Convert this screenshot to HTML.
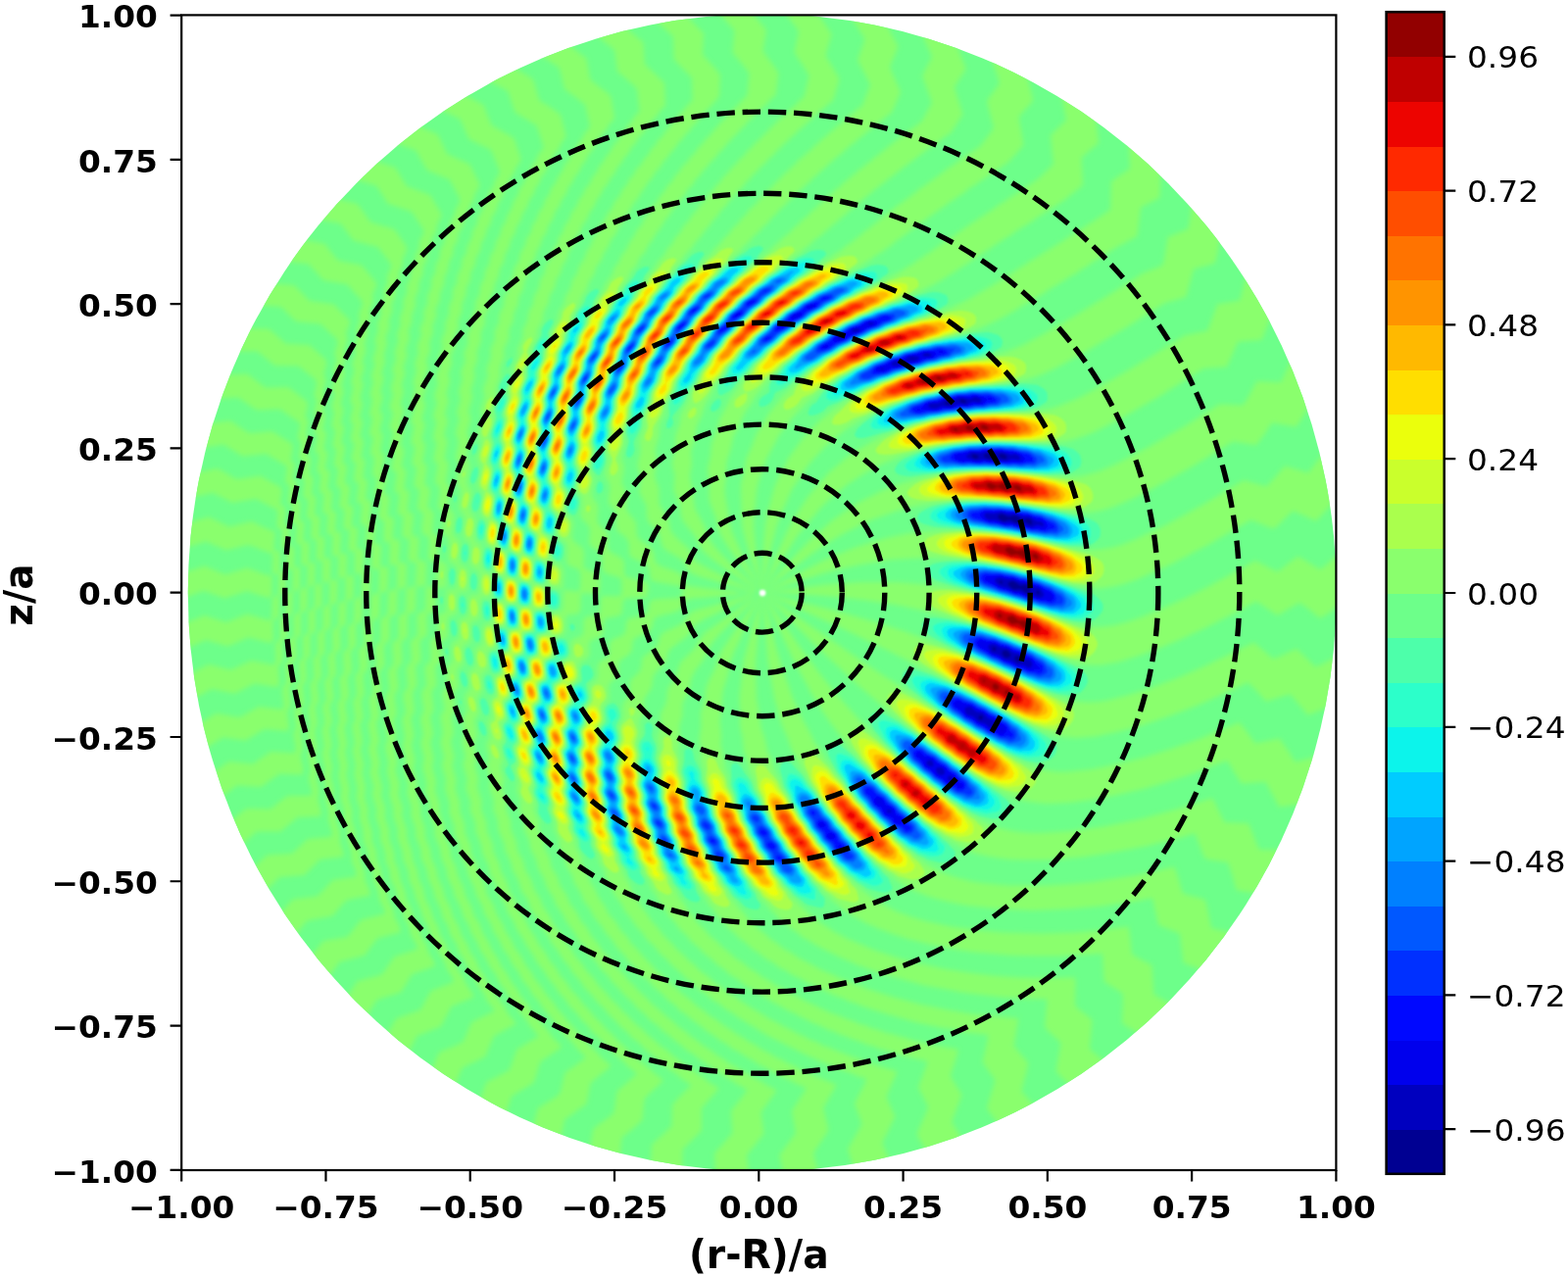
<!DOCTYPE html>
<html lang="en">
<head>
<meta charset="utf-8">
<title>Poloidal mode structure</title>
<style>
html,body{margin:0;padding:0;background:#fff;}
body{width:1600px;height:1302px;overflow:hidden;position:relative;}
svg{position:absolute;left:0;top:0;display:block;}
text{font-family:"DejaVu Sans","Liberation Sans",sans-serif;fill:#000;}
.tk text{font-size:32.8px;font-weight:bold;}
.cb text{font-size:32.8px;}
.lab{font-size:40.3px;font-weight:bold;}
</style>
</head>
<body>
<svg width="1600" height="1302" viewBox="0 0 1600 1302">
<defs>
<clipPath id="ax"><rect x="185.2" y="15.4" width="1178.2" height="1178.6"/></clipPath>
<filter id="wd" x="-1" y="-1" width="3" height="3"><feGaussianBlur stdDeviation="1"/></filter>
<filter id="s0" filterUnits="userSpaceOnUse" x="170" y="0" width="1210" height="1210"><feGaussianBlur stdDeviation="2.8"/></filter>
<filter id="sm" filterUnits="userSpaceOnUse" x="170" y="0" width="1210" height="1210"><feGaussianBlur stdDeviation="0.9"/></filter>
<clipPath id="disc"><ellipse cx="777.8" cy="604.7" rx="586" ry="590.5"/></clipPath>
</defs>

<g clip-path="url(#ax)">
<g clip-path="url(#disc)">
<rect x="180" y="10" width="1190" height="1190" fill="#6dff8a"/>
<g fill-rule="evenodd" stroke="none" filter="url(#s0)">
<path fill="#8aff6d" d="M732 11.5l1.5-1.5 31.5 0 16.5 20 .5 1-3.5 21 16 22.5-3 22.5-7 6-2 3-4 3-3.5 4.5-4 2.5-4 5-3.5 2.5-3.5 5-4 3-3.5 4.5-4 3.5-3 4-4.5 4-3.5 5-4 3-4 6-5 4.5-3 4.5-4.5 4-3 5-4.5 4-2.5 5-5 4.5-3.5 6-5.5 6-2.5 4.5-5 5.5-2.5 5-5.5 6-3 6-5 6-3 6-5 6-2.5 6-6.5 7.5-3 7.5-5.5 6-3 7.5-6 7.5-4 9-6.5 9-3 7.5-6.5 9-3 9-7.5 12-2.5 9-6 10.5-2.5 10.5-6 12-1 10.5-5.5 12-.5 3 .5 7.5-.5 3-4.5 13.5 0 3 1.5 6-.5 3-3 10.5-1 4.5 .5 3 2.5 6 .5 3-3 15 .5 3 4 6 .5 3-2 13.5 .5 3 1 3 6 6 1 3-1.5 13.5 .5 3 2 3 7 4.5 2.5 3 .5 4.5-.5 12 1 3 3 1.5 9 3 2.5 1.5 1 1.5 .5 4.5-.5 10.5-1 3-2 .5-13.5-1-2 .5-1 3 0 12-1 4.5-3 1.5-9.5 1-1.5 1.5-1 17-2 2-7.5 2.5-1.5 1-1 3.5 1 10.5-.5 3-2.5 2.5-6 3.5-1 1.5 1 15-1.5 2.5-4.5 3-1.5 2 0 3 1 12-1 2.5-4 3.5-1 3 2 13.5 0 1.5-4 4.5-.5 1.5 0 3 2.5 10.5-.5 3-3 4.5 0 3 3 10.5-.5 3-2 3 0 3 3 10.5 0 3-1.5 6 4 12-1.5 7.5 5 12-.5 7.5 5.5 12 .5 7.5 5.5 10.5 1.5 9 6.5 10.5 2 7.5 7 10.5 3.5 9 7 9 3.5 7.5 7.5 9 3.5 7 7 8 5 8 7 7 5 7.5 8 7.5 4 5.5 8.5 8 5 6 7 6 6.5 7 6.5 5 5.5 5.5 8.5 6.5 5 5 8 5.5 5.5 5 6 4 6 5 9 5.5 4.5 4 8.5 5 5 4 7 3.5 5 3.5 7.5 4 6 4 7.5 3.5 6 4 7.5 3.5 2 1.5-16 22.5 3 21-.5 1.5-17 21 2.5 21-29.5 0-1.5-1.5-3.5 0-1-21 18.5-21-1.5-22.5 16.5-21-1.5-1.5-9.5-5-5.5-4-6.5-3.5-5-4-7-4-6.5-5-7-4.5-5.5-4.5-8-5-6-5.5-6-4-5-5-7-5-5.5-5.5-8-6-5.5-6-8-6.5-4-5.5-8-6.5-5.5-7-6.5-6-5.5-7.5-7.5-7.5-3.5-6-7.5-8-5.5-8.5-6.5-7.5-4-7.5-7-9-4.5-9-6.5-9-3.5-9-6-9-3-9-6-10.5-2-9-5.5-10.5-1.5-9-5.5-12 .5-7.5-5-12 1-6 0-3-4-12 2-7.5-3.5-10.5 0-3 2-4.5 .5-3-2.5-10.5-.5-3 3-5 .5-2.5-2.5-13.5 1.5-3 3-3 .5-3-2-10.5 0-3 .5-1.5 4.5-4 .5-2-1.5-13.5 1-3 4.5-3 2-3-1-13.5 .5-3 1.5-1.5 6-2.5 1-2 .5-3-.5-12 1-3 2.5-1.5 6-1.5 1.5-1.5 .5-3 0-12 1-4 1.5-.5 9-1 1.5-.5 1-1.5 1-19.5 1-.5 13.5 1.5 1.5 0 1-2.5 .5-13.5-.5-4.5-2.5-2.5-9-3.5-2-1.5-.5-3 .5-12 0-4.5-2-3-6.5-4.5-1.5-2-.5-4 1-10.5 0-4.5-1.5-3-4-4.5-1.5-3 0-4.5 2.5-12-.5-3-3.5-6-1-3 3.5-16.5-3-10.5 .5-4.5 3.5-10.5 0-3-1-6 0-3 5-15-.5-7.5 .5-3 5.5-13.5 .5-7.5 .5-3 6-12 1.5-9 7-12 2-9 6.5-10.5 2.5-9 6.5-9 3-9 6-9 2.5-7.5 6-7.5 2.5-7.5 5.5-7.5 2-6 6-7.5 1.5-4.5 5.5-7.5 2.5-6 5.5-6 2.5-6 5-6 3-6 5.5-6 2-4.5 5.5-6 2.5-5 5.5-5.5 2-4.5 5-4.5 2.5-5 6-5.5 2.5-4.5 5-4.5 3-5 4.5-4 3-4.5 5-4.5 2.5-4 4-3.5 3.5-5 3.5-2.5 4-5.5 4.5-3.5 1.5-2.5 5.5-5 2-3 4-3 2.5-3 2-22.5-17-21 2-22.5zM799 10l23 0 1.5 1.5 9.5 0 14.5 21.5 1 2.5-6 21 14 24-6 21-2.5 3-3.5 2-3.5 4-4 2.5-3 3.5-4.5 3-2 3-5.5 4-3 3.5-4.5 3-2 3-5.5 4-2.5 3.5-5 3.5-3 4-4.5 3.5-3 4-4.5 3.5-3 4-4.5 3.5-4.5 5.5-4.5 3.5-2.5 4-5 4-3 5-5.5 4.5-3 4.5-5 4.5-4 6-5 4.5-2.5 4.5-6 6-2.5 4.5-5.5 5.5-4 6.5-6 6-2.5 4.5-7 7-3.5 6.5-6 6-5 7.5-7 7.5-3 6-8.5 9-4 7.5-7.5 9-4 9-8 10.5-3.5 9-6.5 9-3.5 10.5-6 10.5-2.5 10.5-6.5 13.5-1 10.5-5 12-.5 3 .5 9-4.5 13.5 0 3 2 9-3 12-.5 4.5 3.5 9 .5 3-2 10.5 0 4.5 1 3 4.5 6 1 3-1 12 .5 4.5 2 2.5 7 6.5 1.5 3-.5 12 1 3.5 3 3 8 4 4 3 1 3 0 12 .5 1 1.5 1.5 18 4.5 4 2 .5 3-.5 7.5-.5 3-2 1-4.5 .5-15 .5-2.5 1-1 3-.5 9-1 3-1.5 1.5-2.5 .5-12 2.5-2 3-.5 10.5-.5 3-3 2.5-7.5 2.5-3 2.5-.5 3 .5 9-1 3-1 1.5-7 4-1.5 1.5-.5 3.5 .5 9-.5 3-2 3-4 3-1.5 3 1 13.5-1.5 3-3.5 3-1.5 3 2 13.5-4.5 7.5 0 3 2 10.5-.5 3-2 3-1 3 3 12-2.5 9 3.5 12-1.5 7.5 3.5 12-1 7.5 4.5 10.5-.5 7.5 4.5 10.5 .5 7.5 5.5 10.5 1 7.5 5 9 3 9 6 9 3 7.5 6.5 9 3.5 7.5 8 9 4 7.5 7.5 7.5 3.5 6 7.5 7.5 5.5 7 7 6.5 5 6 9 7.5 6 6.5 7 5.5 5 5 7.5 5.5 7.5 7 5.5 3.5 6.5 5.5 8 5 7 5.5 6 3.5 7.5 5.5 6.5 3.5 5.5 4 7 3.5 8 5.5 7.5 3.5 6 4 5.5 2 6.5 4 8.5 3.5 3.5 2.5 9.5 3.5 4 2.5 23.5 9.5-1 3.5-12 20.5 5.5 22.5-15.5 24 5.5 21-13.5 0-1.5 1.5-21 0-4-21 16.5-22.5-4-22.5 14.5-22.5-1-1.5-8.5-3.5-7.5-4-6-2.5-5.5-3.5-8-3.5-3.5-2.5-8.5-4-5-3.5-10-5.5-5-3.5-7-3.5-4.5-4-9-5-4.5-4-7.5-4.5-7-6-8-5.5-5.5-5-8-5.5-4.5-5-7.5-5.5-6-6.5-7.5-6-5-6-7-5.5-6.5-8-7-6.5-5-7-7.5-7.5-4.5-7.5-7-7.5-4.5-7.5-7.5-9-4.5-9-6-7.5-2.5-7.5-7-10.5-2-7.5-6.5-10.5-1.5-9-5-9-.5-7.5-5-12 .5-7.5-4.5-10.5 0-3 1-3 0-3-4-10.5 .5-3 1.5-3 0-3-3-9-.5-3 2.5-7.5-3-12 .5-3 2.5-3.5 .5-2.5-2-13.5 0-1.5 4-4.5 .5-3-2-10.5 0-3 1-1.5 4-4 1-2 0-3-1.5-9 .5-3 1.5-2 5-4 1-1.5 0-3-.5-10.5 .5-2.5 2-2 5.5-3 1.5-1.5 .5-3-.5-10.5 1-3 2-1.5 7.5-2.5 2-2 1-3 0-11 1.5-3.5 3-1 8-1 3-1.5 1.5-3 .5-12 .5-3 3-.5 15 .5 2.5-1.5 .5-3 0-9-.5-4.5-2.5-1.5-13.5-4-2.5-2-1-3 0-13.5-1.5-3-8.5-5-2.5-2.5-1-3 1-10.5-.5-4.5-2-3-5.5-5.5-1.5-3.5 1.5-15-.5-3-4-6-1.5-3 0-3 3-13.5-1-3-2.5-6-.5-3 4-15-1.5-9 0-3 4.5-12 .5-3-.5-9 5.5-13.5 1-10.5 6-12 3-12 6-10.5 2.5-9 7-10.5 4.5-10.5 6.5-9 3.5-7.5 7-9 4.5-9 6.5-7.5 4-7.5 6.5-7.5 2.5-6 7-7.5 3-6 5.5-6 3-6 5.5-6 3-6 6-6 2-4.5 6-6 2.5-4.5 6-6 2.5-4.5 5-4.5 3-5 4.5-4 3-5 6-5.5 3-4.5 4-3 3.5-5 5-4 2.5-4 4.5-3.5 3-4 6-5 3-4 4.5-3.5 3-4 4.5-3.5 3-4 3.5-2 2.5-3.5 5.5-4 2-3 4.5-3 3-4 3-2 3-3 5-21-2-4-13-20 4.5-21-.5-1.5zM693 14.5l6 0 19 19.5-1 21 .5 1.5 13 14 4.5 6-1 22-2 3-4.5 4-2.5 3.5-5 4.5-1.5 3-4.5 3.5-3.5 5.5-4 3.5-2.5 4-5 4.5-2.5 4.5-5 4.5-2.5 4.5-5 5-3.5 5.5-4.5 4.5-2 4.5-6 6-2 4.5-5.5 6-2 4.5-4.5 5-2.5 5.5-5.5 6-2.5 6-5 6-2.5 6-5 6-2 6-6 7.5-2 6-5.5 7.5-1.5 6-5.5 7.5-2.5 7.5-5 7.5-2 7.5-5 7.5-3 9-5.5 9-2.5 9-6 10.5-2 9-5.5 10.5-2 10.5-6 12-1 10.5-5.5 13.5 0 10.5-4 10.5-1 4.5 1.5 7.5 0 3-3.5 10.5-1 4.5 2.5 10.5-3 16.5 .5 3 3.5 6 0 3-2 12-.5 4.5 1.5 3 4 4.5 1 3-1.5 18 1.5 3 6 4.5 2 3 0 4.5-1 12 .5 3 2 2 8.5 4 1.5 1.5 1 3-.5 18-1.5 1.5-13.5-2.5-1.5-.5 1-18-.5-4.5-2-2.5-7.5-3.5-2-3 1-16.5-.5-3-1.5-2.5-4.5-4-2-2.5 0-4.5 1.5-10.5 0-4.5-1.5-3-3.5-4.5-1-3 2.5-16.5 0-3-4-7.5 .5-4.5 3.5-13.5-2.5-7.5 0-3 4-15-1-10.5 5-15-.5-7.5 .5-3 5-12 1-10.5 5.5-12 1-9 6.5-12 .5-7.5 6.5-12 1-7.5 5.5-9 1.5-7.5 5.5-9 1.5-7.5 5-7.5 1.5-6 6-9 1.5-6 5-7.5 2-6 5.5-7.5 2-6 4.5-6 2.5-6 5-6 2-6 5.5-6 2.5-6 5-6 2.5-5.5 5-5 1.5-4.5 6-6 2-4.5 4.5-4.5 3.5-6.5 4.5-4 2-4.5 5-4.5 2.5-4.5 4.5-4.5 2.5-4.5 5-4.5 2.5-4 5-5 2.5-4 5.5-5 .5-1.5-.5-21-.5-1.5-17.5-18-.5-1.5-.5-21-1.5-2.5-18-16.5 0-.5 6 0 1.5-1.5 7.5 0 1.5-1.5 7.5 0zM868 16l3.5 0 1.5 1.5 7.5 0 1.5 1.5 6 0 1.5 1.5 6 0 1.5 1.5 6 0 13.5 25.5-8.5 21 11 25.5-9 21-5.5 3.5-4 4-3.5 2-2 2.5-4 2.5-3.5 3.5-4 2.5-3.5 3.5-4 2.5-3 3.5-4.5 2.5-3 3.5-4.5 3-2.5 3-5 3.5-4 4-3.5 2.5-3 3.5-6 4.5-2.5 3-5 3.5-3 4-4.5 3-4 4.5-5 4-2.5 3.5-6 4.5-3.5 4.5-4.5 3.5-4.5 5.5-4.5 3.5-4 5.5-5 4-4 5-5.5 4.5-4.5 6-5.5 4-5 6.5-6 4.5-5 6-7 6-5 6-8 7-5 6.5-8 7.5-5.5 7.5-7.5 7.5-6 9-7 7.5-4.5 9-7.5 9-4.5 10.5-6.5 9-3.5 10.5-7 12-2 10.5-6 12-1 12-4.5 12 .5 12-3.5 13.5 0 3 2.5 7.5 .5 3-2.5 13.5 .5 3 4 7.5 1 3-1 12 .5 3 1.5 3 6.5 7.5 1.5 3 1 13.5 2.5 3.5 10 7 3 3 1.5 3 1.5 9 2 3 4.5 2.5 14.5 5 5.5 3 2 3 2 7.5 1.5 1 21 3 9 .5 7.5 1 10 .5 5 1.5 13.5 0 .5-1.5-5 0-1-1.5-5 0-.5-1.5-4 0-1.5-.5 0-1-4.5 0-1.5-1.5-4.5-.5-1-1-3.5 0-1.5-.5-.5-1-4-.5-1.5-1-3-.5-2-1-4-.5-1.5-1-3-.5-7.5-3-3-2-1.5-2-2.5-6-2-3-4-3-14-8-3.5-4-3.5-13.5-2.5-3-7-7-2.5-3.5-.5-3-.5-12-5.5-10-1.5-3.5 0-3 1.5-12-3-9-.5-4.5 3-13.5-1-12 4.5-12 0-10.5 1-3 5.5-12 2-10.5 6-10.5 3.5-10.5 7.5-10.5 3.5-9 7.5-9 5-9 8-9 5-7.5 8-7.5 5.5-7.5 8.5-7.5 6-7 8-6.5 5.5-6 8-6 5.5-5.5 6.5-5 5.5-5.5 6.5-5 4-4.5 6-4.5 4.5-5 5.5-4 5-5.5 4.5-3.5 4.5-5 5.5-4 3.5-4.5 4.5-3 3-4 5-3.5 4-4.5 4.5-3 3-3.5 5.5-4 3.5-4 3.5-2 4-4 5-3.5 2.5-3 5-3 2.5-3 5-3 4-4 3.5-2 4-4 3.5-2 2.5-3 5-3 2.5-2.5 5.5-3.5 2-2.5 4-2 3.5-3.5 4-2.5 2-2 6-4 10.5-19.5-10-27 10-19.5-2.5-6-9-19.5 4 0 1.5 1.5 4.5 0 1.5 1.5 3 0 1.5 1.5 3 0 1.5 1.5 3 0 1.5 1.5 3 0 1.5 1.5 3 0 1.5 1.5 1.5 0 10.5 26.5-.5 2-10 15.5-1 2.5 8.5 27-11.5 18-1 1.5-5.5 3-9 7.5-4.5 2.5-2 2-5.5 3.5-2.5 2.5-3.5 2-2.5 2.5-5 3-3 3-4.5 2.5-3.5 3.5-4 2.5-3.5 3.5-4 2-4 4-3.5 2-4 4-3.5 2-4 4-3.5 2-4 4-5 3.5-3.5 4-5.5 3.5-3.5 4-4 2.5-5 5-4 2.5-4.5 5-4.5 3-4.5 4.5-6 4-4.5 5-6 4-3.5 3.5-7 4.5-6.5 6-7 4.5-5 4.5-8.5 5.5-5 5-9 6-5.5 6-9 6.5-6 7-7.5 6-6 7.5-8 7.5-6.5 9-7 7.5-5 9-7.5 9-4.5 10.5-6.5 9-3 10.5-6 10.5-1.5 3-1 9-5.5 12-.5 12-4 13.5 2 13.5-2.5 13.5 1 4 3.5 9.5 0 13.5 1.5 4.5 8 12 2 11 1.5 3.5 3 3.5 13.5 12 2 3 4 8 3 3.5 13.5 7.5 7.5 3.5 1.5 1 1.5 .5 1.5 1 2 .5 1 1 2 .5 1 1 2 .5 1 1 2.5 .5 .5 1 2.5 .5 .5 1 3 .5 1.5 1.5 1.5 0 1.5 1.5 2 0 1 1.5 2 0 1 1.5 3 0 0-1.5-1.5-1.5-1.5 0-3-3-1.5 0-3-3-1.5-.5-3-2.5-1.5-.5-21-15-7.5-6-6-5.5-8-15-10-12.5-2.5-4-1.5-4.5-1-10.5-5.5-12-1-4.5 1-13.5-2.5-10.5 0-4.5 3-12 0-13.5 4.5-12 1.5-10.5 6.5-12 2.5-9 1-3 6.5-9 3.5-9 8-10 5.5-9.5 7.5-7.5 5-7.5 9-8.5 5-6.5 9.5-7.5 5.5-6 8.5-6.5 6-5.5 9.5-6 5.5-5 9-5.5 6-4.5 8-4.5 5.5-4.5 8-4.5 4-3.5 7-4 5-4.5 5.5-3 5-4.5 7-4.5 3.5-3.5 4-2.5 5-5 4.5-2.5 3-3 6.5-4.5 2.5-3 5-3 4-4 3.5-2 4-4 4-2 3.5-3.5 4.5-2.5 4.5-4 3.5-2 4-4 4-2 2-2 4-2.5 5-4 3.5-2 2.5-2.5 3.5-2 4-3.5 4.5-2.5 3-2.5 3.5-2 2.5-2.5 4-2 3.5-3 11.5-7.5 13.5-18 0-3-6.5-25.5 13-18-8.5-27 2.5 0 1.5 1.5 1.5 0 1.5 1.5 1.5 0 1.5 1.5 1.5 0 1.5 1.5 3 0 1.5 1.5 1.5 0 1.5 1.5 1.5 0 1.5 1.5 1.5 0 1.5 1.5 1.5 0 1.5 1.5 1.5 0 1.5 1.5 1.5 0 2 3 6.5 25.5 0 1.5-14.5 16.5 5 28.5-16 18-4 2-2.5 2.5-11 6.5-2.5 2.5-3.5 2-3 2.5-4.5 2.5-2 2-4 2-11 8.5-4 2-2.5 2.5-5 2.5-3.5 3.5-4 2-2.5 2.5-5 3-3.5 3-4 2.5-4 3.5-5 3-3.5 3-4 2.5-4 3.5-5 3-3 3-4.5 2.5-3.5 3.5-7 4.5-3.5 3-5.5 3-5.5 4.5-5 2.5-4.5 3.5-7.5 4-5 3.5-7 3.5-6 4-7.5 3.5-6 4-9 4.5-6 4.5-9 5-7 5.5-8 4.5-6.5 6-9 6-7 7-8 6.5-6.5 7.5-8 7.5-5.5 7.5-8 9-5 9-7.5 9-4 10-6.5 9.5-3.5 12-5 10.5-2 13.5-4 12 1 13.5-2 10.5 0 4.5 3.5 13.5 1 12 1 5.5 8.5 15.5 5 13 3 5.5 6 7.5 7.5 8 32 30.5-.5 1.5-3 0 1.5 1.5 1.5 0 0-1.5 1.5 0 0 1.5-1.5 0 0 1.5-3.5 0 .5 1.5-13.5 0-1.5 .5-.5 1-11.5 .5-4 1-9.5 .5-8.5 1-11 .5-7.5 1.5-1.5 1.5-2 5.5-2.5 3-7 3-11 2.5-7.5 2.5-2 2.5-1.5 7.5-1.5 3-4.5 3-11.5 5-1.5 1.5-1 2.5-.5 7.5-1 3-3 3-6.5 4-2 2-1.5 3 0 9-.5 3-2.5 3-5.5 4.5-1 1.5-.5 3 .5 10.5-1 3-4.5 4.5-1 3 1.5 12-1 3-4 6 0 3 2 10.5-3.5 9 3 12-2.5 9 3 10.5 0 3-1 6 3.5 10.5-.5 9 4 9 .5 3-.5 6 4.5 9 .5 9 5 9 1 7.5 4.5 7.5 2 7.5 5.5 9 2.5 7.5 6 7.5 3 7.5 6.5 7.5 4.5 7.5 7 7.5 4.5 6.5 7.5 7 5 6 8.5 7.5 4.5 5 7 5.5 6.5 6.5 8 5.5 5.5 5.5 8 5 5.5 5 9.5 5.5 4 3.5 30 18.5 7.5 3.5 6 4 5 2 10 5.5 5.5 2 6.5 4 6.5 2 7 4 7 2 5 2.5 40.5 15 23 6.5-2 5.5-9 20 1.5 4.5 7.5 16.5-13 25.5 1 4.5 7 16.5-4 0-1.5 1.5-6 0-1.5 1.5-6 0-1.5 1.5-6 0-1.5 1.5-7.5 0-1.5 1.5-6.5-21 14.5-25.5-7.5-21 12-24-.5-1.5-7.5-2-9-4-7.5-2.5-4.5-2-6-2-28.5-12.5-37.5-19-30-18.5-4.5-3.5-9-5.5-6-5-7.5-4.5-4.5-4.5-9-6-6-6-7.5-5.5-4.5-5-9-7.5-5-6-7-6-6-7.5-7.5-7-4.5-6.5-7-7.5-4.5-7.5-6.5-7.5-3.5-7.5-7-9-2.5-7.5-6-9-1.5-7.5-5.5-9-1-7.5-5-9-.5-9-4.5-9 .5-6-.5-3-4-9 1-9-4-10.5 1.5-6 0-3-3-10.5 2.5-9-3-12 3.5-9-2.5-10.5 .5-3 3.5-6 1-3-1.5-12 1-3 4-4.5 1.5-3-1-12.5 1.5-3 5.5-4 1.5-3 0-10.5 .5-3.5 2.5-2.5 5.5-3 3-3 .5-3 0-7.5 .5-3 3-3 8.5-3 3.5-3 1-3 .5-7.5 1.5-3.5 3-1.5 12.5-2.5 3.5-1.5 2-3 1.5-9 1.5-2 4.5-1 23.5-1.5 3-1.5 1.5-4.5-.5-3-.5-1.5-2-1.5-23.5-4-6-2-1-3-1-9-1.5-3-5.5-3-9-4-3-2-1.5-3.5-.5-11.5-3-4.5-7-5.5-2-2-1-4.5 .5-9 0-3-1.5-3-5-6-1.5-3 0-4.5 1.5-10.5-.5-3-3.5-7.5-1-3 3-15-2-9 0-3 4-13.5-.5-12 5-12 1-12 6-12 2.5-10.5 7-12 3.5-10.5 6-9 4-9 8-10.5 3.5-7.5 8-9 5.5-9 7-7.5 5-7.5 8-7.5 4.5-7 7-6.5 5-7 6-5 4-6 6.5-6 3-4.5 6.5-6 2.5-4.5 6.5-6 3-4.5 5-4.5 3.5-5 6.5-5.5 2.5-4 4.5-3.5 4.5-6 4-3 3.5-4.5 5.5-4.5 3.5-4.5 4-3 3.5-4 4.5-3.5 3-4 5-3.5 2.5-3 6-4.5 3-4 3.5-2 4-4.5 4.5-3 3-3.5 4-2.5 3.5-4 3.5-2 4-4 3-2 3-3.5 4.5-2.5 3-3.5 4-2.5 1.5-1.5 8-21-13-25.5 7.5-21zM633 26.5l4.5 .5 18 15.5 1 2 1.5 21 18.5 17.5 1.5 2 1 21-1 3-4.5 4-3 5-4.5 4.5-2.5 4.5-5 5-2 4-4 3.5-3 5.5-5.5 6-2 4.5-5.5 6-2 4.5-4.5 5-2.5 5.5-5 6-2 4.5-5 6-2.5 6-4.5 6-2.5 6-4.5 6-2 6-5.5 7.5-2 6-4.5 6-2.5 7.5-5 7.5-1 6-5 7.5-2 7.5-4.5 7.5-1.5 7.5-5.5 9-.5 6-5.5 10.5-.5 7.5-5.5 10.5-.5 7.5-5.5 10.5-.5 3 0 6-6 13.5 0 9-5.5 13.5 .5 9-5 15 1.5 7.5-.5 3-4 15 2 10.5-3.5 16.5 .5 3 2.5 4.5 1 3-2.5 13.5-.5 4.5 1.5 3 3.5 4.5 .5 3-2 18 1.5 3 5.5 4.5 1 3-1 15 0 4.5 2.5 2.5 6.5 3.5 1.5 3 0 21 1 1.5 13 3 .5 1.5 0 18-1.5 3.5-1.5 1-9 .5-1.5 1-.5 3 .5 13.5-1 3-2 1.5-6 1-1.5 1-1 4 1 10.5-.5 4.5-1.5 1.5-5.5 2-1.5 2.5 1 13.5-.5 3-1 1.5-5 3-1 1.5 0 3 1.5 10.5 0 3-1 1.5-3.5 3-1.5 3 2 13.5-1 3-3 3-.5 1.5 0 3 2.5 12-1 2.5-2.5 3.5 0 1.5 3 13.5-.5 2.5-2.5 5 4 13.5-2 7.5 .5 3 4 10.5-.5 9 4.5 12 .5 9 5.5 12 1 9 6 10.5 2 9 6 10.5 3 9 6.5 10.5 2.5 7.5 7.5 10.5 3 7.5 7 9 4 7.5 7.5 9 4 7.5 7 7.5 4.5 7 7.5 8 4.5 6.5 7 7 6.5 8 6 5.5 4.5 5.5 7.5 6.5 6 7 6.5 5 5.5 5.5 8 6.5 5.5 5.5 7.5 5 6 5.5 5 3.5 8.5 7 6 3.5 4.5 4 8 5 4 3.5 9.5 5.5 1 1.5-17.5 19.5 0 22.5-.5 1-18.5 18.5-.5 1.5 0 21-2 0-1.5-1.5-9 0-1.5-1.5-7.5 0-1.5-1.5-6 0-1.5-1.5-2 0 1-21 19-17.5 1.5-2 .5-21 1-1.5 16.5-17 1-1 0-1.5-10-6.5-4-4-8-5-5.5-5.5-5-3.5-8-7-7-5.5-4.5-5-7.5-5.5-4-5-8-6.5-4.5-5.5-7.5-7-5-6.5-7-6.5-5.5-7-6.5-6.5-4.5-7-7.5-8-4-7-6.5-7.5-4.5-7.5-7-9-3.5-7.5-8-10.5-3-7.5-6.5-9-3-9-7-10.5-2.5-9-6.5-12-1.5-7.5-6-12-1-7.5-6-13.5-.5-9-4.5-12 .5-9-4.5-13.5 1-6 0-3-3-10.5-.5-3 2.5-7.5-3-12 0-3 3-4.5 .5-3-2.5-13.5 .5-2 3-3 1-2.5-2-15 1-2 4.5-4 .5-1.5-1.5-13.5 .5-3 1-1.5 4-2 1.5-2.5-.5-16.5 .5-1.5 6-2.5 1.5-2 0-18 1.5-1.5 7-1.5 1.5-1.5 .5-3 0-12 .5-4.5 1-1 1.5-.5 8 0 1.5-1.5 .5-3 0-18-1-1.5-10.5-3-1.5-1.5 .5-19.5-.5-3-1.5-2-6.5-4-1.5-1.5-.5-4.5 1.5-12 0-4.5-2-3-3.5-3-1.5-3 0-4.5 1.5-10.5 0-4.5-1-3-4-6 0-4.5 3-13.5-.5-3-2.5-4.5-.5-3 .5-4.5 3-12 0-3-2-4.5-.5-3 4.5-15 0-3-1-4.5-.5-3 5-13.5-.5-10.5 5-12 0-3-.5-6 5-12 .5-9 5-10.5 0-7.5 5-10.5 .5-7.5 5-9 1-7.5 5-9 1-7.5 4.5-7.5 1.5-7.5 5-7.5 1-6 5.5-9 1.5-6 4.5-6 1.5-6 5.5-7.5 1.5-6 5-6 2-6 5.5-7.5 1.5-4.5 5-6 2.5-6.5 5-5.5 1.5-4.5 5-6 2-4.5 5-6 2.5-5 5-5.5 2.5-5 4-4 3.5-6 4-4.5 2-4 6-6.5-2.5-22.5-5-5.5-15-12.5-3-22-21-17 4.5 0 1.5-1.5 3 0 1.5-1.5 4.5 0 1.5-1.5 3 0 1.5-1.5 4.5 0zM576 44.5l3 .5 19.5 14.5 3.5 21 1 1.5 16.5 12.5 4 4 3.5 21-1 3-5 5-1.5 4-5.5 6-2 4.5-4.5 5-2.5 5.5-5 6-1.5 4.5-5 6-2.5 6-4.5 5.5-2 5-4.5 6-2 6-5.5 7.5-1 4.5-5.5 7.5-1.5 6-5 7.5-1.5 6-5 7.5-1.5 6-4.5 7.5-1 6-5.5 9-.5 6-5 9-.5 4.5-.5 3-5 9 0 6-5 10.5 0 4.5-.5 3-4.5 9 .5 7.5-5.5 12 .5 7.5-4.5 12 .5 7.5-4.5 13.5 1 6 0 3-4.5 13.5 0 3 1.5 4.5 0 3-4 13.5 0 3 2 4.5 0 3-3.5 16.5 .5 3 2.5 4.5 .5 3-3 16.5 .5 3 3.5 4.5 1 3-2 15 0 4.5 .5 1.5 5 4.5 1 3-1 19.5 1.5 3 5.5 3 2 3-1 19.5 .5 3 2.5 1.5 8 2.5 1.5 1.5 0 19-.5 2.5-1 1.5-9 0-1.5 1-.5 20-1 1.5-7.5 1.5-1.5 1.5 0 18.5-1.5 2-6 2-.5 1.5 .5 16.5-1.5 3-3.5 1.5-1.5 1.5-.5 3 1.5 13.5-.5 2-4.5 4-.5 1.5 2 15-1 3-3 3-.5 1.5 0 3 2.5 12-1 3-2.5 4.5 0 3 3 12-2 9 3.5 13.5-1 9 4.5 13.5-.5 9 5.5 13.5 .5 9 5.5 12 1 9 6 12 1.5 7.5 6.5 12 2.5 9 6.5 10.5 2.5 7.5 7 10.5 4 9 6.5 9 3.5 7.5 7 9 4 7.5 6.5 7.5 4 7.5 7 7.5 5 8 7 7 5 7 6.5 6.5 4 5.5 7 6.5 5 6 8.5 7.5 5 6 7 6 3.5 4 8.5 6.5 5 5.5 7 5 5 5 9.5 7-2 2.5-16.5 15.5-1 1.5-2 21.5-10.5 9.5-10.5 8-2 21-4 0-1.5-1.5-4.5 0-1.5-1.5-4.5 0-1.5-1.5-3 0-1.5-1.5-3 0-1.5-1.5-4.5 0 3.5-21 .5-1.5 17-12.5 4-4 3-21 1-1.5 19.5-16.5-3-3-6.5-5-5-5.5-7-5.5-4-5-8-6.5-4-5.5-8-7-5-6.5-7-7-3.5-5-7-7-5.5-8-6.5-7-4-6.5-7.5-9-3.5-6-7-9-4-7.5-6.5-9-3.5-7.5-6.5-9-3.5-9-6-9-3-9-7-12-2-7.5-6-10.5-1.5-9-6-12-1.5-9-5.5-13.5-.5-9-5.5-13.5 1-6-.5-3-4.5-12 0-3 1-4.5 0-3-3-10.5-1-4.5 2-6 0-3-3-13.5 .5-3 2-3 .5-3-2.5-15 .5-1.5 3-3.5 1-2.5-2-13.5 0-3 1-1.5 3.5-3 1-1.5-1.5-15 .5-3 1-1 4-2 1-1.5 .5-3-1-15 1.5-2 6-2 .5-2 0-18 1-1.5 7.5-1.5 1-1.5 .5-19.5 1.5-2 9 .5 1-1.5 .5-3 0-18.5-1.5-1.5-9-4-1-3 1-19.5-1.5-2.5-5-3.5-2-3 1.5-19.5-1.5-3-4.5-4.5-.5-1.5 0-4.5 2-15-1-3-3.5-4.5-.5-3 3-16.5-.5-3-2.5-4.5-.5-3 4-15-.5-3-2.5-6 .5-3 4-13.5-2-7.5 1-4.5 3-9 0-3-1.5-6 5-13.5-1.5-7.5 4.5-12-.5-7.5 4.5-10.5-.5-7.5 5-10.5-.5-6 5-10.5 .5-7.5 4.5-9 .5-6 4.5-9 .5-6 5.5-9 .5-6 5.5-9 1-6 5-7.5 1-6 5-7.5 1.5-6 4.5-6 1.5-6 5.5-7.5 1-4.5 5.5-7.5 1.5-4.5 5.5-7.5 1.5-5 4.5-5.5 1.5-4.5 5-6 2.5-5.5 4.5-5 1.5-4.5 5-6 1.5-3-5-22-21-15.5-5-21-2.5-2.5-19.5-12.5 1.5 0 1.5-1.5 3 0 1.5-1.5 1.5 0 1.5-1.5 3 0 1.5-1.5 1.5 0 1.5-1.5 3 0 1.5-1.5 3 0zM519 68.5l1.5 0 1.5-1 21 12.5 1.5 2 5.5 19.5 1 1.5 8.5 5 12 8.5 1.5 3.5 4.5 19-1.5 3-3.5 4.5-2.5 6-4.5 5-2 5.5-4.5 6-2 6-5 6-1 4.5-5 7.5-1 4.5-5.5 7.5-1.5 6-5 7.5-1.5 6-4.5 7.5-1.5 6-4.5 7.5-1 6-5 9-.5 6-5 9-.5 6-4.5 9-.5 6-4.5 9 0 7.5-5 10.5 .5 6-4.5 10.5 .5 7.5-4 10.5-.5 3 1 4.5-4 12 1 7.5-4 13.5 1.5 4.5 0 3-4 13.5 2.5 7.5-4 15 1 3 1.5 3 .5 3-3 12-.5 4.5 3.5 6 0 3-3 16.5 1 3 2.5 3 1.5 3-2 15 0 4.5 .5 1.5 4.5 4.5 1 3-1.5 19.5 2 3 4.5 3 1.5 3-1 21 1 1.5 1.5 1 7.5 3 1 2-.5 19.5-.5 2.5-1.5 1-7.5-1-1.5 .5-.5 3-.5 18-.5 1.5-1.5 .5-6.5 1-1 3 .5 13.5-.5 4.5-1.5 1.5-4.5 1-1.5 2 .5 18-1 1.5-5 3-.5 1.5 1.5 16.5-1.5 3-3 2.5-1 2 2 16.5-1 3-2.5 3-.5 1.5 2.5 16.5-1 3-1.5 3-.5 3 3.5 15-2 9 4 15-1 9 4.5 13.5 0 9 5 13.5 .5 9 6 13.5 0 6 1.5 4.5 5.5 10.5 1 7.5 6.5 12 2 9 6.5 10.5 3 9 6.5 10.5 2 6 7 10.5 3 7.5 7 9 4.5 9 6 7.5 3 6 7.5 9 4.5 7.5 7 7.5 4 6.5 6.5 7 4 5.5 7.5 8 4.5 6 6.5 6 5.5 7 6 5 4.5 5.5 8 6.5 1.5 3-20.5 16.5-4 21.5-22.5 16-4 21-2-1.5-1.5 0-1.5-1.5-3 0-1.5-1.5-3 0-1.5-1.5-1.5 0-1.5-1.5-1.5 0-1.5-1.5-3 0-1.5-1.5-1.5 0-1.5-1.5-1 0 5-19.5 .5-1.5 18-11 4.5-4 5-21 20.5-14.5 0-2-9-9-4.5-6-6-5.5-4.5-6.5-7.5-8-3.5-5.5-7-7.5-4.5-7.5-7-7.5-3-6-7.5-9-3.5-7.5-7-9-3.5-7.5-5.5-7.5-3-7.5-7-10.5-2.5-7.5-6.5-10.5-2-7.5-6-10.5-2.5-9-6-12-2-9-5.5-12-1-9-5.5-12-.5-9-5-13.5 .5-9-5-15 1-9-4-15 2-9-3.5-15 2.5-9-2.5-16.5 1-3 2.5-3 .5-3-2.5-15 1-3 3.5-3 1-3-1.5-13.5 .5-4.5 5-3.5 1-2.5-1-15 .5-3 1.5-1.5 4.5-1.5 1.5-1.5 0-19.5 1-1.5 6-.5 1.5-1 .5-1.5 1-21 1.5-.5 7.5 1 1.5-2 0-1.5 .5-19.5-.5-1.5-1.5-1.5-6-2.5-2-2 1-21-1.5-3-4.5-3-2-3 2-19.5-1.5-3-4.5-4.5 0-4.5 2-15-1-3-2.5-3-1-3 2.5-16.5-.5-3-2.5-3-.5-3 3-15-.5-3-2.5-4.5 .5-4.5 3-10.5-.5-3-2-4.5 4-13.5-.5-3-1.5-4.5 4-13.5-2-6 4.5-12 0-3-1.5-4.5 4.5-10.5 0-3-1-4.5 4.5-10.5 .5-1.5-1-6 5-10.5-.5-6 4.5-9 .5-7.5 4.5-9 .5-6 4.5-9 .5-6 5-9 1-6 4.5-7.5 1.5-7.5 4-6 1.5-6 4.5-7.5 1.5-6 5-7.5 1.5-6 4.5-6 2-6 4.5-6 1-4.5 5.5-7.5 1-4.5 5-6 1-3-7-21.5-21.5-13-1.5-3-5.5-17-1.5-2.5-15-8-2.5-1-.5-1-2-.5-1-1 0-.5 1.5 0 1.5-1.5 1.5 0 3-3 1.5 0 1.5-1.5 1.5 0 1.5-1.5 1.5 0 1.5-1.5 1.5 0 1.5-1.5 1.5 0zM1082.5 94l3.5 3 1.5 0 1.5 1.5 1.5 0 3 3 1.5 0 3 3 1.5 0 3 3 1.5 0 3 3 1.5 0 3 3 1.5 0 3 3 1.5 0 3.5 28.5-.5 1.5-16.5 13.5-.5 1.5 1.5 27-1 1.5-19 15-2 1-9.5 6.5-4 2-3 2.5-10.5 6.5-3 2.5-18 11-3 2.5-10.5 6.5-3.5 2.5-4 2-2.5 2.5-5 2.5-20 14-4 2-3 2.5-19 12-19.5 10.5-12.5 5.5-36 14-30 13.5-7.5 4.5-9 4.5-7.5 5-9 5-6 5-9 6-7.5 7-7 5-8 9-7 6-6.5 9-7.5 8.5-5.5 9.5-6.5 9-4.5 11.5-6 11-3 14-3.5 10-1 4.5 0 12-1.5 12 0 6 3.5 19.5 1 7.5 3 12.5 13.5 29.5 13.5 25 1.5-1 0-1.5-1.5-1.5-.5-3-1-1-.5-3.5-1-1-4.5-14-6-21-3-13-1.5-33.5 0-9 3.5-13.5 2-13.5 5.5-12 5-13.5 6.5-9.5 6.5-11.5 6.5-7.5 6.5-9 7.5-7 7.5-8 7.5-6 6.5-6 10-6.5 7-5.5 8-4 7.5-5 16.5-8.5 15-6.5 16.5-6.5 50.5-16 11.5-4.5 20.5-10 33.5-20 19-12.5 4.5-2.5 3-2.5 11.5-6.5 2-2 5-2.5 2.5-2 16.5-10 3-2.5 4-2 2-2 9.5-5.5 2.5-2 4.5-2.5 20-13.5 1-29 19-13-1.5-28.5 3.5 3 1.5 0 9 9 1.5 0 15 15 1.5 0 1 1.5-1 28.5-.5 1.5-19 9.5-3.5 29.5-25 13.5-15.5 10.5-2.5 1-9.5 6.5-4 2-3 2.5-31.5 19-2.5 2-32.5 19.5-16 9-20.5 9-11 3.5-49.5 12-16.5 5-16.5 5.5-15 6-17.5 8.5-15.5 9-17.5 12-15.5 13-6 7-8.5 8.5-14.5 19.5-12 22.5-9 25.5-1.5 9-3 31.5 .5 9 3 27.5 3 20.5 1 4.5 .5 1.5-1 1.5-.5 0 0 1.5-1.5 .5-1.5-2-.5-1.5-5.5-6-12-16-12-17-6-9.5-3-7-3.5-13.5-5.5-14.5-1-5 0-15-1.5-15 3-13.5 1-12 5.5-13.5 3-12 6-10.5 4.5-10.5 7-9 5-9 8-8.5 5.5-8 8.5-7.5 6.5-7.5 8-6 6-6 9-6 7-6 9.5-5.5 6-4.5 9-5 7-4.5 29-14.5 21-9.5 24.5-13.5 4-3 6-3 3-3 6-3 3-3 5.5-3 3.5-3 5-3 2.5-2.5 4-2 5-4 4-2 3.5-3 5-3 2.5-2.5 4-2 3.5-3 5.5-3 2-2 4.5-2.5 3-2.5 4-2 9.5-7 3.5-2 10-7 4-2 9.5-7 4-2 2-2 6.5-4 15.5-15-3-28.5 .5-1.5 15.5-15zM468 97l1.5 0 1.5-1.5 1.5 .5 21 11 7.5 20 1.5 1.5 21 11.5 1.5 2.5 6.5 19-.5 3-5 7.5-1.5 4.5-4 6-2 6-5 7.5-.5 4.5-5 7.5-1 6-5 7.5-1 6-4.5 7.5-1 6-4.5 7.5-.5 6-5 9-.5 6-4.5 9-.5 7.5-4 7.5-.5 7.5-4 9 0 7.5-4.5 10.5 1 6-4.5 10.5 1 7.5-4 10.5-.5 1.5 1.5 6-4 12 0 1.5 1.5 3 0 3-3.5 12 0 1.5 2 4 0 2-3.5 13.5 .5 1.5 1.5 3 1 3-3.5 12 0 3 2.5 3.5 .5 2.5-2.5 13.5-.5 3 3.5 4.5 .5 3-2.5 16.5 .5 1.5 3.5 4 1 2-2.5 15 .5 4.5 4.5 4.5 1 3-1.5 15 0 4.5 1 1.5 5 3.5 1.5 2.5-1 21 1 2 7.5 3.5 1 2-.5 19.5-.5 3-1.5 .5-7.5-1-1 .5-1 22.5-1 1-6 .5-1.5 1-.5 3.5 0 16.5-1 2.5-4.5 1.5-2 2 1 18-1.5 3-3.5 2-1.5 2.5 1.5 18-.5 1.5-4 4.5-.5 1.5 2 18-3 6-.5 3 3 15-.5 3-2.5 6 3.5 16.5-1.5 9 4 15-1 9 4.5 13.5 0 9 4.5 13.5 1 10.5 5 12 1 9 5 10.5 2.5 10.5 5.5 10.5 2 9 6 10.5 2.5 9 6 9 3 9 6 9 3 7.5 7 10.5 2.5 6 6.5 9 4 7.5 7 9 3 6 7.5 9 4 7 6 6.5 4 6 7 7.5 4 6 7.5 7.5 1.5 3-20.5 13.5-1.5 1.5-5 17.5-1.5 3.5-22.5 13.5-6 19.5-3 0-1.5-1.5-1.5 0-1.5-1.5-1.5 0-3-3-1.5 0-1.5-1.5-1.5 0-1.5-1.5-1.5 0-1.5-1.5-1.5 0-1.5-1.5-1.5 0-1.5-1.5 7-19.5 1.5-1.5 21.5-11 1.5-2.5 7-19.5 17-10 4.5-2.5 0-1-3-4.5-5.5-6-3.5-6-6.5-7.5-4.5-7.5-6.5-7.5-3.5-7.5-5-6-5.5-10.5-5.5-7.5-3.5-7.5-5-7.5-2-3-2-6-6.5-10.5-2.5-7.5-5.5-9-2.5-9-6.5-12-1.5-7.5-6-12-1-7.5-5-12-1.5-10.5-4-9-1.5-4.5 0-7.5-5-13.5 .5-9-5-15 1.5-6-.5-3-3.5-13.5 0-3 1-4.5 .5-3-3.5-15 .5-3 2-6-2.5-13.5 0-4.5 2.5-4.5 .5-3-2-13.5 0-4.5 .5-1.5 4-4.5 0-1.5-1.5-15 .5-4.5 4-3 1.5-3-.5-15 0-4.5 1.5-1.5 5-2.5 1-2 0-19.5 1-1.5 5.5-1 1.5-.5 .5-1.5 .5-19.5 .5-3 9 1 1-1 0-4.5 .5-18-1.5-2-5.5-2.5-1.5-1.5-.5-4.5 1-16.5-1-3-5-3-1-1.5 0-3 1.5-16.5-1.5-3-4-3-.5-1.5 2-18-.5-2-4-4-.5-1.5 2.5-16.5-.5-1.5-2.5-3-1-1.5 .5-4.5 2.5-12-3.5-6 3-15 0-1.5-2-3-1-3 3.5-12 0-3-2-3-.5-1.5 4-13.5-2-6 4-12-1.5-7.5 4-10.5 0-3-1-3 0-1.5 4-10.5 0-3-.5-3 4.5-12-.5-6 4-9 0-7.5 4.5-9 0-6 4.5-9 .5-7.5 4.5-7.5 .5-6 5-9 .5-6 4.5-7.5 1.5-7.5 4-6 1-6 5-7.5 .5-4.5 5-7.5 1.5-6 4-6 1-3-9-22-22.5-11-9-20.5-22.5-10.5 0-.5 1.5 0 3-3 1.5 0 3-3 1.5 0 3-3 1.5 0 3-3 1.5 0zM421.5 128.5l3-.5 3 1 18 7.5 1.5 1 9 19.5 21 9.5 3 2 9.5 20-1 3-4.5 7.5-.5 4.5-4.5 7.5-2 7.5-3.5 6-1 6-4.5 7.5-1 7.5-4.5 7.5 0 6-4.5 9-.5 6-4 9-.5 7.5-4 9 0 6-4.5 10.5 1 6-4.5 10.5 1 6-4 12 1 6-4 12 0 1.5 1.5 3 0 3-3.5 10.5 .5 3 1.5 3 0 1.5-3.5 13.5 2 3.5 .5 2.5-3.5 13.5 .5 1.5 2.5 4 0 2-3 13.5 .5 1.5 2.5 3 .5 3-2.5 15 .5 1.5 3 2.5 .5 2-2 16.5 0 1.5 4 3 1 1.5 0 4.5-2 12 .5 3 4 3 1.5 3-1.5 18.5 1.5 2 4.5 2.5 1 2.5-1 16.5 .5 4.5 1.5 1.5 5.5 2 1 1 .5 4.5-1 19.5-2 .5-8-.5-.5 3 0 19.5-.5 1.5-1.5 1-4.5 .5-2 1.5-.5 3 .5 18-1 1.5-5 3-1 1.5-.5 3 1 16.5-.5 2-4.5 4-.5 1.5 1.5 18-1 3-2.5 3-1 3 2 18-3 6-.5 3 3 15-.5 3-2 6 .5 4.5 3 12-.5 3-1 4.5 0 3 3.5 13.5-.5 9 4 13.5 0 9 1 4.5 3.5 9 .5 10.5 5 12 1 9 5.5 12 1 7.5 5.5 12 2 9 5 9 1.5 3 1 6 6.5 11.5 2.5 8 6.5 10.5 2 6 7 10.5 2 6 7 10.5 3.5 7.5 7 9 2 4.5 7 9 4 7.5 6.5 7.5 1.5 3-22.5 12-9 21.5-21.5 10-2 1.5-8 19.5-1.5-1.5-1.5 0-3-3-1.5 0-3-3-1.5 0-3-3-1.5 0-3-3-1.5 0-3-3 8-18 1-1.5 19.5-8 4.5-2.5 8.5-19.5 2-1.5 21-10 0-2-7-9-3.5-7.5-6.5-9-2.5-6-7-10.5-3-7.5-6-9-3-9-6-9-2-7.5-6-10.5-1.5-7.5-6.5-13.5-1-6-5.5-12-1.5-9-5.5-12-.5-9-4.5-10.5-1-3 0-7.5-4.5-13.5 .5-9-4.5-13.5 1-9-4-15 .5-3 1-4.5 0-3-3-15 2-6 0-3-2.5-16.5 2.5-6 1-3-2.5-13.5 0-4.5 4-5.5 .5-2-1.5-18 1.5-3 3-3 1-3-1-18 1-2 4.5-3 1.5-2.5-.5-16.5 .5-4.5 1.5-1 5.5-2 1-1.5 .5-22.5 .5-1 9 0 .5-.5 1-18-.5-6-2.5-1.5-4.5-1-1-2 1-19.5-1.5-3-4.5-1.5-1-1.5-.5-4.5 1.5-15-1.5-2-4-2.5-.5-3 1.5-12 .5-4.5-1.5-1.5-2.5-1.5-1-1.5-.5-1.5 2.5-15-.5-2.5-3-2.5-1-2.5 3-15-.5-1.5-3-3-.5-1.5 3-15-1-2.5-2-2 0-1.5 3-13.5 0-1.5-2.5-4.5 .5-3 3-10.5-.5-2.5-1.5-3.5 3.5-13.5-2-6 4-12-1.5-6 4.5-12-1.5-6 4.5-10.5-1-6 4.5-10.5-.5-6 4.5-10.5-.5-6 4.5-9 0-6 4.5-9 0-6 4.5-9 .5-6 5-9 0-4.5 4.5-7.5 1-6 3.5-6 1.5-4.5-10.5-20-23.5-10-11-20-22.5-8 4.5-5 1.5 0 6-6 1.5 0zM379.5 164.5l1.5-1 22.5 7.5 11.5 19 21.5 8 3 1.5 11 19-.5 3-4 7.5-.5 6-5 9 0 6-4.5 9 0 4.5-4.5 10.5 .5 4.5-4.5 10.5 0 6-4 9 .5 7.5-4 10.5 .5 6-4 10.5 1.5 6-4 12 1.5 6-4 12 2 6-3.5 12 0 1.5 2 4.5 0 1.5-3 10.5 0 3 2 3 .5 3-3 13.5 0 1.5 2.5 2.5 .5 2-2.5 15 .5 1.5 3 3 0 1.5-2.5 15 .5 1.5 3.5 3 .5 1.5-2 16.5 .5 1.5 4 2.5 .5 2-1.5 13.5 0 4.5 5 3 1 1.5-1.5 15 0 4.5 1 1 4.5 1.5 1.5 2-1 18 .5 3 2 1 4.5 1 1.5 1 0 4.5-.5 18-1 1.5-7.5 .5-1.5 1-.5 22.5-1 2-6 2.5-1 1.5 0 21-.5 1.5-4.5 3-1.5 3 1 18-1 3-4 4.5-.5 4.5 1.5 15-1 3-2.5 3-.5 3 2 16.5-.5 3-1.5 3-1 3 2.5 16.5-2 9 3 15 0 3.5-1.5 4 0 3 4 13.5-1 7.5 0 3 4.5 13.5-1 7.5 5 15 0 7.5 5 13.5 1 9 5 12 1 7.5 5 10.5 2 10.5 5.5 10.5 2 7.5 5.5 10.5 2 7.5 5.5 9 3.5 9 5.5 9 3.5 9 5.5 7.5 2.5 6 7 10.5 1.5 3-.5 1-3 1.5-19.5 8-10.5 20.5-24.5 9.5-9 18-2.5 0-6-6-1.5 0-7.5-7.5-1.5 0-3-3-.5-1.5 1-1.5 9.5-16.5 24.5-8.5 10-18.5 2-1.5 18-7 4.5-2-3-6-5-7.5-2.5-7.5-5.5-9-2-6-6.5-12-2-7.5-5.5-10.5-2.5-9-5-10.5-1.5-7.5-5-10.5-.5-7.5-1.5-4.5-4-9-.5-8-5.5-14.5 .5-7.5-4.5-13.5 0-9-4-13.5 1-9-3.5-15 1.5-9-3.5-15 .5-3 2-6-3-16.5 1-3 1.5-3 1-3-2.5-16.5 1-3 3-4.5 0-1.5-1.5-15 .5-4.5 4-4.5 1-3-1-15 0-4.5 1-1.5 4.5-3 .5-1.5 0-21 1-1.5 5-2.5 1.5-2 .5-22.5 1-1 8.5-2 1-19.5-.5-4.5-7-1.5-1-1.5 1-19.5-.5-1.5-4.5-1.5-2-1.5 1-19.5-.5-1-4.5-2-1-1.5 2-18-1-1.5-3-1.5-1-1.5 2-16.5-1-2.5-3-2-1-1.5 2.5-15 0-2-3-2.5-.5-1.5 2.5-15-.5-2-2.5-2.5-.5-1.5 3.5-13.5-.5-2.5-2.5-3.5 0-3 3-10.5-.5-3-1-1.5-.5-3 3-10.5 0-3-1.5-3 0-1.5 3.5-12-1.5-6 4-12-1.5-6 4-10.5-1-6 4-12-.5-3 0-3 4-9-.5-6 4-9 0-7.5 4-7.5 .5-7.5 4-7.5 .5-7.5 4-7 .5-2-.5-2.5-12-18-24-8-12-18.5-24-7 10.5-10.5 1.5 0zM340.5 203.5l1.5-1 22.5 5.5 3 3.5 10 14.5 3 1.5 21.5 6 10.5 14.5 3 5-1.5 4.5-3 6 0 6.5-4 8.5 0 7.5-4 9 .5 6-4 10.5 1 5-4 11.5 1 3.5 0 2.5-4 10.5 1.5 6-3.5 12 1.5 6-3.5 12 0 1.5 2 3 0 1.5-3.5 13.5 2 3 .5 3-3 10.5 0 3 2.5 3.5 .5 2.5-3 13.5 0 1.5 2.5 2 .5 2.5-2.5 15 1 1.5 2.5 2 .5 2.5-2.5 15 1 1.5 2.5 1.5 1.5 3-2.5 15 1 2 3 1.5 1.5 2.5-1.5 15 0 3 1.5 1.5 3 .5 1.5 2-1.5 17 1 3 5 1 1.5 2-1 18 .5 3 6.5 .5 1 1 0 3-.5 19.5-.5 1.5-7 1.5-1.5 1.5-.5 22-1 2-5.5 3-1 1.5 0 21-1 1.5-4.5 4.5-.5 4.5 1 15-1 3-4 4.5 0 4.5 1.5 15-.5 2-3 4-.5 3 2 16.5 0 1.5-3 6 .5 4.5 2.5 13.5-2.5 7.5 3 16.5-1.5 6 0 3 4 15-1 6 0 3 4 12 0 3-.5 6 4.5 13.5 0 9 5 13.5 .5 9 4 9 2 10.5 5 12 1 7.5 5.5 10.5 2 9 5.5 10 2 8 5.5 9 2 7.5 5.5 9 1.5 4.5 0 .5-4.5 2-19 6.5-11 18-1.5 1-21.5 6.5-2.5 1.5-10.5 17-1.5-.5-3-3-1.5 0-13.5-13.5-.5-3 10-15 1-1.5 4-1.5 20-5 3-3 11-16 23.5-7.5-1-4.5-6-10.5-1.5-7.5-5.5-10.5-1-6-5.5-12-1.5-9-5.5-12-1-9-4-9-.5-9-5-13.5 .5-7.5-5-15 1-6-.5-3-3.5-12-.5-3 1.5-6-4-15 2-9-3.5-15 .5-3 1.5-3 .5-3-3-16.5 3-6 0-3-2-16.5 4-7.5-1.5-18 1-3 3-3 1-3-1-18 1.5-3 2.5-2 1.5-2.5 0-21 1-1.5 5-2.5 1-2 1-22.5 1-1 7-2 .5-3 0-21-1.5-.5-4.5 0-1.5-1 .5-21-.5-1-4.5-.5-1.5-1.5 .5-19.5-.5-1-4.5-1.5-.5-2 1.5-16.5-1-2.5-3-1-1-1-.5-1.5 2-16.5-.5-1-3-2-1-1.5 2-15-.5-3-2.5-1.5-.5-1.5 0-4.5 2.5-10.5-.5-1.5-3-3-.5-1.5 3-13.5-.5-3-2.5-3 3-13.5-.5-3-2-3 3.5-13.5-2-4.5 0-1.5 3.5-12-2-6 3.5-10.5 0-3-1-1.5-.5-3 3.5-10.5-1-6 4-10.5-1-6 4-10.5-.5-4.5 .5-3 3-7.5 0-7.5 3.5-7.5 .5-3 0-1.5-13.5-17.5-25-6.5-12.5-17-1.5-.5-22.5-4.5 3-3.5 0-1.5 9-9 0-1.5zM1216 205l.5 0 4.5 4.5 0 1.5 9 9 0 1.5 6 6 0 1.5 6 6 0 1.5 3 3 0 1.5-2 13.5-3 13.5-3 1.5-19 5-7.5 28-3.5 1.5-19 5.5-38.5 24.5-48 28.5-25 13.5-17 7.5-11 3.5-12 2.5-12 2-36 3-28.5 4.5-16.5 3.5-16.5 4.5-18 6.5-17 7.5-16.5 9-15.5 10.5-18 15-16.5 18-18 27-10.5 24-4.5 12-5.5 22.5-5.5 26.5-1 2-.5 5.5-.5 .5-1 1.5 0 3 1.5 .5 0 1 1.5 0 0 1.5 1.5 0 1.5 1.5 3 .5 55-6.5 36.5-2.5 36 0 36 3 31.5 5 33 7.5 27 8 43.5 15.5 13.5 4 13.5 2.5 12 0 12-1.5 12-3 16-5.5 22-9 23-10.5 24-12 47-26 22.5 11.5 21-16 22.5 13.5 5.5-4 15.5-14 0 27.5 1.5 1.5 0 24-13 9-9.5 6-11-9-10-7-22.5 13-20-13.5-2.5-.5-20 11-29.5 15-26 12-25 10.5-19.5 7-19.5 6-18 3-10.5 0-12-1.5-10.5-2.5-12-4.5-39-16.5-27-10-30-10-36-9.5-33-7-30-4.5-42-4.5-54-3.5-4.5-.5-1.5-3-1.5 1.5-1.5 0 0-1.5-3 0 0-1.5 1.5 0 .5-3 1.5-40.5 2-21 2.5-13.5 6.5-24 2.5-6 12-24 14-19.5 15.5-16.5 16-13.5 17-11.5 17-9.5 17.5-8 16.5-6 15-4.5 15-4 16.5-3.5 36-5.5 13.5-3 11-3 19-7.5 17-9 31-18 54-33 19.5-13 20.5-8 1.5-4.5 4-24 1-1 20-8 2-12zM306 245.5l1.5-1 22.5 4 1.5 .5 12.5 16 4 1.5 21 4 15 18 0 3.5-4 9 1 6-4 10.5 0 1.5 1 2 0 2.5-4 10.5 1.5 6-3.5 10.5 0 1.5 1.5 5-3.5 11.5 0 1.5 2 4.5-3.5 12 0 1.5 2 3 0 1.5-3 13.5 .5 1.5 2 3 0 1.5-3 13.5 3 4.5 0 1.5-2.5 13.5 .5 1.5 2.5 2.5 .5 2-2.5 15 1 1.5 2.5 1.5 .5 1.5-2 16.5 1 1.5 2 1 1.5 2-2 16.5 .5 1.5 4.5 2 .5 2.5-1.5 16.5 1 1.5 4.5 1.5 .5 1.5-1 16.5 .5 3 6 1.5 .5 1.5-1 18 .5 2.5 1.5 .5 5.5 0 .5 .5 .5 2.5-1 19.5 0 1.5-1 .5-7 2.5-.5 22.5-1.5 2.5-4 2-1.5 1.5 0 21-.5 1.5-3.5 3-1.5 3 1 18-.5 2-4 5.5-.5 4.5 1.5 15-3.5 7.5 2 16.5 0 1.5-2.5 4.5-.5 3 2.5 16.5-2 6 0 3 3 13.5 0 3-1.5 6 3.5 15-1 7.5 0 3 3.5 12-.5 7.5 .5 3 4 12 0 9 4.5 11.5 .5 8 4 10.5 2 12 4 9 2 10.5 4 7.5 1.5 4.5 .5 4.5 5.5 10.5 .5 4.5-.5 1-20 5-3.5 1.5-12.5 17-24 6-2 1-11.5 16-7.5-7 0-1.5-7.5-7.5 0-1.5-3-3 12.5-16.5 4.5-1.5 20.5-3.5 3-3 11.5-14.5 24.5-6-1.5-6-4-7.5-2-10.5-4.5-10.5-.5-7.5-4.5-12-1-10.5-4-10.5-.5-10.5-3.5-12 .5-8.5-4-12.5 0-3 1-4.5 0-3-3-13.5 1.5-9-3-15 .5-3 1.5-3 0-3-2.5-15 .5-3 2-3 .5-3-2-16.5 0-1.5 3-4.5 .5-3-1.5-16.5 1-3 2.5-3 1-3-1-18 .5-1.5 4-3.5 1-2.5 0-19.5 .5-1.5 4.5-3 1.5-2 .5-22 1-1.5 6-2 1-1 .5-21 0-2-1.5-.5-4.5 .5-1.5-.5-.5-3.5 .5-18-1.5-1.5-4 0-1-1.5 1-18-.5-2-4.5-1-1-1.5 1.5-18-1-1.5-4-1.5-.5-1.5 2-16.5-1.5-2-2-1-1.5-1.5 2-16.5 0-1-3-2-1-1.5 0-3 2.5-12 0-1.5-3-3-.5-1.5 2.5-13.5-.5-2.5-2-2-.5-1.5 3-13.5-.5-2-2-2.5-.5-1.5 3-13.5-.5-2-1-1-.5-3 3-10.5 0-3-2-3 0-1.5 3.5-10.5 0-2.5-1.5-3.5 .5-3 3-9-1.5-6 3.5-10.5-1-6 3-7.5 1-4.5-1-2-15-16.5-24-4-15-16.5-23.5-3 1-1.5 0-1.5 4.5-4.5 0-1.5 3-3 0-1.5 4.5-4.5 0-1.5zM1272 280l1.5 0 1.5 1.5 0 1.5 3 3 0 1.5 1.5 1.5 0 1.5 3 3 0 1.5 1.5 1.5 0 1.5 3 3 0 1.5 1.5 1.5 0 1.5 3 3 0 1.5 1.5 1.5 0 1.5 1.5 1.5 0 1.5 1.5 1.5 0 1.5 1.5 1.5-9.5 25.5-1 1-22.5 1.5-1.5 .5-8.5 19.5-3 6-17 1-7.5 1-44 28-42 24-25 12.5-18.5 7-10 2.5-10.5 1-12 .5-33-1.5-27 0-16.5 1-16.5 1.5-16.5 2.5-18 4.5-18 5.5-19.5 8-17 9-18.5 12-18 15-8 7.5-14 16.5-11 13.5-14.5 22.5-14 22.5-.5 1.5-2.5 3-.5 1.5 1.5 .5 1.5-1.5 20-23 20-21 23.5-21 12.5-9 16-10.5 24-12 20-7.5 18.5-5 18-4 18-2 16.5-1.5 30 .5 58.5 5 12 .5 12-1 17-4.5 18-7.5 31.5-16.5 41.5-24 31.5-20 3-.5 21 1 2-1.5 2-3 11-20 22.5 1 2.5-.5 11-24.5 1.5 2 0 1.5 1.5 1.5 0 1.5 1.5 1.5 0 3 1.5 1.5 0 1.5 1.5 1.5 0 3 1.5 1.5 0 1.5 1.5 1.5 0 3 1.5 1.5 0 1.5 1.5 1.5 0 3 1.5 1.5 0 3 1.5 1.5 0 3 1.5 1.5-.5 4.5-7.5 13.5-5.5 8-1.5 .5-19.5-3.5-3-.5-1.5 .5-6.5 10-8.5 11.5-1.5 .5-22.5-3.5-1.5 .5-38.5 24-43 24-18 9-14.5 6.5-10.5 4-9 2.5-12 2-7.5 0-10.5-.5-58.5-9-28.5-2.5-16.5-.5-18 1-18 1.5-19.5 3.5-20 5-25 9-28 13.5-17.5 10.5-15.5 10.5-42.5 33-3 2-1.5-.5 0-1.5-1.5 0 0-1.5 1.5-1.5 .5-3 1-1 8-21.5 12-27 6-12 15.5-24 21-24 17.5-15 18-12 17.5-9.5 18-7.5 18-6 16.5-4 16.5-3.5 30-3 49.5-2 12-1 10.5-1.5 9-2.5 19-7.5 17.5-9 29-16.5 32.5-19.5 32.5-20.5 18.5-3.5 5-1.5 9.5-26.5 21-3.5 2.5-1.5zM276 289l24 2 16 16 24.5 3.5 15 15 1.5 2.5 0 1.5-4 10.5 0 1.5 1.5 4.5-3.5 12 .5 1.5 1 1.5 .5 3-3 9-.5 3 2 3 0 3-3 12 2.5 4.5-3 12 0 3 2.5 3 0 1.5-2.5 13.5 .5 1.5 2.5 2.5 0 2-2.5 13.5 .5 1.5 3 3 0 1.5-2 12 0 3 3.5 3 .5 1.5-2 13.5 0 3 1.5 1.5 2 .5 1.5 2.5-2 16.5 1 1.5 4 1.5 .5 1.5-1.5 15 0 3 1 1 4.5 1 .5 1-1 19.5 2 1 4.5 .5 .5 1.5-.5 20.5 1.5 .5 4.5-.5 1.5 .5 .5 1.5-1 21-1 1.5-6.5 3-.5 3 0 19.5-1 1.5-5 3-.5 1.5 .5 19.5-.5 1.5-4.5 4.5-.5 1.5 1 18-.5 2.5-3 3.5-1 3 1.5 16.5-.5 3-3 4.5 0 6 2 12-.5 2.5-2 3.5-.5 3 2.5 15 0 2-2 5.5 3 16.5-2 7.5 3.5 15-1 9 4 13.5-.5 9 4 13-.5 6.5 5 15-.5 6 5 13 .5 8 4 9 1.5 6-1.5 1-19 3.5-4.5 1.5-14 16-24 4-2 1-13 15.5-3-3.5 0-1.5-4.5-4.5 0-1.5-3-3 0-1.5-3-3 0-1.5-1.5-1.5 0-1.5 14-15 25-3 15.5-16.5 23.5-3.5 .5-1-.5-5-4-10-.5-10-4-11 0-9-4-13.5 1-6-.5-3-3.5-12 1-9-3-13.5 1.5-9-3-15 2-6 0-3-2.5-15 3-7.5-2-15 0-3 3.5-6 0-1.5-1-12-.5-6 1-1.5 2.5-3 1-3-1-18 .5-1.5 3.5-3 1.5-3-.5-19.5 1-1.5 4-2.5 1-2 .5-21 .5-1.5 5.5-2 1.5-2 .5-20-.5-2.5-6 .5-1-1 0-21-.5-1-4.5 0-1-.5-.5-3 1-16.5-1-2-4.5-.5-.5-2 1-16.5-.5-2-3-1-1.5-1.5 1.5-17-1.5-2-3-2-.5-3 2-13.5-.5-1.5-3.5-3 0-3 2-12 0-1.5-3.5-3 0-1.5 2.5-13.5 0-1.5-3-3-.5-1.5 2.5-13.5-.5-2.5-2-2 0-1.5 3-12 0-1.5-2-3-.5-1.5 .5-4.5 2.5-7.5 0-2-2-4 3-12 0-1.5-2-4.5 3.5-10.5 0-3-1-1.5-16.5-15.5-25-2.5-15.5-15-24-1.5 3-3 0-1.5 1.5-1.5 0-1.5 1.5-1.5 0-1.5 3-3 0-1.5 1.5-1.5 0-1.5 3-3zM250.5 335.5l0-.5 24 .5 17 15 23.5 1.5 1.5 .5 16.5 15 0 5-2.5 9.5 0 1.5 2 3 0 1.5-3 12 .5 1.5 1.5 1.5 .5 3-2.5 12 0 1.5 2 2 .5 2.5-2.5 13.5 .5 1.5 3 3 0 1.5-2.5 13.5 .5 1.5 3 3 .5 1.5-2.5 12 0 3 1.5 1.5 2.5 1.5 .5 1.5-2 15 .5 1.5 4 3-1 18 1 1 3 1 1 2.5-1 16.5 .5 1.5 4 .5 1.5 2-1 18.5 1 1.5 4.5 0 1.5 1.5-.5 21 .5 .5 6-1 1 .5 0 1.5-.5 21-1.5 1.5-4 1.5-1.5 1.5-.5 21-.5 1.5-4 3-1.5 1.5 .5 19.5-1 2.5-4 3.5-.5 1.5 1 18-.5 3-3 3-.5 1.5 0 3 1.5 15-1 3-2 3-1 3 2.5 15-.5 3-2.5 4.5 .5 4.5 2 12-.5 3-1.5 3 0 3 2.5 13.5 0 3-1.5 6 3.5 15-1.5 7.5 4 14-1 8.5 4 12 .5 10.5 2.5 7.5 1.5 6-1.5 2-23 2.5-16 16-25 2-15.5 15-1.5-1.5 0-1.5-1.5-1.5 0-1.5-1.5-1.5 0-1.5-3-3 0-1.5-1.5-1.5 0-1.5-1.5-1.5 0-1.5-1.5-1.5 0-3 14.5-13.5 24.5-1.5 1.5-.5 15.5-14.5 23.5-2 1.5-1.5 0-2.5-4-13.5 .5-7.5-3.5-13.5 0-3 1-2.5 0-3.5-3-13.5 0-3 1.5-3 0-3-2.5-13.5 0-3 2-6-2.5-16.5 3-7.5-2.5-16.5 4-7.5-2-16.5 1-3 2.5-3 1-3-1-18 .5-1.5 4-3.5 .5-2.5-.5-18 .5-1.5 4-3 1.5-2 .5-22 5.5-2.5 1.5-2 0-21 0-1.5-6 1-1.5-1 .5-21-.5-.5-1.5-.5-3 .5-1.5-1 .5-19.5-.5-1-4.5-1-1-1 1-18-1-1.5-4-1.5 0-3 1-15-.5-1.5-3.5-1.5-.5-1.5 1.5-15-.5-2-2-1-1.5-1.5 0-1.5 2-13.5 0-2-3.5-2.5-.5-1.5 2.5-13.5 0-2-3-2.5 0-1.5 2-13.5-.5-2.5-2-2 0-1.5 2.5-12-.5-2.5-2-2 0-1.5 2-8 .5-5.5-2-3-16.5-13-24-.5-18-14.5-22.5 0 0-2 1.5-1.5 0-1.5 1.5-1.5 0-1.5 1.5-1.5 0-1.5 1.5-1.5 0-3 1.5-1.5 0-1.5 1.5-1.5 0-1.5zM245 382l7-.5 1.5 1 17.5 13 23-.5 19.5 14.5 .5 4-2.5 12 2 2 1 2.5-2.5 13.5 .5 1.5 2.5 2 .5 2.5-2 13.5 0 1.5 3 2 .5 1-1.5 16.5 2.5 2 1.5 1.5-1.5 16 0 1.5 3 1 1.5 2-1.5 16.5 .5 1.5 4 1 1 2-1 18 1.5 1 3 0 1.5 1.5-1 17 .5 3 5 0 1.5 1.5-.5 21 .5 .5 6-1.5 1 1 0 1.5-.5 19.5-.5 2-5.5 2.5-.5 1.5 0 19.5-1.5 3-4 3-.5 1.5 0 19.5-1.5 2.5-2.5 2-.5 1.5 1 18-1 3-2.5 3-1 3 2 16.5-3.5 6 0 1.5 2 15-.5 3-2 4.5 0 4.5 2 12-.5 3-1.5 3 0 3 2.5 13.5 0 3.5-1 2.5-.5 3 3 13.5-1 9 3 12 0 4.5-.5 1-22.5 1-1.5 .5-16.5 14-24 0-2.5 1.5-14 12.5-1.5-.5 0-1.5-1.5-1.5 0-1.5-1.5-1.5 0-1.5-1.5-1.5 0-1.5-1.5-1.5 0-1.5-1.5-1.5 0-3-1.5-1.5 0-1.5-1.5-2 16-13 2-1 24 .5 12.5-10 5.5-3.5 22.5 0 1.5-1 0-5.5-2.5-8-.5-4.5 .5-3 1-1.5 0-4.5-2.5-13.5 2-7.5-2-12 0-4.5 2.5-5.5 0-2-2-15 .5-3 2-3 1-3-1.5-16.5 .5-1.5 2.5-3 1-3-1-18 .5-1.5 2.5-2 1.5-2.5 0-19.5 .5-1.5 4-3 1-3 0-18 .5-1.5 1.5-1.5 3-1.5 1.5-1.5 .5-19.5-.5-3.5-6 2-1-1.5 0-21-.5-.5-4.5 0-1-1 0-19.5-.5-1-4.5-.5-.5-1.5 .5-18 0-.5-4-1-1-1.5 1.5-16.5-1-2-3-1-1-1.5 1.5-16.5-.5-1-3.5-2 0-1.5 2-13.5 0-1.5-1.5-1.5-2-1.5-.5-1.5 2-13.5 0-1.5-3-3-.5-1.5 2.5-11.5 0-3-1.5-1.5-18-12.5-1.5-.5-22.5 1-4-2-15.5-11-22.5 1.5 0-2.5 1.5-1.5 0-3 1.5-1.5 0-1.5 1.5-1.5 0-3 1.5-1.5 0-3 1.5-1.5 0-1.5 1.5-1.5 0-1zM229 430l6.5-.5 14 9.5 5.5 3 22.5-2 21 13 0 5.5-1.5 10.5 0 1.5 3 1.5 .5 1.5-1.5 13.5 0 3 4 2.5 0 .5-1.5 16.5 1.5 1.5 3 1 .5 2-1 16.5 .5 1 3 .5 1.5 1-1 18.5 1 1 4.5 .5 .5 1.5-.5 19.5 1.5 .5 4.5-.5 .5 1.5-.5 21 1.5 .5 6-2 0 18 0 4.5-1 1.5-5 3-.5 1.5 0 19.5-1 2-4 2.5-.5 1.5 0 19.5-1.5 2.5-2 2-1 1.5 1 18-1 3-2.5 3-.5 1.5 1.5 16.5 0 2-3 4 0 1.5 2 16.5-.5 2-2.5 4 0 1.5 2.5 15 0 2-2.5 5.5 3 13.5-.5 5.5-1.5 1-22.5-1-18 13-1.5 .5-22.5-1.5-2 .5-16 12-1.5-1.5 0-1.5-1.5-1.5 0-3-1.5-1.5 0-3-1.5-1.5 0-3-1.5-1.5 0-3-1.5-1.5 0-2 14-10 4-2.5 24 2.5 17.5-12 2-.5 22.5 1.5 1.5-1.5 0-6.5-2-11 2.5-7.5-2-16.5 .5-1.5 2.5-3.5 .5-2.5-1.5-13.5 0-4.5 2.5-3 1.5-3-1-18 .5-1.5 3.5-3 .5-1.5-.5-19.5 1-1.5 3.5-2.5 1-2 0-19.5 .5-1.5 5-3 1-4.5 0-19.5-7 3-.5 21-1.5 2.5-4 2-1 1.5 0 19.5-1 2.5-4 3.5 .5 18-1 3-3.5 4.5 1 18-.5 1.5-2.5 3-1 3 1.5 15-.5 3-2.5 4.5-.5 1.5 2 15-1 4-24-2-19.5 11.5-22.5-3-1.5 .5-18 11.5 0-1.5-1.5-1.5 0-4.5-1.5-1.5 0-4.5-1.5-1.5 0-4.5-1.5-1.5 0-4.5 17-10.5 2.5-.5 22.5 4 19.5-11 24 3 1.5-3 0-1.5-1.5-16.5 .5-1.5 2.5-2.5 1-3.5-1-16.5 .5-1.5 3-3 1-3-1-13.5 .5-4.5 1-1.5 2.5-1.5 1.5-2.5-.5-17 .5-3 4.5-3 1.5-2.5 0-20 1.5-1.5 4.5-1.5 1.5-1.5 .5-21-.5-.5-4.5 .5-1.5-1 0-20-1.5-1-3 0-1-.5 0-4.5 1-13.5-1.5-2-4-1 0-1.5 1-16.5 0-.5-3-1-1.5-1.5 1.5-16.5-1.5-2-2.5-1-.5-1.5 1.5-10.5 0-5.5-21-12.5-24 2.5-19.5-12-22.5 3.5 0-3 1.5-1.5 0-4.5 1.5-1.5 0-4.5 1.5-1.5 0-3 1.5-1.5 0-4zM1351 461.5l.5-1 0 2.5 1.5 1.5 0 6 1.5 1.5 0 4.5 1.5 1.5 0 6 1.5 1.5 0 6 1.5 1.5 0 6 1.5 1.5 0 7.5 1.5 1.5 0 1.5-17.5 19.5-2 1-22.5-10-1.5 .5-16.5 16-3 1.5-22.5-9-41 24-40 21-33.5 15-12.5 4.5-10.5 3-15.5 2.5-15-1-16.5-3.5-54-15-28.5-6-18-3-18-1.5-18-1-15 0-31.5 1.5-33 5.5-23 5-16.5 4.5-47.5 15-3 .5-1.5-.5 51.5-27 16.5-7.5 19-7.5 13.5-4.5 21.5-6 19-4 18-2 25.5-1.5 15 0 18 1 16.5 1.5 25.5 4.5 45 10 12 2.5 9 .5 9 0 14.5-2 10.5-3 14-5.5 33-15.5 38-21 40-24 22.5 6 1.5 0 18-20.5 24 7zM214 479.5l8-1.5 19.5 11 24-3.5 21.5 12 .5 3-1.5 13.5 .5 1.5 3.5 1.5 1 1.5-1 16.5 .5 1.5 3.5 .5 1.5 2.5-1 16.5 .5 1.5 5 .5 .5 1-.5 19.5 1.5 .5 4.5-.5 0 21-.5 1.5-6.5 3-.5 21-1.5 2-4 2.5 0 19.5-.5 1.5-3.5 3-1.5 3 1 16.5-.5 2-3.5 4-.5 1.5 1 16.5-1.5 4-1.5 0-22.5-3.5-19.5 10-1.5 0-22.5-4.5-19.5 10.5 0-4.5-1.5-1.5 0-7.5-1.5-1.5 0-7.5-1.5-1.5 0-1 18.5-9.5 2.5-1 22.5 5.5 21-9.5 22.5 4.5 1.5-1 1-4.5-.5-16.5 4-3.5 1-2.5-.5-18 1-1.5 4.5-3 .5-1.5 0-19.5 1-1.5 6-3 0-1.5 .5-19.5-.5-1-4.5 1-1.5-1 0-20-1.5-.5-3 0-1-1 1-18-1.5-1.5-3-.5-1-1 1-17.5-22.5-11.5-24 4-19.5-10-1.5 0-21 4.5 0-5.5 1.5-1.5 0-7.5 1.5-1.5 0-6 1.5-1.5 0-1.5zM207.5 529l5.5-1.5 21 10 22.5-5.5 16 7.5 6.5 2.5 1.5 1-1 17.5 1 2 4.5-.5 .5 1.5-.5 19.5 1.5 .5 5-.5 0 19.5-.5 2.5-5 2-1 1.5-.5 19.5-1 2-4 2.5-.5 1.5-.5 3 .5 15-1.5 3-1.5 1-22.5-5.5-21 9-22.5-6.5-21 9.5 0-13.5-1.5-1.5 0-11 21-8.5 22.5 7 21-8.5 22.5 6.5 1.5-.5 1.5-2 .5-20.5 5.5-3 .5-1.5 .5-19.5-1-1-4.5 1-1-1.5 .5-18-1-2-3-.5-21-8-22.5 5.5-21-9-21 6.5 0-13.5 1.5-1.5 0-10.5zM205.5 578.5l3-1 21 8.5 1.5 0 21-6.5 21 7.5 4.5 0 0 15.5-.5 6-2.5 1.5-1.5 0-21-7-22.5 7.5-21-7.5-4.5 1-18 7 0-14.5 1.5-1.5 0-10.5zM774 604l1.5 0 0 1.5-1.5 0zM777 604l1.5-1.5 0 1.5 1.5 0 1 1.5-1 1-1.5-1 0-1.5zM768 607l1.5-1.5 1.5 0 0 1.5 1.5 0 0 1.5-1.5 0 0-1.5zM783 607l1.5-1 1.5 0 3 1.5 63 15.5 42 12 28.5 9 37.5 14 31.5 12.5 27 12 51 24.5 9 3.5 12 4 10.5 1.5 10.5 .5 9-.5 10.5-1.5 21-5.5 21-6.5 26.5-10 28-12 52-25 19.5 16.5 2.5-.5 21.5-9.5 19.5 18.5 7-3 15.5-8.5 0 10-1.5 1.5 0 9-1.5 1.5 0 9-1.5 1.5 0 7.5-1.5 1.5 0 6-1.5 1.5 0 3-22.5 8.5-1.5-.5-3.5-5-13-15-1.5-.5-22.5 7-1.5 0-9.5-11-8.5-8-23.5 11-31 13.5-29.5 11-28.5 9.5-21 5.5-22.5 4.5-19.5 1.5-12-1-12-2.5-9-3-10.5-5-75-40.5-66-33.5-52.5-25.5-42-19-31.5-14-1.5-1-1.5 0-1 .5 107 73.5 67 43.5 68.5 43 19.5 10 12 5 10.5 2.5 10.5 1.5 10.5 0 24-2.5 21-4 33-8 28.5-9 28-10 41-17 6.5 8 10 13.5 24-5 1 .5 7.5 10.5 8 13 24-6-1.5 2 0 4.5-1.5 1.5 0 3-1.5 1.5 0 3-1.5 1.5 0 3-1.5 1.5 0 3-1.5 1.5 0 3-1.5 1.5 0 3-1.5 1.5 0 3-1.5 1.5 0 3-1.5 1.5 0 1.5-1.5 1.5 0 2-24 3-5.5-11-8-14.5-1.5 0-22.5 1.5-1.5-1-12.5-20.5-1-1-1.5-.5-33 12.5-28.5 9.5-21 6-30 7-24 4.5-22.5 3-22.5 1-12-1-12-2-10.5-3-10.5-4.5-9-5-31.5-20.5-46.5-34-27.5-21.5-33.5-28.5-45-42-48.5-48.5-1.5 .5 .5 1.5 2.5 2.5 33.5 48.5 22.5 30 19 22.5 16 18 27.5 27.5 36 31.5 31.5 25 19.5 13.5 9 5.5 12 6 9 3 13.5 3 12 1.5 12 .5 12-.5 24-1.5 34.5-5 34.5-7 39-10.5 34.5-11 2 1 .5 1.5 11 22 22.5 1 1.5 0 1 1 9.5 24 1.5 2 22.5 .5 0 2-1.5 1.5 0 1.5-1.5 1.5 0 1.5-1.5 1.5 0 1.5-1.5 1.5 0 1.5-3 3 0 1.5-1.5 1.5 0 1.5-1.5 1.5 0 1.5-1.5 1.5 0 1.5-1.5 1.5 0 1.5-3 3 0 1.5-1.5 1.5 0 1.5-1.5 1.5 0 1.5-3 3-16.5-2-6-1.5-3.5-13-5-15-23-3.5-1.5-2.5-8-21-1-1.5-1.5-1-16.5 5-30 7.5-31.5 6-34.5 5.5-36 3-25.5 0-13.5-.5-12-1.5-12-2-12-3-10.5-4.5-12-6.5-9-5.5-19.5-15-31.5-28-21.5-21-5.5-7-5.5-5-6.5-8.5-6.5-6.5-5.5-8-7-8.5-14-19.5-13-21-17.5-33-26.5-57-1-1.5-.5-2-1.5-1 .5-1.5 1 0zM762 608.5l1.5-1.5 4.5 0 0 1.5-1.5 0-1.5 1.5-1.5 0-1.5 1.5-3 .5 0 1-3 .5-.5 1-2.5 .5-.5 1-2.5 .5-.5 1-2.5 .5-.5 1-2.5 .5-1 1-2 .5-1 1-2 .5-1 1-2 .5-1.5 1-15 7-7.5 4.5-3 2.5-4 7-2.5 3-17.5 13-2 3.5-2 7.5-1.5 3-11 12-1 3-1.5 10.5-7 10.5-1 3 .5 10.5-1 3-4 6-.5 3 1.5 10.5-.5 3-3 7.5 0 3 2 9-2 10.5 3 10.5-1 9 3.5 10.5-.5 9 4 9 .5 9 4.5 9 .5 7.5 5 9 1 7.5 5.5 9 1 6 6 9 1.5 6 5.5 7.5 3 7.5 5.5 6 3.5 7 6 6.5 3.5 6 8 7.5 3.5 4.5 9 7.5 4.5 5 7.5 5.5 6 6 7.5 4.5 6 5 9 5.5 4.5 4 9.5 5 5.5 4 7.5 3.5 6 4 8 3.5 5.5 3.5 30 14 6.5 2 5.5 2.5 10 3.5 5 2.5 7.5 2 6 2.5 7.5 2 6 2.5 9 2 6 2 5 1 7 2.5 25.5 6 21.5 3.5 .5 1.5 0 1.5-7.5 24 .5 2 11 17.5-10 27 0 1.5 11 18-1.5 0-1.5 1.5-3 0-1.5 1.5-1.5 0-1.5 1.5-3 0-1.5 1.5-3 0-1.5 1.5-3 0-1.5 1.5-3 0-1.5 1.5-4.5 0-1.5 1.5-3 0-9-17.5 0-2 11-25.5 0-1.5-10-19.5 9.5-25.5-1.5-1.5-22.5-5-12-3.5-5-2-8.5-2-6-2.5-7.5-2-5.5-2.5-8-2.5-4.5-2-7.5-2.5-7.5-3.5-6-2-8-4-7-2.5-6-3.5-6-2.5-6-3.5-9-4-5.5-3.5-9.5-5-6-4-7.5-4-7-5-6.5-3.5-6.5-5.5-8.5-5-6-5.5-7.5-5-5.5-5.5-8-6-5.5-6-7.5-6-4.5-6-8-7.5-4-6-6.5-7-3.5-6.5-6.5-7.5-2-6-6.5-9-1.5-6-6-9-1.5-7.5-5-7.5-1-7.5-4.5-9-.5-7.5-4.5-9-.5-9-4-9 0-3 .5-6-3.5-10.5 1-9-3-12 2-9-2-9-.5-3 3.5-9-2-12 1-3 3-4.5 1-3-.5-10.5 .5-3 5.5-7.5 1.5-3-.5-9 1-4 1.5-2 7.5-7.5 1.5-3 1-9 1.5-3 10.5-7.5 3-3 1.5-3 1.5-6 2-3.5 4.5-3 15.5-7 3.5-3 5-8 3-2 9-3 9-2 1.5-1 4-.5 2-1.5 3.5 0 1-1 4.5-.5 1.5-1.5 4 0 .5-1.5 4.5 0 1.5-1.5 3.5 0 1-1.5zM774.5 608.5l1-1 5 1-.5 1-1.5 .5 0 1.5 1 1.5 .5 0 .5 4.5 1 1.5 11 43.5 5 16.5 11.5 33 11 24 6.5 11.5 4.5 9.5 6 8.5 5.5 9.5 6.5 8.5 4 6.5 21.5 26.5 6 6 4.5 5.5 6 5.5 3.5 4.5 5.5 4.5 4.5 5.5 19.5 17.5 6 4 4.5 4.5 5 3 4 3.5 10.5 6 10.5 5 12 4 13.5 3.5 12 2 27 2.5 39 0 24-1.5 22.5-2 45-7 39-8.5 3.5 10.5 4 14 1.5 3 21.5 5.5 2 4.5 5 25 21 5 0 1.5-1.5 1.5 0 1.5-4.5 4.5 0 1.5-4.5 4.5 0 1.5-4.5 4.5 0 1.5-6 6 0 1.5-7.5 7.5 0 1-21-8-3.5-29-1.5-1.5-20.5-8-6-27.5-1.5 0-18 3.5-31.5 4.5-34.5 3-37.5 1.5-39-2-27-3-13.5-2.5-15-3.5-10.5-3-13.5-5.5-10.5-5.5-10.5-7-4.5-4-6-4-19.5-18-3.5-4.5-5.5-5-4.5-5.5-4.5-4.5-4.5-6-6-6-3-5-6-6.5-4.5-7.5-5.5-6.5-4.5-7.5-5.5-7.5-4-8.5-5.5-8-3.5-8.5-5.5-9.5-3.5-10.5-6-13.5-8-28.5-6.5-37.5-5-61-1.5-1 0-2.5-1.5-.5-.5 .5 .5 2.5 1 .5 0 4.5-5.5 58.5 1 36 3 18 1.5 12 4.5 13.5 2 10.5 4.5 10 3 11 5 9 3 7.5 5.5 9 3 7.5 5.5 7.5 4 7.5 5 6 3.5 6.5 6 7 4 6 5 5.5 4.5 6.5 5 4.5 3 4.5 6.5 6 3 4.5 5.5 4.5 4 4.5 6 4.5 4.5 4.5 4.5 3 6 5 5.5 2.5 5 3.5 12 6 13.5 5 15 4.5 27 6 27 3.5 25.5 2.5 39 1 36-1 22.5-2 27-3.5 4 0 1.5 9 2 19 20.5 11 2 30 19.5 10-12 12.5-1.5 0-16.5 16.5-1.5 0-1.5 1.5-3-1-15-9.5-1-3 1-21-.5-7.5-19-12-1.5-28.5-43.5 2.5-24 0-24-.5-40.5-3.5-13.5-2-27-5-28.5-7-6.5-2.5-7-2-6-2.5-7.5-2.5-7-3.5-6.5-2.5-5.5-3.5-6.5-3-6-4.5-6-3.5-4-4-6.5-5-3.5-4-5.5-4.5-4.5-6-5.5-4.5-3.5-5.5-5-5-4-6-5.5-6-3-6-5-5.5-3.5-6.5-5.5-7-3-7-5-7-3-7.5-5-7.5-3-9-5-9-2-9-4.5-9-1.5-10.5-4-10.5-1-12-3-13.5 .5-13.5-1-10.5 0-6.5 4.5-36.5 10.5-40 5.5-17.5 .5-3-1.5-.5-.5 2-1 1-6 12-18 39-3 9-3.5 15.5-4 12.5-1 7-.5 12-2 13.5 1.5 13.5-.5 10.5 3 12 1 12 3.5 9 1 9 4.5 9.5 2.5 10 4 7.5 2 7.5 5.5 9 3 7.5 4.5 6 3 7.5 5 6 3.5 7.5 5 6 3 6 6 6 2.5 5 5.5 5.5 4 6 5 4.5 5 6 5.5 4.5 5 5 6 4 4.5 4 6 3.5 7.5 5.5 5 2 7 4 28.5 12 27 9 16.5 4 27 6 27 4 24 3 27 2 24 .5 31.5-.5 1 1-.5 27 1 2 16.5 13-2.5 28.5 0 1.5 10 8.5 7 5-1 0-4.5 4.5-1.5 0-4.5 4.5-1.5 0-3 3-1.5 0-3 3-1.5 0-3 3-1.5 0-3 3-1.5 0-3 3-3 0-13.5-13.5-1-1.5 5-28.5-1-1.5-13.5-12.5-2-2.5 2.5-28.5-21.5-.5-24-1.5-39-4.5-40.5-7.5-40.5-11-28.5-10-8.5-4-6.5-2.5-27-13.5-7.5-5-6-3-5-4.5-8.5-5.5-3-3.5-7.5-5.5-4-5-5-4.5-4.5-6-6-6-3-6-5.5-6-3-6-5-6-3.5-7.5-5-6-2.5-7.5-4.5-6-2.5-7.5-5.5-9-2-7.5-5-9-1-7.5-4.5-9-1-9-4-10.5 0-9-3-10.5 .5-12-2-10.5 2-13.5-.5-9 0-4.5 4-12 1.5-13.5 2.5-6.5 6.5-13 5.5-15.5 3-5.5 25.5-37 7.5-10 2.5-2.5 0-1.5zM769.5 610l1.5-1.5 .5 1.5zM767 611.5l1-1.5 1.5 0 .5 1.5-35 35-7.5 8.5-3 4-6.5 14-10 13.5-2.5 6-2.5 12-6 12-.5 3 0 10.5-3.5 12 1 12-2 12 2.5 10.5-1 10.5 3.5 10.5 0 9 3.5 9 1 9 4.5 9 1.5 9 5 9 1.5 7.5 5 7.5 2 7.5 5 7.5 2 6 5.5 7.5 2.5 6 6 7.5 2.5 6 5.5 6 3 5 7 7 3.5 5.5 6 5 4.5 5 7.5 5.5 4.5 4.5 7 4.5 6.5 5.5 7 3.5 8 5.5 25.5 13.5 9 3.5 7.5 4 6.5 2 8.5 4 7 2 5 2.5 28.5 9 28.5 7.5 27 5.5 24 4 24 2.5 23 2 .5 1.5-4.5 27 14.5 16.5-1 7.5-5.5 21 .5 1.5 4 5 9 10 0 1.5-1.5 0-3 3-1.5 0-1.5 1.5-1.5 0-1.5 1.5-1.5 0-1.5 1.5-1.5 0-1.5 1.5-1.5 0-1.5 1.5-1.5 0-1.5 1.5-1.5 0-1.5 1.5-3 0-1.5 1.5-1.5 0-1.5 1.5-1.5 0-1.5 1.5-12-16-1-2 8.5-28.5-13-18 6-27-.5-.5-2.5-1-18.5-2-20-4-5.5-.5-27-6-27-7.5-28.5-9-5-2.5-7-2-8.5-4-6.5-2-28.5-13.5-7-4-8-3.5-5.5-4-8-4-6.5-5-7-3.5-6.5-5.5-7-4.5-6.5-6-7-5-5-5.5-7-5.5-4.5-6.5-6-5.5-4-6.5-5.5-6-3-6-6-7.5-2-6-5.5-7.5-2-6-5-7.5-2-7.5-4.5-7.5-2-9-4.5-7.5-1.5-9-4-9-1-9-3.5-9 0-9-3.5-10.5 1-9-2.5-9-.5-3 2.5-9-2-12 3.5-12-.5-9 0-3 6-12 1-12.5 1.5-3 7-10 3.5-12 3-5 12-11.5 7.5-12.5 4.5-5 34.5-24.5 4.5-4 1.5-.5 3-3 1.5 0z"/>
</g>
<g fill-rule="evenodd" stroke="none" filter="url(#sm)">
<path fill="#aaff4d" d="M742.5 253l3 0 1.5 .5 1 1 0 1.5-4.5 6-2 4.5-3 3-5 4.5-4 6-8 7-4.5 6.5-8.5 7.5-5 7.5-7.5 7.5-5.5 9-6 6-2 3-3 6-2 3-6.5 7.5-1.5 3-3 7.5-5.5 7.5-1.5 3-3 9-7 12-2 10.5-6 12-.5 3-.5 6-.5 3-5 12-.5 3 .5 6 0 4.5-2 4.5-3.5 7.5-1.5 3 0 1.5 2.5 6 0 4.5-1.5 3-2 2-1.5 .5-1.5-.5-1.5-2 0-3 .5-3 2-6 0-3-4-7-.5-3.5 .5-4 2.5-6.5 1-4.5-1.5-7.5 .5-3 .5-3 3.5-7.5 1-3 .5-3 0-6 .5-3 5.5-10.5 2-10.5 1.5-3 5.5-9 2.5-9 2-3 5.5-7.5 3.5-9 8-10.5 3-6 2-3 6.5-7.5 5.5-8.5 7.5-8 5.5-7.5 8-7.5 4-6 9-7.5 5-6 9-6 4.5-4.5 3-1.5zM797.5 253l5-1.5 4.5 0 1.5 .5 1.5 1.5 .5 1 0 1.5-1 1.5-4 3.5-4 5.5-6.5 5-5.5 5.5-8 5.5-5 5-8.5 6-6 6-8 6-6.5 7.5-7.5 6-6 7.5-8 7.5-6 9-7.5 7.5-5 9-7.5 9-5 10.5-5.5 7.5-1.5 3-3 9-7.5 12-2 9-1 3-7.5 12-1 3 0 6-1.5 4-1.5 2-1.5 .5-2-.5-1-1.5-.5-3 3-7.5 .5-3-1.5-7.5 0-3 1.5-4.5 3.5-7.5 .5-3 .5-6 1-3 6-10.5 2-7.5 1-3 7.5-10.5 3.5-9 7.5-9 4.5-9 8.5-9 4.5-7.5 8-7.5 6-7.5 8.5-7.5 5-6 9.5-7.5 5.5-6 8.5-6 5-5 8.5-5.5 5-4.5 9-4.5zM858.5 262l7-1 3 0 3 .5 1.5 1 1.5 2.5 .5 1.5-.5 1.5-1.5 1.5-4.5 3.5-4 4-6.5 3.5-6 4.5-7.5 4-6 4.5-7.5 3.5-7.5 5.5-8 4.5-7 5.5-8.5 5-6.5 6-9 6-6 6.5-9 7-6 7-9 8-5 7.5-9 9-5.5 9-7 7.5-2 3-3 6-3 3.5-4.5 4.5-4.5 3-1.5 .5-1.5-1-1-4.5 0-4.5 1-3 5.5-9 3.5-9 7-9 3.5-7.5 2-3 7.5-7.5 5-7.5 8-7.5 6-7.5 9-7.5 6-6 8-6 6.5-6 9.5-6 6-5 7.5-4.5 7.5-5.5 8.5-4.5 5-3.5 8-4 7-4.5 8-3zM685.5 263.5l3 0 1.5 1.5-.5 1.5-1 1.5-3.5 4.5-2 6-2 3-5.5 6-2 4.5-2 3-6.5 7.5-4 7.5-7.5 9-4 9-7 9-1.5 3-2 6-6.5 9-1.5 3-2.5 9-5.5 9-1.5 3-1.5 9-1.5 3-4 7.5-1.5 3 0 3 0 4.5-.5 3-5.5 12-.5 3 .5 6 0 3-.5 3-3.5 9-1 3 .5 3 1.5 6 0 3-1 4.5-3 7.5-.5 3 .5 3 3 6 .5 3-.5 3-1.5 4.5-1.5 4-1.5 2-1.5 .5-1.5 0-3-2-1-1.5-1-1.5-.5-3 .5-3 2-10.5-.5-3-3-6-.5-3 .5-4.5 2.5-7.5 .5-3 0-3-1.5-6 0-3 .5-3 4-10.5 0-3-.5-6 .5-3 5-12 1-3 0-4.5 0-3 1.5-3 5.5-10.5 1.5-9 1.5-3 5.5-9 2-7.5 1-3 7.5-10.5 2.5-7.5 2-3 5.5-7.5 4.5-9 7.5-9 3.5-7 7.5-8 4.5-7.5 8-7.5 4.5-6 4-3zM631 283l2-.5 1.5 0 1 .5 .5 1.5-.5 1.5-5 7.5-1 6-1.5 3-5.5 7.5-2.5 7.5-7 10.5-2 7.5-7.5 12-2.5 9-6 10.5-1 3-1 7.5-5.5 10.5-1 3-.5 7.5-.5 3-4.5 9-1.5 4.5 .5 7.5 0 3-4.5 12-.5 3 0 3 1.5 4.5 0 3-.5 3-3.5 9-.5 3 .5 3 2.5 6 .5 3-1 4.5-2.5 9 0 3 1 3 3 4.5 .5 1.5 .5 3-.5 4.5-2.5 10.5-.5 3 6.5 6 1.5 3 0 3-.5 6-2 4-1.5 1-1.5 .5-1.5 0-3-2-1-2-.5-1.5 0-5 2-11.5-.5-1.5-6-4.5-1.5-2-1-2.5 .5-4.5 2-9 0-3-1-3-3.5-6-.5-3 0-3 3-12 0-3-2.5-6-.5-3 1-3 3-9 .5-3 0-3-1.5-4.5 0-3 .5-3 4-9 .5-3 .5-3-.5-4.5 0-3 1-3 5-10.5 .5-3-.5-4.5 1-3 6-12 1.5-9 1.5-3 5-9 1.5-3 .5-4.5 1-3 7-10.5 1.5-6 1.5-3 6.5-9 3-7.5 8.5-10.5 2-4.5 1.5-2.5 3-2.5zM919.5 283l3-.5 4.5 0 4.5 .5 3 1 2 2 .5 1.5 .5 3-.5 1.5-1 1.5-4.5 3-3.5 3-3 1.5-5.5 2.5-6 3-7.5 3-6 3-7.5 2.5-7.5 4-8.5 3-6.5 3.5-9 4-7.5 4.5-9 4.5-6.5 4.5-8.5 4.5-7.5 6-9 6-6 5.5-9 6.5-6 6.5-11 8.5-5.5 6-3 2.5-4.5 2.5-4.5 2-3 0-1-1-.5-1.5-.5-3 1.5-4.5 2-3 5-6 3.5-6 2-3 7.5-7 7-8 7.5-6 6-6 9-6 6.5-5.5 9-5.5 7.5-5.5 7.5-3.5 7.5-5 8-3.5 7-4 8.5-3.5 6.5-3.5 7.5-3 7.5-3.5 7.5-2.5 6-3 7.5-2zM583 310l2-1 1.5 1 .5 1.5 0 1.5-5.5 9 0 1.5 0 4.5 0 1.5-6 10.5-1.5 9-6 10.5-.5 3 0 4.5-1 3-6 12-.5 3 .5 4.5-.5 3-6 13.5 0 3 .5 4.5 0 3-5 13.5-.5 3 1.5 6 0 3-3.5 12-1 3 .5 3 2 4.5 .5 3-.5 4.5-3 10.5 0 3 .5 1.5 3 6 1 3-.5 3-2.5 13.5 1 3 5 6 .5 3 0 4.5-2 13.5 .5 1.5 6 4.5 1.5 1.5 1 1.5 .5 3 0 6-1.5 7.5-1.5 2-1.5 .5-1.5 0-4.5-2-1.5-1.5-1-2 0-4.5 1.5-13.5 0-1.5-1-1.5-4-2.5-2.5-2-1.5-3-.5-4.5 2-13.5-1-3-4-4.5-.5-1.5-.5-3 0-3 2.5-10.5 0-3-.5-3-3-4.5-.5-3 .5-4.5 2.5-9 .5-3 0-3-2.5-6 0-3 4-12 .5-3-1-7.5 0-3 5-13.5 .5-3-1-4.5 .5-3 1-3 4.5-10.5 .5-3 0-4.5 .5-3 6-12 .5-6 .5-3 7-12 .5-6 1.5-3 7-10.5 .5-1.5 .5-4.5 1.5-2.5 3-3.5zM975.5 317.5l4-.5 3 0 6 1 4.5 2 2 2 1 1.5 0 3-.5 3-1.5 1.5-8.5 5.5-12 4.5-9 2-6 2-7.5 1.5-7 2.5-8 1.5-7.5 3-7.5 1.5-7.5 3-9 3-7.5 3-9 3.5-7.5 4-9 4-7.5 4.5-9 4.5-7.5 5-10.5 6-7.5 5.5-11.5 5-4 6-4 3.5-4.5 2-3 .5-1.5-.5-1-1-.5-3 1.5-3.5 3-3.5 5.5-3.5 3.5-9 3.5-4.5 5.5-4.5 7.5-7.5 7.5-5 7.5-6 9-5 7-5 8-3.5 9-5 7.5-3 7.5-3.5 9-3 7-3 8-2.5 7.5-2.5 7.5-2 7.5-2.5 7.5-1.5 6-2 7.5-1.5 6-2zM541 344.5l2 .5 0 2.5-5.5 10.5 0 1.5 1.5 3 .5 3-1 3-4.5 9-.5 1.5 1 4.5 0 3-1 3-4.5 10.5 0 3 1 4.5-.5 3-4 10.5-1 4.5 1.5 6 .5 3-1.5 4.5-2.5 7.5-1 4.5 1 3 1.5 3 .5 3-1 4.5-3 10.5 0 3 .5 1.5 3 6 .5 3-3 16.5 0 1.5 1 1.5 3.5 4.5 1 3 0 4.5-1.5 10.5-.5 4.5 .5 1.5 6 4.5 1 2 .5 2.5 0 6-1.5 10.5-.5 2-1.5 .5-3-1-3-1.5-1.5-1.5-1-1.5-.5-4.5 1.5-13.5 0-3-.5-1.5-5.5-4.5-1.5-3 0-4.5 2.5-13.5-1-3-3.5-4.5-1-3 .5-4.5 2-10.5 .5-3-.5-3-2.5-4.5-.5-3 0-3 3.5-10.5 .5-3-.5-3-2-4.5 0-3 .5-3 4-12 0-3-1-3-.5-3 1-4.5 4.5-10.5 0-3-.5-4.5 0-3 6-13.5 0-1.5-.5-4.5 .5-3 2.5-4.5 5.5-9 0-1.5-1-3 .5-3 3-4.5 3-2.5zM1030.5 364l4.5 .5 6.5 2.5 4 3 1.5 3 0 4.5-1 3-1.5 1.5-8.5 4.5-11.5 3-13.5 2-21 2-16.5 2.5-6 1-9 1.5-7.5 2-7.5 1-18 5-7.5 3-9 2.5-7.5 3.5-10.5 4-7.5 3.5-13.5 4-6 4-3 1-4.5 1.5-4.5 0-2-.5-1-1.5 .5-3 2.5-4.5 4.5-3.5 9.5-10 3.5-3 15.5-9.5 7.5-3.5 7.5-4 9-3 7.5-3 9-3 7.5-2.5 9-2 7.5-2 7.5-1.5 7.5-1.5 7.5-1 7.5-1.5 7.5-1 7.5-1 6-.5 6-1 7.5-1 6-1zM759.5 401.5l1-.5 1.5 0 .5 2-.5 4.5-1.5 3-3 3-3 2-3 .5-1.5-1-.5-3 .5-2.5 1-2 3.5-3zM500.5 406l.5-.5 1.5 0 .5 .5 .5 1.5-.5 3-3.5 7-1.5 1.5-1.5-.5-1-2 .5-3 2-4.5zM707 416.5l1-.5 1.5 0 .5 .5 .5 1.5 0 3-1 2-1.5 2-3 2-1.5 0-1.5-1.5 0-3 1.5-3zM1000 422.5l26-1 27 .5 12 0 10.5 1.5 3 1 2 1 2.5 1.5 3 3 1 1.5 1 3 0 4.5-.5 1.5-1.5 2-7.5 5-3 1-9 1.5-13.5 .5-34.5-1-15 .5-15 .5-16.5 1.5-16.5 2.5-18 3.5-9 2.5-18 3-7.5 .5-4.5-.5-2.5-.5-2-2-.5-1 1-3 5.5-6 3.5-3 13-7.5 16.5-6.5 18-5 16.5-3 15-2zM497 427l1-1 1.5 0 1 1 1 1.5 0 3-.5 3-3 7-1.5 3.5-1.5 1-1.5-1-1.5-2.5 0-3.5 1.5-6 1.5-3zM495 449.5l1.5-1 1.5 1 1.5 2 1 2.5-.5 3-.5 3-4 12 0 1.5 4 4.5 .5 1.5 .5 3-1 6-3 11.5-1.5 .5-3.5-3-1.5-3 0-3 .5-3 3.5-13.5 .5-1.5-2.5-2-1.5-2.5-.5-3 0-3 1.5-4.5 2-5.5zM474 481l.5 1.5-.5 2.5-1.5 2-.5-1.5 0-1.5 .5-1.5zM979.5 482.5l10.5-1 16.5-.5 15 .5 13.5 1 27 3 36 5.5 10.5 3.5 3 2.5 2.5 3.5 1 3 .5 3-.5 3-.5 1.5-1.5 2-7.5 5-3 1-9 1-12-.5-46.5-7-13.5-1.5-15-1-18-.5-40.5 1.5-4.5-.5-7.5-1-4.5-1-3-1.5-2-2-.5-1.5 0-1.5 2-3 5-4.5 5.5-3 3.5-1.5 15-4 16.5-3zM495.5 502l1-1 .5 1 4 3 1.5 3 .5 1.5-.5 4.5-1.5 7.5-1.5 5.5-1.5 1-3-1.5-1.5-1.5-1.5-3.5 0-3 .5-4.5 2.5-10zM474.5 503.5l1-1 1.5 0 1.5 2.5 0 3-1.5 7-1.5 3-1.5 .5-1.5-1-.5-.5-.5-3 1-6zM598.5 517l1.5-1.5 1.5 .5 1 2.5-1 3-1.5 1-1.5-1-.5-3zM479.5 529l.5 0 2 1.5 1 3 0 3-1.5 8-1.5 2.5-1.5 .5-1.5-.5-1.5-2.5-.5-5 1-4.5 1-4 1.5-2zM457 532l.5-1 1.5 0 .5 2.5-.5 2.5-1.5 2.5-1-2 0-1.5zM499.5 532l0-1 1.5 0 3 1.5 2.5 2.5 1 3 0 4.5-1.5 9-.5 3.5-1.5 1.5-3-.5-2-1.5-1.5-1.5-.5-3 0-7.5zM978 542.5l6 0 16.5 .5 15 1 15 2.5 27 5 46.5 12.5 10.5 3 4.5 2.5 4.5 3 2 3 1 3 0 3-.5 3-1 2.5-1.5 2-3.5 3-4 2.5-10.5 1.5-10.5-1-12-3-31.5-8.5-27-6.5-16.5-3.5-39-6-7.5-1.5-8.5-2.5-4.5-1.5-2-1.5-3-3-.5-3 .5-1.5 2-3 2.5-1.5 6-2.5 8-2zM463 554.5l.5-.5 1.5 0 .5 .5 1 1.5 .5 3 0 4.5-1 3-1 3-1.5 .5-1.5-.5-1-1.5-.5-3 .5-6 1-3zM484 559l2-.5 1.5 1 1.5 1.5 .5 2.5 0 3-.5 4.5-1.5 3.5-1.5 1-1.5 0-1.5-1.5-1-3 0-3 .5-4.5 .5-2.5zM506 562l1-1 1.5 0 3 1 2.5 1.5 1 1.5 .5 1.5 .5 4.5-1 9-.5 3.5-1.5 2-1.5 .5-3-1-3-2-.5-1.5-.5-3 0-6 1-7.5zM532 568l.5-1 4.5 1.5 3 1.5 2 2.5 1 4.5-.5 9-1 5-1.5 1.5-3 0-3-1-2-1-1-1.5-.5-1.5-.5-3 0-6 1-8zM564 577l3 1 1.5 1 2 2.5 1 3 0 4.5-1 4.5-.5 1.5-1.5 1-1.5 .5-3 0-1.5-1-1.5-1.5-.5-2-.5-6 1-6 1.5-2.5zM450 583l1.5-.5 .5 2 0 3-.5 3-1.5-.5-.5-1 0-3zM470 583l1-1.5 1.5 0 2 1.5 1 3 .5 4.5-.5 5-1.5 3.5-1.5 1-1.5-.5-1.5-1.5-1-3 0-7.5zM493.5 587.5l1.5-1 1.5 0 1.5 .5 1.5 1.5 .5 2 .5 6-.5 6-.5 3-1.5 1-1.5 .5-1.5-.5-1.5-1.5-1-2.5-1-4.5 0-4.5 .5-3zM516.5 592l1-1 1.5-.5 3 1 3 1 2 2.5 .5 4.5 0 9-1 4.5-1.5 1.5-3 .5-3-.5-2-1.5-1-1.5-.5-4.5 0-6 .5-6zM545.5 598l2-.5 4.5 1 1.5 1 1.5 1.5 1 1.5 .5 6 0 6.5-.5 2.5-1 1.5-1.5 1-3 .5-3-.5-2.5-1-1-1.5-.5-6 0-7.5 1-4.5zM958 602.5l9.5-.5 6 .5 15 2 15 3 15 3.5 13.5 4 27 9 44.5 17.5 9.5 4.5 3.5 3 2.5 4.5 1 3-.5 3-.5 1.5-2.5 4.5-5 4.5-3 1-6 1-4.5 .5-7.5-1-12-3.5-52.5-20.5-54.5-19.5-17-7.5-2.5-1.5-3.5-3-2-3-1-3 1.5-3 2.5-2 3-1.5zM460 607l.5-.5 1.5 .5 1.5 2.5 .5 2 0 7.5-.5 2-1.5 2-1.5-.5-1.5-1.5-1-3.5 0-4.5 0-3 1-2.5zM481 613l.5-1 1.5-.5 1.5 .5 1.5 2 .5 2 1 4.5-.5 4.5-1 2.5-1.5 1-1.5 0-1.5-1.5-1-3.5-.5-6zM505 616l.5-.5 1.5-1 3 .5 2.5 1 1 1.5 1 6 .5 9-1 3-1 1.5-1.5 .5-3 0-2-.5-1-1-1-2-1-6 0-6 .5-4.5zM533 620.5l4 0 3 .5 1.5 1 1 1.5 1 9-.5 7.5-.5 1.5-1.5 1.5-2.5 .5-4.5 .5-1.5 .5-.5 3 1 12-.5 4.5-1.5 2-6 2-1 .5-.5 1.5 1.5 12-.5 4.5-1 2-1.5 1-3.5 1.5-1.5 1.5 0 3 2 10.5 0 3-1.5 2-4 2.5-1 1.5 0 3 2 9 0 3 0 1.5-1.5 2-5 2.5 0 1.5 3.5 10.5 0 3 0 1.5-1 1.5-2 1-1.5-.5-1-.5-2-2.5-2-5-1-4.5 0-3 1.5-1.5 2-1.5 1.5-1.5-3-12-.5-4.5 1-3 .5-1 3.5-2 .5-1.5 0-3-1.5-9-.5-4.5 .5-1.5 1-1.5 4-2 1.5-1 0-.5 0-2.5-1.5-12 .5-3 .5-1.5 2-1.5 5-1.5 1-1.5-1-13.5 .5-4.5 2-2 3-.5 4.5-.5 .5 0 .5-1.5 0-16.5 .5-3zM563.5 628l2-1 1.5 .5 2.5 .5 2 1.5 2 3 1 6-.5 4.5-1 2-1 1-2 1-3 .5-3 0-1.5-1.5-1-6 0-6 .5-4.5zM451.5 635.5l0-.5 .5 .5 1 .5 0 1 .5 3-.5 3-1.5-.5-.5-1-.5-3zM472 635.5l.5-.5 1.5 0 1.5 .5 1.5 2.5 .5 2 .5 4.5 0 4.5-1 3-1.5 .5-1.5 0-1.5-1.5-1.5-4-.5-7 .5-3zM496.5 640l1.5-.5 1.5 0 2 .5 1 1.5 1 3 1 7.5 0 4.5-.5 1.5-1.5 1.5-1.5 .5-2.5-.5-1.5-1.5-1.5-4.5-1-4.5 0-4.5 1-3zM553 649l5-.5 3.5 .5 1 2 .5 4 1 6 0 4.5-.5 1.5-1 2-1.5 1.5-6 2.5-.5 1.5 0 3 1 9 0 3-.5 1.5-1 1.5-4.5 3-1.5 1.5-.5 3 1.5 9 0 4.5-1.5 2.5-2.5 2-1.5 1.5-.5 1.5 2.5 13.5-1 3-3 3-1 1.5 0 1.5 2.5 10.5 0 3-.5 1.5-3 4.5-.5 1.5 .5 3 2.5 7.5 0 3-.5 2-2.5 4 0 1.5 3 9 .5 3-1 3-2.5 3 0 1.5 3.5 9 .5 3-.5 1.5-1 1-1.5 .5-1.5-.5-3-3-3-5-1-3.5 0-1.5 1.5-4.5 0-1.5-4.5-10.5-.5-3 0-3 2-3 0-3-2.5-9-1-4.5 .5-1.5 3-4.5 0-1.5 0-3-2-7.5-.5-3 1-3 2.5-3 1-1.5 0-3-2-10.5 0-3 1-1.5 4-3 .5-1.5 .5-3-2-10.5 .5-3 1-1.5 5-3 1-1.5 0-3-1-10.5 .5-3 1-1.5 1-1 5.5-2 1.5-1.5 0-3-.5-12 1-3zM587 658l1-1 1.5 0 1.5 .5 2.5 2 1.5 3 0 3-.5 1.5-.5 1.5-1.5 1-1.5 1-1.5 0-1.5-.5-1.5-2-1-5.5 .5-3zM940 658l3.5-.5 3 .5 12 2.5 4.5 1 15 5 28.5 11.5 36 17 33 17 11 6 7 5.5 1.5 2 1 4.5-1 4.5-3 4.5-4.5 3.5-7.5 1.5-4.5 1-10.5-2-10.5-3.5-10.5-5-21-11-51-27.5-16-9.5-13.5-9-3.5-3-3-3-2-3-1-3 0-3 1-1.5 2-1.5zM466 659.5l.5 0 2 1.5 1 2.5 1 3.5 0 3 0 3-1 1.5-1.5 1-1.5-1-1.5-2-1.5-5.5 0-4.5 1.5-3zM488 665.5l1-1 1.5 0 3 2.5 1 1.5 1 3 .5 4.5-.5 3-1 1.5-2.5 .5-1.5-.5-1.5-1.5-1.5-4.5-.5-3 .5-4.5zM576.5 676l2.5-1 3-.5 3 .5 1.5 2.5 .5 1.5 1.5 4.5 .5 4.5-.5 3-.5 1.5-1.5 2-4.5 3.5-1 2 0 3 1.5 7.5 0 3-1 3-4 4.5-1 1.5 0 3 1.5 7.5 .5 3-1 3-3.5 4.5-.5 1.5 .5 3 2 7.5 0 3-.5 3-2.5 3-.5 3 2.5 9 .5 3 0 1.5-2 4.5-.5 1.5 .5 3 3 9-.5 3-1 3-.5 3 4 10.5-.5 3-1 4.5 0 1.5 3 7.5 1 3 0 1.5-1.5 4.5 0 1.5 3.5 7.5 1 3-.5 1.5-1.5 1.5-1.5 .5-1.5 0-3-2.5-3-3.5-2.5-3.5-1-3 0-4.5-.5-3-5-10.5 0-3 .5-3 0-3-3.5-9-1-3 .5-1.5 1.5-4.5 0-1.5-3-9-1-3 1-3 1.5-3 0-3-2.5-9-.5-3 .5-2 2.5-4 .5-1.5 0-3-2-9 0-3 .5-1.5 3-3.5 1-2.5-.5-3-1.5-7.5 0-3 1-2.5 4-3.5 1-1.5 0-3-1-9 0-3 .5-1.5 1.5-1.5 4.5-3 1.5-1.5 0-3-.5-10.5 .5-2.5zM482 688l1-.5 1.5-.5 1.5 1 1.5 1.5 1 3 1 4.5 .5 4.5-1 2-1.5 1-1.5 0-1.5-1-2-3.5-1.5-7.5 .5-3zM460.5 689.5l0-1.5 1.5 0 1 4.5-.5 1.5-.5 .5-1.5-3zM606.5 700l2.5-1 1.5 0 3 .5 1.5 1.5 1.5 2.5 1.5 5.5-.5 3-.5 1.5-4 4.5-.5 1.5-.5 1.5 2.5 12-.5 3-3.5 5.5-.5 2 0 3 2.5 9-.5 3-2.5 4.5-.5 3 .5 3 2 6 .5 3-1 3-1 3-.5 3 3.5 10.5-.5 3-1 4.5 0 1.5 .5 3 3 7.5 0 3-.5 3 0 3 3.5 7.5 .5 3-.5 6 .5 1.5 4 9 .5 3-.5 4.5 .5 1.5 3 6 1.5 3-.5 6 .5 1.5 4 7.5 0 1.5-.5 1.5-1 1-1.5 .5-1.5 0-3-1.5-3-2.5-3.5-3.5-1.5-3-1.5-6-6-9-1-3 0-4.5 0-1.5-4.5-7.5-1-3 .5-6 0-1.5-3.5-7.5-1-3 0-1.5 1-6-1-3-2.5-6-1-3 2-7.5-1-3-2-6-.5-3 .5-3 1.5-3 .5-3-3-9 0-3 1-3 2-3 .5-3-2-9-.5-3 1.5-3 2.5-3 1-3 0-3-1.5-7.5 .5-3 1-2 4.5-4 1.5-1.5 .5-3-1-9 .5-2.5zM909 707.5l1.5-.5 3-.5 6 .5 16.5 7.5 28.5 16.5 30 19 6 3.5 4.5 3 6 3.5 15 10 6 3.5 4.5 3.5 5 2.5 10 7.5 5.5 7.5 0 3-1.5 3-2.5 3-3 2-9 2.5-4.5 0-10.5-2-9-3.5-12-6.5-4.5-3-4.5-2.5-22.5-15-4.5-4-6-3.5-6-5-6-4-6-5-6-4.5-14.5-12-12-12-2.5-3-1.5-3-2-4.5-.5-3 1-3zM478.5 712l1.5-1 1.5 .5 1.5 1.5 1 2 1 3 .5 4.5 0 1.5-1 2-1.5 0-1.5-1-1.5-2.5-2-6 0-3zM643 722.5l.5-.5 1.5 0 1.5 .5 1 1.5 .5 1.5-.5 1.5-1 2-1.5 1.5-1.5 .5-1.5-5.5 0-1.5zM643 733l.5-1 1.5 2.5 3.5 7.5 1.5 4.5-.5 4.5-1.5 4.5-.5 3 .5 3 2 6 .5 3-.5 3-1.5 6 .5 3 2 6 1 3-1.5 9 4 10.5 0 3-.5 4.5 0 1.5 4 9 .5 3 0 4.5 0 1.5 4.5 9 .5 1.5 0 4.5 .5 3 4.5 7.5 1 7.5 5 9 .5 6 1.5 3 3.5 4.5 .5 3 .5 4.5 4 7.5 .5 1.5-1 1.5-2 1.5-1.5 0-3-1-6-3.5-2.5-3-3-6-6.5-7.5-1-3-1.5-4.5-5.5-9-1.5-7.5-5-9-.5-7.5-4-7.5-1-3 .5-4.5-.5-3-4-9 0-3 .5-4.5 0-1.5-3.5-10.5-.5-1.5 1.5-4.5 0-3-3-10.5 0-3 2-4.5 .5-3-2-7.5-.5-3 .5-3 2.5-4.5 1-3-1.5-9 .5-3 .5-1.5 1.5-2 6-5zM872 745l4 0 4.5 1 15 10.5 7.5 6.5 6 4.5 6.5 6 7 5.5 4.5 4.5 6 4.5 5.5 5 6 4.5 5 4.5 6 4 4.5 4.5 5.5 3.5 5 4.5 4.5 3 4.5 4 5.5 3.5 3.5 3.5 6 4 3 3.5 4.5 4 1 1.5 1 4.5-1 3-1 1.5-1.5 1.5-3 1.5-7.5 2-3 0-12-2.5-4.5-2.5-6-2.5-5-3.5-5.5-3-4.5-4-6-4-4-4-5-3.5-4.5-4.5-6-4.5-5.5-5.5-5-4-4.5-5-6.5-6-5.5-6-6-6-4.5-6-7-7.5-8.5-13.5-1.5-3-1-3-.5-4.5 .5-3 1.5-2zM678 752.5l1.5-1 1.5 0 1.5 0 1.5 1.5 1.5 2.5 .5 9 4.5 9 1 3 0 3-.5 4.5 .5 3 4 10.5 0 9 4 9 .5 3 .5 6 1 3 3.5 6.5 1.5 8.5 4.5 7.5 2 9 5 7.5 2 7.5 5 7.5 1.5 6 5.5 7.5 1.5 6 5.5 7.5 1.5 6 4 6 0 1.5 0 1.5-2 1.5-1.5 .5-3 0-4.5-1.5-3-1.5-2.5-2-3-4.5-6.5-5.5-1.5-2-3-6-6.5-7.5-1-4.5-1.5-3-4.5-6-2-7.5-4-6-1.5-3-1-4.5-.5-3-4.5-7.5-1-7.5-1-3-2.5-4.5-1.5-3 0-6-.5-3-3.5-7.5 0-3 .5-4.5-.5-3-2.5-7.5-.5-3 1.5-9-2.5-9 0-3 1-3 3-6 .5-3-.5-6zM501 761.5l1.5-1.5 1.5 0 1.5 1.5 1.5 2.5 1.5 3.5 .5 3 0 1.5-.5 1.5-1.5 .5-1.5-.5-1.5-2-1.5-2.5-1-3-.5-3zM824.5 770.5l3.5-.5 4.5 1.5 13.5 12.5 5.5 7.5 7.5 7.5 4 6 6 6 4.5 6 6.5 6 4.5 6 5 4.5 4.5 5.5 6 5 4.5 5.5 4.5 3.5 4.5 5 5 4 4 4.5 6 4.5 3 4 6 5 6 9 0 1.5-1.5 3-2 1.5-2.5 1-3 1-3 .5-3-.5-12-3-5-3.5-6-3-5.5-4.5-4.5-3-4.5-4.5-6-5-4.5-5-4.5-4-4.5-5.5-6-5.5-4.5-6.5-4.5-4.5-4.5-6.5-5-5.5-4.5-7.5-5.5-6.5-3.5-7-5-7.5-1.5-3-6-16.5 0-3 1-3 1.5-2.5zM723.5 773.5l1-.5 1.5 0 1.5 .5 1.5 1 1.5 1.5 3 8 6 9 1 3 1 6 1.5 3 4 7.5 2.5 9 4.5 7.5 2 7.5 5.5 9 3 7.5 5 7 2.5 6.5 5.5 7.5 2.5 6 5.5 6 2.5 6 5.5 6 3 6 5 6 2.5 6 4 4.5 .5 1.5 0 2.5-1.5 2.5-1.5 1-3 .5-3-.5-4.5-1-3-1.5-3-2-2.5-3-8-5.5-3-5-6.5-6-3.5-6-5-6-4-7.5-4.5-6-3-7.5-5-6.5-3-8.5-4.5-7.5-2-7.5-4-7.5-1-3-1-6-3.5-7.5-1-3 0-7.5-3-9-.5-3 1.5-9-.5-9 .5-1.5zM773.5 781l2-.5 1.5 0 3 1 1.5 1.5 4 5.5 6.5 7 2 3.5 2.5 6 6.5 9 3.5 7.5 5 6 4 7.5 5 6 4 7.5 5.5 6 4 6.5 5.5 5.5 3.5 6 5 4.5 4 6 5 4.5 4 6 5 4.5 2.5 4.5 4.5 4.5 1.5 3 1.5 6 .5 1.5-1 1.5-2.5 1.5-3 0-13.5-3-3-1.5-3.5-3-7-4-2-2-2.5-3-7.5-6-3-4.5-6-5.5-3-5-5.5-6-3.5-6-5.5-6-3.5-7-5-6.5-2.5-6-5.5-7.5-3.5-9-4.5-7.5-2-7.5-4-7.5-1-4.5-.5-7.5-1.5-9 1-3z"/>
<path fill="#caff2c" d="M787.5 262l4.5-1 3-.5 1.5 .5 1.5 .5 1 2-.5 1.5-1 1.5-5.5 4.5-3 4.5-8 6-6 6-7 5-7 7-8 6-6 7-8 6.5-5.5 7.5-8.5 7.5-5 8-8.5 8.5-5 9-6.5 7.5-2 3-3.5 8-6.5 8.5-2 3-2 7.5-1.5 3-8 10.5-1 3-1 6-1.5 3-2 2.5-1.5 1-1.5 .5-1.5 0-1-1-.5-1 0-2 1-3 3.5-7.5 .5-3-.5-4.5 .5-3 1-3 5.5-9 2-9 1.5-3 6-9 4-9 7-9 5-9 8.5-9 4.5-7.5 8-7.5 5.5-7.5 9-7.5 5-6 8-6 6-6 8.5-6 6.5-5.5 9-5 6-4.5zM729 265l3-1 3 0 2 1 .5 1.5-1 1.5-5.5 6-2.5 4.5-1 1.5-6.5 6-5.5 7.5-8 7.5-5 7.5-7.5 7.5-5 8.5-7.5 8-4.5 9-6.5 7.5-2 3-3.5 9-6.5 9-1.5 3-2 7.5-7.5 12-2 10.5-6.5 12-.5 3-.5 6-.5 3-2 4.5-4.5 7.5-.5 3 1 7.5-1 4.5-1.5 3-1.5 2-1.5 1-1.5 0-2-1.5-1-3 1-4.5 3-6 .5-3-.5-3-1.5-4.5-.5-3 1-3.5 4.5-10 0-10.5 1-3 4.5-7.5 1-3 1.5-9 1.5-3 5.5-9 2-7.5 1-3 6.5-9 1.5-3 1.5-4.5 1.5-3 7.5-9 3.5-7.5 9-10.5 4.5-7.5 8-7.5 5-7.5 8.5-7.5 4.5-6 10-7.5 5-5zM848 269.5l7-1 3 0 3 .5 1 .5 .5 1.5 .5 3-1 1.5-6.5 4.5-5 4.5-7.5 4-6 4.5-7.5 4-7.5 5.5-8 4.5-5.5 4.5-9.5 6-6.5 6-9 6-5.5 6-9.5 7.5-5 6-9 7.5-6 8.5-8.5 8-6.5 9.5-11 10-3.5 6-1.5 1.5-2 1.5-1.5 0-1.5-1 0-2 4-7.5 1-7.5 1-3 7-9 4-9 8.5-9 4.5-7.5 8.5-7.5 6-7.5 8-6.5 6.5-7 8.5-6 6.5-6 8.5-5 6.5-5.5 8-4.5 6.5-5 8.5-4 6.5-4.5 9-3.5zM674.5 277l2-.5 2 .5 1 1.5-.5 1.5-5 6-1 1.5-2 6-2 3-5.5 6-3.5 7.5-7.5 9-4 9-7 9-1.5 3-1 4.5-1.5 3-5.5 7.5-2 3-2 9-7.5 12-1 7.5-1 3-5 9-1 3-.5 3 0 6-1 3-4.5 9-1 3 0 3 .5 6 0 3-1 3-4 9-.5 3 0 1.5 2 6 0 3-.5 3-2 5-3 5.5-1.5 1-1.5-.5-3-3-1-3.5 0-4.5 3.5-9 0-3 0-1.5-2-6 0-3 1-4.5 3.5-9 .5-3-1-6 0-3 1.5-3 4-9 .5-3 .5-7.5 1-3 5.5-10.5 1-7.5 1-3 6.5-10.5 1-3 1-4.5 1.5-3 6.5-9 1.5-3 1.5-6 2-3 6-7.5 4.5-9 8-9 4-7.5 9.5-9 3.5-6 3-2.5zM909 289l9-.5 6 1 1.5 1 .5 1.5-.5 4.5-1.5 2-6 3-5.5 4-6.5 2.5-6.5 3.5-8.5 3-6 3.5-9 3.5-6 3.5-9 3.5-7.5 5-9 4-7.5 5.5-8.5 4.5-6.5 5-8.5 5.5-8 7-9.5 6.5-5.5 5.5-3 2.5-9.5 5.5-7 5-3 1-1.5-.5-.5-1 .5-1.5 3-6 3-7.5 2-3 6.5-6 4.5-6 2.5-3 7-5.5 6.5-6.5 8.5-5.5 6-5.5 9.5-5.5 7-5 9-4.5 6-4 9-4 7.5-4.5 7.5-3 7.5-3.5 8.5-3 5-2.5 9-2.5zM621 299.5l3-1.5 1.5 .5 1 1-.5 1.5-.5 1.5-5.5 7.5-.5 6-.5 1.5-7.5 10.5-1.5 7.5-1.5 3-6 9-2 9-7 12-1.5 9-6.5 13.5-.5 3 0 4.5-.5 3-4.5 10.5-1 3-.5 3 1 4.5-.5 3-.5 3-4 9-.5 3 0 3 1.5 4.5 0 4.5-4 12-.5 3 0 1.5 3 6 .5 4.5-1 4.5-3 9-1 3 1 1.5 2.5 2.5 2 3.5 .5 3 0 3-1 4.5-1.5 4-1.5 1.5-1.5 .5-1.5 0-1.5-1-1.5-1.5-1-3.5 .5-6 3-10.5-1-1.5-4.5-5-1-4 .5-4.5 2.5-9 .5-3-.5-1.5-2.5-6-.5-4.5 4.5-13.5 0-3-1.5-4.5 0-3 1-4.5 4-10.5 .5-3-1-4.5 .5-3 .5-3 5-10.5 .5-3 0-4.5 .5-3 1.5-3 5-9 .5-3 .5-4.5 1-3 7-12 1-6 1-3 7.5-10.5 1.5-6 1.5-3 8.5-10.5 2-6 2.5-3zM965.5 322l3.5-.5 3 0 6 1 4.5 1.5 2 1 .5 1.5 0 3-1 3-1.5 2-11 5.5-7 2-6 2-7.5 1.5-7.5 2.5-7.5 2-7.5 2.5-9 2.5-7.5 3-7.5 2-7.5 3.5-9 3-7.5 4-9.5 4-7 4.5-10 4.5-8 5-10.5 5-7.5 4-3 1-3 .5-2-.5-2-1.5-.5-1.5 1-3 6.5-7.5 3.5-4.5 3-3 7-5 7.5-6 7.5-4 7.5-5.5 9-4 6-3.5 9-3.5 9-4.5 7.5-2.5 7.5-3 7.5-2 7.5-2.5 8-2 7-2.5 7.5-1 6-2zM577 328l.5 0 1 1.5 0 1.5-1 2-4 5.5-1.5 3 0 1.5 1 3-.5 3-1 3-5.5 9 0 1.5 0 4.5-.5 3-1 3-4 7.5-1.5 3 0 1.5 .5 4.5-.5 3-1 3-4 9-1 3 1 6-.5 3-5.5 15 .5 3 1.5 4.5 0 3-1 4.5-3.5 9-.5 3 .5 1.5 2.5 6 0 3-.5 3-2.5 9-1 4.5 1 3 3 4.5 1 4.5-.5 4.5-3.5 13.5 4 3 2.5 3 1 3 .5 3-1 6-1.5 5-1.5 2.5-1.5 .5-3-1.5-1.5-1-1.5-2.5-.5-1.5 .5-6 2.5-12 0-1.5-5.5-4.5-1-1.5-1-3 .5-4.5 3-12-.5-3-2.5-3-1.5-3 0-3 .5-4.5 3-10.5 0-3-2-4.5-.5-3 .5-4.5 3.5-9 .5-3 0-3-1.5-4.5 .5-3 .5-3 4-9 1-3-1-7.5 .5-3 5-10.5 1-3 0-6 .5-3 7-13.5 .5-7.5 2.5-4.5 6.5-9 0-1.5 0-4.5 1.5-3 2-2.5 3-2.5 1.5-1zM533.5 367l.5-.5 1.5 0 .5 .5 0 1.5-2 3.5-1.5 2-1.5 1-.5-.5-1-1.5 .5-1.5 1-2zM995.5 368.5l6.5 0 6-1 13.5 0 3 .5 6 2 3 1.5 2 1.5 1.5 3-.5 3-1 3-1.5 1.5-11 4.5-12 2.5-37.5 4.5-6 1.5-9 1-7.5 2-9 2-7.5 2-9 2-7.5 3-9 2.5-9 3.5-9 2.5-10.5 4-6 .5-4.5-.5-2.5-1.5-.5-1.5 0-1.5 1-3 2-3 14-10.5 17.5-9 9-3 6-3 9-2.5 7.5-2.5 9-2 7.5-2.5 7.5-1 9-2 7.5-1 6-1 7.5-1zM531 383.5l1.5 1.5 .5 1.5-.5 2-1.5 4-4.5 8.5-.5 .5-.5 1.5 1 .5 1.5 2.5 .5 1.5 0 3-.5 3-5 12 0 1.5 2 4.5 0 4.5-5 15 0 1.5 3 6 .5 3-1 4.5-3.5 10.5 0 3 1 1.5 2.5 3 1 3 0 1.5-.5 6-4 13-3-2-2-2-1-1.5-.5-3 .5-4.5 3-13.5 0-1.5-3.5-4.5-.5-3 .5-4.5 4-13.5 0-1.5-2.5-4.5-.5-3 1-4.5 4.5-12 0-1.5-1.5-4.5 0-4.5 1.5-4.5 5.5-10.5 0-1.5-1-1-1-2 0-1.5 .5-3 1-3 2.5-4 3-3zM992.5 424l5-.5 15-1 15 0 25.5 1.5 12 2 4.5 1.5 5.5 4 2.5 3 .5 1.5 0 3-1 3-1.5 1.5-1.5 1-9 3.5-10.5 1-15 0-21 0-15 0-15 1-16.5 1.5-16.5 2-25.5 4.5-4.5 .5-13.5-.5-3-.5-2-2 0-1.5 1-3 3-3 5-4.5 3.5-2 15-6.5 16.5-5 15-3 16.5-2.5zM495 455.5l1.5-1 1.5 .5 .5 3.5-2 5.5-1.5 2-1.5 .5-1-2 0-1.5 1-4.5zM495.5 479.5l1-.5 1.5 .5 1 3 0 3-1 4-1.5 4-1.5 1.5-1.5 0-1.5-2 0-4.5 1.5-6 1.5-2.5zM989 482.5l17.5-.5 15 .5 13.5 1 27 3 24 5 12 4.5 3 2 2 2.5 1.5 3 1 3-.5 3-1 2.5-1.5 1.5-7.5 3.5-3 .5-10.5 .5-12-1.5-33-4.5-15-1.5-15-1-16.5-1-25.5 0-16.5-1.5-3-.5-3-1-2.5-2-1-1.5-.5-3 .5-1.5 2-2.5 3.5-2 10-4.5 5-1.5 14.5-3zM595 485.5l.5-.5 1.5-1 1.5 1 1.5 2 .5 3 0 3-1.5 3-2 2.5-1.5 .5-1.5-.5-1-1-.5-3 .5-4.5zM497 506.5l1-.5 1.5 0 1.5 2 .5 4.5-.5 4.5-1.5 5-1.5 2-1.5 .5-2-1.5-.5-1.5-.5-3 0-3 1-4.5 1.5-3zM519 509.5l0-1 1.5 .5 3 2 2.5 3 .5 3 0 4.5-1.5 6.5-1.5 5-1.5 1-1.5 0-3-2-1.5-2-.5-2.5 .5-7zM574.5 532l1.5-.5 1.5 1.5 1 2 .5 1.5-.5 3-1 2.5-1.5 1.5-1.5 0-1.5-1-1-3 .5-4.5 .5-1.5zM500.5 535l.5-.5 1.5-.5 1.5 .5 2 2 .5 3 0 4.5-1 6-1.5 3.5-1.5 .5-1.5-.5-1.5-1-1-2.5-.5-1.5 0-3 .5-4.5 1-4.5zM478.5 538l0-1 1 1-1 2zM524.5 539.5l.5-.5 1.5 0 3 2 1.5 1.5 1.5 3 0 6-1.5 7.5-1.5 3-1.5 .5-3-1-1.5-1-1.5-2-.5-2.5 0-4.5 .5-4.5 1.5-6zM980 544l20.5 0 13.5 1 15 2 27 5 25.5 7 12 4 10.5 4 8.5 5.5 2 2 1.5 2.5 1 4.5-.5 3-2 3-4.5 3-4.5 2-10.5 .5-10.5-2-45-11.5-13.5-3.5-40.5-7.5-16.5-4-6.5-2.5-4.5-3-1-1.5-1-1.5 0-1.5 0-1.5 1-1.5 3.5-3 3-1.5 2.5-1zM551.5 548.5l2-.5 3 1.5 2 2 1 3 .5 4.5-1.5 6-.5 1.5-1.5 1.5-1.5 .5-2-.5-2.5-1.5-1-1.5-.5-2.5 0-3.5 .5-4.5 1-4zM508 563.5l.5-.5 1.5 0 1.5 .5 2 1.5 1 3 .5 4.5-.5 6-1.5 4.5-1.5 1-1.5 0-2-1-1.5-1.5-1-3-.5-4.5 .5-4.5 1-4.5zM533.5 569.5l2-.5 1.5 .5 2.5 1.5 1.5 1.5 1 3 0 4.5-.5 6.5-1.5 3.5-1.5 1-1.5 0-3-1-1.5-1-1.5-3 0-4.5 0-6 1.5-4.5zM563.5 581.5l2-.5 1.5 1 1.5 2.5 .5 1.5-.5 4.5-1.5 2-1.5 .5-1.5-.5-.5-.5-1-1.5-.5-1.5 0-4.5 .5-1.5zM471.5 589l1-1 .5 2.5-.5 3-1-1.5-.5-1.5zM495 590.5l1.5-.5 1.5 1 1 4 0 3-.5 3-.5 1.5-1.5 .5-1.5-1-1-4 0-4.5zM517.5 593.5l1.5-1 3 0 1.5 .5 1.5 1.5 1 2 1 4.5-.5 7.5-.5 3-1 1-1.5 1-3 0-1.5-1-1.5-1-.5-1.5-.5-3-.5-6 .5-4.5zM547 599.5l2 0 3 1 2 2 1 3 .5 4.5-.5 4.5-1 3-2 1.5-3 0-1.5-.5-1.5-1-1.5-3-.5-4.5 .5-6 1-3 .5-1zM968 605.5l5.5-.5 13.5 1 18 3 15 3.5 13.5 4 25.5 8.5 24 10 10.5 5 9 5 1.5 1 2.5 3 3 4.5 .5 3 0 3-2 3-3 3-4 2.5-3 .5-7.5 .5-3-.5-9-2-12-4-40.5-16-37.5-14-18-7.5-9-6-3-3-1.5-3 0-1.5 1-1.5 1.5-1.5 3.5-1.5zM506 617.5l1-.5 1.5-.5 1.5 0 1.5 1 1.5 3 1 4.5 0 6-1 3.5-1.5 1.5-1.5 0-2-.5-1.5-1.5-1-2-1-4 0-4.5 .5-4.5zM533.5 622l2-.5 3 .5 2 1.5 1.5 3 .5 6 0 6-1 2.5-1.5 1-1.5 .5-3 0-1.5-.5-1.5-1.5-.5-2-1-6 0-6 1-3zM564 631l1.5-1 1.5 0 1.5 .5 2 2 1 2.5 .5 3.5-.5 3-1.5 2.5-1.5 .5-1.5 0-1.5-.5-2-2.5-.5-3 0-3 .5-3zM474 641.5l1 1.5 0 1.5-1 1-.5-2.5zM498 643l1.5-.5 1.5 1 1.5 4 .5 6-.5 2.5-1.5 1-1.5-.5-1.5-1.5-1-3-.5-3 0-3 .5-1.5zM522 646l1.5-1 3-.5 1.5 .5 1.5 1 1 1.5 1 4.5 .5 7.5 0 3-1 1.5-1.5 1.5-1.5 .5-3 0-1.5-1-1-1-1-4.5-1-7.5 0-3zM553 650.5l3.5-.5 3 1 1.5 2 1 3.5 1 6-.5 3.5-1.5 2.5-3 1.5-3 .5-1.5-.5-1.5-2-1.5-7 0-6 1-3zM946.5 664l7.5-1 7.5 .5 16.5 4.5 15 5.5 13.5 5.5 13.5 6.5 22.5 11 23.5 12.5 9.5 6 7 6 2.5 3 .5 3 0 3-1 3-2 3-4 3-3 1-9 .5-12-3-9-3.5-10.5-5.5-49.5-26.5-14-8-14.5-9.5-8-7-5-6-1-3 0-1.5 1-1.5zM515.5 668.5l2-.5 3 .5 1.5 2.5 .5 2 1.5 7.5 0 4.5-.5 1.5-1.5 1.5-1.5 .5-3 0-1.5-.5-2-4.5-1-6 0-4.5 .5-3zM544 673l2-.5 3-.5 1.5 0 1.5 1.5 2 8.5 .5 6-1 3-1.5 1.5-4.5 2-1 1 0 3 2 9 0 4.5-1 2.5-1.5 1-3.5 2.5-.5 1.5 0 3 2.5 9 0 3-1.5 3-3.5 3-.5 1.5 0 1.5 2.5 9 .5 3 0 1.5-1 1.5-3.5 3-.5 1.5 1 3 2.5 7.5 .5 3-.5 1.5-1 1.5-1 1-3 1.5-1.5-1.5-1.5-2.5-2.5-6-1.5-4.5 0-3 1-2 2.5-2.5 0-1.5-3-10.5-.5-4.5 1-2 4-4 0-3-2.5-10.5 0-3 1.5-2.5 3.5-2 1-1.5 0-3-2-10.5 .5-3.5 1.5-2 4.5-2 1.5-1.5 0-1.5-1.5-9 0-4.5 1-3zM579.5 677.5l2.5 .5 1.5 1 1.5 1.5 1.5 4 .5 3.5-.5 3-1.5 2-3 1.5-3 1-1.5-1.5-1.5-5-1-5.5 1-4 1.5-1.5zM509 692.5l2.5-1 1.5 .5 1.5 .5 1.5 3.5 1.5 7 0 4.5-.5 1.5-1 1-1.5 .5-1.5 0-1.5-.5-1.5-2-1.5-4.5-1-6.5 .5-3zM571 698.5l3.5-1 3-.5 1.5 3.5 1.5 5 1 6.5 0 1.5-1 2-1.5 2-2.5 2-1 1.5-.5 3 2.5 9 0 3-1 3-3 3-1 1.5 0 3 2.5 9 0 3-.5 2-2.5 4-.5 1.5 .5 3 2.5 9 0 3-2.5 4.5-.5 1.5 1 3 2 6 1 3-.5 3-1.5 3-.5 1.5 .5 3 3 6 .5 3-.5 3-2 3 0 1.5 .5 1.5 3 6 1 3-.5 1.5-.5 1.5-2 1-1.5 0-3-2.5-3-4-2-3.5-.5-3 1.5-4.5-1-3-4-7.5-.5-3 0-3 1.5-3 0-1.5-.5-3-3-7.5-.5-3 0-1.5 2.5-4.5 0-1.5-.5-3-2.5-7.5-.5-3 1-2.5 2.5-3.5 .5-1.5-.5-3-2-7.5-.5-3 1.5-3 3-3 .5-1.5 0-3-2-9 0-2.5 1.5-3 4.5-3.5 .5-1.5 0-3-1.5-7.5 0-3 1-3zM608.5 704.5l2-.5 .5 .5 2 1.5 .5 1.5 0 3-1.5 2-1.5 .5-1.5-1-1-1.5-1-3 .5-2zM919 713.5l6.5 .5 9 2.5 16.5 8 25.5 15 45 29 4.5 3.5 5 3 4 3.5 5.5 4 1 1.5 5 7.5 .5 1.5 0 1.5-1.5 3-2.5 3-3.5 1.5-9 1-4.5 0-9-2.5-10.5-5-6-4-4.5-2.5-5-3.5-5.5-3-6-4.5-6-4-4.5-3.5-6-4-6-4.5-6-4.5-6-5-6-4.5-13-12-3-3-5-7.5-1.5-3-1.5-3 0-3 1-1.5 2-1zM506 716.5l1-.5 1.5 0 1.5 1.5 1.5 3 1.5 5 0 3-.5 1.5-1 1-1.5 .5-1.5-1-1.5-2-1.5-3-.5-3-.5-3 .5-1.5zM603 721l3-.5 1.5 0 1.5 1.5 2.5 5 1 4.5 0 3-.5 1.5-3 4.5-1 1.5 .5 3 2 7.5 .5 3-.5 3-2.5 4.5-.5 1.5 .5 3 2.5 7.5 .5 3-.5 1.5-2 4.5 0 1.5 .5 3 2 6 1 3-.5 3-1.5 4.5 .5 1.5 3.5 10.5 0 3-1 4.5 .5 1.5 4 9 0 3-.5 3 0 3 4 9 0 3-.5 3 0 1.5 4 9 .5 1.5-1 2-1.5 1-1.5 .5-1.5-.5-3-2.5-3-3-2.5-3.5-.5-1.5-.5-6-6-10.5-.5-3 .5-4.5-1-3-3-6-1-3 1-6 0-1.5-4-10.5 0-3 1.5-4.5 0-1.5-3.5-9 0-3 0-1.5 2-4.5 .5-1.5-.5-3-2-6-.5-3 .5-3 2.5-4.5 .5-3-2-7.5-.5-3 1-3 4-4.5 .5-1.5 .5-3-2-7.5 .5-3 1-2.5zM640.5 740.5l1.5 0 2 1.5 1.5 1.5 1 3 .5 3-2.5 6-.5 1.5 4.5 12 0 3-1.5 6 0 1.5 .5 3 3 7.5 0 3-1 4.5 0 3 4 10.5 0 3-.5 3 0 3 4 9 .5 1.5 0 6 0 1.5 4.5 9 .5 7.5 4.5 9 .5 1.5 .5 6 4.5 7.5 .5 3 0 4.5 1.5 3 2.5 4.5 .5 1.5 0 1.5-1 1.5-1.5 1-1.5 0-3-1-3-1.5-3.5-3-2-3-1-4.5-1-1.5-6-8-1-2.5 0-3-1-3-4-6-1.5-3-.5-7.5-4.5-9-.5-3 .5-4.5-.5-1.5-4-9 0-3 .5-4.5 0-1.5-3-7.5-1-3 .5-3 1.5-4.5-.5-1.5-2.5-7.5-.5-3 .5-3 2.5-6-.5-3-2-6 0-3 1-3 3.5-4.5 .5-1.5 0-3-1.5-6 .5-3 1-1.5 1.5-1zM505.5 743.5l1.5 .5 .5 1 .5 1.5-.5 1.5-.5 .5-1.5-2zM877 754l2-.5 3 0 9 3.5 4.5 2.5 6.5 5 7 5 6 5.5 6 4 6 5.5 6 4.5 4.5 4.5 6 4 6 5.5 5 3.5 5 4.5 5 3.5 4.5 4.5 6 4 3 3.5 6 4.5 3 3.5 5 5 1 3 .5 3-.5 3-.5 1.5-2 1.5-3.5 1.5-7.5 1-3-.5-10.5-3.5-5-3-6-3-4-3-6-4-4.5-4-6-4.5-4-4-6-4.5-5-5-6-5-4.5-5-6-5.5-4.5-5.5-7-7-4.5-6-5-6-2.5-4.5-2.5-7.5-1.5-4.5 .5-3zM679 770.5l2-.5 3 1 2.5 2.5 1.5 3 .5 3 0 4.5 0 3 4 7.5 1 3 .5 9 5 10.5 0 6 1 3 4 7.5 .5 3 1 6 5 9 1.5 7.5 4.5 7.5 2 7.5 5 7.5 1.5 6 5 7.5 2 7.5 4 6 0 1.5 0 1.5-1 1-1.5 1.5-1.5 .5-3-.5-4.5-2.5-2.5-1.5-3-3-2.5-4.5-5.5-5.5-1.5-2-2-6-6-7.5-.5-1.5-1.5-6-4-6-1.5-3-1-4.5-.5-3-4.5-7.5-.5-3 0-3-1-3-3-6-1.5-3 0-7.5-4-9 0-3 .5-4.5 0-3-3-9 0-3 2-6 0-1.5-.5-3-1-4.5 0-3 .5-2 1.5-2zM832 781l2 0 4.5 1.5 4.5 2.5 2 2 5 6 8 7.5 4.5 6 6 5.5 4.5 6 6 5.5 4.5 6 6 5 4 5 5 4.5 4.5 5.5 6 5 4 4.5 5 4.5 3.5 4.5 5 4.5 3.5 6 2.5 3 1 1.5-.5 2.5-1.5 2-1.5 1.5-3 1-3 1-3 0-13.5-5-4.5-3.5-7.5-4.5-4-4-5-3.5-5-5.5-5.5-5-3-4-6.5-6-4-5.5-6-6-4-6.5-5.5-6-3.5-6-5.5-7.5-3.5-7.5-4.5-7.5-1-3-.5-4.5 .5-6 .5-1.5 1.5-1.5zM532.5 784l1.5-1 1.5 1.5 3 5.5 1.5 4.5 0 1.5 0 1.5-1.5 1-1.5 0-1.5-1-2.5-3-1.5-3-1-3 0-1.5 .5-2zM726 790l1.5-1 3 0 3 2 3 3.5 1.5 3 1.5 6 6 9 2.5 9 4.5 7.5 3 9 5 7.5 2.5 7.5 5.5 7.5 2.5 6 .5 1.5 5 6 2.5 6 5 6 1 1.5 1.5 4.5 5.5 6.5 2.5 7 4 4.5 .5 1.5 0 3-1 3-1.5 1-3 .5-3-1-4.5-1.5-3-1.5-2.5-2-3.5-4.5-6-5-1.5-1.5-2-4-7-7.5-2.5-6-4-4.5-2-3-2-6-5.5-7.5-2-7.5-5-7.5-2-7.5-4-7.5-1-3-.5-6-4-9-.5-3 0-7.5-2.5-9 1-3 .5-1.5zM779 794.5l2.5-1 3 1 3 1.5 3 3 4.5 7.5 6.5 7.5 3.5 7.5 6 7.5 3.5 6.5 6 7 3 6 5.5 6 4.5 7.5 5 5 3.5 5.5 5.5 5.5 3 5 5.5 6 2.5 4.5 5.5 6 1.5 6 1.5 3 .5 1.5-1 1.5-3 1.5-4 0-12-4.5-3-1.5-4.5-4.5-6.5-4.5-3.5-4.5-6.5-6-4-6-5-4.5-3.5-6-5.5-6.5-3.5-7-5-6-3.5-7.5-5-7.5-2.5-7.5-5-7.5-1.5-9-3.5-7.5-.5-3 1-4.5z"/>
<path fill="#ebff0c" d="M785.5 268l2-.5 1 .5-.5 4.5-.5 1.5-1 1.5-7.5 6-3.5 4.5-2 1.5-7 5-6.5 7-8 6-5 6-9 7.5-5.5 7.5-8 7.5-5 7.5-9 9-5 9-7.5 9-5 10-6.5 8-2 3-2.5 7.5-2.5 4.5-3 3-3 2-1.5 0-1.5-1-1-2.5 .5-3 1.5-3 4.5-7.5 1-7.5 1-3 7.5-10.5 1.5-6 1.5-3 7.5-9 4.5-9 8.5-9 5-7.5 8-7.5 5.5-7.5 9-7.5 5-6 8.5-6 6-6 9.5-6 5-4.5 2-1.5 4.5-2zM849 272.5l3-.5 3 .5 1.5 1.5-4 4.5-2.5 4.5-8.5 5-4.5 4-8 4.5-7 5.5-9 5-5.5 4.5-9.5 6-6 5.5-9 6-6 6.5-9 7-6 7-8.5 7-6.5 8.5-9.5 8-4 6.5-3 3-3 2.5-3 1.5-1.5 0-1.5 0-1-1.5-.5-1.5 .5-3 6.5-9 2.5-6 1.5-3 8-9 3.5-6 1.5-2 8-7 6-7.5 7.5-6 7-7.5 9-6 6.5-6 7.5-4.5 7-6 9-4.5 6-4.5 10-4.5 6.5-4 10.5-3zM723 274l1.5-.5 1.5 .5 1 3-.5 1.5-1 1.5-6.5 6-4.5 7.5-8 7.5-5 7.5-7.5 7.5-4 7.5-8.5 9-4.5 9-8.5 10.5-3.5 9-7.5 10.5-2 7.5-1.5 3-6.5 10.5-2 10.5-2 3.5-5.5 8.5-.5 1.5 0 9-1.5 4-1.5 2.5-3 3.5-1.5 1-1.5 0-2-2-.5-1.5 0-3 1-3 4.5-9 0-3-.5-6 .5-3 5.5-10.5 1-3 .5-6 1-3 6.5-10.5 2-9 2-3 6.5-9 2.5-7.5 2-3 6.5-7.5 2.5-6 2-3 7-7.5 5-8 8.5-8.5 5.5-7.5 9-7.5 3.5-4.5 2-2 4.5-3zM664 290.5l2-1 1.5 0 1.5 1 .5 1.5-.5 1.5-2 3-5 6-3 7.5-7.5 9-3.5 9-8 10.5-2.5 7.5-8 12-2.5 9-7 12-1 3-.5 4.5-.5 3-6.5 12-.5 3 0 6-1 3-5.5 12-.5 3 1 6-.5 4.5-3 6.5-4 7-.5 1.5 3 4 1 2 0 3-.5 3-2 4.5-1.5 2-1.5 1-1.5 0-1.5-.5-.5-1-.5-1.5-.5-3 1.5-5 3-6.5 1.5-2-.5-1.5-1-.5-1.5-2.5-1.5-3-.5-1.5 .5-3 1.5-4.5 2.5-6 1-3 0-1.5-1.5-6 .5-3 1.5-4.5 4-7.5 .5-3 0-7.5 2-4.5 5-9 .5-3 .5-4.5 1-3 7-12 1.5-6 1-3 6.5-9 1.5-3 1.5-4.5 1-2.5 1.5-2 6.5-7.5 4-9 8.5-9 4.5-7.5 3.5-3.5zM910 292l2-.5 3.5 .5 3.5 1.5 1 1.5-.5 1.5-4.5 4-3 3.5-7.5 3-6 4-7.5 2.5-7 4-8 3-7.5 4.5-7.5 3-7.5 4.5-9.5 4.5-7 5-9 5-7.5 6-8.5 5-7 6-9.5 6-6.5 6-3 2-4.5 2-3 .5-1.5 0-1.5-.5-1-1 0-3 1-3 7-7.5 5.5-7.5 8.5-7 6-6.5 9-6 6-5 9-5.5 6-4.5 9-4.5 7.5-4.5 9-4 6-3.5 9-3.5 6-3 9-2.5 7.5-3.5 10.5-1.5zM613.5 314.5l1.5-.5 1.5 .5 .5 1.5 0 1.5-1.5 3-5.5 7.5-.5 1.5 0 4.5-1 3-7 10.5-.5 1.5-.5 4.5-1 3-7 12-.5 3 0 4.5-1 3-6.5 12-.5 3 .5 4.5-.5 3-6 13.5-.5 3 1 4.5 0 3-1 3.5-4 8.5-1 3 .5 3 1.5 4.5 0 4.5-1.5 5.5-4 9.5 0 1.5 2.5 3.5 1.5 3.5 .5 2-.5 3-1 4.5-2 4.5-1.5 2-1.5 .5-1.5-.5-1.5-1-1.5-2.5 0-1.5 0-4.5 1.5-4.5 2.5-6 .5-3-4-6-.5-3 .5-4.5 3.5-9 .5-3-.5-3-1-3-.5-3 1-4.5 3.5-7.5 1.5-4.5-1-7.5 .5-3 1-3 4-7.5 1-3 0-7.5 1-3 5.5-10.5 1-3 .5-4.5 .5-3 1.5-3 6-9 .5-1.5 .5-4.5 1.5-3 1.5-3 7-9 1-5 1.5-3 3-3.5zM966.5 325l4-.5 4.5 1.5 3 2 1 1.5 0 1.5-1.5 1.5-7.5 6-7 2-5 2.5-8.5 2-6.5 2.5-8.5 2-6.5 2.5-8.5 2-7.5 3-9 3-6 2.5-10.5 4-6.5 3.5-10 4-6 3.5-10.5 5-7.5 4.5-3 1.5-12 3-3 0-1-.5 0-1.5 .5-3 1.5-3 1.5-3 3.5-3 6-4.5 4.5-4.5 10.5-6 6-4.5 9-4 7.5-4.5 9-3.5 7.5-3.5 7.5-2.5 7.5-3 9-2.5 6-2.5 9-2 7.5-2 7.5-1 6-1.5zM567.5 347.5l1-.5 1.5 0 1 2-.5 1.5-2 4-4.5 6-1 .5-.5 1.5-1.5-3-.5-1.5 .5-2 1-2.5 2-2.5zM561.5 364l1-1.5 2 4.5 0 3-1.5 4.5-5.5 9 0 1.5 1 6-.5 3-1.5 3.5-3.5 7-1.5 3 0 1.5 1.5 4.5 0 3-1 3.5-4 8.5-1 4.5 0 1.5 2 4.5 0 4.5-1.5 4.5-4 10.5 0 1.5 2.5 4 1 2 0 4.5-1 4.5-1.5 5-1.5 3.5-1.5 2-1.5-.5-2.5-2.5-1-1.5-.5-3 1-5.5 4-11 0-1.5-3-4.5-1-3 1-4.5 4-10.5 .5-3 0-1.5-2-4.5 0-3 1.5-4.5 4.5-10.5 0-3-1-4.5 .5-3 1.5-3.5 5.5-10 0-3-.5-3 0-3 1.5-3 2.5-4 4.5-6.5zM992.5 370l17-.5 14.5 2 3 1.5 2 1.5 1.5 3 0 1.5-1 1.5-6.5 5-12 3.5-9 1-6 1.5-7.5 .5-6 1.5-9 1-7.5 1.5-7.5 1-7.5 2-9 1.5-7.5 2.5-9 2-7.5 2.5-10.5 2.5-9 3.5-10.5 2-7.5 2-4.5 0-2-1-1-1.5 0-1.5 .5-1.5 1.5-1.5 9.5-9 2-1.5 7.5-3.5 7.5-4.5 9-3.5 7.5-3 9-2.5 6-2.5 9-2 7.5-2 9-1.5 7.5-2 7.5-.5 6-1.5 9-.5zM529.5 388l.5 1.5-.5 2-1.5 3-1.5 1-1 0-.5-1.5 1-3 2-2.5zM523.5 409l1.5-1 1.5 0 .5 2.5 0 1.5-1 3-2.5 5-1.5 2-1.5 .5-1.5-1 0-3.5 1.5-5zM1007 424l5.5-.5 15 0 7.5 1 6 0 13.5 2 4.5 1.5 9 3.5 1.5 1.5 1.5 1.5 .5 3-.5 1.5-1 1.5-5 4.5-12 2.5-13.5 .5-7.5 0-28.5 0-15 1-16.5 1.5-7.5 1-9.5 1-8.5 1.5-9 .5-9 1.5-4.5-.5-4.5-1-3-2-.5-1.5 0-1.5 1-3 3.5-3 14-7.5 15-4.5 18-4 15-2 16.5-1.5zM520 431.5l.5-.5 1.5-.5 1.5 1.5 .5 2.5 0 1.5-.5 3.5-3 7-1.5 2-1.5 1-1.5-1-1-2 0-3 .5-3 2-4.5 1.5-3zM517.5 457l1.5-1 1.5 .5 1.5 2 .5 1.5 0 3-1 4.5-2.5 6-1.5 2.5-1.5 .5-1.5-1-1-2-.5-3 0-3 1.5-4.5zM495.5 484l1-.5 .5 2-.5 3-1.5 2-1-.5 0-1.5 .5-3 .5-1zM517 484l.5-.5 1.5-.5 1.5 .5 1.5 2 .5 1.5 .5 3-1 4.5-1.5 5.5-1.5 3-1.5 1-1.5-.5-1.5-1-1-2-.5-3 1.5-7 1.5-4.5zM984.5 484l5.5-.5 15-1 16.5 .5 15 1.5 12 1 13.5 2.5 13.5 3 12 3.5 4.5 3 3.5 3 2 3 .5 3-.5 3-1 1.5-3 3-1.5 .5-10.5 1.5-12-.5-33-4.5-15-1.5-16.5-1-40.5-2-6-1-7.5-2-3-1.5-1.5-1.5-.5-1.5 .5-1.5 1.5-1.5 3-3 5-3 4-1.5 12.5-3zM541.5 490l1.5-1 3 2.5 2 3 0 3-.5 4.5-1.5 5.5-1.5 3.5-1.5 1-1.5 0-1.5-1-1.5-1.5-.5-1.5-.5-3 1-7 1.5-4.5zM568.5 502l1.5-1 1.5 .5 2 2 1 3-.5 3-1 4.5-1.5 2.5-1.5 1-1.5 0-1.5-1-1.5-2.5 0-1.5 1-6 .5-1.5zM497.5 509.5l.5-.5 1.5 .5 .5 1.5 .5 3-1.5 4.5-1 2-1.5 .5-1.5-2.5 0-3 1.5-4.5zM519.5 512.5l1-1 1.5 0 1.5 1 2 3 .5 3-1 6-1.5 5.5-1.5 2-1.5 0-1.5-.5-1.5-1-.5-1.5-1-3 .5-3 .5-4.5 1.5-4.5zM545 520l1-.5 1.5 0 1.5 1 2 2.5 1 3-.5 4.5-1 5-1.5 3-1.5 1-1.5 0-2.5-1.5-1-1.5-.5-3 0-4.5 1-4.5 1.5-4zM502 536.5l.5-.5 1.5 .5 1.5 2.5 .5 2-.5 4.5-1 3-.5 2-1.5 1-1.5 0-1-1.5-.5-1.5-.5-3 .5-3 .5-3 1-2zM526 541l2 0 1.5 1.5 1.5 2 .5 2.5 0 4.5-.5 4.5-1.5 3.5-1.5 1.5-1.5 0-1.5-.5-1.5-1.5-1-1.5-.5-3 .5-4.5 1-6 1.5-2.5zM981.5 545.5l17.5-.5 16.5 1 13.5 1.5 13.5 2.5 13.5 3 13.5 3.5 12 4 10.5 4 12 6.5 3 3 1.5 3 1 3-.5 3-2 4-1.5 1.5-1.5 .5-9 1.5-12-1-12-3-33-8.5-53.5-11.5-15.5-5.5-3-1.5-1.5-2-1-3 0-1.5 1-1.5 1.5-1.5 4-1.5zM552 551.5l1.5-1 1.5 0 1.5 1 1.5 3 .5 3-.5 4.5-1.5 3-1.5 1.5-1.5 0-1.5-1-1.5-2-.5-1.5 .5-6zM509 565l1-.5 1.5 .5 1.5 1.5 .5 1.5 .5 3 0 4.5-1 4.5-1.5 2-1.5 .5-1.5-1-1.5-1.5-1-4.5 .5-4.5 .5-3 .5-1.5zM534.5 571l1-.5 1.5 .5 1.5 1 2 2 .5 3 .5 4.5-1 4.5-.5 1.5-1 1.5-2 1-1.5-.5-1.5-1-1.5-1.5-.5-2.5-.5-4.5 .5-4.5 1-3zM518 595l1-1 1.5-.5 1.5 .5 2 1 1.5 3 .5 4.5 0 4.5-1 3.5-1.5 1.5-1.5 .5-2.5-1-1.5-1.5-.5-1.5-.5-3 0-4.5 .5-4.5zM548.5 601l2 .5 1.5 1 1.5 2 1 4-.5 4.5-.5 2.5-1.5 1.5-1.5 .5-1.5 0-2-1.5-1-1.5-.5-3-.5-4.5 .5-3 1-1.5 1-1.5zM970.5 608.5l4.5-1 13.5 0 16.5 2.5 15 3.5 13.5 4 25.5 8.5 12 5 10.5 5 12 6.5 7 6.5 2 2.5 1 3.5-.5 4.5-2 3-1.5 1-9 2.5-1.5 0-10.5-1.5-10.5-3-12-4-18-7.5-34.5-13-16.5-6.5-13.5-7-3-2-3.5-4-1-3 0-1.5 .5-1.5 1.5-1.5zM507 619l1.5-.5 2 .5 1 1.5 1 3 .5 4.5 0 3-1.5 2.5-1.5 .5-1.5-.5-1-1-1-1.5-.5-3-.5-3 .5-3zM533.5 623.5l2-.5 3 .5 1.5 1.5 1.5 3 .5 4.5 0 4.5-1.5 3-2 1-3 0-1.5-1-1.5-3-1-4.5 0-4.5 1-3zM567 634l1.5 1.5 .5 3-.5 2-1.5 0-1.5-1.5-.5-2 .5-2zM524.5 646l2 0 2.5 1.5 1 1.5 1 4.5 .5 4.5-.5 3-.5 1.5-1 1.5-1.5 .5-1.5 0-1.5-.5-1.5-1.5-1.5-4.5-.5-4.5 0-4.5 1-1.5 1-1zM553.5 652l1.5-.5 1.5 0 1.5 1 1.5 1.5 1.5 3 1 5.5-.5 3-1 1.5-2.5 1.5-3-.5-1.5-1-1.5-3.5-.5-7 .5-3zM957 667l3-.5 3 0 13.5 2.5 16.5 5.5 13.5 5.5 13.5 6.5 24 11.5 10.5 6 10.5 6.5 9 7 2 2 2.5 6 1 3-1 3-4 3-6.5 3-1.5 0-10.5-1.5-12-4.5-21-10-37.5-20.5-14-8.5-13-9.5-4-4-1.5-3-1-3 0-1.5 .5-1.5 1.5-1.5zM515.5 670l2-.5 1.5 .5 1.5 1.5 1.5 3 1 4.5 0 4.5-1 2.5-1.5 1-1.5 0-1.5-.5-1.5-2-1.5-4-.5-4.5 0-3 .5-2zM544 674.5l2-1 3 .5 1.5 1 1.5 2.5 1.5 6 0 4.5-.5 1.5-1 1.5-1.5 1-3 .5-1.5-.5-1.5-2-1.5-5-.5-4.5 .5-4.5zM578.5 680.5l2-.5 1.5 1 1.5 1.5 1 2.5 .5 3-.5 1.5-1 1.5-1.5 .5-1.5 0-1.5-1-1.5-2.5-.5-4.5 .5-2zM511.5 694l1.5 .5 1.5 2 2 5 0 4.5-.5 1.5-1.5 1-1.5-.5-1.5-1-1.5-3-1-2.5 0-4.5 1-2.5zM537.5 697l2.5-1 3 .5 1.5 1 2 5.5 1 6 0 3-1.5 2-3 1.5-1.5 .5-1.5-.5-1.5-2.5-1.5-5-1-6.5 .5-3zM571 700l2-.5 1.5 0 1.5 .5 1.5 1.5 1.5 3.5 1.5 5.5-.5 3-1 2-1.5 1.5-4.5 2-1.5-1.5-2.5-7-.5-4.5 0-3 1-1.5zM533.5 719.5l2-1 3 0 1.5 1.5 1.5 3.5 1.5 5.5 .5 4 0 1.5-1 1.5-2.5 1.5-3 .5-1.5-1.5-1.5-3.5-1.5-5-.5-4 0-3zM926 719.5l4-1 4.5 .5 16.5 7 6 3.5 7.5 4 6 4 6 3 34.5 22 4.5 3.5 6 4 4.5 4 4.5 3 7.5 8 1 2 .5 3-.5 3-1 1.5-3 3-4.5 2-1.5 .5-10.5-1.5-12-5-4.5-2.5-6-3-4.5-3.5-6-3.5-4.5-3.5-6-3.5-6-4.5-6-4-4.5-4-7.5-5-13.5-11.5-10-10.5-3-4.5-1.5-4.5 0-3 1-1.5zM507 721l1.5-.5 1.5 2 .5 3-.5 2-1.5-1-.5-1-1-2.5zM567 721l4.5-1.5 1 1.5 3.5 9 .5 4.5-.5 3-1.5 2-3 2.5-.5 1.5 3 10.5 .5 3-1 3-2.5 3-1 1.5 .5 3 2.5 7.5 .5 3-.5 3-2 3-.5 1.5 0 1.5 3.5 9 .5 3-1 3-2.5 3 0 1.5 3.5 7.5 1 3 0 1.5-1 2-1.5 1-1.5 .5-1.5-1-3-3.5-2.5-3.5-1-3 0-3 2-4.5-.5-3-3.5-7.5-1-3 .5-3 2-3 .5-1.5-.5-3-3-7.5-.5-3 1-3 2.5-3 1-1.5-.5-3-2.5-7.5-.5-4.5 1-1.5 1-1.5 2-1.5 1.5-1.5 0-1.5-2.5-9 0-4.5 0-1.5 1.5-1.5zM602 724l2.5-.5 1.5 0 1.5 1 2 2.5 1.5 4.5-.5 3-1 1.5-5 4-3-6-1-4 0-3 .5-1.5zM531 742l1.5-1 3-.5 1.5 1.5 3 7.5 1 4.5-.5 3-2 1.5-1.5 .5-1.5-.5-1.5-1.5-1.5-2.5-1.5-3.5-1-4.5 0-3zM601 742l2-1 1.5-.5 4 9 1.5 4.5-.5 3-.5 2-2.5 4-.5 1.5 1 3 2 6 1 3-.5 3-2.5 4.5 0 1.5 .5 3 3 6 .5 3-.5 3-1.5 4.5 .5 3 3 6 1 3 0 1.5-1.5 4.5 0 1.5 .5 3 2.5 4.5 1.5 3-.5 3-1 3 0 1.5 .5 1.5 3 6 1 3 0 1.5-.5 1.5-2.5 3-1.5 1 0-1-3-2.5-4.5-5.5-2-4-.5-1.5 1-4.5-.5-1.5-4-7.5-1-3-.5-1.5 1-4.5 0-3-3.5-7.5-1-3 .5-3 1.5-4.5-.5-3-3-7.5 0-3 .5-2 2-4 0-1.5-2.5-9-.5-3 .5-3 2.5-3 1-1.5 0-1.5-2.5-9 0-3 0-1.5 1-1.5 1.5-1.5zM638.5 760l2 0 1.5 .5 1.5 1.5 2.5 4 1 3 0 3-1.5 4.5-.5 3 4.5 10.5 0 3-1.5 6 1 3 2.5 6 1 3 0 3-.5 3 0 3 4.5 9 0 3-.5 4.5 1 3 4 7.5 0 7.5 5 9 .5 1.5 0 6 4 7 .5 2 0 1.5-1.5 4.5 0 1.5 3 4.5 .5 1.5-1 1-3-.5-2.5-2-.5-1.5-.5-3-1-1.5-6-6-2.5-3-1-3-.5-4.5-5-7.5-1.5-3-.5-6-.5-1.5-3.5-6-1-3-.5-1.5 .5-6-4.5-10.5 0-3 1-4.5-.5-1.5-3-7.5-1-3 .5-3 1.5-3 0-3-3-7.5-.5-3 1-3 2.5-4.5 0-1.5 0-1.5-2.5-7.5 0-3 .5-1.5 1.5-1.5zM886 760l3.5 0 4.5 1.5 6.5 4.5 7 4 6 5 7.5 5.5 5.5 5 6 4.5 5 4.5 6 4.5 4.5 4.5 6 4 4.5 4.5 5.5 3.5 5 5 4.5 3.5 4.5 5 4 3 1 1.5 5 9 0 1.5-1.5 3-2.5 2-3 1-12-1.5-3-1-3.5-2-7-3-4-3-5-3-5.5-4.5-6.5-4.5-4.5-4.5-4.5-3.5-5.5-5.5-5.5-4.5-4-4.5-7.5-7-4-5-6.5-7-4.5-7-4-5.5-2-4.5 0-4.5 1-3zM531 764.5l1.5-1 1.5 .5 1.5 1 1.5 3 1.5 4 .5 3-.5 2.5-1.5 .5-1.5-.5-1.5-1-1.5-2-2.5-5.5 0-3zM680 776.5l1-1 1.5 .5 1.5 2 0 3-1.5 1.5-1.5-1.5-.5-1.5-.5-1.5zM681 787l1.5-1.5 1.5 .5 4.5 5 3 5 1 3-.5 6 .5 1.5 5 10 .5 2 0 6 5.5 10.5 1 7.5 5 9 1.5 7.5 4.5 7.5 2 7.5 5 7.5 .5 1.5 .5 4.5 .5 1.5 4.5 6 .5 3-.5 4.5 .5 1.5 2 3 0 1.5-.5 .5-1.5 .5-1.5 0-2.5-1-1.5-1.5-1.5-3-1.5-1.5-8-6.5-2-2.5-1.5-4.5-6-7.5-1-1.5-1.5-6-4-6-1.5-3-1-6-5-9-.5-1.5-.5-6-.5-1.5-4-7.5-.5-3 0-6-3-7.5-1-3 0-3 1-3 0-3-3-7.5 0-3 1-3.5zM834 788.5l1.5-1 1.5-.5 1.5 0 3 1 3 2 4 4.5 6.5 5 2.5 2.5 3.5 4.5 6.5 6 4.5 6 6.5 6 5 6 5 4.5 5 6 5 4.5 4.5 5.5 4.5 3.5 4.5 5.5 5.5 5 2.5 4.5 4.5 4.5 1 3 0 3-1 3-.5 1-1.5 .5-4.5 .5-6 0-3-1-4.5-3-7.5-4-4.5-4-5-3.5-4-4.5-7-6-3.5-4.5-5-4.5-4.5-6-6-6-4-6-5-6-4.5-7.5-4.5-6-1.5-3-2-6-3.5-7.5-.5-3 0-1.5zM534.5 791.5l1-1 .5 1 0 1.5-.5 0zM729 794.5l1.5 0 2.5 1.5 1 1.5 2 6 7.5 9 1.5 3 1.5 6 5 7.5 1.5 3 1.5 6 5 7.5 2.5 7.5 5.5 7.5 3 7.5 5 6 3 7.5 5 6 2 6 5 6 .5 1.5 .5 4.5 3 6-1 2-3 .5-4.5-1-5-4.5-7-4.5-2-1.5-3.5-6-6.5-6-2.5-6-5.5-6-1-2-2-5.5-5.5-7.5-2-7.5-5-7.5-1.5-7.5-5-9-1-9-3.5-7.5-.5-3 1.5-7.5 0-3-1.5-4.5 .5-2zM780.5 800.5l1-1 1.5-.5 1.5 0 3 1.5 1.5 2 2.5 4 8 7.5 4 7.5 6.5 7.5 4 7.5 5 6 4.5 7.5 4.5 5 4.5 7 4.5 4.5 3.5 6 5.5 6 3.5 6 4.5 4.5 1 1.5 1.5 4.5 3.5 4.5 1 1.5 0 1.5-1 1.5-1.5 1.5-3.5 1-3 0-3-.5-1.5-.5-5.5-4.5-6-3-1.5-1.5-4-4.5-5.5-4.5-4-6-6.5-6-3-5.5-5.5-6.5-3-6-5-6-3.5-7.5-5-7.5-2.5-7.5-3.5-6-1-3-1-9-2-7.5 0-1.5zM569 829l1-1 1.5 0 1.5 1 2 3 1 3-1.5 1-1.5-.5-1.5-1-2-2.5-.5-1.5zM614 862l1-1.5 1.5 .5 4 5.5 1 1.5-.5 1.5-1.5 .5-1.5-.5-3-2.5-1-2-.5-1.5z"/>
<path fill="#ffde00" d="M777.5 272.5l2.5-.5 3 .5 1.5 1.5-1 1.5-6.5 5.5-3.5 5-8 6-5 6-9.5 7.5-5 6-9 7.5-5.5 7.5-8 7.5-5 7.5-9 9-5 9-8 9-1.5 3-1.5 4.5-2 3-3 3.5-7.5 7-1 1.5 0 4.5-.5 2-1.5 2.5-3 2-1.5 .5-1-1 0-1.5 .5-1.5 2-3.5 4-4 0-1.5-.5-6 0-1.5 1-3 7-10.5 2-7.5 2-3 6.5-7.5 4.5-9 8.5-9 4-6.5 9-8.5 5.5-7.5 9-7.5 5-6 9-6 6-6 10.5-6 5.5-4.5zM717 278.5l4.5-1 1.5 1 0 1.5-1.5 1.5-5 4.5-2.5 6-1 1.5-8 7.5-4 7.5-8 7.5-4 7.5-7 7.5-2.5 3-3 7.5-8 9-1.5 3-1.5 4.5-1 3-8 10.5-2 7.5-1 3-7.5 10.5-1 3-.5 6-1 3-3 5-3 3.5-1.5 1-1.5 .5-2-2.5-.5-3 0-1.5 1-3 5.5-9 .5-1.5 0-6 .5-3 1.5-3 5.5-9 2.5-9 1.5-3 7-9 2.5-8 2-2.5 6.5-7.5 2.5-6 1.5-3 7.5-7.5 5.5-9 8.5-7.5 5-7.5 10.5-7.5 3.5-4.5 1.5-1.5zM836 278.5l4-1 4.5 0 1.5 .5 1.5 1 .5 1 0 1.5-1.5 1.5-6.5 4-5 5-7 4-6 5-9 5-6.5 5.5-8.5 5-6 5.5-9 6-7 7.5-8.5 6-7 8-8.5 7-6.5 8.5-11 8-1 1.5-3 4.5-1 1.5-2 1.5-1.5 .5-2-.5 0-1.5 .5-1.5 3.5-4.5 1.5-3 1.5-6 1-3 7.5-8 5-8.5 8.5-7.5 6-7.5 7.5-6 7-7.5 8-5.5 6-5.5 9-5.5 6-5 10.5-5.5 6-4 10.5-4.5zM663 293.5l1.5-.5 1.5 .5 0 1.5-1.5 2-5.5 5.5-.5 5.5-.5 2-2.5 3-5 6-1.5 3-1 3-1 3-8 10.5-1.5 6-1.5 3-7.5 10.5-.5 1.5-1 6-1.5 3-7 10.5-.5 3 0 4.5-1 3-2 4-4 6.5-1 3 0 6-.5 4.5-2 4-5.5 9.5 0 1.5 2 6-.5 4.5-2 4.5-3 4-1.5 1-1.5-.5-1.5-1.5-.5-1.5 0-3 2-6 4-7.5 0-1.5-2.5-6 .5-3 1-3.5 5-10 .5-3-.5-4.5 .5-3 1-3 5.5-9 .5-3 .5-4.5 .5-3 7-10.5 1-3 1-6 2-3 6.5-9 2-6 1.5-3 8.5-10.5 1.5-4.5 2-3 3-3.5 8.5-7 .5-3 1.5-3 1.5-1.5zM895.5 296.5l6-1 6 1 1.5 .5 1.5 1 .5 1.5 0 1.5-1 1.5-1 .5-6 3-5 4-8.5 3.5-7.5 4-7.5 3-6 3.5-9 4-7.5 4.5-9 4.5-6.5 4.5-10 5.5-6 5-9 5-7.5 6.5-11.5 6.5-5.5 4.5-2.5 1.5-3 1-1.5 0-1.5-1-.5-1.5 1-1.5 5-6 3-6 2.5-3 7.5-6 5.5-6.5 9-6 6-5.5 9-5 7.5-5.5 9-4.5 7-4.5 8-3 7.5-4.5 9-3 6-3 10.5-2.5zM610.5 319l3-1.5 .5 1.5-.5 1.5-3 3.5-1.5 1-1.5 0-.5-1.5 .5-1.5zM951 328l6-1 3 0 5 1 3.5 1.5 1.5 1.5 .5 3-1 1.5-1.5 1.5-6.5 2.5-4.5 2.5-7.5 2-7.5 3-7.5 1.5-7.5 3-9 2.5-6.5 2.5-8.5 2.5-7.5 3.5-9 3-7.5 4-9 3.5-7.5 4.5-11.5 4.5-8 4.5-4.5 1-3 0-2.5-1-1-1.5 0-1.5 .5-1.5 1-1.5 6.5-5.5 6.5-6.5 8.5-5 7.5-5.5 9-4 6-4 9-3 7.5-4 9-3 7.5-3 7.5-1.5 7.5-3 8.5-1.5 6.5-2zM604 332.5l2-1 1.5 1.5 0 2.5-1.5 3.5-6 8.5-1 1.5 .5 4.5-.5 3-2 3.5-5.5 8.5-.5 3 0 4.5-1 3-2 4.5-4 6-1 3 .5 6-.5 3-1 3.5-5.5 10-.5 3 1.5 4 .5 2-.5 3-3 7-4.5 8-3-3.5-1-2.5 0-3 1.5-4.5 5-10.5 0-1.5-1.5-4.5 0-3 1-4.5 5.5-10.5 .5-1.5-.5-4.5 0-3 1.5-3.5 6-10 .5-1.5 0-6 1-3 3-4.5 3.5-4.5 2-3 0-4.5 1-3 4-5.5zM565.5 352l1.5-.5 .5 .5-.5 1.5-1.5 1.5-1.5 .5 0-1zM560 368.5l1-1 1.5 .5 .5 .5 0 1.5-.5 3-4.5 7-1.5 1.5-1.5 0-1-2.5 .5-3 2-4zM991 371.5l5-.5 9 .5 4.5 0 4.5 .5 5 2.5 2 1.5 1.5 1.5 0 1.5 0 3-1.5 1.5-1 .5-4.5 1.5-6 2.5-7.5 1-6 1.5-7.5 .5-7.5 1.5-7.5 1-7.5 1.5-9 1.5-7.5 2-7.5 1-7.5 2.5-9 2-9 3-10.5 2.5-7.5 2.5-4.5 .5-6 .5-4.5-.5-1.5-.5-.5-1.5 1-3 1.5-3 3-3 8.5-4.5 7-4.5 8-3 7.5-3.5 9-2.5 7.5-2.5 7.5-1.5 9-2.5 7.5-1.5 7.5-1.5 7.5-.5 6-1.5zM554.5 388l.5 0 1.5 .5 .5 1 .5 1.5-.5 3-2 5-3 5-1.5 2-1.5 .5-1.5-1.5-.5-2-.5-1.5 1-3 1.5-3.5 3-4.5 1.5-2zM523.5 412l1.5-.5 0 2-1.5 4-1.5 1-1-.5 0-1.5 1-3zM547.5 412l1.5-1.5 1.5 .5 1.5 3 0 3.5-1 3.5-2 4-3 5.5-1.5 1-1.5-1-1-2-.5-1.5 0-2.5 1.5-5zM631.5 422.5l1.5-1.5 1.5 0 1 3 0 1.5-1 3-1.5 2.5-1.5 1.5-1.5 .5-1.5-1-.5-.5 0-3 2-4zM993 425.5l6-.5 15-.5 7.5 .5 6 0 15 1 13.5 3 3 1.5 3 2.5 2 3 .5 1.5 0 3-1 1.5-1.5 1-9 3-13.5 1-36 .5-7.5 .5-7.5 0-7.5 1-9 .5-9 1.5-9 .5-7.5 1-16.5 .5-3 0-2.5-.5-2.5-1.5-1-1.5 0-1.5 1-1.5 1.5-1.5 11-7.5 16.5-5.5 16.5-3.5 16.5-2.5zM520 434.5l.5-1 1.5 0 .5 1 .5 3-1 3.5-1.5 3-1.5 2-1.5 .5-1.5-1.5 0-3 1.5-4zM543.5 437.5l1-1.5 1.5 .5 2 2.5 0 1.5 0 3-.5 3-3 7-1.5 2-1.5 1-1.5-.5-1.5-2-.5-3 .5-3 1.5-4.5zM570 443.5l0-1 0 1 1.5 1 1.5 2.5 1 2.5 0 3-1.5 4.5-2.5 5.5-1.5 2-1.5 .5-1.5-.5-1.5-1.5-1-3 0-1.5 1-3 1.5-4.5 3-6zM519 458.5l1.5 .5 .5 1 .5 1.5 0 3-1 3.5-1.5 3.5-1.5 2-1.5 .5-1.5-1-.5-1 0-1.5 0-3 2-5.5 1.5-2.5zM596.5 460l.5-.5 1.5 1 .5 1 0 3-.5 2.5-1.5 2.5-1.5 1-1.5 0-1-1.5 0-3 1-3 1.5-2.5zM541.5 464.5l1.5-1 1.5 .5 1.5 2 .5 4.5-1 4.5-2.5 6-1.5 1.5-1.5 .5-1.5-1-1-1-.5-1.5 0-3 1.5-6.5zM568 473.5l.5-.5 1.5 .5 1.5 1.5 .5 1.5 .5 3-1 4.5-1.5 3.5-1.5 2-1.5 1-1.5-.5-1.5-1.5-.5-1.5-.5-3 1-3.5 1.5-4 1.5-2.5zM998.5 484l8-.5 13.5 .5 15 1 13.5 1.5 15 3 12 3 12 5.5 1.5 1 2.5 3 1 3 0 3-.5 2-1.5 1-7.5 3-1.5 0-12 0-48-5.5-31.5-2-7.5 0-16.5-1.5-4.5-1-3-1.5-3.5-2-1-1.5 0-1.5 1-3 2-2 3-2 15-4.5 15-2zM518.5 485.5l.5-.5 1.5 .5 1 1.5 .5 1.5 0 3-1.5 6-1.5 3-1.5 1.5-1.5-.5-1-1-1-1.5 0-3 .5-3 1.5-4.5 1.5-2.5zM541.5 493l1.5-1 1.5 0 1.5 1.5 .5 1 1 3-.5 4.5-1.5 4.5-1 2-1 1-.5 .5-1.5 0-1.5-.5-1-1.5-1-3 .5-3 .5-3 1-3zM569.5 505l.5-.5 1.5 .5 1 1.5 0 3-1 3.5-1.5 1.5-1.5 0-1.5-2 0-1.5 .5-3 1-2.5zM520 514l2-.5 1.5 1 1.5 2.5 0 1.5-.5 4.5-1 4.5-1.5 2.5-1.5 .5-1.5-.5-1.5-2-.5-3.5 1-6 1-3zM546.5 521.5l1 0 1.5 .5 .5 1 1.5 3 0 3-.5 3-1.5 4-1.5 1.5-1.5 0-1.5-.5-1.5-2-.5-4.5 .5-3 1.5-4 1.5-2zM502 539.5l.5-.5 1.5 1 .5 2.5-.5 4-1.5 2.5-1.5-1-.5-2.5 .5-4.5zM525 544l1.5-1.5 1.5 0 1.5 1.5 1 1.5 .5 2.5 0 5-1.5 4.5-1.5 1.5-1.5 .5-1.5-.5-1-1.5-1-3 0-6zM984 547l15-1 16.5 1 13.5 1.5 13.5 2.5 13.5 3 12 3.5 13.5 4.5 12 5.5 9.5 8 1 1.5 .5 1.5 0 3-1 1.5-1.5 1.5-5.5 3-1.5 .5-12 0-12-2.5-31.5-8-37.5-8-16.5-4.5-4-1.5-5.5-3-4.5-3-.5-1.5-.5-1.5 1-1.5 1.5-1.5 5.5-3zM553.5 553l1.5 0 1.5 1.5 .5 3-.5 4.5-1.5 2-1.5 0-1.5-1-1-4 1-4.5zM510 566.5l1.5 .5 1 1 .5 1.5 .5 3-.5 4-.5 2-1 1.5-1.5 .5-1.5-1-.5-1-1-4.5 .5-3 .5-3zM535 572.5l2 0 1.5 1 1.5 2 .5 3 0 3-.5 3.5-1.5 2.5-1.5 1-1.5-.5-1.5-1-1.5-2.5 0-1.5 0-6 1-3zM518.5 596.5l2-1.5 1.5 .5 1.5 1 1.5 3 .5 4.5-.5 3.5-1 2.5-2 1-1.5-.5-.5-.5-1-1-1-2-.5-3 0-3zM547 604l2-1 1.5 .5 1.5 1.5 1 2 0 3 0 3-1 1.5-1.5 1-1.5 0-1.5-1-1-3-.5-4.5zM981 610l9-1 16.5 2.5 13.5 3 13.5 4 25.5 9 12 5 10.5 5 10.5 7 2.5 3 1.5 3 1 3 0 3-2 3-1.5 1.5-3 2-1.5 .5-10.5-.5-10.5-2.5-12-4.5-52.5-20-16.5-7.5-10.5-6.5-3.5-3-1.5-3 0-1.5 .5-1.5 1.5-1 1.5-1zM507.5 622l1-1.5 1.5 .5 1.5 2.5 .5 3 0 3-.5 1.5-1.5 1-1.5-.5-1.5-3.5 0-3zM534 625l1.5-1 1.5 .5 1.5 .5 2 3 .5 3 0 4.5-1 3-1.5 1.5-1.5 0-1.5-.5-1.5-1.5-1-2.5-.5-6 .5-3zM524.5 647.5l2 0 1.5 1 1.5 2.5 .5 2.5 .5 3 0 3-1 2.5-1.5 1-1.5 0-1.5-1-1.5-2-1-3.5-.5-3 .5-3 1-2.5zM554.5 653.5l2 0 1.5 1 2 3.5 .5 3-.5 3-.5 1.5-1.5 1-1.5 0-1.5-.5-1.5-2-.5-1.5-.5-3 0-3 1-2.5zM960.5 670l4-.5 12 1.5 16.5 5 13.5 5.5 13.5 6 22.5 11 12 7 4.5 3.5 5 3 7.5 7.5 1.5 1.5 1 3-.5 3-1 3-1.5 2-3 2-12 0-4.5-1.5-6-1.5-4.5-2.5-6-2.5-24-12-25-14-16-10.5-10-9-2-3-1-3 .5-1.5 .5-1.5zM517 671.5l.5 0 1.5 .5 1 1 2 4.5 0 3 0 2.5-1.5 2-1.5 .5-1.5-1-2-4-.5-3 0-3 1-2.5zM544.5 676l1.5-1 1.5 0 1.5 .5 1.5 1.5 1 2 1 4.5 .5 3-1 2.5-1.5 1.5-1.5 .5-1.5-.5-1.5-1-1.5-2.5-1.5-6.5 .5-3zM511.5 697l1.5 .5 1.5 2.5 .5 3-.5 2.5-1.5 0-2-2.5-.5-3 0-1.5zM538 698.5l2-1 1.5 0 1.5 1 2 3 1 3 1 4.5-1 3-1.5 1.5-1.5 .5-1.5-.5-1.5-1-1.5-2.5-1-4-.5-3 0-3zM572 701.5l2.5 0 1.5 1 1.5 2 1 3 .5 3 0 1.5-1.5 3-1.5 .5-1.5 0-1.5-.5-1.5-1.5-1.5-4-.5-5 .5-1.5zM534 721l1.5-1 1.5 0 1.5 1 1.5 2 1 2.5 1.5 4.5 0 3-1 2-1.5 1-1.5 0-1.5-.5-1.5-2-1.5-3.5-1-3-.5-3 .5-1.5zM567.5 722.5l2.5 0 1.5 1 2.5 3.5 1.5 4.5 0 3 0 1.5-1 1.5-3 2-1.5 0-1.5-.5-1.5-2.5-2.5-6.5-.5-3 .5-1.5 1-2zM931 722.5l3.5-.5 13.5 4.5 15 7.5 6 4 7.5 4 6 4 6 3.5 4.5 3 6 3.5 6 4.5 6 3.5 4.5 4 4.5 2.5 4.5 4.5 5.5 4.5 4.5 9 0 1.5-1 3-1.5 1.5-1.5 .5-10.5 1.5-2-.5-4-1.5-6-2-6-3-6-3-4.5-3-6-3.5-4.5-3.5-6-3.5-4.5-4-7-4.5-5-4-7-5-13.5-12-8.5-10.5-1.5-3-.5-3 .5-1.5 .5-1.5zM603 727l1.5-1 1.5 .5 2 2 .5 3 0 1.5-1 1.5-1.5 .5-1.5-.5-1-1.5-1-3 0-1.5zM532 743.5l2-.5 1.5 .5 2 3 1.5 3 .5 3 0 1.5-.5 1.5-.5 1-1.5 0-1.5-.5-1.5-1.5-1.5-2.5-1.5-5.5 0-1.5zM566.5 743.5l2 .5 1.5 2 2 5 1.5 4.5-.5 3-1 1.5-3.5 2.5-1.5 0-3-5.5-2-4.5-.5-3 .5-3 .5-1 1.5-1.5zM599.5 745l2-1 1.5 .5 1.5 1 3 4 1 4.5 0 3-1 1.5-3.5 3-.5 1.5 4 8.5 1 3.5 0 3-.5 1.5-2.5 4.5 0 1.5 4.5 10.5 0 3-2.5 4.5 0 1.5 1 3 3.5 7.5 0 3-2 4.5 0 1.5 4.5 9 .5 3-.5 1.5-2 3 0 1.5 4 6.5 1 2.5 0 1.5-1 1.5-1.5 .5-3-1.5-3-3-1.5-2-.5-1.5 0-1.5 1.5-3 .5-1.5-5.5-7.5-1.5-3-.5-3 1.5-4.5 0-1.5-.5-1.5-4-7.5-.5-3 0-1.5 2-4.5 0-1.5-1-3-2.5-6-.5-3 .5-3 2-3 1-1.5-1-3-3-7.5 0-3 0-1.5 1-1.5 4-3 .5-1.5-3-7.5-1-4.5 .5-3zM638.5 763l2 0 1.5 1 2 2 1 3 0 3-1.5 2.5-1.5 1.5-1 .5 0 1.5 1 1 4.5 6.5 1.5 4.5 .5 3-2 4.5 0 1.5 1 3 3 6 1 3-1 7.5 1 3 2.5 4.5 1.5 3 0 3-.5 4.5 0 1.5 3.5 6 1.5 3 0 3-.5 3 .5 1.5 5 9 0 1.5-1 4.5 0 1.5 5 7.5 0 1.5-1.5 2-1.5 .5-3-1-3-2-1.5-2-1.5-2 0-4.5-.5-1.5-7-9-.5-3 0-4.5-1.5-3-3-4.5-1-3-.5-1.5 1-4.5 0-1.5-1.5-3-2.5-4.5-1-3 0-3 1-4.5-.5-3-3-6-1-3 .5-2 2-4 0-1.5-.5-3-3-6 0-3 0-1.5 1.5-2.5 3-3 1-.5 .5-1.5-3-4.5-1.5-4.5 0-1.5 .5-1.5 1-1zM564.5 764.5l1-.5 1.5-.5 4 8.5 1.5 4.5 0 3-1 1.5-3 2.5-1.5 0-1.5-2-3-5.5-2-5.5 .5-3 1.5-2zM887.5 764.5l2-.5 3 0 15 8 5.5 4.5 7 4.5 5.5 5 6 4.5 6 5.5 6 4 4.5 4.5 5 3.5 5.5 5.5 5 3.5 4 4 6 5 3 4.5 4.5 4.5 .5 3-.5 3-.5 1.5-2.5 2-3 1-4.5 1-3-1-3-1.5-7.5-2.5-4.5-3-6-3.5-4.5-4-6-3.5-4.5-4.5-6-4.5-4.5-5-6-4.5-4.5-5.5-6.5-6-4-5.5-6.5-6.5-7.5-15-.5-3 .5-1.5zM532.5 767.5l1.5 0 1.5 1 1.5 3.5 0 2.5-1.5 .5-1.5-1.5-1.5-3-.5-1.5zM565 785.5l2-1 4.5 8 1.5 3.5 0 3-1.5 2.5-1.5 .5-1.5 0-1.5-1.5-3-4-1.5-3.5-1-3 .5-1.5 1-1.5zM681 791.5l1.5-.5 1.5 0 1.5 .5 3 3 1.5 2.5 .5 2-.5 4.5 .5 3 5.5 9 .5 3 .5 6 1 3 4 6.5 .5 2.5 0 4.5 .5 1.5 5.5 9 .5 6 .5 1.5 5 7.5 .5 1.5 1 6 5 7.5 .5 1.5 0 4.5 .5 1.5 4 6 .5 1.5-.5 1.5-1.5 1.5-1.5 0-3-.5-3-1.5-3-2.5-2.5-6-6-6-2-3-1.5-6-5.5-7.5-1-3-.5-4.5-5-9-.5-1.5 0-6-1.5-3-3-4.5-1-3 .5-7.5-3.5-7.5-1-3 .5-3 1.5-4.5 0-1.5-2.5-6-1-3 1-3zM837 793l1.5-1 1.5 0 1.5 .5 4.5 3.5 7.5 4.5 3 2.5 4 5 6.5 5.5 4.5 6 6 5.5 4.5 5.5 6 5.5 4 5 5 4.5 4.5 5.5 6 5 3 5 4.5 4 1 1.5 2 4.5 3.5 4.5 0 1.5-.5 1.5-1 1.5-3.5 2-4.5 0-6-3-6-2-2.5-1.5-3-3-6.5-4-4.5-5-6-4.5-3-4.5-7-6-3.5-5.5-5.5-5-3.5-6-6.5-7.5-3-6-4-6-2-3-3-13.5 0-1.5zM566.5 808l.5-.5 1.5 .5 1.5 1 1.5 2 2 4.5 0 1.5-.5 1.5-1.5 .5-1.5-1-3-3-1.5-2.5-.5-1.5 .5-2zM731.5 808l2-.5 3 .5 3 2.5 3 3.5 2 7.5 6.5 9 2 7.5 5.5 7.5 2.5 7.5 5.5 7.5 3 7.5 5 6 2.5 7.5 5 6 1.5 6 4.5 6 .5 1.5 0 1.5-1 2-1.5 1-3 .5-3-1-3-1-3-2.5-3.5-5-7-6-2.5-6-6.5-7-2-6.5-6-7.5-2-7.5-5-7.5-1.5-7.5-5-9-.5-9-3-6-.5-3 .5-3 1-2zM786 809.5l1.5-.5 1.5 0 4.5 2.5 3 2 3 3.5 3 6 6 6 4 7.5 6.5 7.5 3 6 5.5 6 3.5 6 5.5 6 3.5 6 4.5 4.5 1.5 1.5 1.5 4.5 5.5 6 .5 1.5 .5 6 1 3-1 1.5-2 .5-1-.5-2.5-1.5-8.5-3-3-1.5-4-4.5-6.5-4.5-1.5-1.5-2.5-4.5-6.5-6-3.5-6-5.5-6-3-6-6-7.5-2-6-5.5-7.5-2.5-9-3.5-6-.5-1.5-.5-3 1-4.5z"/>
<path fill="#ffb900" d="M770.5 280l2 0 1 1.5-.5 3-1 1.5-8 6-4.5 6-8 6-1.5 1.5-5 6-9 7.5-5.5 7.5-8.5 7.5-5 8-8.5 8.5-5 9-7.5 7.5-2 3-2 6-2 3-3 3-3 2-1.5 .5-1.5-.5-1-2 .5-3 2-3 3.5-4.5 2-3 1-6 1.5-3 7.5-9 2.5-6 2-3 7.5-7.5 5.5-9 8.5-7.5 5.5-7.5 8.5-6.5 6-7 9-6 6.5-6 5.5-3zM838.5 280l3 0 2 1.5-1.5 1.5-3.5 2-3.5 5.5-2 1.5-6.5 3.5-6 5.5-9 5-6 5.5-8 4.5-6.5 6-9 6-6.5 7-9 6.5-6.5 7.5-10 7.5-4 6-3 3-3.5 2-3 1.5-1.5 .5-1.5-.5-1-2 0-1.5 1-2.5 1.5-2 5.5-6 3-6 2-2.5 8.5-8 5-6.5 8.5-7 6.5-7 9-6 5-5 10-6 6-5 9-4 7.5-5 12-4zM708.5 289l2.5-.5 1 .5 1 1.5-.5 1.5-2.5 3-6.5 6-2 4.5-1.5 3-8 7.5-1 1.5-3 6-8.5 9-1 1.5-3 7.5-9 10.5-1.5 6-1.5 3-8 10.5-1 1.5-1 6-1 3-3 4-6.5 8 .5 6 0 1.5-1 3-2 3-3 3-1.5 .5-1.5-.5-1-1.5 0-1.5 .5-3 2-3.5 5.5-7-1.5-6 .5-3 .5-1.5 7-10.5 .5-1.5 1.5-7.5 1.5-3 5-6 2-3 1.5-6 1.5-3 8-9 3-7.5 2.5-3 7.5-7.5 2-4.5 2-3 9-7.5 1.5-1.5 2.5-4.5 1.5-1.5 4-3zM898 298l2-.5 3.5 .5 2.5 1.5 .5 1.5-1 1.5-4 2-4 4-2 1.5-7.5 3-6 3.5-7.5 3-6.5 4-8.5 3.5-9 5.5-7.5 3.5-7.5 5.5-9 4.5-7.5 6-9 5-6.5 5.5-2.5 1.5-4.5 2-6 2-1.5 0-1-1 0-4.5 1.5-3 8.5-7 5.5-6.5 9-6 6.5-6 9-5 6-4.5 9-4.5 6-4 10.5-4.5 6-3.5 10.5-3.5 6-3 10.5-1.5zM651 308.5l3-1.5 1.5 0 1 1.5 0 1.5-1 1.5-7 7.5-1 1.5-.5 4.5-1 3-2 3-5.5 6-1.5 3-.5 4.5-1.5 3-8 10.5-.5 1.5 0 4.5-1 3-1.5 3-5.5 7.5-1.5 3 0 6-.5 3-3 5-5 7-1 1.5 0 1.5 1.5 3.5 0 2.5-1 4.5-2 3.5-3 4-1.5 1-1.5 0-1.5-2.5-.5-1.5 .5-3 3-6 4-6 .5-1.5-.5-1.5-1-2.5-.5-2 .5-2.5 1.5-3.5 5-7.5 1.5-3-.5-6 1-3 2-3.5 5-7 1.5-3 0-4.5 1-3 2-3 6.5-7.5 1-3 1-4.5 .5-1.5 2.5-3 7.5-7.5 1-1.5 .5-4 1-2 2-2zM954.5 329.5l4-.5 3 .5 3 1.5 1.5 1.5 0 1.5-1.5 1.5-4.5 2.5-2.5 2-3 1.5-6.5 2-6 2.5-9 2-6 2.5-9 2.5-6 2.5-10.5 3.5-6 3-10.5 3.5-7.5 4-9 3-7.5 4.5-12 4-6 3-3 .5-1.5 0-2.5-1 0-1.5 1-1.5 4.5-4.5 5-6 1.5-1.5 8.5-5 6-4.5 9-4.5 7-4 9.5-3.5 7.5-4 7.5-2 7.5-3 9-2.5 6-2 9-1.5 7.5-2zM602.5 335.5l2-1 1.5 1-.5 1.5-2.5 4.5-3 3-1.5 1-1.5-1 0-1.5 .5-1.5 2.5-4zM595.5 352l1.5 0 1 1.5 0 1.5-.5 3-2 3-3 4-3 3.5-1.5 1-1.5-4 0-1.5 1-3 3.5-5 3-3zM559 371.5l.5-.5 1.5 0 0 2-1.5 2.5-1.5 2-1.5 .5-.5-.5 0-1.5 .5-1.5zM587.5 371.5l.5-1 2 4 0 1.5-.5 3-3 5.5-4.5 6-1.5 1.5-1.5-2-.5-2 0-1.5 .5-3 3-5.5 4.5-6zM980.5 373l9.5 0 7.5-.5 15 1.5 3 1.5 2 2 1 1.5 0 1.5-1.5 1-3 1.5-4.5 3-1.5 .5-6 1-6.5 2-8.5 1-6 1.5-7.5 .5-7.5 2-9 1-7.5 2-9 1.5-7.5 2.5-9 2-7.5 2.5-10.5 2-8.5 2.5-3.5 .5-3.5-.5-2.5-1-1.5-2 0-1.5 .5-1.5 1.5-1.5 8.5-5.5 5-3.5 10-4 7-3.5 8-2 7.5-3 9-1.5 7.5-2.5 7.5-1 7.5-1.5 9-1zM553.5 391l1.5-.5 .5 .5 .5 1.5-.5 3-2 4-1.5 2-1.5 1.5-1.5 .5-1-2 .5-3 2-4.5zM579 395.5l1.5-1.5 1.5 2.5 .5 2 0 3-1 3-2.5 4.5-3 4-1.5 1-1.5-.5-1-1.5-.5-1.5 .5-3 2.5-6zM549 413.5l1.5 .5 .5 1 0 1.5-.5 3-3 6.5-1.5 2-1.5 .5-1.5-.5-.5-1 0-1.5 .5-3 3-6.5 1.5-1.5zM572.5 421l.5-.5 1.5-.5 1.5 1.5 1 2.5 0 1.5-1 3-1.5 4-3 4.5-1.5 1-1.5-.5-1.5-1.5 0-1.5 0-3 1.5-4.5 3-5zM1010 425.5l4 0 7.5 .5 6 0 9 1 6 .5 14.5 5.5 2 2 1 2.5-.5 1.5-6.5 4.5-1.5 1-6 .5-6 1-7.5 0-6 .5-9-.5-6 .5-7.5 0-7.5 .5-7.5 .5-7.5 1-10.5 .5-7.5 1-9 0-9 1.5-6-.5-6-1-2-.5-2.5-1.5 0-1.5 1-1.5 4-4.5 2-1.5 17-6.5 9-1.5 6-2 9-1 6-1 9-.5 7.5-1zM599 433l1-.5 1.5 0 1 2 0 3-.5 3-2 3-1.5 1.5-1.5 1-1.5-.5-.5-.5-.5-1.5 0-1.5 1.5-4.5 1-2zM519.5 437.5l1-1 .5 1 0 1.5-.5 2-1.5 2-1-1 .5-3zM544 439l.5-.5 1.5 .5 1 1.5 .5 3-1.5 4.5-1.5 3.5-1.5 2-1.5 1-1.5-.5-1-1.5 0-3 1-4 1.5-3.5 1.5-2zM568.5 448l1.5-1 1.5 .5 1.5 2 0 3-1.5 4.5-1.5 3.5-1.5 1.5-1.5 1-1.5-.5-.5-1-1-3 1.5-5.5zM518 461.5l1-1 1 1 .5 1 0 2-1.5 4.5-1.5 2-1.5 .5-.5-1-.5-3 1-3zM542 466l1-.5 1.5 .5 1 3 0 3-1 3.5-1.5 3.5-1.5 1.5-1.5 .5-2-1.5 0-1.5 0-3 .5-3 1.5-3.5zM567 476.5l1.5-1 1.5 .5 1 2 0 1.5 0 3-1 2.5-1.5 2-1.5 1-1.5 0-.5-1-.5-3 1-4.5zM988 485.5l17-1 16.5 .5 13.5 1 13.5 1.5 13.5 3 9 3 4.5 1 3 1.5 4 3 3 3 1 1.5 .5 1.5-.5 1.5-2 3-3 2.5-12 1-6-1-6 0-7.5-1-6-.5-7.5-1-7.5-.5-7.5-1-7.5-.5-9-1-6 0-9-1-9-.5-17.5-3-3-1.5-1-1.5-1-1.5 0-1.5 1-1.5 2-1.5 10.5-4.5 3-1zM517.5 488.5l1.5-1.5 1.5 1 .5 3.5-1 4.5-1 2.5-1.5 1.5-1.5-.5-.5-.5-.5-3 1-4.5zM542 494.5l1-.5 1.5 0 .5 .5 1 1.5 .5 3-.5 3.5-1.5 4-1.5 1.5-1.5 .5-1.5-1-.5-1-.5-3 1-5 1.5-3.5zM521 515.5l1-.5 1.5 1.5 .5 3.5 0 3-1 3-1 2-1.5 1-1.5-1-.5-.5-.5-3 0-3 1-3zM545.5 524.5l.5-.5 1.5-.5 1.5 1 1 3 0 3-1 3-1.5 2-1.5 .5-1.5-1-1-3 .5-4.5zM525.5 545.5l1-1 1.5 0 1.5 1.5 .5 2.5 0 3-.5 3.5-1.5 2.5-1.5 .5-1.5-1-.5-1-1-3 .5-4.5zM988 548.5l11-1.5 15 .5 13.5 2 16.5 2.5 12 3 12 3.5 13.5 5 12 6.5 2.5 2.5 1.5 3 1 3-.5 3-2 3-2.5 1-10.5 1-6-1.5-4.5-.5-13.5-3-19.5-5-37.5-8.5-15-4.5-4-1.5-4-3-1.5-3 0-1.5 .5-1.5 1-1.5 2-1.5 3-1zM553.5 557.5l0-.5 1.5 0 0 .5 0 2-1.5 .5zM509.5 569.5l.5-.5 1.5 .5 .5 3-.5 4.5-1.5 1-1.5-2-.5-2 .5-3zM535.5 574l1.5 0 1.5 1.5 1 3 0 3-.5 3-.5 1-1.5 1-1.5 0-1.5-1.5-1-3.5 .5-4.5 .5-1.5zM519.5 598l1-1 1.5 0 1.5 1.5 1 2.5 0 3-.5 3-.5 1-1.5 1.5-2-1-1.5-3 0-4.5zM549 605.5l1.5 .5 1 2.5 0 3-1 1.5-1.5 0-1.5-3 0-3zM986 611.5l4-.5 15 1 15 3.5 13.5 4 13.5 4.5 12 4.5 12 5 12 7 9 8.5 .5 1.5 .5 3-.5 3-1 1.5-1.5 1.5-10 1.5-12-2-6-2.5-6-1.5-6-2.5-6-2-6-2.5-6-2-28.5-11.5-15-7-3.5-2.5-5-4.5-1.5-3 0-1.5 1-1.5 2.5-1.5zM509 625l1 0 0 3-1.5-1.5zM534.5 626.5l1-.5 1.5 0 1.5 1 1 2.5 .5 3 0 3-1.5 2.5-1.5 .5-1.5-1-1.5-2.5-.5-2.5 0-3 .5-2.5zM525 649l1.5 0 1.5 1.5 1.5 3 0 3 0 2.5-1.5 2.5-1.5 0-1.5-1.5-1.5-3-.5-5 .5-1.5zM554 656.5l1-1 1.5 0 1.5 1.5 1 4 0 1.5-1 2-1.5 0-1.5-1-.5-1-1-3 0-1.5zM969 673l6-.5 3 .5 15 4 6 2.5 7.5 3 6 3 7.5 3 22.5 11.5 6 4 6 3 4.5 4 4.5 3 2 2.5 3 6 .5 3-.5 1.5-2 2-7.5 2.5-3 0-4.5-1-4.5-1-12-4.5-24-12.5-25.5-14-4.5-3.5-7.5-5-2.5-2-5.5-6-2.5-4.5 0-1.5 .5-1.5zM516.5 674.5l1-1 1.5 .5 1 2 1 3-.5 3.5-1.5 .5-1.5-1-1.5-4.5zM545 677.5l1-1 1.5 0 1.5 1 1.5 2 1 2.5 .5 3-.5 1.5-1 2.5-1.5 .5-1.5-.5-2-2.5-1.5-4.5 0-3zM538.5 700l1.5-1 1.5 .5 1.5 1 1.5 2.5 1 3 .5 3-.5 1.5-1 1.5-1.5 .5-1.5-.5-1.5-1.5-1-1.5-1-4.5 0-3zM571 704.5l2-1 1.5 0 2 2.5 1 2.5 0 2 0 1.5-1.5 1.5-1.5 0-1.5-1-1.5-2-.5-3zM534.5 722.5l1-.5 1.5 0 1.5 1 1.5 2.5 1 3 .5 3-.5 1.5-1 1-1.5 0-1.5-1-1.5-2-1-2.5-.5-3 0-2zM568 724l2 .5 1.5 1 1.5 2.5 1.5 3.5 0 3-.5 1.5-1 1-1.5 .5-1.5 0-1.5-1-1.5-2.5-1.5-4 0-3 .5-1.5 1-1zM934.5 727l7.5 0 4.5 1 3 .5 6 3.5 9 4 4.5 3 7.5 4 5 3.5 7 4 4.5 3.5 6 3.5 4.5 3.5 6 3.5 4.5 4 5 3.5 5.5 6 3 2.5 1 2 .5 3-.5 3-1 1.5-3 2.5-3 1-1.5 .5-4.5-1.5-7.5-1.5-4.5-2.5-7-3-4-3-6-3-5.5-4.5-6-3.5-4.5-3.5-6-4-6-5-6-4-6-6-6.5-5.5-2-3-5-9 0-3zM532.5 746.5l1.5-1 1.5 .5 1.5 2 1.5 4.5-1 1.5-.5 .5-1.5-.5-1.5-2-1-2.5zM563.5 746.5l2-1 1.5 0 1.5 1 2 3 1.5 3 .5 3-1 3-1.5 1-1.5 .5-1.5-1-1.5-1.5-1.5-2.5-1.5-5.5 0-1.5zM600.5 746.5l1 0 1.5 0 1.5 1.5 1.5 2 1 2.5 0 3-1 2-1.5 1-1.5 0-1.5-1-1.5-2.5-1-2.5-.5-1.5 0-2.5 1.5-2zM599.5 766l2 0 1.5 .5 3 4 1.5 4.5 0 3-1 1.5-2 2-1.5 .5-1.5-1-1.5-2-2-4-1.5-3 0-3 .5-1 1.5-1.5zM562.5 767.5l1.5-.5 1.5-.5 1.5 1 3 4 1.5 5 0 2-1.5 2-1.5 0-1.5-.5-1.5-1-1.5-2-1.5-3.5-1-3 .5-1.5zM638.5 767.5l.5-.5 1.5-.5 1.5 2 0 1.5-1.5 .5-.5 0-1-1zM892 770.5l2-.5 3 0 6 1.5 3 1.5 6 4.5 7.5 4.5 5 5 7 4.5 4.5 4.5 6.5 4.5 4.5 4.5 6 4.5 4 4 6 4.5 4.5 5 3.5 3 1.5 1.5 2.5 5.5 2.5 3.5 .5 1.5-1.5 3-3 2-3 .5-4.5-1.5-7.5-1.5-4.5-3-7.5-4-3.5-3-7-4.5-3-3.5-6-4-5.5-6-6.5-5-4.5-5.5-6-5.5-4.5-6.5-4.5-4.5-1.5-3-2-6-.5-4.5zM638 782.5l1-.5 1.5 0 1.5 .5 3 3.5 2 4 0 3-2.5 4.5 0 1.5 4.5 7.5 1 3 .5 3-1.5 4.5 0 1.5 1 3 3 4.5 1.5 3 0 3-1 3 0 1.5 .5 1.5 3.5 6 1.5 3 0 3-1 3 0 1.5 4 6 1.5 3 0 1.5-.5 1.5-1.5 1.5-1.5 .5-1.5-.5-3-2-3-3-1.5-2.5-.5-1.5 .5-4.5 0-1.5-1-1.5-4-6-1.5-3 0-1.5 1-4.5 0-1.5-4.5-7.5-1-3 0-1.5 1.5-4.5 .5-1.5-.5-1.5-4-7-.5-2 0-3 3-4.5 .5-1.5-.5-1.5-3.5-6-1-3 .5-2.5zM600.5 785.5l1-.5 1.5 .5 1.5 2 3 5 1.5 3.5-.5 3-1 1.5-3 3 .5 1.5 4 6 2 4.5 0 1.5-.5 2-3 3-1.5 0-3-4-2.5-4-1.5-3 0-3 1-1.5 3-3-.5-1.5-4-6.5-1.5-4 0-3 1.5-2zM564 788.5l1.5-.5 1.5 .5 1.5 1.5 1.5 2 1.5 4 0 1.5-.5 1.5-1 .5-1.5 0-1.5-1-1.5-2-1.5-2.5-1-2.5 0-1.5zM682 794.5l2-.5 1.5 1 1.5 1 1 1.5 0 1.5 0 1.5-1 2-1.5 1-1.5-1-1.5-2-1.5-3 0-1.5zM842.5 800.5l2-1 3 .5 3 .5 3 2 5 5.5 7.5 6 4.5 6 5.5 4.5 6 7.5 5 4.5 4 5 6 5.5 3.5 4.5 5.5 5 3.5 5.5 4.5 4.5 1 3 0 3-.5 3-1 1-3 .5-4.5-.5-3-.5-3-1-4.5-4-6-3-4.5-5-6-4-4.5-6-5.5-4.5-4-6-5.5-5-4-7-5.5-6-3.5-7.5-4-6-1-1.5-.5-3 .5-4.5zM684.5 808l1-1.5 1.5 .5 4.5 4 3 4.5 1 3-.5 6 1.5 3 4 6 1 3 0 4.5 .5 1.5 5.5 9 .5 6 0 1.5 5.5 7.5 .5 1.5 .5 6 5 7.5 .5 1.5 0 1.5-2 4.5 1 1.5 2.5 2.5 1.5 2-1 1.5-2 0-3-1.5-1-1.5 0-3-1-1.5-5.5-4-3.5-3.5-1-1.5-.5-4.5-1-1.5-5-6-1-2-.5-2.5-.5-4.5-5.5-9-.5-1.5 0-6-1-3-3-4.5-1.5-3 1-7.5-4-7.5-.5-3 .5-3zM733.5 811l1.5-.5 1.5 .5 3 2 1.5 2.5 1 6 6.5 7 1 2 2 7.5 6 7.5 1 3 1 4.5 6 7.5 2.5 7.5 4.5 5.5 1.5 2 1.5 6 5 6 .5 1.5 0 4.5 .5 1.5 3.5 4.5 .5 1.5-1.5 1.5-1 .5-3-.5-3-1-3.5-5-8-6-1-1.5-2-4.5-6.5-7-1-2-1.5-4.5-5.5-7.5-1-1.5-1-6-5.5-7.5-1-3 0-4.5-.5-1.5-4.5-7.5-.5-3 .5-6 0-1.5-2.5-4.5-1-3 1-2zM568 812.5l.5-.5 1.5 1 .5 1-.5 1-1-1zM788 814l1-.5 3 0 4 2 2 2.5 2.5 5 7.5 7.5 3 6 7 7.5 2.5 6 6 6 3 6 6 6 3 6 5.5 6 2.5 6 4 4.5 .5 1.5-.5 2-1.5 2-1.5 .5-3 .5-4.5-1-1.5-1-2.5-3-2-1.5-6-3.5-1.5-1.5-3-4.5-6-5.5-3.5-6-6-6-3.5-7.5-5-6-3-7.5-4.5-6-.5-1.5-1.5-7.5-4-7.5 0-3 .5-1.5zM605.5 824.5l.5-.5 1.5 .5 3 3.5 2.5 4 .5 3 0 1.5-1.5 1.5-1.5 0-1.5-.5-1.5-1-2.5-3-2-3 0-1.5 0-2 1.5-2zM610.5 847l1.5 0 1.5 1 1 2-.5 1.5-1 0-2-1.5-1-1.5zM660 875.5l1.5-1.5 1.5 .5 2 2.5 .5 1.5-1 .5-2-.5-1.5-1.5z"/>
<path fill="#ff9400" d="M766 283l2 0 1.5 0 1 1.5-.5 1.5-8 5.5-4 6.5-8 6-1.5 1.5-4.5 6-9 7.5-3 4.5-2.5 3-8.5 7.5-3.5 6-2 3-8.5 7.5-1 1.5-2.5 6-1.5 2-6 5.5-3 2-1.5 .5-1-4 0-1.5 1-3 8-9 2-6 2-3 8.5-9 2.5-4.5 2-3 8.5-7.5 4-6 1.5-1.5 8-6 2-1.5 3-4.5 2-1.5 10-6 4-4.5 2-1.5zM827.5 286l3.5 0 1.5 .5 1 1 0 1.5-1 1.5-7.5 4.5-4.5 4.5-1.5 1.5-8.5 4.5-5 5-9.5 5.5-6 6-9.5 6-5 6-10.5 7.5-6.5 7.5-10.5 7.5-4 6-1.5 1.5-4.5 2-1.5 .5-1.5-1 0-1.5 .5-1.5 7.5-7.5 2-6 2-3 8.5-7.5 4-6 9.5-7.5 5-6 9-6 6-6 10.5-6 5.5-4.5 10-4.5 6.5-4.5zM705 292l3-1 1.5 .5 .5 .5-.5 1.5-1.5 1.5-7 4.5-.5 1.5 0 4.5-1 1.5-2.5 3-6.5 6-1 1.5-2.5 6-2.5 3-6 6-1 1.5-2 6-1 1.5-9.5 10.5-1 6-1.5 3-2.5 3.5-6.5 7-1 1.5 0 6-2 4.5-2.5 3-3 2.5-1.5 .5-1.5-1-.5-2 .5-3 1.5-3 6.5-7.5 .5-1.5-.5-4.5 .5-3 2-3.5 7-8.5 1.5-6 1.5-3 8-9 1-1.5 1-4.5 2-3 9.5-9 1.5-4.5 2.5-3 3.5-3 7-4.5 1.5-1.5 .5-3 1-1.5 1.5-1.5zM883.5 302.5l4.5-.5 6 0 1.5 .5 1.5 1.5 0 1.5-.5 1.5-1.5 1.5-8.5 3.5-5 4-8.5 3.5-6.5 4-8.5 3.5-6 4-10.5 5-6 4.5-10.5 5.5-7.5 6-9.5 4.5-7 6-3 1.5-3 .5-1.5 .5-2-1-1-1.5 .5-1.5 1-2 7.5-6 3.5-5.5 1.5-1.5 8.5-5.5 5-5 2-1.5 8.5-4.5 5.5-4.5 10.5-5 6-4 9-3.5 7-4 10.5-3zM652 310l1 0 .5 1.5-1 1.5-3 2-1.5 .5-.5-1 .5-1.5 1.5-1.5zM641 325l2.5-1.5 1.5 .5 .5 2.5-.5 1.5-3 4-7.5 6.5 1 4.5-.5 3-1.5 3-2 2.5-6.5 6.5-.5 1.5 .5 4.5 0 1.5-1 3-4.5 6-3 3-1.5 1-1.5-2.5-.5-1.5 .5-2 1-2.5 2-3 6-7 .5-.5 .5-1.5-1-4.5 1-3 3.5-4.5 7.5-7.5-.5-4.5 .5-2.5 2.5-3.5zM938 332.5l5.5-1.5 6 .5 6 1.5 1.5 1 .5 1.5-1.5 3-2 1.5-7.5 2.5-6 3-7.5 1.5-6 3-9 2-7.5 3.5-9 2.5-6 3-10.5 3.5-7.5 4-10.5 3.5-7.5 4.5-4.5 1-6 1-3-.5-.5-.5 0-1.5 .5-3 1-1.5 2-2 7.5-4.5 6.5-5.5 8.5-4 7.5-4.5 9-3 6-3.5 10.5-3 6.5-3 8.5-2 7.5-2.5zM594 355l1.5-.5 .5 .5 .5 1.5-.5 1.5-.5 1.5-3 4-1.5 1-1.5 1-1.5-1.5 .5-3 2.5-3.5zM687.5 373l1-.5 1.5 0 .5 2-.5 1.5-.5 1.5-1.5 1.5-2.5 2-1.5 .5-1.5-.5 0-2 .5-1.5 2.5-3zM978 374.5l4.5-.5 9 0 7.5 0 6 1.5 4 2 1.5 1.5 0 1.5-1.5 3-1.5 1.5-7 1.5-6 2-7.5 1-6 1.5-9 1-7.5 2-7.5 .5-7.5 2.5-9 1.5-7.5 2-9 2-9 2.5-10.5 1.5-7.5 2-3 0-1.5-.5-1-.5-1-1.5 0-1.5 1.5-1.5 5-3 6-5 9-4 7.5-3.5 9-2.5 7.5-3 7.5-1.5 7.5-2 9-1.5 6-1.5zM585 376l1.5-1 1.5 0 .5 1 .5 1.5-1 3-1.5 2.5-3 4-1.5 1-1.5 0-1-1.5 .5-3 2-4zM613 383.5l.5-.5 1.5 .5 1 3-.5 3-1.5 3-2 3-3 3-1.5 1-1.5-1-.5-1.5 0-1.5 .5-3 3-5zM552.5 394l1-.5 1 .5 0 1.5-1 2-1.5 2-1.5 1-.5-.5 0-1.5 .5-2zM578 398.5l1-1 1.5 0 .5 1 .5 1.5-.5 3-2 4.5-1.5 2-1.5 1.5-1.5 .5-1.5-1-.5-1.5 .5-2.5 1.5-3.5zM639 400l1.5-.5 1 .5 .5 1.5-.5 1.5-1 2-1.5 2-1.5 1-1.5 0-.5-.5 0-1.5 0-1.5 2-3zM604 409l2-1.5 1.5 1 .5 3.5-.5 2-1.5 3-3 3.5-1.5 1-1.5-.5-.5-1.5 0-3 2-4.5zM547 416.5l2-1 .5 1 .5 1.5-.5 1.5-2 5-1.5 1.5-1.5 .5-.5-1 0-3 1-3zM574.5 422.5l1 1.5 .5 1.5-1.5 5-3 4.5-1.5 1-1.5-.5-.5-2.5 1-4.5 2.5-4.5 1.5-1.5zM995 427l4-.5 9 0 6-.5 9 1 6 0 9 2 4.5 .5 2 .5 3 1.5 4 3 1 1.5 .5 3-.5 1.5-1 1-1.5 1-4.5 .5-7.5 1.5-6 0-7.5 1-7.5-.5-6 1-9-.5-6 1-9 0-7.5 1-9 .5-7.5 1-10.5 0-6 1-4.5-.5-4.5-1-2.5-2-.5-1.5 1-3 2-2 15-6.5 9-1.5 7.5-2.5 7.5-.5 7.5-1.5zM598.5 436l1.5-.5 .5 .5 .5 1.5 0 1.5-2 3-.5 1-1.5 .5-1-1.5 0-1.5 1-2.5zM543 442l1.5-1.5 1.5 1 .5 2 0 1.5-2 4.5-1.5 2-1.5 1-1.5-1.5 0-3 1.5-4zM569 449.5l1-.5 1.5 1 .5 2.5 0 1.5-2 4.5-1.5 2-1.5 .5-1.5-1-.5-1.5 .5-3 1.5-3.5 1.5-2zM517 466l.5-1 1 1-1 2-.5-.5zM543 467.5l1.5 1.5 0 4-1.5 4-1.5 1.5-1.5 .5-1-1-.5-1.5 .5-3 1-3 1.5-2.5zM567 479.5l1.5-1 1 1 0 1.5-1 3.5-1.5 1-1.5-1.5 .5-1.5zM1003 485.5l3.5-.5 7.5 .5 7.5 0 7.5 1 6 0 7.5 1.5 7.5 1 7.5 2 4.5 .5 15 6 2 1.5 2 3 1 3 0 1.5-.5 1.5-1.5 1.5-4.5 .5-6 1.5-7.5-1-6 .5-6-1-6-.5-7.5-1-7.5-.5-7.5-1-7.5-.5-7.5-1-7.5 0-9-1.5-9-.5-11-3-3.5-1.5-1.5-1.5 0-1.5 1.5-1.5 6-4.5 2.5-1 15-3zM518.5 490l.5-.5 .5 .5 .5 1.5 0 1.5-1 3-1.5 1.5-1.5-1.5 0-1.5 1.5-4zM543 496l1.5 0 .5 1.5 .5 3-1 3-.5 1.5-1 1-1.5 .5-1-1.5-.5-3 1.5-4.5zM520 518.5l.5-.5 1.5-.5 1 2.5-.5 4.5-.5 1-1.5 1-1-.5-.5-1.5 0-3.5zM546.5 526l1-.5 .5 .5 .5 1.5 .5 1.5-1.5 4-1.5 .5-1-1.5 0-1.5 .5-3 .5-1zM526 547l.5-.5 1.5 0 1 2 0 1.5-.5 4.5-.5 .5-1.5 1-1.5-1.5-.5-1.5 .5-4zM998 548.5l16 0 15 2 7.5 1.5 6 1 7.5 2 6 1 7.5 2.5 6 1.5 6 3 6 2 10.5 7.5 1.5 1.5 1 1.5 .5 3-.5 1.5-1 1.5-9 3-1.5 0-6-1-6-.5-6-1.5-6-1-19.5-5-7.5-1.5-7.5-2-6-1-9-2.5-7.5-1.5-16.5-6.5-2-1.5-1.5-1.5-.5-1.5 0-1.5 1-1.5 1.5-1.5zM535 577l.5-1 1.5 0 1.5 2.5 0 3-1.5 3-1.5 0-1.5-3 .5-3zM520.5 599.5l0-.5 1.5 0 1.5 3.5-.5 3-1 1.5-1.5-.5-1-2.5 0-3zM990 613l15 .5 15 3 6 2 7.5 2 6 2 7.5 2.5 6 2.5 6 2 6 3 6 2.5 6 4.5 4.5 2 2.5 3 3 4.5 .5 3 0 1.5-1 1.5-1.5 1.5-5 2.5-12-1.5-6-2-6-1.5-6-2.5-6-2-6-2.5-7-2.5-6.5-3-6-2-7.5-3.5-7.5-2.5-7.5-4.5-6-2.5-3-2.5-2.5-3.5-.5-3 .5-1.5 1.5-1.5zM535.5 628l1.5 0 1.5 1.5 .5 1.5 0 3-.5 1.5-1.5 1-1.5-1-1-3 0-3zM524.5 652l.5-.5 1.5-.5 1.5 2 .5 3.5-.5 2.5-1.5 .5-1.5-1.5-.5-3zM971.5 676l3.5-1 3-.5 15 4 6 2.5 7.5 2.5 25.5 12 4.5 3 6 2.5 6 4.5 4.5 2.5 4.5 4.5 4.5 3.5 1.5 2 .5 3 0 3-.5 1.5-3 3-3 1-4.5-1-6-.5-6-2.5-6-2-4.5-2.5-6-2.5-6-3.5-7-3-5-3.5-6-2.5-6-4-7.5-4-6-5-7.5-5-2.5-3-2-4.5 0-1.5 .5-1.5zM546 679l1.5-.5 1 .5 2 3 0 1.5 0 2.5-1.5 1.5-1.5-.5-1.5-2-.5-3zM539.5 701.5l.5-.5 1.5 0 1.5 1.5 1 2 .5 1.5 0 3-1.5 1.5-1.5-.5-2-2.5-.5-3 0-1.5zM573 707.5l0-.5 1.5-.5 .5 1 .5 1.5-1 1.5-1.5-1.5zM535 725.5l.5-1 1.5-.5 1.5 1 1.5 3.5 0 3-1.5 .5-1.5-1-1.5-2.5zM567 727l1.5-1 1.5 0 2 2.5 1 2.5 .5 2-.5 1.5-1.5 1-1.5 0-1.5-1.5-.5-1-1.5-3zM943 730l2 0 3 0 7.5 3.5 7.5 3 6 4 6.5 3 5.5 4 6.5 3.5 5.5 4.5 6 3 4.5 4 6 3.5 4.5 4.5 4.5 3 1.5 1.5 3 5.5 2.5 3.5 .5 1.5-1.5 3-1.5 1.5-1.5 .5-4.5-.5-6 0-3-1-3.5-2-7-2.5-4.5-3-6-3-4.5-3.5-7.5-4.5-4.5-4-6-3.5-6-5.5-6-4-4.5-5.5-6-5-1.5-2-1.5-3.5-.5-3 0-1.5 1-1.5zM564 748l1.5-1 1.5 .5 1.5 1 1.5 2.5 1 3 0 1.5-1 2-1.5 .5-1.5-1-1.5-1.5-2-4.5 0-1.5zM600.5 749.5l1-1 1.5 .5 1.5 1.5 1 2 0 1.5-1 1.5-1.5 0-1.5-1-1.5-3.5zM564 769l1.5-.5 1.5 1 1.5 1.5 1.5 4 .5 1.5-.5 1.5-1.5 .5-1.5-.5-2-1.5-1-2-1-2.5 0-1.5zM598 769l2-1.5 1.5 .5 1.5 1 1.5 1.5 1.5 3 .5 1.5-.5 2.5-1.5 1.5-1.5 0-1.5-.5-1.5-2-1.5-2.5-.5-2-.5-1.5zM899.5 773.5l3.5 0 3 1.5 4.5 3.5 9 5 4.5 4.5 7.5 5 4.5 4.5 6 4 4.5 5 6 4 4.5 5 4.5 3 4.5 6 4 3 1 1.5 .5 4.5 0 1.5-1 2-1.5 1-4.5 1-3 0-3-.5-3-2.5-7.5-3-4.5-4-6-3.5-4.5-4.5-6-4-4.5-5-6-4.5-4.5-5.5-6-5.5-4.5-7-4.5-5.5-1.5-3-.5-3 .5-1.5 1.5-2zM637.5 785.5l1.5-1 1.5 0 1.5 .5 2 2 1 2 .5 2.5-1 1.5-1 1-1.5 0-1.5-.5-1.5-2-1.5-3-.5-1.5zM599 788.5l1-.5 1.5-.5 1.5 .5 3 3.5 1.5 4.5 0 2-1.5 1.5-1.5 .5-1.5-.5-3-3.5-1.5-2.5-.5-2 0-1.5zM565 791.5l.5-.5 1.5 0 .5 .5 1.5 1.5 1 3-1.5 1-1.5-1-1.5-2zM640.5 802l1.5-.5 1.5 .5 1.5 1 2.5 3.5 1.5 3 0 3-.5 1.5-2 2-1.5 .5-4.5-5-2-3.5-.5-3 1-2zM845 803.5l2.5-1 1.5 0 3 1.5 1.5 1 3.5 4.5 8.5 6 4.5 6 6 4.5 4 6 6.5 5.5 3.5 5 5.5 4.5 4.5 6 5 4.5 3 6 4 4.5 0 2.5-1.5 2-3 1.5-4.5 0-1.5-.5-2.5-2.5-2-1-6-2.5-1.5-1-4-4.5-6.5-4.5-3-4.5-6-5-3.5-5.5-6.5-6-3.5-6.5-6-7-2-6-1.5-3-2.5-3-1-3 .5-3zM601 808l2-.5 1.5 0 3 3 1.5 2.5 1 2.5-.5 1.5-.5 1-1.5 1-1.5-.5-3-2-1.5-2.5-1.5-3 .5-1.5zM685 811l2-.5 1.5 .5 3 2 1.5 2.5 1 3-1 4.5 0 1.5 .5 1.5 4 4.5 2 3 1 3-1 4.5 .5 1.5 5 6.5 1 2.5 .5 1.5-.5 4.5 .5 1.5 5.5 7.5 .5 3-.5 3 0 1.5 1 1.5 4 4.5 1 1.5 0 1.5-1 1.5-1.5 1-1.5 0-3-1.5-3.5-2.5-.5-1.5-.5-4.5-.5-1.5-5.5-5.5-1.5-2-1-3 .5-4.5-2-3-3.5-4-1-2-.5-1.5 1-6-1.5-3-3.5-4.5-1-3 0-1.5 1.5-4.5 0-1.5-.5-1.5-3.5-5-1-2.5 0-1.5 .5-1.5zM789.5 817l2.5-.5 1.5 .5 2 1.5 2 4.5 1.5 1.5 5 3.5 3 3 3.5 7 6 6 4 7.5 5.5 6 3 6 6 6 2.5 6 5 4.5 .5 1.5 1 6 3 4.5-.5 1.5-2 .5-3-.5-3-3-9.5-4.5-1.5-1.5-3-4.5-5.5-4.5-1.5-1.5-2-4.5-6-6-1-1.5-2.5-6-5.5-6-.5-1.5-2-6-5.5-7.5-.5-1.5 0-7.5-3.5-6 0-1.5zM643.5 820l1.5-1.5 1.5 1 4.5 5 1.5 3 .5 3-.5 2-1.5 2.5-.5 1.5 5 6 2 3 0 3-.5 1.5-1.5 1.5-1.5 .5-1.5-1-4.5-4-2-3 0-3 2-4.5 0-1.5-4.5-5-2-4 0-3 .5-1.5zM738 824.5l1.5-.5 3 1 3 2.5 2.5 3 1 1.5 1 6 1 1.5 5 6 1.5 3 .5 4.5 1 1.5 5 6 1 1.5 1.5 6 6 7.5 1 6 1 1.5 4 4.5 1 1.5-.5 1.5-.5 1.5-1.5 1.5-1.5 .5-3-1-3-1-2-1.5-1.5-1.5-1.5-4.5-7.5-7.5-1-1.5-1-4.5-1-1.5-5-6-.5-1.5-1.5-6-4.5-6-1.5-3 0-6-.5-1.5-4-6-.5-1.5-.5-3 1-2.5zM604.5 829l1.5-1.5 1.5 .5 1.5 1 2.5 3 .5 1.5-.5 1.5-1 .5-1.5 0-1.5-1-2-2.5-.5-1.5zM653 857.5l1-1 1.5-.5 3 2.5 3 3.5 0 1.5-.5 1.5-1 .5-1.5 0-3.5-2-2.5-3 0-1.5z"/>
<path fill="#ff7300" d="M822.5 289l4-1 1.5 0 2 1-.5 1.5-4.5 2-3 2.5-3 4.5-9 5-5.5 5.5-9.5 5.5-6.5 6.5-9.5 6-5 6-11 7.5-4 6-2 1.5-5.5 3.5-3 1-1.5-.5-.5-1 0-3 2-3 7-6 1.5-1.5 3.5-6 10-7.5 4.5-6 9.5-6 6-6 10.5-5.5 3.5-3.5 2.5-1.5 10.5-3.5 1.5-1zM753 293.5l3-1 1.5 .5 .5 2 0 1.5-1.5 1.5-8.5 6-1.5 1.5-2 4.5-1.5 1.5-8 6-1.5 1.5-2.5 4.5-2.5 3-9 7.5-4 7.5-3 3-7.5 6-1 1.5-1 4.5-.5 1.5-2 2.5-4.5 3-1.5 1-1.5-.5-1-1.5 1-3 2-3 6.5-6 2-7.5 2-3 5.5-4.5 2.5-3 2-4.5 2-3 9-7.5 2.5-4.5 2.5-3 9.5-6.5 4-5.5 3.5-2.5zM884 304l4-.5 3 .5 2.5 1.5 0 1.5-2.5 1.5-4.5 2-6 4.5-7.5 3-7.5 5-8.5 3.5-6.5 4.5-10 4.5-5.5 4.5-11.5 5.5-6 5.5-12.5 5.5-5.5 5-3 1-1.5-.5-1.5-1 1.5-2 6-5 2.5-5 2.5-3 8.5-5.5 5-5 10-5.5 6-5 10-4.5 6.5-4.5 9-3 6-3.5 3-1 9-2zM693.5 305.5l2.5-1 1.5 0 1 1-.5 1.5-2 3-4.5 3-3 2-1.5-.5 0-3 1-1.5 2-2.5zM685 317.5l2-.5 0 3.5-1 3-2.5 3-7 6-1.5 1.5-.5 6-2 3-5 5-3 2-1.5 1-1-3.5 0-1.5 1.5-3 2.5-3 6.5-6 1-1.5 .5-4.5 1.5-3 4-3.5zM641 326.5l1-.5 1.5 .5 0 1.5-1 1.5-3.5 3.5-1.5 1-1.5 0-.5-1.5 .5-1.5 3-3zM938.5 334l5-1.5 4.5 .5 3 1 2 1.5 .5 1.5-1 1.5-6 2-6.5 4-8.5 2-6 3-7.5 1.5-9 4-7.5 2-8 4-10 3-7.5 4-10.5 3.5-6 3.5-3 1-3 0-3-.5-1.5-1-.5-1.5 .5-1.5 1.5-1.5 7.5-4.5 6-5.5 9-4 6-4 10.5-4 6-3 9-2.5 7.5-3.5 9-1.5 7.5-2.5zM630 344.5l1.5-1 1.5 0 1 1-1 3-3 4-3 2.5-1.5 .5-1.5-1 0-1.5 .5-1.5 2.5-3.5zM659.5 355l2-1.5 1 1.5 .5 3-1.5 3-4.5 5-3 2-1.5 0-1-1 0-1.5 1-3 3-4zM592.5 358l1.5-.5 .5 .5-.5 1.5-1.5 2-1.5 1-.5-1.5 .5-1.5zM620.5 364l2-1 1 1 .5 1.5-1 3-2 3-3 3-1.5 1-1.5-.5-.5-2 1-3 2.5-3.5zM975.5 376l7-1 10.5 1 6-.5 3 1 3 2 1.5 2 0 1.5-1.5 1.5-4.5 1-6 2.5-9 1.5-6 2-9 1-6 1.5-9 1-6 2-10.5 1.5-7 2.5-9.5 1.5-9 3-10.5 0-3-.5-1-1 .5-1.5 2-3 2.5-3 9.5-4 6.5-3.5 8.5-2 7.5-3 9-2 6.5-2 8.5-1 7.5-2zM585 377.5l1.5-.5 .5 .5 .5 1.5-.5 1.5-2 3-1.5 1.5-1.5 1-1-1 0-1.5 1.5-3zM648 377.5l1.5-1 1.5 1 .5 1.5-.5 1.5-1.5 2.5-1.5 2-3 2-1.5-.5-.5-1.5 .5-2.5 1.5-2zM611.5 386.5l2-1 1 1 0 1.5-.5 3-2 3-1.5 1.5-1.5 1-1.5 .5-1-1.5 .5-3 2-3.5zM578.5 400l1 0 1 1.5-1 3-2 3.5-1.5 1-1.5 .5-.5-2 .5-2.5 1.5-2.5 1.5-2zM603 412l1.5-1.5 1.5 0 .5 1.5 0 1.5-2 3.5-1.5 1.5-1.5 .5-.5-1-.5-1.5 1-2.5zM546.5 419.5l1-1 .5 1 0 1.5-2 2.5-.5-1 0-1.5zM572 425.5l1-.5 1.5 .5 0 2.5-1.5 3.5-1.5 1.5-1.5 .5-.5-.5-.5-1.5 .5-1.5 .5-2zM983.5 428.5l9.5-.5 6-.5 9 0 6-.5 9 1 7.5 .5 7.5 2.5 6 1 1.5 .5 2.5 2 1 1.5 .5 1.5-.5 1.5-.5 .5-4.5 1.5-6 2.5-7.5 0-6 1-7.5-.5-6 1-9-.5-6 1-9 0-7.5 1-10.5 .5-6 1-10.5-.5-9 .5-3.5-1.5-1.5-1.5-.5-1.5 1-1.5 14.5-7.5 8-1.5 7.5-2.5 9-1zM544 443.5l.5-.5 .5 .5 0 1.5-.5 2.5-1.5 2-1.5 .5-.5-2 .5-1.5 1.5-2.5zM568 452.5l.5-.5 1.5 0 .5 2-.5 1.5-1.5 2.5-1.5 .5-.5-1.5 0-1.5zM541.5 470.5l1.5-.5 .5 2-.5 2-1.5 2.5-1.5-.5 0-1 0-1.5zM992.5 487l6.5 0 7.5-1 9 .5 6 0 7.5 1 7.5 .5 7.5 1.5 6 .5 7.5 2.5 6 1 2.5 1 11 7 1 2 0 1.5-8.5 4.5-7.5-.5-6 .5-6-1-7.5 0-6-1-7.5-.5-7.5-1-7.5-.5-9-1-7.5 0-9-2-7.5-.5-5-1.5-2.5-1.5-1.5-1.5-.5-1.5 0-1.5 1-1.5 2.5-2 2.5-1 5-.5zM542.5 499l.5-.5 .5 .5 .5 1.5-1 3-1.5 0 0-1.5 0-1.5zM526.5 550l0-.5 .5 .5 0 1.5-.5 1zM998 550l16-.5 9 1.5 6 .5 7.5 1.5 6 1 7.5 2 7.5 1.5 6 2.5 6 1.5 6 3 6 2.5 3 2.5 2.5 3 1.5 3 0 1.5-.5 1.5-1 1.5-2 1.5-2 1-6-.5-6 0-6-2-6-.5-6-2-7.5-1-6-2-7.5-1.5-7.5-2-7.5-1.5-7.5-2.5-7.5-1.5-4.5-2-8-4.5-1.5-1.5-1-1.5 1-1.5 2.5-1.5zM989.5 616l2-.5 13.5-.5 7.5 1.5 7.5 1 6 2 7.5 2 6 2 7.5 2.5 6 2.5 6 2 6 3.5 6 2.5 4.5 4 6 4 1 1.5 1 3 0 3-.5 1.5-1.5 1.5-1.5 1-1.5 .5-4.5-.5-6 0-6-2-6-1.5-6-2.5-6-1.5-6-3-6-1.5-7.5-3.5-6-2-7.5-3.5-7.5-3-13.5-8.5-1.5-1.5-1-3 .5-1.5zM975.5 677.5l2.5-.5 6 1.5 9 1 6 3 7.5 2 6 3 7.5 3 4.5 3 7.5 3 4.5 3 6 3 4.5 3.5 6 4 4.5 6 3 3.5 .5 1.5-.5 3-1.5 1.5-1.5 .5-3-.5-6 1-3-.5-3-1.5-7.5-2-4.5-3-6-2-6-3.5-6-3-6-3.5-6-3-6-4-7.5-4-6-5.5-6-4.5-1.5-2-1-2.5 0-1.5 1-1.5zM541 704.5l.5-.5 1.5 2-1.5 1.5zM568.5 730l0-1.5 1.5 0 1.5 3-1.5 1.5-1-1.5zM943.5 733l3-.5 1.5 0 6 2.5 8 2.5 5.5 3.5 8 4 5.5 4 6.5 3.5 5.5 4 6 3.5 4.5 4 5.5 3.5 3.5 4 4.5 3.5 1.5 1.5 1 3 0 3 0 1.5-1.5 1.5-2.5 1.5-3 1-3-.5-4.5-2-6-2-1.5-.5-4.5-3-6-3-4.5-3.5-6-3.5-4.5-4-7.5-4.5-4.5-4.5-6-4-2-2-4-5.5-4.5-4-1.5-2.5-.5-3 .5-1.5zM565 751l.5-1 1.5-.5 1.5 1.5 1 3-1 1.5-1.5-.5-1.5-2.5zM599.5 770.5l.5-.5 1.5 0 1.5 1 1.5 2.5 .5 1.5-.5 1-1.5 1-1.5-1-2-2.5 0-1.5zM565 772l.5-1 1.5 1 1 1.5 .5 2-1.5 .5-1.5-1.5zM900.5 776.5l2.5 0 1.5 .5 4.5 3 9 4 4.5 4.5 7.5 4.5 4.5 5 6 4 6 6 5 3 4 5 5.5 4 3.5 6 3.5 3 1 1.5 0 1.5-1.5 3-3 1.5-3 .5-1.5-.5-3-2-7.5-2-4.5-4-7-4-4.5-4.5-6.5-4.5-4-4.5-6-4.5-4.5-6-5-4.5-1.5-1.5-3-6-4.5-6-.5-1.5 0-1.5 .5-1.5zM640 788.5l.5-1 1.5 .5 .5 2-.5 .5-1.5-.5zM600.5 790l1-.5 1 .5 2 1.5 1.5 3 0 2-1 1-.5 0-1.5 0-1.5-1.5-1-1.5-1-3zM640 805l.5-.5 1.5-.5 1.5 .5 2.5 2 1.5 3 0 1.5-1 2-1.5 0-1.5-.5-1.5-1-2-3.5-.5-1.5zM847.5 806.5l1.5-.5 1.5 .5 2.5 3 2 1.5 6 3 2.5 1.5 1.5 1.5 3 4.5 6.5 5 1.5 1.5 3 4.5 6.5 5.5 4 5.5 6 5 3 5.5 4.5 3.5 1 1.5 1.5 7.5 2.5 3-.5 .5-1.5 1-1.5 0-3-2-9-2.5-2-1.5-2.5-3-7-4.5-4.5-6-6-4.5-3.5-6-6-5-3.5-7-5.5-6-1-3-1-6-2.5-4.5-.5-1.5zM602 811l1-1.5 1.5 .5 1.5 1 2 3 0 1.5-.5 1-1.5 0-1.5-.5-1.5-2zM685.5 814l1.5-1 1.5 .5 1.5 .5 1 1.5 1 1.5-.5 2-1.5 1.5-1.5-.5-1.5-1-1.5-2-.5-1.5zM643 823l2-1 1.5 0 3 2.5 1.5 2 1 2.5-.5 1.5-.5 1-1.5 1-1.5-.5-3-2-1.5-2-1-2 0-1.5zM739.5 827.5l1.5 0 3 1 1.5 1 1.5 2 .5 2 0 4.5 1 1.5 6 6 1.5 3 .5 4.5 .5 1.5 5.5 6 1.5 3 .5 4.5 1 1.5 4 4 1.5 2 .5 1.5-.5 4.5 .5 1.5 4.5 4.5 1 1.5-1 1.5-.5 .5-3 0-2-.5-2-1.5-.5-1.5-.5-3-1-1.5-6-4-2-2-1-1.5-.5-4.5-1-1.5-5.5-6-1-3-.5-4.5-1-1.5-4-4.5-1.5-3 0-1.5 .5-4.5 0-1.5-1-1.5-4-4.5-.5-1.5 0-1.5 .5-1.5zM796 827.5l2-.5 1.5 .5 3 1.5 2 1.5 1.5 1.5 2.5 6 6 5.5 1.5 2 2.5 6 6.5 6 2.5 6 6 6 1 1.5 1 4.5 1 1.5 3.5 3 1 1.5 .5 1.5-.5 1.5-1.5 1.5-1 .5-3 .5-3-1-2.5-1.5-3-4.5-6.5-4.5-1.5-1.5-2-4.5-1-1.5-6-6-2.5-6-5.5-6-1-1.5-1.5-6.5-5.5-7 0-1.5 0-3 1-2zM689 829l1-1 1.5 0 1.5 .5 3 2 2 3 1 3-3 6 1.5 .5 4.5 4.5 2 2.5 1 1.5 0 2.5-1.5 3.5 0 1.5 6 5.5 1 2 .5 1.5 0 1.5-1.5 1.5-1.5 .5-3-1-3-2-1.5-2-.5-1.5 0-1.5 1.5-4.5-6-6-2-3-.5-1.5 .5-1.5 2.5-4.5-6-6-1.5-2-.5-2.5 0-1.5zM648 841l1.5-1 1.5 .5 3 2 2 3 0 1.5-.5 1.5-1.5 .5-1.5 0-3-2.5-2-2.5 0-1.5zM655.5 860.5l1.5 0 1 1.5-1.5 0zM710 878.5l1-.5 1.5 .5 2 1.5 .5 1.5-1 1-1.5 0-1.5-.5-1.5-2z"/>
<path fill="#ff4e00" d="M749 296.5l4-1.5 1.5 0 1 1.5-.5 1.5-2 1.5-6 2.5-1.5-1 .5-1.5 1-1.5zM809.5 296.5l3.5-1 3 0 1.5 0 .5 1 0 1.5-1 1.5-1 .5-7.5 4-1.5 1-2.5 3.5-1.5 1.5-9.5 5.5-1.5 1-3 4-1.5 1.5-9 5-1.5 1.5-2.5 4-2 2-10.5 6-1.5 1-2 4.5-2.5 2.5-4.5 2-1.5 .5-1.5-1-.5-1 .5-1.5 1.5-1.5 8.5-6 2-6 1-1.5 2-1.5 7.5-5 1.5-1.5 2.5-4 1.5-1.5 10-6 3.5-4.5 2-1.5 10-4.5 2-1.5 2.5-3zM741.5 305.5l1-.5 1 .5 .5 1.5-1 3-1.5 1.5-9.5 6.5-1 1-1.5 4.5-2 3-4.5 3-6 3.5-.5-2 0-3 2-3 3-2.5 6-3.5 1.5-1.5 1.5-4.5 2.5-3 3.5-2.5zM693.5 307l2 0-.5 1.5-.5 .5-3 2-1.5-.5 0-.5 1-1.5zM868 310l5-1 4.5-.5 3 0 1.5 1.5-1 3-1.5 1.5-8 3-1.5 1-4.5 3.5-9 3.5-7.5 5.5-9 3.5-7 5.5-8 3.5-3 1.5-4 4-2 1.5-4 1.5-3.5 1-1.5 0-2-1 0-1.5 .5-1.5 1-1.5 1.5-1.5 7.5-4.5 5.5-6 10-5.5 4-3.5 2-1.5 9-3.5 6-4.5 10.5-3.5zM684 320.5l1.5 1.5-1.5 3-4.5 3.5-1.5 1-1.5 0-1-1.5 .5-1.5 1-1.5 4-3.5zM713.5 335.5l2-1.5 .5 1.5 0 3-1.5 3-2 2-3 2-3 1.5-1.5 0-.5-1-.5-1.5 1.5-3 4-3.5zM945.5 335.5l1.5 0-.5 1.5-1.5 .5-3.5 4-2.5 2-7.5 2-7.5 3.5-7.5 1.5-7.5 3.5-9 2.5-7.5 4-9 2.5-7.5 4-12 3-6 3.5-3 .5-1.5 0-1.5-1 .5-1.5 1.5-1.5 5.5-3 5-6 10-4.5 6-4.5 9-3 6-3.5 10.5-2.5 6-3 10.5-2 6-2 4.5-.5 10.5 1zM669 338.5l3-1 1 1 0 1.5-.5 1.5-2 2.5-3 2.5-1.5 .5-1.5 .5-1-1.5 0-1.5 1-1.5 1.5-2zM630 346l1.5-.5 .5 .5-.5 2-1.5 2-1.5 1.5-1.5 .5-.5 0-.5-1.5 .5-1.5zM697 356.5l2-1 1.5 0 .5 1-.5 2-3 2.5-1.5 .5-1.5 0-.5-.5 .5-1.5zM657.5 358l2.5-1 1 1 0 1.5-.5 1.5-3.5 3.5-1.5 1-1.5 .5-.5-.5-.5-1.5 .5-1.5 2-2.5zM619 367l2-1.5 1 1.5-1 3-1.5 1.5-1.5 1-1.5 .5-.5-1.5 .5-1.5zM966 377.5l3-.5 9 0 4.5-1 3 0 12 3 2 1.5-4.5 4.5-2 1-7.5 1-6 2.5-9 .5-6 2-9 1-7.5 2.5-9 1-7.5 2.5-10.5 1.5-7.5 2.5-3 0-3 0-3-1.5-.5-1.5 0-1.5 1-1.5 1-.5 7.5-3.5 5.5-3.5 2-1 9-2 7-3 8-1.5 7.5-2.5 9-.5zM647 380.5l1-.5 .5 .5 0 1.5-2 2-1.5-.5 .5-1.5zM610 389.5l2-1 1 1-1.5 3-1 1-1.5 1-.5-.5 0-1.5 .5-1.5zM577.5 403l.5 0 0 1.5-.5 1-1.5 1 0-1.5zM997.5 428.5l3-.5 9 .5 6-.5 9 1.5 6 .5 4.5 1.5 5 3 1.5 1.5 0 1.5-2 3-1.5 1-1.5 .5-6 0-6 1.5-7.5-.5-7.5 1-7.5-.5-7.5 1-9 0-6 1-10.5 0-7.5 1-12-1.5-4.5-1.5 1-1.5 5-4.5 3-2 9-2 6.5-2 8.5-.5 7.5-2 7.5 0zM990.5 488.5l2.5-.5 7.5 0 6-1 9 1 6-.5 9 1 6 .5 7.5 1.5 6 .5 7.5 3 7.5 2 2.5 1.5 2.5 3 1 3 0 1.5-1 1.5-2 1-6 0-6 1-7.5-1-6 0-7.5-1.5-6 0-9-1.5-6 0-9-1-7.5-.5-9-2-7.5-.5-3-1.5-2-1.5-.5-1.5 0-1.5 1-1.5 1.5-1 6-1zM999.5 551.5l8.5 0 6-.5 9 1 6 .5 7.5 1.5 6 1 7.5 2 6 1 7.5 3 6 2 7.5 4.5 4.5 2 2.5 3 1 3 0 1.5-1 1.5-1 1-1.5 .5-4.5-.5-6 1-6-1.5-6-.5-6-2-7.5-1.5-6-1.5-7.5-1.5-7.5-2-7.5-1.5-7.5-3-7.5-1.5-3-1.5-2.5-2-2.5-3 0-1.5 .5-1.5 1.5-1.5zM999 617.5l6-1 7.5 1.5 7.5 .5 7.5 2.5 6 1.5 7.5 3 6 1.5 6 3 6 2 6 4 6 2.5 6 6.5 2.5 2.5 .5 1.5 0 2-1.5 1.5-3 0-6 1.5-1.5 0-4.5-1.5-7.5-1-4.5-2.5-7.5-2-6-2.5-6-2-7.5-3.5-6-1.5-7.5-4-7.5-3-6.5-5.5-2.5-3 0-1.5 1-1.5zM977 682l1-.5 1.5-.5 10.5-.5 3 .5 6 3 7.5 2 6 3 6 2 6 4 6 2 6 4 6 3 4.5 4.5 5.5 3.5 1 1.5 1 3 0 3-.5 1.5-1.5 1.5-2.5 1.5-3 0-4.5-1.5-6-1-6-3.5-6-2-4.5-3-7.5-3-4.5-3-7.5-3.5-6-4.5-6.5-3.5-2-1.5-7.5-9-1-1.5zM946 737.5l.5-.5 1.5-.5 13.5 2.5 6 4 7.5 3 6 4.5 6 3 4.5 4 6 3 4.5 4 6.5 4.5 4 5.5 4 3.5 .5 1.5-1 3-2 2-1.5 1-1.5 0-4.5-2-7.5-1.5-4.5-3-6-2.5-5.5-4.5-6.5-3.5-4.5-4-6-3.5-6-5.5-6-4.5-7.5-12zM905.5 784l.5-.5 3-.5 4.5 1 3 1 6 5.5 7 4 5 5 6 4 4 4.5 6.5 4.5 3.5 4.5 5.5 4.5 1.5 3 .5 6-.5 .5-6 .5-3 0-3-1-3-3-1.5-1-6-3-4.5-4.5-6-3.5-4.5-5.5-6-4.5-4.5-6-5.5-5-1-1.5-1-3-1-4.5zM642 808l0-.5 1.5-.5 1.5 1 .5 1.5-.5 .5-1.5 0zM854 815.5l1-.5 1.5-.5 4.5 1 2 1.5 4.5 6 6.5 4.5 4 6 7 5.5 3 5.5 6 4.5 3 6.5 4.5 3.5 1 1.5 0 1.5-1 2-1.5 1-1.5 .5-3 0-2-.5-1.5-1.5-2.5-3-7.5-4-3.5-5-7-5.5-2.5-5-7-6-3.5-7.5-5-5-1-2.5 .5-1.5 0-1.5zM644.5 826l.5-1 1.5-.5 1.5 1 1.5 2 0 1.5-1.5 .5-1.5-.5-1.5-1.5zM691.5 830.5l1.5 0 1.5 1 2 2 .5 1.5-.5 1.5-.5 1-1.5 0-1.5-.5-2.5-2-.5-1.5-.5-1.5zM740.5 830.5l2 0 1.5 1 .5 .5 0 1.5-.5 1-1.5 0-1.5-1-1-1.5zM797.5 830.5l2-.5 1.5 .5 2.5 1.5 1 1.5 1 4.5 1 1.5 6.5 4.5 1.5 1.5 2 6 1 1.5 5.5 4.5 1 1.5 1.5 4.5 .5 1.5 5 4 1.5 2 .5 1.5-.5 4.5 .5 1.5 3 1.5 2 1.5 0 1.5-1 1-2 .5-2.5-1-.5-.5-.5-3-1-1.5-7-3-2.5-1.5-1-1.5-1.5-4.5-7-6-1-1.5-1-4.5-1-1.5-4.5-4-1.5-2-.5-1.5-.5-6-1-1.5-4-4.5-.5-1.5 0-1.5zM746.5 842.5l2 0 1.5 1 3 2 1 1.5 .5 1.5 0 1.5-1 4.5 6 4.5 2.5 3 .5 3-1.5 4.5 5.5 3 2.5 3 .5 2-.5 1-1 1-1.5 .5-1.5-.5-3-1-1.5-1.5-1-1.5 0-1.5 .5-4.5-5.5-3.5-3-3-.5-2.5 1.5-4.5-.5-1.5-5-3.5-2.5-2.5-.5-1.5 0-1.5 .5-1.5 1-1zM650 844l1-1 1.5 1 1 1.5-1 .5-1.5-.5zM696 847l1.5-.5 1.5 .5 3 2.5 1 2 0 1.5-1 1.5-1.5 0-1.5-.5-3.5-2.5-.5-1.5 0-1.5zM702.5 863.5l1-.5 1.5 .5 1.5 .5 2 2.5 .5 1.5-1 1-1.5 0-2.5-1-1.5-1.5-.5-1.5z"/>
<path fill="#ff2900" d="M809.5 298l3.5-.5 2 .5-1 1.5-1 .5-3 1-1.5 0-.5-1.5zM798 305.5l4.5-.5 1 .5 0 1.5-.5 1.5-1.5 1.5-10 4.5-1.5 1.5-1 3-1.5 1.5-2 1.5-10 4.5-.5-1.5 .5-3 1-1.5 1.5-1.5 2.5-1.5 7-3 2-1.5 1-3 1.5-1.5 2-1.5zM737.5 308.5l2-.5 1.5 0 .5 .5 0 1.5-1.5 1.5-2 1.5-3 1.5-1.5 0-1-1.5 .5-1.5 1.5-1.5zM868.5 311.5l4.5-1.5 3 .5 2.5 1 0 1.5-2.5 1.5-4.5 1-3 1.5-3 3.5-1.5 1-10.5 4-4 4-2 1-9 3.5-1.5 1-3.5 3.5-2.5 1.5-10.5 4-1.5 1-1.5 2.5-1.5 1.5-4.5 1.5-3 0-1-1.5 1-1.5 2-1.5 7-3.5 3.5-5.5 1.5-1.5 8.5-4 1.5-.5 4.5-4.5 2.5-1.5 8-3 5.5-4.5 3.5-1 9-2.5zM725 322l2.5 0 .5 1.5-.5 1.5-1.5 1.5-3 2-3 1-1.5-1.5 .5-1.5 1-1.5 3-2zM680.5 323.5l2 0-.5 1.5-2 1.5-2 0 .5-1.5zM771 328l3-1 .5 1-1 3-1 1.5-1.5 1.5-3 2-3 1-1.5 0-1.5-.5-.5-1 .5-1.5 1-1.5 2-1.5zM929.5 337l4.5 0 3.5 1 1.5 2-.5 1.5-2.5 1.5-6 1-6 4-9 2-7 3.5-9.5 2.5-6 3.5-10.5 2.5-5.5 3.5-2 1-3 .5-4.5 .5-2-.5-1-1 0-2 1-1.5 1.5-1.5 9.5-4 4-3.5 2-1 9-2.5 6-4 10.5-2.5 6-3 10.5-1zM711 338.5l1.5-.5 1 .5 0 1.5-.5 1.5-3.5 2.5-1.5 .5-1.5-.5 0-1 .5-1.5 1.5-1.5zM667.5 341.5l1.5-1 1.5-.5 0 1.5-1 1.5-2 1.5-1.5 0 0-1.5zM753 346l1.5-.5 1 .5-1.5 1.5-1 .5-1.5-.5zM656.5 361l.5-.5 1.5 .5-1.5 1.5-1 0zM984 377.5l3 .5 3.5 1 2 1.5 .5 1.5 0 1.5-1.5 1-1 .5-6.5 1-4.5 2-9 1-7.5 2.5-9 1-6 2-10.5 1.5-7.5 2.5-10.5 .5-7.5 2.5-3-.5-1.5-1 0-.5 0-1 1.5-1.5 6-2.5 6-4.5 9-2.5 7.5-3 9-1.5 7-2.5 8-.5 7.5-2 9 .5zM995.5 430l5-1 9 1 6-.5 9 2 6 0 3 1 2.5 2 1 1.5 .5 1.5-.5 1.5-.5 .5-1.5 .5-6 .5-4.5 1.5-9 0-6 1-9-.5-6 1-9 0-7.5 1.5-9-.5-6 .5-3 .5-4.5-1.5-1.5-.5-1.5-1.5-.5-1.5 .5-1.5 1.5-1.5 3-1 6-1 6-3 9-.5 7.5-2zM1004.5 488.5l3.5-.5 7.5 1 7.5-.5 7.5 1.5 6 0 7.5 2 6 .5 2 .5 7 3.5 4.5 1 1.5 1 2 2 1 1.5 0 1.5-1.5 1.5-4.5 0-6 2-7.5-1-6 0-7.5-1-6 0-9-1.5-7.5 0-7.5-1.5-7.5 0-14.5-4.5-2.5-1.5 1.5-1.5 9.5-5 9 0zM1009.5 553l6-1 7.5 1.5 6 0 7.5 2 7.5 1 6 2 6 1 7.5 3 4.5 1.5 2.5 1 8.5 7.5 1 1.5-1.5 1.5-6 3-2.5 0-5-1.5-6 0-6-2-7.5-1-6-2-7.5-1-7.5-2.5-7.5-1.5-7.5-3-7.5-2-2-1.5-1.5-1.5-.5-1.5 0-1.5 1-1.5 1.5-1zM1002.5 619l2.5-1 7.5 1.5 7.5 .5 7.5 2.5 6 1 6 3 7.5 2 6 3 6 2 6 4.5 5 2 1.5 1.5 1.5 3 .5 3-.5 1.5-1 1.5-2.5 1.5-1.5 0-4.5-1.5-6-.5-6-2.5-7.5-1.5-4.5-2.5-7.5-2-7.5-3.5-6-2-7.5-4.5-5.5-2-2.5-1.5-2.5-3-.5-1.5 0-1.5 .5-1.5zM986.5 683.5l2-.5 3-.5 7.5 3 6 1 7.5 4 6 2 6 4 6 2 4.5 3.5 6 3 1.5 1 4.5 5.5 3.5 2 1 1.5 .5 1.5-1 3-1 1.5-1.5 .5-1.5 0-3-1.5-7.5-.5-4.5-2.5-7.5-2.5-4.5-3-6.5-2.5-5.5-3.5-7.5-3.5-4.5-4-7-4-2-1.5-2-3-.5-3 0-1.5zM955.5 740.5l3-.5 2.5 .5 5 3.5 7.5 2.5 6 5 6 2.5 1.5 1 4.5 4 6 3 4.5 5 4.5 2.5 1 1 1 1.5 1 4.5 0 1.5-1 1.5-5 1.5-3 0-1.5-1-3-2.5-7.5-2.5-4.5-4-6-3-5.5-5-6.5-3.5-4.5-5-6-4.5-1.5-2-1-4.5 .5-1.5zM909.5 787l2.5-1 1.5 0 2.5 1 4.5 4.5 8 4 4.5 5 6 3.5 1 1 3.5 4.5 5 3 2 1.5 2 4 1.5 2 4.5 3 .5 1.5-.5 1.5-.5 1.5-2.5 1.5-3 .5-1-.5-3.5-3.5-7.5-2.5-1.5-1.5-3-3.5-7-4-3.5-5-6-4-1.5-1.5-3-5.5-6-5-.5-3 0-1.5zM855.5 818.5l1-.5 1.5-.5 1.5 0 1.5 .5 1.5 2 1.5 3.5 1 1 6.5 3 1.5 1 3.5 6.5 7 4.5 2.5 6 6.5 4.5 1 3 0 3-1 1.5-4.5 0-4-1.5-1.5-1.5-1.5-3-1-1.5-7-4.5-3-6-1.5-1.5-4.5-3-1-1.5-1.5-6-.5-1.5-5.5-4.5-.5-1.5zM805 844l.5-.5 1.5-.5 1.5 0 2 1 2 1.5 1 1.5 0 1.5-.5 4-1.5 .5-1.5-.5-4.5-3-1-1-.5-1.5 0-1.5zM747 845.5l1.5-.5 1.5 .5 1.5 1 .5 2-.5 1.5-1.5 0-1.5-.5-1.5-1-.5-1.5zM813 854.5l1.5 0 3 1 3 1.5 1.5 1.5 1 2-1 4-1.5 1-1.5-.5-3-1-2.5-2-1-1.5-.5-1.5zM753.5 860.5l1-1 1.5 0 1.5 .5 1.5 1 1 1 .5 1.5-1.5 1.5-1.5 0-1.5-.5-2-1-1-1.5zM894.5 860.5l1-1 1.5 .5 1.5 .5 0 1.5-1.5 1-1.5-.5-.5-.5zM822.5 868l1-.5 1.5 0 4 2 1.5 1.5 0 1.5-1 1.5-1.5 .5-1.5 .5-3-1-1.5-1.5 0-1.5 0-2zM762.5 875.5l1-1 1.5 0 1 1 0 1.5-1 0-1.5-.5z"/>
<path fill="#ed0400" d="M798 307l1.5 0 1 1.5-2 1.5-2 .5-1.5 .5-1.5-.5 0-.5 1-1.5zM784.5 317.5l1.5 .5 .5 1-1 1.5-2.5 1.5-1.5 .5-1.5 .5-1.5-.5-.5-.5 .5-1.5 1.5-1.5zM856.5 317.5l3-.5 3 0 1 .5 .5 1.5-1 1.5-3 1.5-8 1-.5-1 2-3zM850.5 323.5l0 1.5-.5 1.5-1 1.5-2 1.5-4 1.5-4.5 1-1.5 0-1-1 1-3 1.5-1.5 4.5-1.5zM768 331l2 0 .5 1.5-2.5 2-1.5 0-1.5 0-.5-.5 1-1.5zM829.5 334l3-.5 1.5 .5-1 3-1.5 1.5-5 2-3 0-1-.5-.5-1.5 1-1.5 2-1.5zM931 340l2-.5 1.5 .5-1.5 .5zM914.5 341.5l3.5-.5 4.5 .5 1.5 0 1.5 1.5 0 1.5-1 1.5-2 1-9 1.5-1.5 1-3.5 2.5-2.5 1-6 1-3 1-4.5 3-3 1.5-9 1-1.5 .5-1.5 1-1.5 2-3 1.5-4.5 0-1.5-1.5 .5-1.5 2.5-1.5 4.5-1 3-1 3-4 2-1.5 10-2.5 4.5-3.5 1.5-1 10.5-2zM965.5 380.5l3.5-1 3 0 10.5 2 1.5 0 .5-1 2.5-.5 1 .5 1 1.5-2 .5-3-.5-1.5 .5-2 2.5-2.5 2-9 1-4.5 1.5-3 1-7.5 .5-7.5 2.5-10.5 1-6 2.5-3 .5-4-.5-3.5-1.5 0-1.5 1-1.5 1.5-1.5 2-1 7.5-1.5 6-3 9-1 7.5-3 9-.5zM984.5 431.5l2.5-.5 7.5 .5 7.5-1.5 7.5 1.5 7.5-.5 6.5 2 3 1.5 2 1.5-2.5 3-2.5 1.5-2 .5-6-.5-6 1.5-9-.5-7.5 1-9 0-6 1-12-1-6 1-3.5-1.5-1-1.5 .5-1.5 1-.5 7.5-1.5 4-2.5 2-1 9-.5zM1004.5 490l3.5-.5 7.5 1 7.5-.5 7.5 1.5 7.5 0 6 2 3 .5 3 0 3 1 5 4 1 1.5 0 1.5-1 1.5-2 1.5-1.5 0-6-1-6 1-7.5-1.5-7.5 0-7.5-1.5-7.5 .5-9-2-6 0-4.5-1.5-2-1.5-1.5-1.5-.5-1.5 1-1.5 1.5-1.5 3-.5 6 0zM1011.5 554.5l4-1 7.5 1.5 6-.5 7.5 2.5 7.5 .5 6 2.5 6 1 3 1 6 3.5 4.5 1 3 3 1 3 0 1.5-1 1.5-1.5 1-6-1.5-6 .5-6-2-7.5-.5-6-2.5-7.5-1-7.5-2.5-7.5-1.5-4.5-2-7-4.5-.5-1.5zM1004 622l1-1 1.5 0 4.5 .5 9 0 6 2 7.5 1.5 6 3 7 1.5 6.5 4 6 1.5 6 6 4.5 2 1 3-.5 1.5-.5 1-1.5 .5-3-1-1.5 0-6 .5-6-2.5-7.5-1.5-6-3-6-1.5-6-3-7.5-2.5-7.5-5-6-3-1.5-2.5zM991 685l6.5 2.5 7.5 .5 6 3.5 7.5 2.5 6 4 6 2.5 4.5 4 6.5 3 1 1.5 1 3 .5 3-1.5 1.5-3 1.5-1.5 0-1.5-.5-4.5-2.5-6.5-1.5-5.5-4-6-1.5-6-4.5-6-2.5-2-1-5.5-5.5-4.5-2.5-1-1-1-1.5 0-1.5 0-1.5 2-1.5zM957 743.5l1.5-1 1.5 .5 4.5 3 8 2 2.5 1.5 3 3 1.5 1 6 2 4.5 5 6 2.5 1.5 1.5 3 4.5 5 3 1 1.5 0 1.5-.5 1.5-2.5 2-1.5 0-1.5-.5-3-2.5-7.5-1.5-1.5-1-3-3.5-7.5-3-4.5-5-6.5-3-1.5-1.5-2.5-4.5-1.5-1.5-4.5-3-1-1.5 0-1.5zM912 790l1.5-.5 1.5 .5 .5 1.5-.5 .5-1.5 .5-1.5-1zM918 796l1.5-1 1.5 0 3 0 2.5 1 2 1.5 1.5 3 1.5 1.5 6 3 2 1.5 2.5 5 1.5 1 4 1.5 1.5 1.5 .5 3 0 1.5-1 1.5-3.5 .5-3-.5-1.5-1-2-3.5-1-1-6-2.5-1.5-1-3-5-1.5-1-4.5-2.5-1.5-1.5-1-2zM865.5 829l1.5-.5 1.5 0 1.5 .5 1.5 1 1 2 0 1.5-1 2-3 0-1.5-.5-2-1.5-.5-1.5 0-1.5zM874 839.5l.5-1 1.5 0 4.5 1 1.5 1.5 .5 1.5-.5 3-1.5 1-1.5 0-3.5-1-1.5-1.5-.5-1.5zM807 847l1.5-1 1.5 1 0 1-1.5 .5zM885 850l1.5-.5 3 1 1.5 1 0 1.5-1.5 1.5-1.5 .5-2.5-.5-1-1.5 0-1.5zM815 859l1-.5 1.5-.5 2 1 .5 1.5-1 1-1.5 .5-2.5-1.5z"/>
<path fill="#bf0000" d="M842.5 326.5l3 0 .5 1.5-3 1.5-1.5 0-1.5-1.5zM915.5 343l4 0 2 1.5-1.5 1.5-4 0-1-.5-1-1zM900 347.5l3-.5 3 .5 1.5 .5 1 1-1 1.5-3 1.5-3 0-3 0-1-1.5 .5-1.5zM883 355l2-1 3-.5 3 .5 1 1-.5 1.5-2 1.5-3 .5-3-.5-1-1.5zM968 382l2.5-1 3 0 2.5 1 .5 .5 .5 1 0 1.5-2 .5-7.5 0-1.5 .5-2 2-2.5 1-9 0-3 1.5-3 2-1.5 0-7.5-.5-3-.5-.5-.5 .5-.5 2-2.5 2.5-1.5 10.5-1 3-2 3-1 10.5 1 1.5-1zM923.5 392.5l2-1 3 0 3 .5 1.5 .5-1.5 1.5-1.5 1-3 .5-1.5 0-1.5-1-.5-.5zM985 433l3.5-.5 7.5 .5 6-1.5 10.5 2 4.5-1 2 .5 2.5 1.5 1.5 1.5 0 1.5-1.5 1.5-7.5-1-6 2.5-9-1-6 2-9-1-7.5 1.5-3-.5-3.5-1-1.5-1.5 0-1.5 1-1.5 2.5-1 7.5 0 3-1zM1005.5 491.5l2.5-.5 1.5 0 7.5 1 6-1 7.5 2 7.5 0 9 3.5 4.5 0 1.5 1 1.5 1.5 .5 1.5 0 1.5-2 .5-4.5-1-1.5 0-4.5 2-1.5 0-7.5-2-6 1-6-2-3 0-6 .5-9-3-7.5 0-1.5-1-1-1-.5-1.5 1.5-1 6 0 3-1zM1014 556l1.5-.5 1.5 0 6 1.5 6-1 1.5 .5 6 2 7.5 .5 6 3 3 .5 3 0 2.5 1 6.5 6 0 1.5-2.5 1.5-3.5 1.5-7.5-2.5-6 0-7.5-3-6 0-9-4-6-.5-3-2-1.5-1.5-.5-1.5 .5-1.5zM1067.5 571l.5-.5 1.5 0 0 1.5zM1017 623.5l3-.5 6 3 7.5 .5 6 3.5 6 1 1.5 .5 4.5 3.5 3 1 3 .5 1.5 1 1.5 2.5 1 1.5 0 1.5-.5 1.5-2 1.5-1.5 .5-1.5-.5-3-2-1.5-.5-6 0-1.5-1-4.5-2.5-1.5-.5-6-1-6-4-7.5-2-3.5-3-1-3 .5-1.5zM999 691l3-1 3 0 6 4 6.5 1.5 5.5 4.5 1.5 .5 4.5 1 2 1.5 2.5 4 1.5 1.5 4.5 1 1 1 0 1.5 0 1.5-1 1-1.5 .5-1.5-.5-1.5-2-1.5-.5-6 0-1.5 0-4.5-4-3-1-4.5-1-4.5-4-1.5-1-4.5-1.5-2-1-1.5-1.5-1.5-3 0-1.5zM967 751l2-1 3 0 1.5 1 3 4 1.5 1 6 1 1.5 1.5 3 4.5 1.5 1 4.5 .5 1.5 1.5 .5 3-.5 1.5-1.5 1-3 .5-1.5-.5-3-4.5-1.5-1-4.5-.5-1.5-.5-1.5-1.5-1.5-3-1.5-1.5-6-1.5-1.5-1.5-1-2 0-1.5zM921.5 799l1-.5 1.5-.5 1.5 .5 .5 .5 .5 1.5-.5 1.5-2 .5-1.5-.5-1-1.5zM932.5 806.5l2 0 1.5 0 1.5 1.5 .5 1.5-.5 1.5-1.5 1-1.5 .5-1.5-.5-1.5-1-.5-1.5 .5-1.5zM943 817l.5-.5 1.5-.5 1.5 1-.5 1.5-1 .5-1.5 0-.5-.5z"/>
<path fill="#920000" d="M955.5 385l1.5-.5 1.5 0 1.5 .5 1 1.5-1 .5-1.5 .5-1.5-.5-1.5-.5zM941 388l2.5 0 2 1.5-2 1.5-1.5-.5-2-1zM986.5 434.5l2-.5 2.5 .5 3 1.5 1 1.5-1 1.5-1 .5-1.5 0-3.5-.5-2.5-1.5 0-1.5zM1001 434.5l2.5-1 3 1 2 1.5 0 1.5-2 1-4-1-2-1.5zM973 437.5l2-.5 1.5 .5 1 1.5-1 .5-1.5 0-1.5-.5zM1008 493l3 0 6 2.5 1.5 0 4-2.5 2 0 3.5 1.5 3 1.5 1 1 1.5 .5 1-1.5 2-1 1.5 0 2.5 1 1.5 1.5 .5 1.5-.5 1.5-1 .5-1.5 0-6-3.5-1.5 0-1.5 1.5-3 1.5-3-.5-6-3-1.5 0-.5 .5-2.5 1-1.5 .5-1.5 0-2.5-1.5-1.5-1.5-.5-1.5zM1027 559l2-.5 1.5 0 2 .5 4 2.5 1.5 .5 4.5-1 1.5 0 2.5 1 5 4.5-2 1.5-2.5 1.5-1.5 0-7.5-4-1.5 0-4.5 1-3-1.5-3-3-.5-1.5zM1053 566.5l3-1.5 1.5 .5 1.5 1.5 .5 1 0 1.5-.5 1-1.5 .5-4-3zM1018.5 626.5l1.5-.5 .5 .5 2 1.5 0 1.5-1 .5-1.5 0-1-.5-1-1.5zM1028.5 629.5l3.5-1 1.5 0 1.5 1 4.5 4 6-.5 1.5 1 1.5 1.5 .5 1.5 .5 1.5-1 1.5-1.5 1-1.5 0-2-1-4-4-1.5 0-4.5 .5-1.5 0-1.5-1.5-2.5-2.5-.5-1.5zM1003 694l.5-.5 1.5 .5 .5 1.5-.5 .5-1.5 0-.5-.5zM1013 698.5l2.5-1 1.5 .5 2 2 .5 1.5-.5 1.5-2 1-1.5 0-1.5-1-1-1.5-.5-1.5zM1026 704.5l1.5-.5 1.5 .5 .5 1.5 0 1.5-.5 1-1.5 .5-1.5-.5-1-2.5zM981 761.5l0-.5 1.5-1 .5 1.5-.5 .5z"/>
<path fill="#4dffaa" d="M771 251.5l3-.5 3 .5 1.5 1.5 0 1.5-4.5 5.5-2.5 5-7.5 6-5 6-7.5 6-5 6-8.5 7-5.5 6.5-8.5 7.5-5.5 7.5-8 7.5-4.5 7.5-8.5 9-5 9-7 9-4 9-7.5 10.5-3.5 10.5-5.5 9-1.5 3-1 7.5-1 3-5 9-1.5 3-.5 3 0 6-.5 3-1.5 3-5.5 10.5-.5 3 1 6-1 4-1.5 2.5-1.5 1.5-1.5 .5-1.5-.5-1.5-2 0-3 2-7.5 1-3-.5-3-2.5-6 0-3 .5-3 3.5-7.5 1-3-.5-7.5 .5-3 1-3 4.5-9 1-3 .5-6 1-3 6.5-10.5 2.5-9 1.5-3 5.5-7.5 4-9 2-3 6-7.5 3-6 2-3 7-7.5 5.5-9 8-7.5 5.5-7.5 8-7.5 5-6 9-7.5 5-6 8.5-6 5-5.5 9-5 6-4.5zM828 256l6-1 3 0 3 .5 1.5 1 1 1 .5 1.5-.5 1.5-1.5 1.5-4 3.5-3 4-2 1.5-5.5 3.5-6.5 5.5-7 4-6 5-7.5 4.5-7 6-8 5-6 6-9 6.5-6 6.5-9 7-5 6.5-8.5 7.5-6 9-7.5 7.5-5.5 9-7.5 9-5 10.5-8 10.5-2.5 7.5-1.5 3-3 4-8 9.5-1 3 1.5 2 0 2.5-1 3-2 2-1.5 .5-1.5 0-1-1 0-1.5 0-1.5 1-3 2-4.5 .5-3-1-7.5 0-3 1.5-4.5 3.5-6 1.5-3 2-9 1.5-3 5-7.5 3-7.5 1.5-3 7.5-9 3-6 2-3 7-7.5 5-7.5 9.5-9 6-7.5 7.5-6 6.5-7.5 8.5-6 6-6 7-4.5 6.5-6 9.5-6 5.5-4.5 8-4.5 6-4.5 6.5-3zM712 257.5l2-.5 3 0 .5 .5 1 1.5-.5 1.5-4.5 6-1.5 4.5-1 1.5-6 6-5 7.5-7.5 7.5-4.5 7.5-7 7.5-5.5 9-5.5 6-2.5 3-3.5 7.5-8 10.5-3.5 9-6.5 9-1.5 3-2 7.5-7 12-2 10.5-6.5 12-.5 3 0 6-.5 3-5 12-.5 3 .5 6 0 3-1 3-3.5 9-.5 3 .5 3 1.5 6-.5 4.5-1.5 4.5-2.5 5.5-1.5 2.5-1.5 .5-1.5-1-3-3-1.5-2.5-.5-2 .5-4.5 2.5-7.5 .5-3-.5-3-2-6 0-3 .5-3 3.5-10.5 .5-3-1-6 .5-3 5-12 .5-3 .5-7.5 1-3 5.5-10.5 1-7.5 1-3 6.5-10.5 2.5-9 1.5-3 6.5-9 3.5-9 7-9 4.5-9 8-9 4-7.5 7-7.5 5-7.5 7.5-7.5 5.5-7.5 8-6 5.5-6 2.5-1.5zM889 271l6.5-1 4.5 .5 3 .5 2 1.5 1 1.5 .5 3-.5 1.5-1.5 1.5-4.5 3-3 3-2 1.5-5.5 2.5-6 4-7.5 3.5-6 3.5-9 4-6 3.5-9 4.5-7 4.5-9 4.5-6.5 5-9 5.5-6 5-9 6-6 6-9.5 7-6.5 7.5-9 7.5-5 7-9 8-6 8.5-3 3-7.5 4.5-3 1-1.5-1-1-4 .5-4.5 1.5-3 5.5-7.5 4-9 7.5-8 6-9 7.5-7 6.5-7.5 7.5-6 7-7 9-6 7.5-6.5 7.5-4.5 6-5 9-4.5 7.5-5.5 7.5-3.5 7.5-4.5 7.5-3.5 6-3.5 7-3 6.5-3.5 7.5-2.5zM657 272.5l3-.5 1.5 0 1 2-.5 1.5-4.5 6-2.5 7.5-6 7.5-4 9-6 7.5-1.5 3-2.5 6-7.5 10.5-3 9-7 10.5-2.5 9-7 12-1 3-.5 4.5-.5 3-5 9-1.5 3-.5 10.5-5 10.5-1 3 0 3 .5 6-.5 3-4.5 12 0 3 1.5 7.5 0 3-4 13.5 0 3 2.5 6 .5 4.5-.5 4.5-2.5 9-.5 3 .5 1.5 4 6 1 3 0 3-1 4.5-2 5-1.5 1.5-1.5 .5-1.5-.5-3-2-1.5-2.5-.5-2 .5-4.5 1.5-7.5 .5-3-1.5-3-3.5-4.5-1.5-3 .5-4.5 2-9 .5-3-.5-3-2.5-6-.5-3 1-3 2.5-9 1-3-.5-3-1.5-4.5 .5-4.5 4.5-12 .5-3-1-6 .5-3 5.5-13.5 .5-3 0-4.5 .5-3 6.5-12 .5-3 .5-4.5 1-3 6.5-10.5 1-3 1-6 2-3 6-9 2-6 1-3 7-9 3.5-9 7.5-9 4-7.5 8.5-9 3.5-6 2.5-2zM607.5 295l1.5 0 1.5 .5 .5 1 0 1.5-5.5 9-.5 4.5-.5 3-6 9-.5 1.5-1 4.5-1 3-6 10.5-2 9-7 12-1 9-1.5 3-4 7.5-1 3-.5 7.5-.5 3-5.5 12-.5 3 1 6-.5 3-5 13.5 0 3 1.5 6-.5 3-3.5 12-.5 3 .5 3 2 6 .5 3-3 12-.5 3 .5 3 3.5 6 .5 3 0 4.5-2.5 10.5 0 3 1 1.5 5 6 1 1.5 .5 3-1 6-1.5 7.5-1.5 2.5-1.5 0-4.5-2-2.5-2-1-1.5-.5-4.5 2-12 0-3-1-1.5-4.5-5-1-2.5-.5-1.5 .5-4.5 2-9 0-3-.5-3-3.5-6-.5-3 .5-3 3-12 0-3-2-4.5-.5-3 .5-4.5 3-9 1-3-.5-3-1-4.5 0-3 .5-3 4.5-10.5 .5-3-.5-7.5 1.5-4.5 3.5-7.5 1-3 .5-9 1-3 5.5-10.5 .5-6 1-3 6.5-12 1-6 1-3 7-10.5 1.5-6 1-3 6-7.5 2-3 2-6 4.5-5zM945.5 299.5l4-1 3-.5 6 .5 4.5 1.5 2.5 1 1 1.5 1 3-.5 3-.5 1.5-2 1.5-9.5 6-5.5 2-5 2.5-8.5 2.5-6 2.5-7.5 2-7.5 3-7.5 2.5-7.5 3-9 3-7.5 4-8 3-7 4-9 4-7.5 5-9 4.5-7.5 6-8.5 5-8 6.5-8.5 5.5-8 7-4.5 2.5-6 2.5-1.5 1.5-1.5 4.5-1.5 3-3 3-3 2-3 1-1.5 0-1.5 0-1-1.5 0-1.5 0-1.5 1-3 3-3 7-4.5-.5-3 .5-4.5 1.5-3 2-3 6-6 5.5-7.5 8-6.5 7.5-7 7.5-5 6.5-5.5 10-5.5 7-5 8-4 7.5-4.5 9-3.5 6-3.5 9-3 7.5-4 7.5-2 7.5-3.5 7.5-2 6-2.5 7.5-2 6-2.5zM560.5 326.5l2-.5 1.5 .5 .5 1.5 0 1.5-5 9-.5 1.5 1 4.5-.5 1.5-1 3-4.5 9-.5 9-6 12-.5 3 .5 4.5-.5 3-5 12-.5 3 1 6-.5 3-4 10.5-1 3 0 3 1.5 6-.5 3-3.5 10.5-.5 4.5 .5 3 1.5 4.5 .5 3-1 4.5-2.5 9-.5 3 1 3 2.5 4.5 1 3-.5 4.5-2.5 10.5 0 3 .5 1.5 5 6 .5 3 0 4.5-2 12 .5 3 1 1.5 3.5 2.5 2.5 2 .5 1.5 1 3-.5 6-1 9-1 2-1.5 1-4.5-1.5-2.5-1.5-1-1.5-1-3 0-3 1.5-15-.5-1.5-1.5-1.5-4-3-1.5-1.5-1-3 0-4.5 2-10.5 0-3 0-1.5-1-1.5-4-4.5-.5-3 0-4.5 3-12-.5-3-2.5-4.5-1-3 .5-4.5 3-10.5 0-3-.5-3-1.5-4.5 0-3 4.5-15-.5-3-1-4.5 0-3 5-13.5 .5-3-.5-4.5 0-3 1-3 5-10.5 0-9 1-3 4.5-7.5 1-3 0-6 1-3 7.5-12 0-4.5 1-3 2.5-4zM994 340l14-1 4.5 1 5 1.5 2.5 1.5 2.5 3 .5 3-.5 3-.5 1.5-1.5 1.5-8 4.5-12 4-15 3-7.5 1-6 1.5-9 1.5-6 1.5-9 2-7.5 2-7.5 1.5-7.5 2.5-9 2.5-7.5 3.5-9 3-7.5 3.5-9 3.5-9 5-9 4-9 5-12 4.5-4.5 5-4.5 2.5-4.5 1.5-3 .5-1.5 0-2-1.5 .5-3 2-4.5 2.5-2.5 3.5-2 7-10.5 3-3 7.5-5.5 7.5-6 7.5-4 7.5-5 9-4 6-3.5 10.5-4 7.5-3.5 7.5-2 7.5-3 9-2 6-2.5 30-6.5 7.5-1.5 7.5-1.5 6-1zM521.5 365.5l.5-.5 .5 .5 .5 1.5-1 3-3 4-1.5 1-1-2 .5-3 2-2.5zM517 382l.5-.5 1.5 0 1.5 2 .5 1.5-1 3-4.5 10.5-.5 1.5 .5 1.5 1.5 3 .5 3-1.5 4.5-4 10.5 0 1.5 2 4.5 0 3-.5 4.5-4 10.5 0 3 2.5 4.5 .5 3-1 4.5-3 12 .5 3 2.5 4.5 1 3-.5 4.5-2.5 10.5-.5 3 .5 1.5 1 1.5 3.5 4.5 1 3-.5 4.5-2 12 0 3 1 1.5 4 3 1.5 1.5 .5 1.5 .5 3 0 6-2 10.5-.5 1.5-1.5 .5-4.5-2-1.5-1.5-1-1.5-1-3 0-3 2-15-.5-1.5-5-4.5-1.5-3 0-4.5 2.5-15-.5-1.5-3.5-4.5-1-3 0-4.5 3-13.5-.5-3-2.5-4.5-.5-3 .5-4.5 3.5-12-.5-3-1.5-3-.5-3 1-4.5 4-12 0-3-1.5-4.5 0-3 2-4.5 4-9 0-1.5 0-1.5-1.5-3 0-1.5 .5-3 3-5.5 3-4.5zM1029 392.5l15-1 12 1 3 .5 6 3.5 3 3.5 .5 1.5 .5 3-.5 4.5-2 2-7.5 4.5-12 3-13.5 1-36 1.5-15 1.5-15 2-16.5 3-17 4-8.5 3-9 2-9 3.5-10.5 2.5-12 3.5-4.5 1-4.5 0-1.5-.5-2-1.5-.5-1.5 .5-1.5 2.5-4.5 6.5-6 10-7.5 4-2.5 13.5-6.5 18-7 16.5-5 15-3 16.5-3 28.5-3zM732 407.5l1.5-.5 1.5 .5 1 3-1 3.5-1.5 2.5-3 2.5-3 1-1.5-.5-1-1.5 0-1.5 1-3 3-4zM985 452.5l18.5-1 15-.5 13.5 .5 39 2.5 13.5 1.5 10.5 2.5 4.5 3.5 2.5 3 1 3 .5 3-.5 3-.5 2-1.5 2-7.5 4.5-12 2-12 0-33-3-15-1-16.5-.5-13.5 .5-16.5 .5-46.5 5.5-6-.5-4.5-1-3-1.5-1.5-2-.5-1.5 1-3 2-3 3-3 5-3 12-5 4.5-1.5 16.5-4.5 15-2.5zM484.5 454l1.5-1 1 1 0 3-1 3.5-1.5 2.5-1.5 1-1-1 0-3 1-4zM484 478l.5-.5 1.5-1 1.5 1 .5 3.5-.5 4-1.5 4.5-1.5 2.5-1.5 1.5-1.5-.5-1-1.5-.5-3 1.5-6zM611.5 491.5l.5-.5 1.5 1 1 1 .5 1.5 .5 3-.5 3-1.5 2-1.5 1-1.5 0-1.5-1.5-.5-3 1-4.5 1-2zM485.5 503.5l2-1 1.5 1 1.5 3 0 3-1.5 7.5-1.5 3.5-1.5 1-1.5 .5-1.5-1-.5-1-.5-1.5-.5-3 1.5-7 1.5-3.5zM464 506.5l1-1 .5 1 .5 1.5-1 3.5-1.5 1-.5-3 .5-2zM977.5 512.5l11-.5 16.5 0 15 .5 15 2 27 4 45 9.5 3.5 1 7 3.5 3 2.5 1.5 3 1 3 0 3-.5 3-.5 1.5-1.5 2-5 4-3 1.5-10 1.5-10.5-.5-13.5-2.5-33-7-27-4.5-18-2-40.5-3-6-.5-12-3-3-1.5-2.5-2.5-.5-3 1.5-3 4-3 6-3 3.5-1.5 5.5-1.5 14-2.5zM467.5 529l.5-1 1.5 0 1.5 1 .5 3 0 3-.5 4.5-1.5 3.5-1.5 1-1.5-.5-1-1-.5-3 .5-6 1-3zM490 530.5l2 0 1.5 1 1 2 1 3-.5 4.5-1.5 7.5-1.5 2.5-1.5 0-1.5-.5-1.5-2-.5-1.5-.5-3 0-4.5 1-4.5 1.5-3.5zM565.5 553l1.5-1.5 1.5 0 2.5 1.5 3 3 1 3 0 4.5-1 4.5-1 2-1 1-2 1-1.5 0-2-1-1.5-1.5-1-1.5-.5-3 .5-4.5zM473 556l1-1 1.5 .5 1 .5 1 1.5 .5 3 0 6-1 4.5-1.5 2-1.5 .5-1.5-1-1-1.5-1-3 .5-7.5 1-3zM452.5 557.5l.5-1 1.5 .5 .5 2-.5 3.5-1.5 2-1-2.5 0-1.5zM496.5 559l1.5 0 3 1.5 1 1.5 1 3 0 6-1 6-1 3-1.5 1.5-1.5 0-2.5-1.5-1-1.5-1-3-.5-6 1-6 1-3.5zM518.5 565l.5-1.5 1.5 0 3 1 3 2 1.5 1.5 .5 1.5 .5 4.5-.5 9-1 4.5-1 1.5-3 0-3-1-1.5-.5-1.5-1.5-.5-1.5-.5-3 .5-4.5 .5-8zM546 572.5l1.5-1 4.5 1 3 2 1.5 2.5 1 4.5-.5 7.5-1 4.5-1 1-1 .5-2 .5-3-1-2.5-1-1.5-1.5-.5-3 0-4.5 .5-7.5zM959 574l8.5-1 6-.5 15 .5 15 2 16.5 2.5 13.5 3 26 7 46 15 10.5 4 4.5 3.5 4 4.5 1 3 0 4.5-1.5 3-4 4.5-4 3-3 1-9 1-9-1-10.5-3-55.5-18-18-5-40.5-10.5-16.5-5.5-3.5-2.5-3-3-1-3 0-1.5 1.5-3 1.5-1.5 3-1.5zM459.5 581.5l1-1 1.5-.5 1.5 1.5 1 3 0 3-.5 4.5-.5 2.5-1.5 2-1.5 0-1-1.5-1-3-.5-6 1-3zM481.5 586l1.5-1 1.5 .5 1.5 2 .5 1.5 .5 4.5-.5 4.5-.5 2-1.5 2-1.5 0-1.5-1-1.5-3 0-3 0-4.5zM504.5 589l1-1 3 0 3 1.5 1.5 2.5 1 4.5-.5 9-.5 4-1.5 1.5-3 .5-3-1-1.5-2-.5-1.5-.5-4.5 0-6 .5-4.5zM530.5 595l.5-.5 1.5-.5 3 .5 3 1 1.5 1 1 1.5 1 6-.5 9-1 3-.5 1-1.5 1-3 0-3-.5-2.5-1.5-.5-1.5-.5-4.5 0-7.5 .5-5.5zM562 602.5l2 0 1.5 0 2.5 1.5 1.5 1.5 1.5 3 .5 4.5-.5 4.5-1.5 3-2.5 1.5-3 0-1.5-.5-1.5-1-1.5-3 0-4.5 0-6 1-3 .5-1zM470.5 608.5l.5-.5 1.5 .5 1.5 1 1 2 .5 3 .5 4.5-.5 4-1.5 3-1.5 .5-1.5-.5-1.5-2-1-5 0-4.5 0-3 1-2zM449.5 610l.5-1.5 1.5 1.5 .5 1.5-.5 4.5-1.5 .5-1-3.5zM493.5 614.5l1.5-1 1.5 0 1.5 .5 1.5 1 1 2.5 .5 6 0 5.5-1.5 3.5-1.5 .5-1.5 0-1.5-1-1.5-2-.5-2-1-7.5 .5-3zM519 617.5l3 0 3 .5 2 1 1 2 1 8.5-.5 7.5-.5 2-1 1-2 1-3 0-3 0-1.5-1-.5-1.5-.5-9 0-7.5 .5-3zM549 623.5l3 0 3 1 1.5 .5 1 1.5 1 3 .5 4.5-.5 7.5-.5 2-1.5 1.5-3 1-4.5 .5-1.5 1-.5 3 1 10.5 0 4.5-1 1.5-1 1-6 2.5-1 1-.5 3 1.5 10.5 0 3-1.5 2.5-5.5 3.5-.5 1.5-.5 3 2 9 0 3-1.5 3-4 3-1 1.5 0 3 2 9 .5 3-.5 1.5-1 1.5-3.5 3-.5 1.5 .5 3 2 7.5 .5 3-1 3-3 3-.5 1.5 0 3 2.5 7.5 .5 3 0 1.5-1 1.5-4 3 0 1.5 2.5 6 1.5 4.5 0 1.5 0 1.5-1.5 1-1.5 0-1.5-1-1.5-2-3-5.5-.5-3 .5-1.5 3-3 0-1.5-4.5-10-1-5 0-3 2.5-3 .5-1.5 0-3-2.5-9-.5-4.5 1-2 2.5-2.5 1-1.5 0-1.5-2.5-10.5 0-4.5 1-1.5 3.5-3 1-1.5 0-3-1.5-10.5 0-3 1-1.5 1.5-1.5 3-1.5 1.5-1.5 .5-3-1.5-10.5 .5-3 0-1.5 2-1.5 4.5-1.5 2-1.5 .5-3-1-12 .5-3 1-1.5 1.5-1 1.5-.5 6-.5 1-1-.5-16.5 1-3 1.5-1zM949 631l5-.5 13.5 1.5 19.5 4.5 13.5 4 15 5 13.5 5 24 9.5 43.5 20 9 5.5 2.5 2.5 1.5 3 .5 4.5-1 3-3 4.5-3 3-2 1.5-10.5 2-12-1.5-9-3-10.5-4.5-40.5-19-52.5-23.5-16.5-9-5-4.5-2-3-1.5-3 .5-3 1.5-1.5 2-1.5zM460.5 634l1.5-1 1.5 .5 1.5 2 1 3 .5 4.5-.5 3-1 2.5-1.5 .5-1.5-.5-.5-1-1-2-.5-2.5-.5-6zM582.5 637l1-.5 1.5 .5 1 1.5 .5 1.5 0 1.5-1.5 2-1.5 0-1.5-1.5-.5-3.5zM484 638.5l2 0 1.5 1 1 2 1 3 .5 4.5-.5 3-.5 2-1.5 1-1.5 0-1.5-1.5-1.5-3.5-.5-4 0-4.5 .5-2zM508.5 641.5l3-.5 5 .5 .5 1.5 .5 2 1 10 0 4.5-1 3-1.5 1-3 .5-4.5 .5 0 1 2 13.5 0 4.5-1 1.5-1 1-1.5 .5-3 .5-1.5-1-1.5-2.5-1.5-7.5-.5-6 1-3 1-1.5 1.5-.5 6-1-1.5-8.5-.5-8 .5-4zM569.5 652l2-.5 3 .5 1.5 .5 1.5 1 2 4.5 .5 4.5 .5 3-1 3-1 1.5-2 1.5-4 1.5-1.5 1.5-.5 3 1.5 9 0 4.5-1 1.5-1 1.5-4.5 3-1 1.5-.5 3 1.5 9 0 3-1 3-3.5 3-1 1.5-.5 3 2 9 0 3-1 3-3 3-.5 1.5-.5 1.5 3 12-.5 3-3 4.5-.5 1.5 .5 3 2.5 9-.5 3-2 4.5-.5 1.5 3.5 12 0 1.5-2 4.5 0 1.5 .5 3 2.5 6 .5 3-.5 3-1.5 3 0 1.5 4 10.5 0 1.5-1 1.5-.5 .5-1.5 .5-1.5 0-3-2.5-3-4-2-3.5-.5-3 .5-6-1-3-3.5-7.5-.5-3 0-1.5 1.5-4.5 0-1.5-1-3-2.5-7.5-.5-3 0-1.5 2.5-4.5 0-1.5-.5-3-2.5-7.5-.5-3 1.5-3 2-3 0-3-2-9-.5-3 .5-1.5 .5-1.5 3-3 .5-1.5 .5-1.5-2-10.5 0-3 .5-2 4.5-4 .5-1.5 0-3-1-9 0-3 .5-1.5 1-1.5 5-3 1-1.5 0-3-1-10.5 .5-3 1-1 1.5-1 6.5-2.5 1-1.5-1-13.5 1-3zM454.5 662.5l1.5-1 1.5 4 0 1.5-1 1.5-.5 .5-1.5-3.5zM475.5 662.5l1.5-1.5 1.5 0 1.5 1.5 1.5 3 1 4.5 .5 4.5-1 3-.5 1-1.5 .5-1.5-.5-1.5-1.5-1.5-4-1-6 .5-3zM595.5 679l3-.5 3 1 1.5 1.5 1.5 2.5 1 4.5-1 3.5-1.5 1.5-4.5 3.5-.5 2 2 10.5 .5 3-1 3-1 1.5-3 3.5-1.5 2.5 .5 3 1.5 7.5 0 3-1 3-2.5 3.5-1 2.5 0 3 2 7.5 .5 3-1 3-2 3-.5 3 3 10.5-.5 3-2 6 .5 3 3 9-.5 3-1.5 4.5 0 1.5 4 10.5 0 3-1 4.5 .5 3 3.5 7.5 0 3-.5 3 0 3 4 9 0 3-.5 4.5 1 3 2.5 4.5 1 3-1 2.5-1.5 1-1.5 .5-1.5-.5-3-2.5-3-3-3-4-1-3 0-3-.5-3-4.5-7.5-1.5-3 0-1.5 0-6-4-9-1-3 1-6 0-1.5-4-10.5 0-3 1.5-3 0-3-3-9-.5-3 .5-1.5 2-4.5 0-1.5-.5-3-2-7.5-.5-3 .5-1.5 3-4.5 0-1.5 0-3-2-7.5-.5-3 1.5-3 2.5-3 1-3-2-10.5 .5-3 1.5-2.5 4-3.5 .5-1.5 .5-3-1.5-9 .5-3 2-2.5 7-3.5 .5-1.5-1-10.5 1-3zM926.5 683.5l5-.5 6 1.5 13.5 4.5 15 6.5 28.5 14.5 45 25 21 12 11 7 6 6 .5 1.5 .5 3-1.5 4.5-2 3-4 3-9 2.5-4.5 .5-10.5-2-9-3.5-10.5-5-10.5-6-34.5-21-25-16.5-15-10.5-13-10.5-3-3-2.5-3-2-4.5-1-3 .5-1.5 1-2.5 1.5-1zM470.5 686.5l.5-1 1.5 0 1.5 1 1.5 2.5 1.5 5 0 3 0 1.5-1.5 2.5-1.5 0-1.5-1.5-1.5-2.5-1.5-6 .5-3zM496.5 689.5l1.5-.5 1.5 0 1 .5 1 1.5 1 2.5 1.5 7 0 4 0 1.5-1 1.5-2 1-1.5-.5-1.5-.5-1.5-2.5-1.5-3.5-.5-4.5-.5-3 1-3zM491 713.5l1-1 1.5 0 1.5 1 1.5 2 1 2.5 1.5 4.5 0 3-.5 3-2 1.5-1.5-.5-1.5-1-2-4.5-1.5-6 0-3zM468.5 715l1-1 1.5 2.5 0 2-1.5 0zM624 718l1.5-.5 1.5 .5 1.5 1 1.5 2 1.5 3 1 4.5 0 3-.5 1.5-2.5 4.5-1 3 .5 3 1.5 6 .5 3 0 3-2.5 4.5-.5 3 .5 3 2 6 .5 3-.5 3-1.5 3-.5 3 1 3 2 6 .5 3-1 6 0 3 3.5 9 0 3-.5 6 1 3 3 7.5 0 7.5 1 3 2.5 4.5 1 3 0 6 .5 1.5 4.5 9 1 7.5 4 7.5 1 3-.5 4.5 4.5 7.5 0 1.5-.5 2-1.5 1-1.5 .5-1.5-.5-3-1-3-2.5-3-2.5-2-3-1-4.5-1-1.5-5-6-1.5-3-1.5-7.5-5.5-9-.5-7.5-4-7.5-1-3 .5-7.5-3.5-7.5-1-3 1-7.5-4-10.5 0-3 1.5-4.5 0-1.5-1-3-2-6-.5-3 .5-2.5 1.5-3.5 .5-3-3-10.5 .5-3 2.5-4.5 1-3-2-9 0-3 1-3 4-4.5 .5-1.5 0-3-1-7.5 .5-3 1-1.5 1.5-1.5zM890 728.5l2.5-1 1.5-.5 3 0 3 .5 3 1.5 13.5 7.5 7.5 5.5 7.5 5 6 4.5 7.5 5 4.5 4 7.5 5 4.5 3.5 7 4.5 5 4 6 4 4.5 3.5 6 4 4.5 3.5 5.5 3.5 5 4 5.5 3.5 3.5 2.5 5 3.5 4 3.5 4.5 3.5 2 2 2 6 0 3-.5 1.5-1.5 1.5-2.5 1.5-3.5 1.5-6.5 1.5-4.5 .5-9-2-3-.5-9-4-4.5-3-6-3.5-4.5-3.5-6-3.5-4.5-4-4.5-2.5-6-5.5-6-4-4.5-4-5.5-4-5-5-6-4.5-6-6-7-5.5-5-5.5-7-6.5-11-13.5-2.5-4.5-1.5-4.5 0-3 .5-3zM490 736l2 .5 1.5 1.5 2 4 1 6-.5 1.5-1 1-1.5 0-1.5-1-1.5-2.5-1.5-3.5-.5-4.5 .5-2.5zM660 737.5l1.5-.5 1.5 .5 2 1.5 1 2.5 0 2-1 6 .5 3 3.5 7.5 .5 3 0 3-1 7.5 .5 3 2 6 1 3-1 9 1 3 3 7.5-.5 9 4.5 10.5 .5 7.5 1 3 3 6 1.5 9 4.5 7.5 2 9 4.5 7.5 1.5 7.5 5 7.5 1.5 6 5 7.5 .5 1.5 .5 4.5 .5 1.5 3.5 6 .5 1.5-1 1.5-1 1-1.5 .5-4.5-.5-3-1.5-3.5-2.5-1.5-1.5-4-6-4.5-4.5-2.5-3-2-6-5-6-1.5-3-1.5-6-5.5-9-1-6-.5-1.5-3.5-6-1.5-3 0-6-.5-1.5-4.5-9 0-7.5-4.5-10.5 .5-9-3.5-9 0-3 1-4.5 .5-3-2.5-7.5-.5-3 .5-3 1.5-4.5 .5-3-2-9 .5-3 1.5-3 3.5-4.5 .5-1.5 .5-3-.5-6 .5-1.5zM848 760l2.5-1 1.5 0 4.5 1 3 2 4.5 4 7.5 6 7 7.5 6.5 6 5.5 6 6.5 6 4.5 5 6 5 4.5 5 6 5 4.5 4.5 6 5 4.5 4.5 5 3.5 4.5 4.5 5.5 4 4.5 4.5 4.5 3.5 4.5 4.5 4.5 3.5 7.5 8.5 1 1.5 0 3-2 3-1.5 1.5-2.5 1.5-4 1.5-3 .5-3-.5-12-3-5.5-3-5-2-5-4-5.5-3.5-4.5-4-6-4.5-4-4.5-5-3.5-5-5.5-5.5-5-4.5-5.5-5.5-4.5-4.5-6-6-6-4.5-6-5.5-6-4.5-7.5-6-7.5-7.5-15-1.5-3-.5-3 .5-3 1-3zM700 764.5l2-1 1.5 .5 1.5 .5 1.5 1.5 .5 1.5 1.5 7.5 1.5 3 3.5 6 1.5 3 1 9 4.5 10.5 1 9 5 9 1 7.5 1.5 3 3.5 6 2 7.5 5.5 9 2.5 7.5 5 7.5 2 6 5.5 7.5 2.5 6 4.5 6 3 6.5 5.5 7 1.5 6 3.5 4.5 .5 1.5-.5 2-1.5 2-1.5 .5-3 0-4.5-1-3-1-3-2-4.5-5-4.5-3-3-3-3.5-6-5.5-6-3-6-5.5-7.5-2-6-6-8.5-1.5-6.5-5-7.5-2.5-9-4-7.5-1.5-9-4-7.5-.5-3 0-6-4-10.5 .5-9-3-9 0-3 2.5-9 0-9 0-1.5zM799 778l2-1 1.5 0 3 1 1.5 .5 6 7 6 6 2 3 3.5 6 6.5 7.5 4.5 7.5 5 6 4 6 6 6.5 4.5 7 5 4.5 4 6 6 5.5 3.5 5 5.5 5 4.5 5.5 5 4.5 4 5 5 4 4 5.5 4 3.5 1 1.5 4 9 0 1.5-1.5 1.5-2.5 1.5-2 .5-4.5 0-12-3-3-1-4.5-3-6-3.5-5.5-5-5-3.5-4.5-5.5-5.5-4.5-4.5-6-5-4.5-4-6-5-5-4.5-7-5-6-3.5-6-6-7.5-2.5-6-6-9-2.5-6.5-4-7-1.5-3-1.5-7.5-2-7.5-.5-3 .5-2.5 1-2zM747.5 779.5l2.5-1 1.5 0 3 2 1.5 2 3.5 6 5.5 7 2 3.5 2.5 7.5 5.5 9 2.5 7.5 5 7.5 3 7.5 5.5 7.5 3.5 7.5 5 6 3 6 6 7 3 6 5 5 3.5 6 5.5 6 2.5 4.5 5.5 6 3.5 6 4 4.5 .5 1.5 0 3-.5 3-1 2-1.5 .5-3 0-6-1.5-4.5-1-3-1.5-5.5-4.5-6.5-4.5-3.5-4.5-6.5-6-3-4.5-6-6-3-6-6.5-7.5-2.5-6-5-6-3-7.5-5.5-7.5-2.5-7.5-4.5-7.5-2-7.5-5-9-1.5-9-3-7.5-1-3 .5-9-.5-7.5 .5-3z"/>
<path fill="#2cffca" d="M758.5 262l3.5-1 3 0 2 1 .5 1.5-.5 1.5-1 1.5-5 4.5-2.5 4.5-1.5 1.5-7 6-5 6-7.5 6-6 7.5-7 6-7 9-8 7.5-4.5 7.5-8.5 9-4.5 9-7.5 9-4 9-7.5 10.5-3.5 10.5-6 9-1.5 3-1.5 7.5-.5 3-2 3-5 7.5-1 3-.5 7.5-1.5 4.5-2 3-1.5 1.5-1.5 .5-1.5 0-1.5-2-.5-3 1-3 3-6 1-3-.5-3-1-4.5 .5-3 1-3 4-7.5 1-3 1-9 1.5-3 5.5-9 1.5-7.5 1.5-3 6.5-9 1.5-3 1.5-4.5 1.5-3 7.5-9 2.5-6 2-3 7-7.5 6-9 8-7.5 5.5-7.5 8.5-7.5 4.5-6 8-6 6.5-6.5 8.5-5.5 6.5-5.5zM821 263.5l4-.5 4 .5 1.5 1.5 .5 1.5-.5 1.5-1 1.5-6 4.5-4 4.5-7 4.5-7 6-7.5 4.5-6.5 6-8.5 5.5-5 5-10 7.5-5.5 6-9 7.5-5 6-8.5 7.5-6 9-8 7.5-5 9-7 7.5-2 3-3 6-1.5 3-9.5 10.5-1 1.5-2 6-2 3-3 2-1.5 .5-1.5-1-.5-1.5 .5-2 4.5-8.5 .5-3 0-4.5 .5-3 1.5-3 5-7.5 3.5-9 2-3 6-7.5 3-6 2-3 7-7.5 4-6 2-3 8-7.5 3.5-4.5 2.5-3 7.5-6 6-6.5 9-6.5 6-6 8-5 7-6 7.5-4.5 7.5-5.5 7.5-3.5 7-4.5zM702.5 269.5l2.5-.5 1.5 0 1.5 2-.5 1.5-5.5 6-3.5 7.5-7.5 7.5-4 7.5-7 7.5-5.5 9-7.5 9-3.5 7.5-7.5 9-1.5 3-3 7.5-7 10.5-2.5 9-7.5 12-2 10.5-6.5 12-.5 3 0 6-.5 3-5 10.5-1 3 0 3 .5 4.5 0 4.5-2 4.5-5 9-.5 1.5 .5 1.5 2.5 5 .5 2.5-.5 3-1.5 3.5-1.5 2-1.5 1-1.5 .5-1.5-1-1-1.5 0-3 1-5 3.5-7 0-1.5-.5 0-.5-1.5-2.5-3.5-1-2.5-.5-3 1-4.5 3.5-9 0-3-1-4.5 0-3 1-4.5 4-7.5 1-3 0-7.5 .5-3 6-12 1.5-7.5 .5-3 6.5-10.5 1.5-3 .5-4.5 1.5-3 7-10.5 2.5-6 1-3 7.5-9 4.5-9 8-9 4-7.5 9-9 3.5-6 10.5-9 3-4 1.5-1.5 3-2zM883.5 277l7.5 0 1.5 .5 1.5 1 .5 1.5 .5 1.5-1 3-1.5 1.5-4.5 2.5-6.5 5-7 3-6.5 4.5-8.5 3.5-6 4-7.5 3.5-7.5 5-9 4.5-6.5 5-8.5 5-6.5 5.5-9 6-7 6.5-9 7-6 6.5-9 7-7.5 9-10.5 7.5-6 6.5-3 1-1.5 0-.5-1.5 .5-1.5 3-6 2.5-9 2-3 6-6.5 4-7 3-3 6.5-6 6-7.5 7.5-6 7.5-7.5 7.5-5 7.5-6.5 8.5-5 5.5-4.5 8.5-4.5 7.5-5 8.5-4 6.5-4 8.5-3.5 6.5-3.5 9-3 6-3zM646.5 287.5l3-1 1.5 0 1 1 0 1.5-.5 1.5-6 7.5-.5 4.5-1.5 3-7 9-2.5 7.5-7.5 10.5-3 9-7 10.5-2.5 9-7 12-.5 3-.5 4.5-1 3-6 12-.5 3 0 4.5-.5 3-6 13.5 0 3 .5 6 0 3-5.5 13.5 0 3 2 6 0 3-1 4.5-3.5 9-.5 3 .5 1.5 3 6 .5 3-.5 3-2 6-2 4-1.5 1-1.5 0-1.5-1-1.5-1.5-1.5-2.5 0-1.5 0-4.5 3-9 0-3 0-1.5-3-4.5-1-4.5 1-4.5 2.5-7.5 1-3-.5-3-1.5-6 0-3 5-13.5 0-3-.5-4.5 0-3 1-3 5-10.5 .5-3 0-4.5 .5-3 1-3 5-9 1-3 .5-4.5 .5-3 6.5-10.5 1.5-3 .5-4.5 1-3 7.5-10.5 3-9 8-10.5 2-5 1.5-2.5 8-9 4-7.5 3-2.5zM937 304l3.5-.5 6 0 6 1 2.5 1 1.5 1.5 0 1.5-1 4.5-1.5 1.5-6 3-4.5 3-7.5 2.5-7.5 3.5-7.5 2-6 3-9 2.5-6.5 3-8.5 3-7.5 3.5-9 3.5-7.5 4.5-8 3.5-7 4.5-9 4.5-8 6-10 5.5-7.5 6-9.5 5-8.5 5.5-1.5 .5-3 .5-2-.5-1-1.5 0-1.5 1-1.5 3.5-5.5 3.5-6.5 2.5-3 7.5-6 4-4.5 3.5-3 7.5-5 6.5-5.5 8.5-5 6-4 10.5-5.5 6-3.5 9-4 7-3.5 8-3 7.5-3.5 8.5-2.5 6.5-3 9-2 6-2.5 8.5-1.5zM597.5 313l2.5-1 1.5 .5 .5 2-1.5 3-4.5 6-1 3 .5 3-.5 3-6.5 10.5-1 3 0 3-.5 3-7 12-.5 3-.5 6-1 3-4.5 7.5-1 3-.5 3 .5 4.5-.5 3-5 10.5-1 3 0 3 .5 4.5-.5 3-.5 3-4 9-.5 3 0 3 1.5 4.5 0 3-.5 3-3.5 9-.5 3 0 3 3 6 0 3-1 4.5-2.5 9-.5 3 0 1.5 4.5 6 .5 3 0 3-.5 4.5-2 6-1.5 3.5-1.5 .5-3-1.5-1.5-1.5-1.5-2.5-.5-1.5 0-4.5 2.5-10.5 .5-3-.5-1.5-3.5-5-1-2.5 0-1.5 .5-4.5 3-9 0-3-.5-3-2-4.5-.5-3 1-4.5 3.5-10.5 0-3-1.5-6 .5-3 5-13.5 .5-3-1-4.5 .5-3 1-3 5-10.5 .5-9 1.5-4.5 5-9 1.5-9 1.5-3 5.5-9 1-3 .5-4.5 1.5-3 7.5-10.5 1.5-6 .5-1.5 3-3.5zM994 343l3.5 0 6 1 5.5 2 2 1.5 1 1.5 .5 1.5-.5 3-1.5 3-2.5 1.5-10.5 4.5-6 1-6 2-7.5 1-7 2-8 1.5-6.5 1.5-8.5 1.5-7.5 2.5-9 2-7.5 2.5-7.5 2-7.5 3-10.5 3.5-7.5 3.5-9 3.5-7.5 4-10 3.5-9.5 4.5-4.5 1-3 0-2.5-1-1.5-1.5-.5-1.5 0-1.5 1.5-3 12.5-12 10-6 6-4.5 9-4 9-5 7.5-2.5 7.5-3.5 9-3 6-2 9-2.5 7.5-2.5 7.5-1.5 7.5-2 9-1.5 6-1.5 7.5-.5 7.5-1.5 7.5-.5zM555 346l1.5 .5 0 1-1 3-3.5 5.5-1.5 2-1.5 0-1-1.5 0-1.5 1-3 3-4zM548 362.5l1-1 1.5 .5 1.5 3.5 0 1.5-1.5 4-5 9.5 0 1.5 1 4.5-.5 3-1.5 4.5-4 9 0 3 1 4.5-.5 3-1 3.5-3.5 8.5-1 3 .5 1.5 1.5 6 0 3-1.5 4.5-2.5 7.5-1 3 .5 3 2.5 4.5 0 3-.5 4.5-3.5 10.5 0 3 .5 1.5 3 4.5 1 1.5 0 3-.5 4.5-3.5 13.5 1 1.5 2.5 1.5 2.5 3 1 1.5 .5 3-.5 6-2 8-1.5 2-1.5 .5-3-1.5-1.5-1.5-1.5-3 0-3 0-3 3-13.5-.5-1.5-4-3-1-1.5-1.5-3 .5-6 3-12 0-1.5-1-1.5-3-4.5-.5-3 1-4.5 3.5-12-.5-3-2-4.5-.5-3 1-4.5 4-10.5 0-3-1.5-4.5 0-3 1.5-4.5 4.5-10.5 0-3-1-4.5 .5-3 6.5-13.5 0-1.5-.5-4.5 1-4.5 4-6.5zM999.5 395.5l5.5-.5 7.5 0 6-.5 7.5 0 6-.5 13.5 1.5 5 1.5 5 3 3 3 .5 1.5 0 3-1 3-2 2-10.5 4-12 1.5-36 2.5-15 1-15 2-16.5 3-9 2.5-7.5 1.5-9 2.5-10.5 2-7.5 2.5-3 .5-6 0-4.5 0-3-.5-2-1.5-.5-1.5 0-1.5 1.5-3 2-3 3.5-3 15-8.5 16-6.5 17-5 16.5-3.5 7.5-1 7.5-1.5 15-2zM512 407.5l1-1 1.5 .5 .5 2-.5 3-3 6-1.5 1.5-1.5 0-1-1.5 0-3 2.5-5zM509.5 428.5l.5 0 1.5 0 1 1.5 0 1.5 0 3-1 3.5-3 6.5-1.5 2-1.5 0-1.5-1.5-.5-1.5 .5-4.5 1.5-4.5 1.5-3 1.5-2.5zM998 452.5l5.5-.5 15 0 13.5 .5 27 2.5 13.5 1.5 12 3.5 3 1.5 3 3 2 3 1 3 0 3-1.5 3-1.5 1.5-7 3-3.5 .5-10.5 1-12-.5-36-3-15 0-15 0-16.5 .5-27 2.5-15-.5-3-.5-3-.5-2.5-2.5-1-1.5 0-1.5 .5-1.5 3-3 9.5-6 4-2 15-4.5 16.5-3 16.5-2zM506 454l1-1.5 1.5 0 1.5 1.5 1 1.5 .5 3-1 4.5-2 6-1.5 3-1.5 2-1.5-.5-1.5-1.5-1-1.5 0-3 1-6 1.5-4zM506 479.5l1-1 1.5 1 1.5 1 1 2 .5 3-1 6-2 7-1.5 3-1.5 0-1.5-.5-1.5-2-1-1.5 0-3 1.5-7.5 1-4zM507 508l1.5-1 1.5 0 1.5 1 2 3 .5 3-.5 6-2 7.5-1.5 2-1.5 .5-1.5-1-2-1.5-.5-1.5-.5-3 1-7.5zM583.5 508l1.5-.5 1.5 1 1.5 2 .5 2-.5 3-1 3-2 2-1.5 0-1.5-.5-.5-1.5-.5-3 1-5zM486.5 511l1-.5 0 1-1.5 1.5 0-1.5zM976.5 514l13.5-1 15-.5 15 1 13.5 1.5 14.5 2 26 5 12 3 12 4 10.5 5 2.5 2.5 1.5 3 .5 4.5-.5 3-.5 1.5-1 1.5-8.5 4.5-12 .5-12-2-33-6.5-15-2.5-28.5-4-25.5-2.5-16.5-2.5-6-2.5-3-2-1.5-1.5-.5-1.5 .5-3 2-3 2-1.5 3.5-1.5 10.5-3zM558.5 523l1-.5 1.5 .5 3 2 1.5 2.5 1 3-.5 4.5-1 4.5-1.5 3-1 1-1.5 .5-1.5-.5-2-1-1-1.5-1-3 0-4.5 1-5.5 1.5-4.5zM490.5 535l1.5-.5 .5 .5 1 1.5 0 3-.5 3-1 3-1.5 1-1.5-2-.5-3.5 .5-3zM512 536.5l1-.5 1.5 0 3 2 1 1.5 1 3-.5 6-1.5 7.5-1.5 2.5-1.5 0-3-1-1.5-2-1-2.5 0-4.5 1-6 1-4.5zM537 544l1.5-1 3 1 3 2.5 1.5 3.5 0 6-1 6-1.5 3-2 1-3-1-1.5-1-1.5-1.5-.5-2-.5-3 .5-4.5 .5-4.5zM567 557.5l1.5-1.5 1.5 .5 1.5 2 .5 2 0 3-.5 2-1.5 2-1.5 .5-2-1.5-1-3 .5-3zM497 562l1-.5 1.5 .5 1.5 1.5 .5 1.5 0 3-.5 7-1.5 3-1.5 .5-1.5-1-1.5-2-.5-4.5 1-6 1-2.5zM473.5 563.5l.5-1 1.5 1 0 1.5-1.5 2zM519.5 566.5l1-.5 1.5-.5 3 1.5 1.5 1 1.5 3 .5 4.5-1 7.5-1 3.5-1.5 1-1.5 .5-3-1-1.5-1.5-1-2.5-.5-4.5 0-4.5 1-4.5 .5-2zM548 574l1-.5 1.5 0 3 2 1.5 1.5 1 3 .5 4.5-1 4.5-1 3-1 1-1.5 .5-3-.5-1.5-.5-1.5-2-.5-1.5-.5-4.5 .5-6 1-3zM969.5 575.5l4-.5 13.5-.5 18 1.5 15 2.5 13.5 3 27 7 24 8.5 10.5 4 10.5 5 3.5 2.5 5.5 6 1.5 3 0 2.5-.5 2-1 2-2.5 2.5-4.5 3-2 1-1.5 .5-10.5 0-10.5-2-10.5-3.5-45-14.5-39-11-15-4.5-4.5-2-5-3-3.5-3-2-3 0-1.5 .5-1.5 1.5-1.5 4.5-3zM506 590.5l1-.5 1.5 0 1.5 .5 1.5 1.5 1.5 3 0 4.5-.5 6-1 3-1.5 1-1.5 0-2.5-1-1-1.5-1-3 0-4.5 0-4.5 1-3zM531 596.5l1.5-1 1.5 0 3 .5 2 2 1.5 3 .5 6-.5 6-.5 1.5-1 1.5-2 .5-3 0-1.5-.5-1.5-1.5-.5-1.5-1-4.5 0-4.5 .5-4.5zM562 607l.5-.5 1.5-1 1.5 .5 1.5 1 1.5 3 .5 3-.5 3-1.5 2-1.5 1-1.5-.5-1.5-1-1-3-.5-4.5zM471 616l1.5-1 .5 2.5-.5 2.5-1.5-2.5zM496.5 617.5l1.5 .5 1.5 4 0 4.5-1.5 2.5-1.5 0-1.5-2.5-.5-1.5 0-4.5 .5-1.5zM519.5 619l2.5-.5 3 1 1.5 2 1 2 .5 6 0 6-1.5 3-1.5 1-3 0-1.5-.5-1.5-1-1-2.5-1-6 0-6 1-3zM549 625l3 0 3 1.5 1 1.5 1 3 1 4.5-.5 4.5-1.5 3-2.5 1.5-3 0-1.5-.5-1.5-1.5-1-2.5-.5-4.5 0-6 1-3 .5-.5zM959 635.5l7-1 4.5 .5 18 3 13.5 4 13.5 4.5 13.5 5 24 10 22.5 10.5 10.5 5.5 9 6.5 2.5 2.5 1.5 3 1 4.5-1 3-1.5 3-1.5 1.5-4 3-3 .5-9 .5-12-3-9-3.5-12-5-64.5-30-17-9-9.5-7.5-3.5-4.5-.5-3 .5-1.5 2-1.5zM509.5 643l2-.5 1.5 0 1.5 1 1.5 2 .5 2 1 6 0 4.5-1 3-2 1.5-3-.5-1.5-1-1.5-3.5-1-5.5 0-4.5 .5-3zM538 647.5l2-.5 3 .5 2 1.5 1 3 1.5 7.5-.5 4.5-1 2.5-1.5 1-1.5 .5-4.5 .5-1.5-1-.5-2-1.5-7.5 0-6 1-3zM569 655l2.5-1 1.5 .5 1.5 .5 1.5 1.5 1.5 3 .5 3 0 3-.5 1.5-1 1.5-2 1-3 .5-1.5-1-1.5-3-1-6.5 .5-3zM501.5 668.5l1-1 1.5 0 1.5 0 1.5 1.5 1 2.5 1 4.5 0 4.5-.5 2.5-1.5 1-1.5 0-1.5-.5-1.5-2-1-2.5-1-6 .5-3zM532 670l3.5 .5 1 1 2 8.5 .5 6.5-.5 2-1.5 2-1.5 1-4.5 1-.5 1.5 2.5 12 0 4.5-1 1.5-1 1.5-4 1.5-1.5 1.5 3 12 0 4.5-.5 1.5-1.5 1-4.5 1.5-1.5-2-2.5-8-1-4.5 0-3 .5-1.5 1.5-1.5 3-1.5 1-1.5-2-12-.5-4.5 .5-1.5 1.5-1.5 5.5-2 .5-1-2-12 0-4.5 .5-1.5 1-1.5 1.5-1zM562.5 674.5l3 0 1.5 .5 1 1 .5 1.5 1.5 4.5 1 6-.5 3-1 1.5-2 1.5-3.5 2-1.5 1 0 3 2 10.5 0 3-.5 1.5-1 1.5-4 3-1 1.5 .5 3 2 9 0 3-1 2.5-3.5 3.5-.5 1.5 .5 3 2 7.5 .5 3-1 3-2.5 3-.5 1.5 0 3 2.5 7.5 .5 3-.5 3-2.5 3-.5 1.5 .5 3 3 7.5 .5 3-.5 1.5-3.5 4.5 .5 1.5 3.5 7.5 .5 3-.5 2-1.5 1.5-1.5 0-1.5-1-3-3-3-5.5-.5-3 .5-1.5 1.5-3 0-1.5-4.5-10.5-.5-3 .5-3 2-3 0-1.5-.5-3-2.5-7.5-.5-4.5 .5-1.5 2.5-3 .5-1.5 0-1.5-2.5-9-.5-4.5 1-2 3.5-4 .5-1.5-.5-3-1.5-7.5-.5-3 .5-1.5 1-2 3.5-2.5 1-1 .5-2-2-10.5 0-3 .5-1.5 1-1.5 1.5-1.5 4-1.5 1.5-1.5 0-3-1.5-7.5 0-4.5 .5-1.5 1-1.5 2-1zM932 691l2.5-1.5 3 0 9 1 6 1.5 13.5 5 15 7 37.5 20 21 12.5 10.5 6.5 9.5 6.5 8 9 .5 3-1 4.5-2 3-1.5 1.5-3 1.5-12 1-12-3-9-4-10.5-6-22.5-13.5-24-15-13.5-9-13.5-10.5-7-7.5-4.5-6-1-3-.5-1.5 .5-1.5zM498 694l1.5 .5 1.5 2.5 1 4.5-.5 1.5-.5 1-1.5-.5-1.5-2-.5-1.5-.5-3 0-1.5zM589.5 700l3 0 1.5 .5 1.5 1.5 2 4 1 4.5-.5 3-.5 1.5-5 4.5-.5 1.5 .5 3 2 7.5 .5 3-.5 3-4 6 0 3 2 7.5 .5 3-.5 3-3 4.5-.5 1.5 .5 3 3 9-.5 3-2 4.5-.5 1.5 1 3 2 6 1 3-.5 3-1.5 3 0 1.5 .5 3 2.5 6 1 3 0 1.5-1.5 4.5 0 1.5 1 3 2 4.5 1 3 0 3-1.5 3 0 1.5 1 3 2.5 4.5 1 3-.5 1.5-.5 1.5-1.5 1-1.5 0-1.5-.5-3-2.5-3-4-2-3-.5-3 .5-4.5-1-3-3.5-6-1-3 0-3 .5-3 0-1.5-.5-3-3-6-1-3 .5-3 1-3 0-3-3.5-10.5 .5-3 2-4.5 0-1.5-3-10.5 0-3 .5-1.5 2.5-3 1-3-2.5-10.5 0-3 .5-1.5 3.5-4.5 .5-1.5 0-3-1.5-7.5 0-3 .5-1.5 1-1.5 4-3 1.5-1.5 0-3-1.5-7.5 0-3 .5-1.5 1-1.5zM621.5 724l1-1 1.5 0 1.5 0 1.5 1 1 1.5 1 3 .5 1.5-1 2.5-4.5 5 .5 1.5 4 9 1 4.5-.5 3-2 4.5-.5 3 3 10.5 0 3-1.5 4.5-.5 3 3.5 10.5 0 3-1.5 6 1 3 3 7.5 0 3-.5 4.5 0 1.5 4 10.5 0 7.5 1 3 2.5 4.5 1 3 0 6 0 1.5 3.5 6 1.5 3 0 1.5-.5 4.5 0 1.5 4.5 7.5 0 1.5-1 2-1.5 1-1.5 .5-3-1-1.5-1.5-3-2.5-2.5-3-1.5-3-.5-4.5-5-7.5-2-3 0-6-.5-1.5-4-7.5-1-3 0-6 0-1.5-4.5-9 0-3 1-4.5 0-1.5-4-10.5 0-3 1-3 .5-3-3-9-.5-3 0-1.5 2-4.5 .5-3-2.5-7.5-.5-3 1-3 3-4.5 .5-1.5-.5-3-1.5-7.5 0-3 2-3 6-4.5 .5 0-2.5-9 0-3zM897.5 736l2.5-1 3 0 9 2.5 6 2.5 5 3.5 8.5 5 6 4.5 6 4 6 4.5 7.5 5 4.5 3.5 6 4 6 5 6 3.5 4.5 4 5.5 3.5 5 4 4.5 3 4.5 4 6 4 3 3.5 5 4 2 3 2 6 0 3-1 1.5-1.5 1.5-2 1-10.5 2-3-.5-10.5-3-12-6-4.5-3.5-4.5-2.5-5-4-5.5-3.5-4.5-4-6-4-5.5-5-6-4.5-5-4.5-6-5-6-6-6-5-11.5-12.5-3-4.5-5-10.5-.5-3 0-1.5zM517.5 739l3-1 1.5 1.5 3 8.5 .5 3 0 3-.5 1.5-1.5 1-1.5 .5-1.5-.5-1.5-2-3-6.5-.5-3-.5-3 1-2zM657.5 757l2.5-.5 1.5 0 1.5 1 2 2.5 1.5 3 0 3-1 4.5 0 3 4.5 10.5 .5 3-1 4.5 0 3 4 10.5 0 9 1 3 3 6 1 3 0 6 1 3 3.5 6 1 9 4.5 7.5 .5 3 .5 4.5 .5 1.5 5 7.5 1 7.5 5 7.5 .5 6 .5 1.5 4 6 0 1.5 0 1.5-1 1.5-1.5 1-1.5 0-3-1-4.5-2.5-2.5-2-2-2.5-2-5-6.5-7.5-1-1.5-1.5-6-4.5-6-1.5-3-.5-6-1-1.5-3.5-6-1.5-3 0-6-.5-1.5-3.5-6-1-3 0-7.5-4.5-10.5 0-3 .5-3 0-3-3.5-9 0-3 1.5-4.5 0-3-2.5-7.5 0-3 .5-3 3-6 0-3-1.5-4.5 0-3 .5-2.5zM516.5 764.5l1-1.5 1.5 .5 1.5 1 1.5 2.5 1.5 5 0 1.5-1.5 1.5-1.5-.5-1.5-1.5-1.5-2-1-3.5-.5-1.5zM855 769l3 0 4.5 1.5 6 2.5 3 2.5 6 5.5 6 5 6 6.5 6 5 5.5 6 5.5 4.5 5.5 6 6 4.5 4 4.5 6 4.5 4 4.5 5.5 4 4.5 5 6 4.5 3 4 4.5 3.5 4.5 6 3 3 1 1.5 0 3-1 3-1 1.5-2.5 1.5-2.5 1-6 .5-3-.5-3-1-7.5-2.5-5-3.5-7-4-4-3.5-5-3.5-4.5-4.5-6-4.5-4.5-5-4.5-3.5-5-6-6.5-6-3.5-5-6-5.5-4.5-6.5-6-7-4-7.5-4.5-6-2-4.5-2-10.5 .5-3zM700.5 782.5l1.5-1 1.5-.5 3 .5 3 2.5 2 3 1 3 .5 6 6 10.5 1.5 9 4.5 9 2 9 4.5 7.5 2.5 9 5 7.5 2 7.5 5.5 7.5 2 6 5.5 7.5 1.5 6 5 6 .5 1.5 2 6 4 6 0 1.5 0 1.5-2 2.5-1.5 .5-1.5 .5-3-1-4.5-1.5-3.5-2.5-4.5-6-6.5-6-3-6-6.5-7.5-3-7.5-4.5-6-2-7.5-4-6-1.5-3-1-4.5-1-3-4-7.5-1.5-9-3.5-6-1-3 0-6-.5-3-2.5-6-1-3 .5-3 1-6-.5-3-1.5-4.5-.5-3 .5-2zM805 790l2-.5 4.5 1 4.5 2.5 3 3 4 6 6.5 6.5 4.5 7 6 7 4 6.5 6 6 4 6 5.5 5.5 4.5 6.5 5 4.5 4 5.5 5.5 5 3.5 5 6 5.5 3 5 4.5 4 2.5 6 3 4.5 0 1.5-1 1.5-2 1.5-2.5 1-4.5 .5-15-6-4.5-4-6-3.5-4.5-5-6-4.5-4-5.5-5-4.5-4-6-6-6-3.5-6-5.5-6-3.5-6.5-5.5-7-3.5-7.5-5-7.5-2.5-7.5-3.5-7.5-1-3 0-3 .5-3 1-3zM751.5 794.5l1.5-1 1.5-.5 3 1 3 1.5 3 3.5 3 7.5 7 9 2.5 7.5 5.5 7.5 3 7.5 5.5 7.5 3.5 7.5 5 6 4 7.5 5 6 3 6 5.5 6 3 5.5 4.5 5 3 6 5 6 .5 1.5 0 9-1 .5-3 0-12-4-3-2-5-5-6-4.5-4-6-6-5.5-3.5-6.5-5.5-6-3-6-4.5-5.5-1-2-2.5-6-5.5-7.5-2.5-7.5-4.5-7.5-2-7.5-4.5-9-.5-3-.5-6-2.5-7.5-.5-3 1-4z"/>
<path fill="#0cf4eb" d="M818 268l2.5-.5 1.5-.5 2 1-3.5 4.5-2 4.5-1.5 1.5-6.5 4.5-4.5 4.5-8 5-6 5.5-9 6-6 6-8.5 6-7 7.5-7.5 6-6.5 7.5-8.5 7.5-6.5 9-7.5 7.5-5.5 9-7.5 7.5-2 3-3 6-2 3-3 3-3 2-1.5 .5-1.5 0-1-1-1-1.5 .5-3 1.5-3 5-7.5 2-7.5 1.5-3 7-9 3-6 1.5-3 7.5-7.5 4.5-7.5 9.5-9 4.5-6 9-7.5 6.5-7 7.5-5 6-6 9.5-6 5.5-5 10-5.5 6.5-4.5 12.5-4.5zM754.5 269.5l1.5 0 1 1.5 0 3-.5 1.5-1.5 1.5-6.5 5.5-4.5 6.5-7.5 6-6 7.5-8.5 7.5-4 6-9 9-5 7.5-8 9-5 9-7.5 9-3 7.5-1.5 3-7 9-1 1.5-1.5 6-1 3-8.5 12-1.5 9-1.5 3.5-3 4-3 2.5-1.5 0-1.5-1-1-3 0-3 1.5-3 3.5-6 1-3 0-7.5 1-3 6.5-10.5 1.5-7.5 1.5-3 6.5-9 3.5-9 2-3 6-7.5 4-7.5 2-3 6-6 6-9 8-7.5 5.5-7.5 8.5-7.5 5-6 8.5-6 6-6 1.5-1 6-3zM692 281.5l2.5-1 1.5 0 1 1 .5 1.5 0 1.5-1 1.5-7 7.5-2.5 6-1 1.5-7.5 7.5-4.5 9-7 7.5-2 3-2.5 6-8 10.5-3.5 9-7.5 10.5-1 3-1 4.5-1 3-7 10.5-.5 3-1 6-.5 2-6.5 11.5-.5 3 0 6-1 4.5-6.5 12 0 3 1 3.5 0 2.5-.5 4.5-2.5 4.5-1.5 2-1.5 1-1.5 0-1.5-.5-.5-1-1-3 1-4.5 3.5-7.5 .5-3 0-1.5-2-6 0-3 1-3 4-7.5 1-3-.5-7.5 1-3 1-3 5-9 .5-3 .5-4.5 1-3 7-12 1.5-6 1-3 7.5-10.5 3.5-9 7.5-9 4.5-9 8-9 4-7.5 9.5-9 3-4.5 2-2.5 3-2.5zM877 281.5l3.5-1 3-.5 4.5 1.5 .5 1.5-.5 1.5-3 2.5-4 5-8 4-4.5 3.5-9 4-6 4-9 4.5-6 4-9 5-7.5 5.5-9 5-6 5.5-9.5 6-7 7-7.5 5-7.5 8-9.5 7-5.5 6-3 2.5-3 2-3 1-3 0-1-1-.5-1.5 0-1.5 1-3 6.5-7.5 3-6 2-3 7-6.5 4.5-6 2.5-2.5 8-6 5.5-6 8.5-6 7-6 9-5.5 6.5-5 8.5-4.5 6.5-4.5 10-4.5 4.5-3 10.5-4 7-3.5zM639 301l1.5-.5 1.5 .5 .5 1.5 0 1.5-.5 1.5-7 9-2 7.5-7.5 10.5-2.5 9-7.5 10.5-2 9-7 12-1 3-.5 4.5-.5 3-6.5 12-.5 3 0 4.5 0 3-2 4.5-4 7.5-.5 3 1 7.5-.5 3-1.5 4.5-4 9-.5 1.5 0 1.5 2.5 6-.5 4.5-1 4.5-3 6-1.5 2-1.5 .5-1.5-1-1.5-1.5-1.5-3 0-1.5 1-4.5 3-9 1-3-2.5-6 0-4.5 .5-3 4.5-10.5 0-3-.5-4.5 0-3 1.5-4.5 4.5-9 .5-3-.5-4.5 .5-3 1.5-3 4.5-7.5 1-3 .5-6 1-3 7.5-12 1-6 1-3 8.5-12 1-4.5 1-3 9-10.5 1-1.5 1-4.5 2-3 3.5-3zM938 307l4-.5 3 .5 3.5 1.5 1.5 1.5 0 1.5-.5 1.5-3 2-4 4-2 1-6 2-6 3.5-7.5 2-7.5 3.5-7.5 2-7.5 3.5-9 3.5-6 3-9 3.5-7.5 4-9 4-7.5 5-9 4.5-7.5 5.5-10 5-6.5 5-3 1.5-4.5 2-4.5 1-3-.5-1-1.5 0-1.5 .5-3 1.5-3 8-7 5.5-6.5 8-5.5 7.5-6.5 8.5-4.5 6.5-5 9-4 7.5-4.5 7.5-3 7.5-4 9-3 7-3.5 8-2 7.5-3 9-2 6-2zM591 329.5l1.5 0 .5 1.5-.5 3-6.5 10.5-.5 1.5 .5 3 0 3-1.5 3-5 7.5-1 3 0 6-.5 3-6 10.5-1 3 .5 6-.5 3-1 3-5 10.5-.5 3 1 4.5 0 3-1.5 4.5-3.5 7.5-1 3 .5 3 1.5 4.5 0 4.5-5 15 .5 3 3 4.5 0 4.5-1 4.5-2.5 7-1.5 2.5-1.5 .5-3-2.5-1.5-3-.5-1.5 .5-4.5 4-10.5 0-3-.5-1.5-2.5-4.5-.5-3 1-4.5 3.5-9 .5-3 0-1.5-1.5-4.5-.5-3 1-4.5 4-9 1-3-1-6 0-3 2-4.5 4-7.5 1-3-.5-6 .5-3 1.5-3 4.5-7.5 1.5-3 0-6 1-3 2-3 6.5-9 0-1.5 0-4.5 1.5-3 3.5-4.5 3-2.5zM980 346l4-.5 15 1 2.5 1 2 1.5 1.5 1.5 1 1.5 0 1.5-1.5 1.5-7 5.5-7.5 2-4.5 2-9 1.5-6 1.5-7.5 1.5-7.5 2-7.5 1.5-7.5 2-9 2-7.5 2.5-9 2.5-7.5 3-9 3-7.5 3.5-9 3-7.5 3.5-4.5 2-16.5 4-3-.5-1-1.5 1.5-3 5.5-7.5 3-3 7.5-5 7.5-5 9-4.5 7.5-4 7.5-3 9-4 7.5-2 7.5-3 9-2 6-2 9-2 6-1.5 9-1.5 6-1 9-1zM547 367l2-.5 .5 .5 .5 1.5-.5 1.5-3.5 6-1.5 1.5-1.5 .5-1.5-2 1-3 2-3.5zM541 386.5l.5-1 1.5-.5 1.5 1 .5 2 0 3-3.5 7-3 5-1.5 1.5-2-3-.5-1.5 0-3 2.5-5zM988.5 397l16.5-1 7.5 0 6-.5 15 1 13.5 3.5 1.5 .5 3 2.5 1 3 0 1.5-4.5 4.5-2.5 2-12 3-7.5 .5-6 .5-22.5 1.5-7.5 1-7.5 .5-7.5 1-9 1-7.5 1.5-9 1.5-7.5 2-9 1.5-9 2.5-10.5 1.5-7.5 1.5-3 0-3.5-.5-3-1.5-1-1.5 0-1.5 0-1.5 1.5-2 12-8.5 3-2 15-6 16.5-5.5 9-1.5 6-1.5 16.5-3 9-.5zM537 406l0-1.5 0 1.5 1.5 1 1.5 2.5 .5 2.5-.5 3-1 3-4.5 9-1 3 2.5 4.5 .5 1.5 0 3-1 4.5-1.5 4-3 6.5-1 1.5-.5 1.5 0-1.5-3-3.5-1-2.5 0-1.5 1-5 5-11.5 .5-1.5-2.5-4.5-.5-1.5 .5-3 1-3 2-5zM508.5 433l1.5-1 .5 1 .5 1.5-1 3.5-1.5 3-1.5 1.5-1.5-1 0-2.5 1.5-4zM985.5 454l18-1 15 0 15 .5 13.5 1 12 2 13.5 2.5 3 1.5 4.5 2.5 4.5 3 1.5 1.5 1 3-.5 1.5-1.5 3-3.5 3.5-1.5 .5-10.5 2-12-.5-36-2-15-.5-16.5 0-16.5 .5-7.5 1-9 0-9 .5-4.5-.5-5.5-1.5-3-1.5-1.5-1.5-.5-1.5 .5-1.5 2-3 3-3 2.5-1.5 16-5.5 15-3.5zM506 457l1-1 1.5 0 1 1 .5 1 0 2.5-1.5 5.5-1.5 3-1.5 1.5-1.5 0-1-1.5-.5-1.5 .5-3 1-3.5zM529 458.5l.5-1.5 1.5 0 1.5 1.5 2 3 .5 4.5-1 4.5-3 7.5-1.5 3-1.5 0-1.5-1-1.5-2-.5-1.5-.5-3 1.5-6zM581.5 478l.5-.5 1.5 .5 1.5 1.5 1 3 .5 3-1.5 4.5-1.5 3-1.5 1.5-1.5 .5-1.5-.5-1-1.5-.5-1.5-.5-3 2-6.5 1.5-3zM506 482.5l1-1 1.5 .5 1 .5 .5 1.5 .5 3-.5 3.5-1.5 5-1.5 2.5-1.5 1-1.5-.5-.5-1-1-1.5 0-3 1.5-6.5 1.5-3.5zM529 487l.5-1 1.5-.5 1.5 1 1.5 2 1 1.5 .5 3-1 6-2 6-1.5 2.5-1.5 .5-1.5-.5-1.5-1-1.5-3 0-1.5 0-3 1-4.5 2-6zM555.5 494.5l1 0 1.5 .5 1.5 1.5 1.5 2.5 .5 3-.5 4.5-2 6-1 1.5-1.5 1-1.5 .5-1.5-1-2-2-.5-1.5 0-3 1-6 1.5-5 1.5-2.5zM508.5 509.5l1.5-.5 1.5 1 1.5 2.5 0 3 0 3-1.5 6-1.5 2.5-1.5 .5-1.5 0-1.5-2-.5-4 .5-4.5 .5-3 1-2.5zM987.5 514l17.5-.5 15 1 13.5 1 15 2.5 12 2 13.5 3.5 12 3.5 12 5 3.5 3 3.5 4.5 1 3-.5 3-1 1.5-2 3-1.5 1-1.5 .5-9 1.5-12-1-46.5-9-15-2-40.5-5.5-15-4-3-1.5-2-2.5-.5-1.5 .5-1.5 1-1.5 2.5-1.5 6-3 6-2.5zM532 515.5l2-.5 1.5 .5 1.5 1.5 1 1.5 .5 3 0 4.5-1.5 6-1.5 3-1.5 1-1.5 0-1.5-1-1.5-1.5-1-3 0-3 1-5.5 1.5-5zM559.5 526l1.5-.5 1.5 .5 1.5 2 1 2.5 0 3-1 4.5-1.5 2.5-1.5 1-1.5 0-1.5-1-1.5-2.5 0-1.5 0-3 .5-3 1-2.5zM513.5 538l1 0 1.5 .5 1 1 1 1.5 .5 3 0 4.5-1 5-1.5 3-1.5 .5-1.5 0-1.5-1.5-1.5-2.5 0-3 0-4.5 1.5-4.5 1.5-3zM538 545.5l2-.5 1.5 .5 2 1.5 1.5 3 0 4.5-.5 5-1.5 3.5-1.5 1-1.5 .5-1.5-.5-1.5-1.5-1.5-3.5 0-3 .5-4.5 1-4.5zM498 565l1.5 .5 1 4-1 4.5-1.5 1-1.5-2-.5-3.5 .5-2zM520.5 568l1.5-1 1.5 .5 1.5 .5 1.5 2 1 2.5 0 4.5-1 6-1.5 3-1.5 .5-1.5 0-1.5-1-1.5-2-.5-2-.5-3 .5-4.5 .5-3zM547.5 577l1.5-1.5 1.5 0 1.5 .5 1.5 1.5 1 2.5 .5 3-.5 4.5-1 3-1.5 1-1.5 .5-1.5-.5-1.5-1.5-1-2.5-.5-3 .5-3zM980 577l8.5-1 13.5 1 18 2.5 13.5 3 13.5 3 25 8 11.5 4.5 11.5 5 10 7 2 3 1.5 3 0 3-.5 3-2 3-2 1.5-7.5 2-3 0-10.5-1.5-12-3-30-10-52.5-15.5-15.5-6.5-4-3-2-3 0-3 .5-1.5 1.5-1.5 3-1.5zM507 592l1.5-.5 1.5 1 1.5 2 .5 2 .5 3-.5 4.5-.5 2-1.5 1.5-1.5 .5-1.5-1-1.5-2.5-.5-2 0-6 .5-2.5zM532 598l.5-.5 1.5-.5 1.5 0 2 1 1.5 1.5 .5 1.5 1 4.5-.5 5.5-1.5 3.5-1.5 1-1.5 0-2.5-1-1.5-1.5-.5-1.5-.5-3 0-4.5 .5-4.5zM520 620.5l2-.5 1.5 .5 1.5 1 1 2 1 3 .5 4.5-.5 4.5-1 1.5-1 1-1.5 .5-1.5-.5-2-1-1-2-.5-2.5-.5-7.5 .5-3zM550 626.5l2 0 2 1.5 1 1.5 1.5 3 0 4.5-.5 3-1 2-1.5 1-1.5 0-1.5 0-1.5-1-1.5-3.5-.5-4.5 0-4.5 1-1.5 1-1zM965 638.5l2.5-.5 3-.5 13.5 1 16.5 4 15 5 13.5 5 24 10 12 5.5 10.5 5.5 10.5 7 7 9 1 3-.5 3-1.5 2.5-1.5 1-7.5 3-3 .5-12-1.5-9-3-12-5-49.5-23-15-7.5-15-9-2-1.5-2.5-3-2-4.5 0-1.5 .5-1.5 1-1.5zM511 644.5l.5-.5 1.5 .5 1.5 1 1.5 3.5 1 4.5 0 3-1 3-1.5 1-1.5 0-1.5-.5-1.5-2-1-3-.5-4.5 0-3 1.5-2.5zM538 649l2-.5 3 1 1.5 1.5 1 2.5 1 4.5 0 4.5-.5 1.5-1 1.5-2 1.5-3 0-1.5-1-2-3.5-.5-4.5-.5-4.5 1-3zM570.5 658l1-1 1.5 .5 2 2 1 3 0 1.5-1.5 2.5-1.5 .5-1.5-.5-1.5-2.5-.5-3zM503 671.5l1-1 1.5 .5 1.5 2.5 1 4-.5 1.5-.5 2-1.5 .5-1.5-1.5-.5-1-1-4.5zM530.5 671.5l2 0 1.5 .5 1.5 1.5 1.5 3.5 1 3.5 0 4.5-.5 3-1.5 1.5-2 1-1.5-.5-1.5-.5-1-1.5-2-6-.5-4.5 0-3 .5-1.5 1.5-1zM559.5 677.5l1.5-1 3-.5 1.5 .5 2 2.5 1.5 4.5 .5 4.5-.5 3-2 1.5-3 1-1.5 0-1.5-1.5-1.5-3.5-1-5 0-3zM944.5 694l3.5-.5 3 .5 16.5 5.5 13.5 6 13.5 6.5 34.5 19.5 4.5 3 6 3.5 4.5 3.5 6 3.5 8 7.5 2 3 .5 3 0 3-1 3-3.5 3-3 1.5-3 1-12-1.5-10.5-4-4.5-3-6-2.5-22.5-13.5-24-15-13-9.5-13.5-12-2.5-3-1.5-3-1-3 0-1.5 .5-1.5 1.5-1.5zM523 695.5l2-1 1.5 0 1.5 .5 1.5 2 .5 1.5 1.5 4.5 .5 4.5-.5 3-.5 1-1.5 1-1.5 .5-1.5-.5-1.5-1-1.5-2.5-1.5-5.5-.5-3.5 .5-3zM554 698.5l2.5-1 1.5 0 2 1 1 1.5 1 3 1.5 6 .5 3-1.5 3-1.5 1.5-4.5 1.5-1.5 0-3.5-12 0-4.5 .5-1.5zM589 703l2-.5 1.5 0 1.5 1.5 1.5 2 1 3 0 3-1 2-1.5 1-1.5 .5-1.5 0-1.5-1-1-2.5-1-3-.5-3 .5-1.5zM520 718l2-.5 1.5 1 1.5 2 1.5 3.5 1 4.5 0 3-1 2-1.5 .5-1.5 0-1.5-1-1.5-2-1.5-4-1-3 0-3 1-2.5zM552 719.5l3-1.5 3.5 10.5 1 3 0 3 0 1.5-1 1.5-4 3-1 1.5 .5 1.5 2.5 8 1 4-.5 3-1 1.5-3.5 3 0 1.5 3 9 1 3-.5 3-1 1.5-4 3 4 8.5 1 3.5 .5 1.5-.5 1.5-1 1-1.5 .5-1.5 0-1.5-1.5-3-4-1.5-3.5-.5-3 .5-1.5 1.5-2 2-1 .5-1.5-4.5-9-1-3-.5-3 .5-2 4-4-.5-3-3-9-.5-3 0-1.5 1.5-2 3.5-2.5 .5-1.5-2.5-10.5-.5-4.5 .5-1.5 1-1.5zM583.5 722.5l3-1 1.5 0 1.5 1 1.5 2 1.5 3.5 1.5 5-.5 3-.5 1.5-4.5 4.5 0 1.5 3 10.5 .5 3-1 3-2.5 3-.5 1.5 0 1.5 3 9 .5 3-.5 3-2.5 4.5 0 1.5 3.5 9 .5 3-.5 1.5-2 4.5 0 1.5 1 3 2.5 6 1 3-.5 2-2 4 0 1.5 4 7.5 .5 3 0 1.5-1 1.5-1.5 1.5-1.5 .5-1.5-1-3-3-3-4-1.5-3 0-3 1-4.5 0-1.5-4-8-1-4 0-1.5 2-4.5 0-1.5-4-9-.5-3 .5-2.5 2-3.5 .5-1.5-.5-3-2.5-7.5-.5-3 1-3 2.5-3 .5-1.5-.5-3-2-7.5-.5-3 1-3 4-3 1-1.5-.5-3-2-7.5 0-3 1-3zM518.5 742l2 .5 1.5 1.5 1 2.5 1 4.5-.5 2.5-1.5 .5-1.5-1-1.5-2-1.5-3-.5-3 0-1.5 .5-1zM905.5 742l3.5-1 3 0 3 .5 15 8 6.5 4.5 7 4 6 5 6 3.5 6 5 6 3.5 4.5 4 6 4 6 4.5 4.5 3 4.5 4 6 4 4.5 4.5 4.5 3.5 1 1.5 2 3 3.5 4.5 .5 1.5 0 3-2 3-3.5 2.5-3 1-13.5-2-4.5-2-6-2.5-4.5-3-6-3.5-4.5-3.5-6-3.5-4.5-4-6-4.5-4.5-4-6-4.5-6-5.5-6-4.5-4.5-5-7.5-7-9.5-12-2-3-1-3-.5-3 1-3zM618 743.5l1.5-1 1.5 0 1.5 .5 1.5 1 2.5 4 1 3 0 3-.5 1.5-2.5 4.5-.5 1.5 1 3 2.5 6 1 3 0 3-2.5 6 .5 3 2.5 6 1 3 0 3-1.5 4.5 0 1.5 1 3 3 7.5 0 3-1 4.5 0 1.5 4 7.5 1 3 0 1.5-1 4.5 0 1.5 4 7.5 1 3-1 6 1.5 3 2.5 4.5 1 3 0 1.5-2.5 4.5 .5 1.5 2.5 3.5 1.5 2.5-.5 1.5-1 .5-1.5-.5-1.5-1-2.5-2-.5-1.5 0-3 0-1.5-6-6.5-3-4-1-3 0-4.5-5.5-10.5-.5-3 .5-4.5-.5-1.5-4.5-9 0-3 1-3 0-3-3.5-7.5-.5-3 0-3 1.5-4.5 0-1.5-3-7.5-.5-3 .5-3 2-4.5 .5-1.5-.5-3-2.5-6 0-3 1-3 2.5-3 1-1.5 .5-1.5-2-7.5-.5-3 .5-3zM659.5 763l.5-.5 1.5 .5 .5 1.5-.5 1-1.5 0zM659 775l1-.5 1.5 0 1.5 1 3 4 2.5 4.5 0 3-.5 4.5 0 3 4.5 10.5 0 9 3.5 7.5 1 3 0 7.5 1.5 3 3.5 6 .5 3 0 3 .5 3 4.5 7.5 .5 1.5 0 4.5 1 3 4.5 7.5 .5 1.5 0 4.5 .5 1.5 4.5 7.5 .5 1.5-1.5 4.5 0 1.5 3 4.5 0 1.5-.5 .5-3 0-3-2-1.5-4.5-7.5-6.5-2.5-2.5-.5-1.5-2-6-4.5-6-1.5-3-.5-4.5-1-3-5-7.5-.5-1.5 0-4.5-.5-3-3.5-6-1-3 0-7.5-4-9-.5-3 1-4.5-.5-3-3.5-9 0-3 2-4.5 0-3-2.5-7.5 0-3 1-3 1.5-1.5zM859.5 776.5l1.5-1 3 0 4.5 1 7.5 6 6 4 6.5 6.5 7 6 4.5 5 6 4.5 5 5.5 5.5 4.5 4.5 5 6 4.5 4.5 5 6 5 3 3.5 6 5 3 4 4.5 4 1 1.5 2.5 9 0 1.5-1 1.5-2.5 1.5-1.5 0-10.5-1-3-.5-5-3-7-3-4.5-4-5.5-3.5-4.5-4.5-6-4.5-4-4.5-5.5-4.5-4.5-5.5-6-5.5-4-5.5-6-6-4-6-5.5-6-9-17-.5-2.5 .5-3 .5-1.5zM703.5 787l1.5-.5 1.5 .5 1.5 1.5 .5 1.5 0 4.5 1 1.5 6 7.5 1.5 3 1 3 .5 6 5.5 9 2 9 4.5 7.5 2.5 9 5 7.5 2 7.5 5.5 7.5 1.5 6 5.5 7.5 2 7 4.5 6.5 .5 1.5 0 4.5 .5 1.5 1.5 3 .5 1.5-1 1.5-3.5 0-3-1.5-4-4.5-8.5-6-1-1.5-2-4.5-7-7.5-2-6-5.5-7-1-2-1.5-6-5-7.5-.5-1.5-1-6-.5-1.5-4.5-7.5-1.5-9-4-7.5-.5-3 .5-4.5-.5-3-2.5-6-.5-3 0-3 3-7.5 0-1.5-1.5-4.5 0-1.5zM807.5 796l2.5-1 1.5 0 3 1 2 1.5 5 6 6.5 5.5 4.5 7 6.5 7 4 6 6 6.5 4.5 6.5 5 5 4.5 6 5.5 5.5 3.5 5 5.5 5 3.5 5.5 5 4.5 3 6 3.5 4 1 2-.5 3-.5 1.5-1.5 1.5-1.5 .5-3 .5-6-.5-2-.5-4-3-7.5-4-5-5-6-4.5-3.5-4.5-6.5-6-4-6-5-4.5-3.5-6-5.5-6-4-7.5-5-6-3-7.5-5-7.5-1-3-1-6-2.5-6-1-3 1-3zM754.5 799l1.5-.5 1.5 .5 2.5 1.5 4.5 7.5 5 5 2 2.5 3 7.5 6.5 9 2.5 6 1.5 3 4 4.5 3.5 7.5 5.5 7 3 6.5 5.5 6 3 6 5 6 3 6 5 6 2 6 3 4.5 .5 1.5-.5 1.5-1 1-1.5 .5-3 .5-4.5-.5-2.5-1.5-3-3-8-5-4-5.5-7-6-3.5-6-5.5-6-2.5-6-5-6-2-3-1.5-4.5-5.5-7.5-2-7.5-5-7.5-2-9-4-7.5-.5-3 .5-7.5-1.5-7.5 0-1.5zM550.5 809.5l1.5-.5 1.5 1.5 2 3.5 0 1.5-.5 .5-1.5 0-2-2-1.5-3zM592 845.5l.5-.5 1.5 1 3 4 .5 3-.5 1-1.5 0-1.5-1-3-3-.5-1.5 0-1.5 .5-1z"/>
<path fill="#00ccff" d="M747 274l4.5-.5 1.5 .5 .5 1.5-1.5 1.5-5 4.5-1 1.5-2.5 4.5-1 1.5-7.5 6-5.5 7.5-8.5 7.5-4 6-9 9-4.5 7.5-8.5 9-5 9-7.5 9-1 1.5-2 6-1.5 3-7.5 9-1 3-1.5 6-1.5 3-5 6-4.5 4-1.5-1.5-1-2.5 0-1.5 0-3 1.5-3 5.5-9 2-9 1.5-3 6-7.5 1-3 1.5-4.5 1.5-3 7.5-9 3-6 1.5-2.5 7.5-8 5.5-9 8.5-7.5 5.5-7.5 9-7.5 5-6 9.5-6 6.5-6zM806.5 274l3.5-.5 3-.5 2 1 1 1.5-.5 1.5-7 5.5-4 5-8 5-5.5 5.5-9 6-6 6-8.5 6-7 7.5-8 6-5.5 7.5-9 7.5-6 8.5-8.5 8-4 7.5-2.5 3-10.5 9-1 1.5-.5 3-1.5 3-3 2.5-1.5 .5-1.5-1 0-2 1-1.5 4.5-6 1-3 0-4.5 1-3 1.5-3 6.5-7.5 3-7.5 2.5-3 6-6 4.5-7.5 8-7.5 6-7.5 9-7.5 5.5-6 8.5-6 6.5-6.5 9.5-5.5 5-4.5 2-1 9-4.5 5-3.5zM690.5 284.5l2.5-.5 1 .5 0 1.5-1 1.5-5 4.5-1 1.5-1 4.5-1.5 3-7 7.5-4 8-8.5 10-3 7.5-8.5 10.5-3.5 9-7.5 10.5-2 9-1.5 3-5.5 7.5-1.5 3-.5 7-1 3.5-6 9-1.5 3 0 1.5 .5 6-1 4.5-3 5-3 3.5-1.5 1-1.5-.5-1.5-2.5-.5-3.5 1.5-4.5 4.5-7.5 .5-1.5 0-3-1-4.5 .5-3 2-4.5 4.5-7.5 1-3 0-4.5 .5-3 2-3 5-7.5 1-3 1-4.5 1-3 7.5-10.5 2-6 1.5-3 8.5-10.5 3-7.5 9-9 3-6 2-2.5 10-8 1-1.5 2.5-4.5 2-1.5zM865.5 286l4.5-1 6 0 1.5 .5 1.5 1 .5 2.5-.5 1.5-1.5 1.5-6 3-5 4.5-7 3-6.5 4.5-9 4.5-6.5 4.5-8.5 4.5-7 5-9.5 5.5-7 6-9 6-6 6-9 6-7.5 7.5-11.5 7.5-5.5 6-2.5 1.5-1.5 .5-1.5-.5-.5-1.5 .5-1.5 4.5-6 1-1.5 2-6 1-1.5 8-8 5-7 9.5-7.5 5.5-6 9-6 6.5-6 8-4.5 7.5-6 9-4.5 6-4 9-4 7-4 9.5-3zM635.5 305.5l2-1 1.5 0 .5 1-.5 1.5-1.5 1.5-3 3-1.5 1-1.5-.5 0-2 .5-1.5zM926 310l2.5-.5 4.5 .5 6 1 2 2 0 3-.5 1.5-1.5 1-6 2.5-6 3.5-7.5 2.5-6 3-9 3-6 3-9 3-7.5 4-9 3.5-7 4-9.5 4-7.5 5-7.5 3.5-8 5.5-11.5 5.5-7.5 5-3 1-3 .5-1.5-.5-1.5-1-.5-1.5 .5-1.5 1-1.5 6-6 5-6.5 9-6.5 5.5-5 9.5-5.5 7-5 8-4 9-5 7.5-3 6-3.5 9-3 6-2.5 10.5-3 7.5-3 9-1.5zM628 317.5l2-1.5 1.5 0 1 3-.5 3-2 3-6 7.5-.5 1.5-.5 4.5-1 3-7.5 10.5-1 3-.5 4.5-1 3-6.5 10.5-1 3 0 4.5-1 3-2 4.5-4 6-1 3-.5 1.5 1 6-1 3-2 4.5-4 7.5-.5 1.5 0 1.5 1.5 6-.5 4.5-2.5 5.5-3 5-1.5 1.5-1.5 0-2-3-.5-1.5-.5-3 1.5-4.5 4-7.5 .5-3 0-1.5-1.5-4.5 0-3 1.5-4.5 4.5-7.5 1-3-.5-7.5 1-3 6.5-12 .5-1.5 0-4.5 .5-3 1.5-3 6.5-9 .5-1.5 .5-4.5 1-3 2-3.5 7-8.5 1-6 2-3 3.5-4zM588 334l1.5-.5 .5 .5 0 1.5-2 2.5-1.5 1.5-1.5 0-.5-1 .5-1.5zM983 347.5l2.5 0 3 .5 6.5 2.5 2 1.5 .5 1.5 0 3-1 1.5-2 1-4.5 1.5-6 3-7.5 1.5-6 2-7.5 1-7.5 2-9 2-6 2-9 2-7.5 2.5-9 2.5-7.5 3-10.5 3-7.5 3.5-9 2.5-9 4-4.5 1-4.5 .5-3-.5-1-1-.5-1 0-2 .5-1.5 1.5-3 8.5-5.5 6-5 9-4.5 7.5-4.5 9-3 6-3 9-3 8.5-3 8-2 7.5-2 7.5-1.5 7.5-2 9-1 6-1 9-.5zM582 349l1.5 0 1 1.5-.5 3-2 4-6 8 0 1.5 1.5 4.5-.5 3-1.5 3-4.5 7.5-1.5 3 0 1.5 1 4.5 0 3-2 4.5-5 9-.5 1.5 0 1.5 1.5 4.5 0 4.5-2 5-3 5.5-1.5 3-1.5 .5-2.5-3.5-.5-3 0-3 1.5-3 5-10.5 0-1.5-1.5-4.5 0-1.5 .5-3 2-5 5-8.5 0-1.5-1-4.5 .5-3 .5-1.5 2.5-4.5 5.5-7.5 .5-1.5-1-4.5 .5-3 3.5-5 3-3zM540.5 389.5l1-1 1.5 0 .5 1-.5 3-3 5.5-1.5 1.5-1.5 .5-1-1.5 .5-3 2-4zM1003 397l17 0 15 2 3.5 1 4.5 3 2 3 0 3-.5 1.5-1.5 1.5-11 3.5-6 .5-7.5 1.5-7.5 0-6 1-7.5 0-7.5 1-7.5 .5-7.5 1.5-9 1-7.5 1.5-9 1-7.5 2-10 1.5-9.5 2-16.5 1-3-.5-1.5-1 0-1.5 1-1.5 7-7.5 2-1.5 17-7.5 7.5-2.5 7.5-2.5 9-1.5 7.5-2 9-1.5 7.5-1.5 7.5-.5 6-1zM653.5 406l2-1.5 1 1.5 .5 1.5-.5 3-1 2.5-1.5 2-1.5 1-1.5 .5-.5 0-1-.5-.5-1 .5-3 1.5-3zM536 410.5l1-.5 1.5 .5 .5 1.5 0 3-1 3-2.5 5-1.5 2-1.5 1-1.5-1-.5-1 0-1.5 0-3 2-4.5 1.5-2.5zM532 434.5l.5-.5 1.5 0 1.5 2 .5 1.5-.5 3-1.5 4.5-1.5 3.5-1.5 2.5-1.5 1-1.5-.5-1.5-2 0-3 1-4.5 2-4 1.5-2.5zM556 440.5l.5-1 1.5 0 1.5 1.5 1 2.5 .5 3-1 4.5-2 5-3 4.5-1.5 .5-1.5-1-1-1.5-.5-1.5 0-3 1.5-6zM612.5 440.5l1-1 1.5 0 1.5 2.5 0 1.5-1 3-2 3.5-1.5 1-1.5 0-1-1.5 0-3 1-3zM582 451l1.5-1 1.5 1 1.5 2.5 .5 3.5-.5 3-1.5 3.5-1.5 3-1.5 1.5-1.5 .5-1.5-.5-1.5-2-.5-3 .5-3 1.5-3.5zM999 454l4.5-.5 15 0 13.5 .5 15 1.5 7.5 2 6 .5 12 4 3 1.5 4 4 1 3 0 3-1 1.5-1 1-9 3-13.5 .5-34.5-2-15-.5-33 .5-7.5 .5-18-.5-3-.5-3-1.5-2.5-2-.5-1.5 0-1.5 1-1.5 1-1.5 2.5-1.5 13.5-6 16.5-3.5 15-2zM506.5 460l.5-.5 1 .5 .5 1.5-1.5 4-1.5 1.5-1-1 0-1.5 1-3zM529 461.5l.5-.5 1.5-1 1.5 1 1 2 .5 3-1 4.5-2 5.5-1.5 2-1.5 1-1.5-1-1-1.5-.5-3 0-3 1.5-4zM553.5 469l1.5-1.5 1.5 0 1.5 1.5 .5 1.5 1 3-.5 4.5-2 4.5-2 3.5-1.5 1-1.5-.5-1.5-1.5-1-2.5 0-1.5 1-5zM581 482.5l1-1 1.5 .5 1 2 0 1.5-1 4-1.5 2-1.5 .5-1.5-1.5-.5-2 .5-3zM506 485.5l1-1 1.5 0 .5 1 .5 3-1.5 4.5-1 2.5-1.5 1-1.5-1.5-.5-2 .5-3zM530 488.5l1-.5 1.5 .5 1 1.5 1 1.5 0 3-.5 3.5-1.5 5-1.5 2.5-1.5 .5-1.5 0-1.5-1.5-1-4 1-6 1.5-3.5zM555 497.5l1.5-.5 2 .5 1 1.5 .5 1.5 .5 3-1 4.5-1.5 3.5-1.5 1.5-1.5 .5-1.5-.5-1.5-2-.5-3 .5-3 1-3 .5-2zM508 512.5l.5-.5 1.5-1 1.5 1.5 1 3-1 6-1.5 3-1.5 1-1.5-.5-.5-.5-.5-3 0-4.5 1-3zM985.5 515.5l4.5-.5 13.5-.5 16.5 .5 13.5 1.5 13.5 2 15 3 12 3 13.5 5 11 7 2 3 .5 3 0 1.5-.5 1.5-1 1-7.5 3.5-3 .5-10.5 0-12-1.5-34.5-7-30-4-7.5-1-16.5-3-6.5-2-5-3-1.5-1.5-.5-1.5 0-1.5 1-1.5 3-3 2-1 3-1zM533.5 517l2 .5 1.5 1.5 1 2.5 0 3-1 5-1.5 3.5-1.5 1.5-1.5 0-1.5-1-1-1.5-.5-1.5 0-3 0-3 1.5-4.5 1.5-2.5zM559.5 529l1.5-1 1.5 1 1 3-.5 4.5-2 2.5-1.5 0-1.5-2.5 0-4zM512.5 541l.5-.5 1.5-1 1.5 .5 1.5 2.5 .5 1.5 0 4.5-1 3-1 2.5-1.5 1.5-1.5-.5-.5-.5-1-1-.5-2-.5-3 .5-3zM539 547l1-.5 1.5 .5 1.5 1 1 2 .5 3-.5 4.5-1 3-1.5 2-1.5 .5-1.5-.5-1.5-2-1-3 0-3 1-4.5 1.5-2.5zM521 569.5l1-.5 1.5 0 1.5 1 1.5 2.5 0 1.5 .5 4.5-1 3-1 2.5-1.5 1-1.5 0-1.5-1.5-1.5-3.5 0-6 1-3zM548.5 578.5l2-1 1.5 1 1.5 3 .5 3-1 3-1 2-1.5 .5-1.5-1-1.5-3 0-4.5zM984 578.5l4.5-.5 15 0 15 2 15 3 13.5 3.5 13.5 4 12 4.5 10.5 4.5 12 6.5 3 2.5 3.5 4.5 1.5 3 0 3-2 3-4 3-2 1-12-.5-10.5-2.5-12-3.5-19.5-6.5-36-10.5-15-5-5-2.5-8-4.5-3.5-3-.5-1.5-.5-1.5 1-1.5 1.5-1 4-2zM507 595l1.5-1 1.5 1 1 3 .5 3-1 3-.5 1-1.5 .5-1.5-1-1-3.5 0-3zM532.5 599.5l1.5-1.5 1.5 .5 2 1 1.5 3 .5 3-.5 4.5-.5 2-1.5 2-1.5 0-1.5-.5-1.5-1.5-1-2-.5-3 0-3zM520.5 622l1.5-.5 1.5 .5 1.5 1.5 1 3 .5 4.5 0 3-1.5 2.5-1.5 .5-1.5-.5-1.5-1-1.5-4-.5-3.5 .5-3 0-1.5zM548.5 629.5l2-1.5 1.5 .5 1.5 1 1 1.5 1 3 0 3-.5 2-1.5 2-1.5 .5-1.5-.5-2-2.5-.5-4.5 0-3zM968.5 641.5l3.5-1 13.5 0 16.5 3.5 13.5 4.5 13.5 5 24 10 12 6 10.5 6 9 7.5 1.5 2 1 3 .5 3-.5 3-2.5 3-3 2-1.5 .5-10.5 0-12-3.5-21-9-39-18-16.5-9-10.5-8-3-3-1-3 0-1.5 .5-1.5zM510 647.5l1.5-1 1.5 0 2 2.5 .5 3 .5 3-.5 1.5-1 2-1.5 0-1-.5-2-3-.5-4.5zM538 650.5l2-.5 1.5 0 1.5 1 1.5 2.5 1 4.5 0 3-1 3-1.5 1.5-1.5 0-1.5-.5-1.5-1.5-1-2.5-1-6 .5-3zM530.5 673l2 0 1.5 .5 1.5 2.5 1.5 4 .5 3.5-.5 3-1.5 2-1.5 .5-1.5-.5-1.5-1-1.5-3-1-2.5-.5-3 .5-3 1-2.5zM560.5 679l.5-.5 1.5-.5 1.5 0 1.5 1 2 3 1 3 0 3-1.5 2.5-1.5 1-1.5 0-1.5-.5-2-3-.5-3-.5-3zM523.5 697l1.5-1 1.5 .5 1.5 1 1.5 2 1.5 5 0 3 0 1.5-1.5 2-1.5 0-1.5-.5-1.5-1.5-1-1.5-1-3-.5-3 0-3zM949 697l2 0 13.5 3 15 6 13.5 6.5 6 3.5 7.5 3.5 22.5 13 4.5 3.5 6 3.5 4.5 4 4.5 3 1.5 1.5 6 9 0 3-1 3-2 2-3 1-9 .5-3-.5-3-1-7.5-2.5-4.5-2.5-6-2.5-22.5-13-4.5-3-6.5-4-5.5-4-7.5-4.5-6-5-6-4-11-11-2.5-3-1-3 0-1.5 .5-1.5 1-1.5zM554 700l2.5-1 1.5 .5 2 2 1.5 3 1.5 4.5-.5 3-.5 1.5-1 1.5-1.5 .5-1.5 0-1.5-.5-1.5-1.5-1.5-3.5-1-4 0-3 .5-1.5zM590.5 706l.5-.5 1.5 .5 1.5 3 0 1.5-1.5 1.5-1.5-.5-1.5-2.5 0-1.5zM520 721l.5-1 1.5 0 1.5 1 1.5 2.5 1.5 5 0 1.5-1.5 2-1.5 0-1.5-1.5-1.5-2.5-1-4zM549 722.5l1.5-1 1.5-.5 1.5 .5 1.5 1 1.5 2.5 1.5 4 1 4-1 3-1.5 2-1.5 .5-1.5 0-1.5-1-1.5-2.5-1.5-3.5-1-4.5 0-3zM584.5 724l2-.5 1.5 .5 1.5 1.5 1.5 2 1.5 4 0 3-.5 1.5-1 1.5-3 1.5-1.5 0-1.5-1.5-1.5-3-1.5-4.5 0-3 .5-1.5zM547.5 743.5l3-.5 1.5 1 1.5 2 1.5 3.5 1.5 4.5 0 3-1.5 2-1.5 1-1.5 0-1.5-.5-1.5-2-2.5-5-1-3 0-3 .5-1.5zM580.5 745l3-1.5 1.5 .5 1.5 1 3 5.5 1.5 5-.5 3-1 1.5-3.5 3-.5 1.5 4 9 1 4.5-1 3-2.5 3-.5 1.5 .5 1.5 3.5 7.5 1 3-.5 3-2 3-1 1.5 0 1.5 4 7.5 1 3 0 1.5-.5 1.5-1.5 1.5-1.5 1-1.5 0-1.5-1.5-3-4-2.5-4.5-.5-3.5 .5-1 2-3 .5-1.5-.5-1.5-4-7.5-1-3 .5-3 .5-1.5 2.5-3 .5-1.5-4-9-.5-3 0-1.5 1.5-3 4-3-.5-1.5-3.5-10.5-.5-3 .5-1.5zM910.5 745l3-.5 1.5 .5 15 6 6 4.5 7.5 4 6 4.5 6 4 6 4.5 6 4 4.5 3.5 6 4 4.5 4 6 4 4.5 4 6 4.5 3 4 4.5 4 1.5 2.5 .5 4.5 0 3-1 1.5-4 2-4.5 1-3 0-12-4-5.5-3.5-6.5-3.5-3.5-2.5-5.5-3.5-6-5-5.5-3.5-4.5-4.5-6.5-4.5-4.5-4.5-6-4.5-6-7-7-6.5-8-12-1-3 0-3 1-2zM618.5 746.5l1-1 1.5 0 1.5 .5 2 2 1 2 .5 2.5-.5 1.5-1.5 1.5-1.5 .5-1.5 0-1.5-2-1.5-4.5 0-1.5zM619 763l2 0 1.5 1 3 4.5 1.5 3.5 .5 3-.5 1.5-2.5 4.5 0 1.5 .5 3 3 6 1 3 0 3-1.5 3-.5 3 4.5 10.5 0 3-1.5 4.5 1 3 3.5 6 .5 3 0 1.5-1 4.5 0 1.5 5 9 0 3-1.5 3 0 1.5 .5 1.5 4 6 .5 1.5 0 1.5-.5 1-1.5 .5-1.5 0-3-1.5-3-2.5-1.5-2-.5-1.5 1-4.5-.5-1.5-6.5-9-1-3 1-4.5 0-1.5-4-7.5-1.5-3 0-3 1.5-3 0-1.5-1-3-3-6-1-3 .5-2 2-4 0-1.5-.5-3-3-6-.5-3 .5-2.5 2.5-3.5 .5-1.5 0-1.5-3-8-.5-4 .5-1.5 1.5-1.5zM546 766l1.5-1 1.5 0 1.5 .5 3 5 1.5 3 .5 3-.5 2-1.5 1.5-1.5 0-1.5-.5-1.5-1.5-1.5-2.5-2-5 0-3zM657 779.5l1.5-1 1.5-.5 1.5 .5 3 2 2 3.5 .5 3-1.5 4.5-.5 1.5 1.5 3 3.5 6 1.5 3 0 3-.5 4.5 0 1.5 4.5 9 .5 3 0 4.5 0 1.5 5 9 0 1.5 0 6 .5 1.5 5 7.5 .5 3 0 3 .5 3 5 7.5 0 1.5-.5 4.5 .5 1.5 4 6 .5 1.5 0 1.5-1 1-1.5 .5-1.5 0-3-1-3-2-1.5-1.5-1-1.5-1-4.5-.5-1.5-6.5-7.5-1-3-.5-4.5-6-9-.5-3 0-4.5-1-3-3-4.5-1-3 0-7.5-3.5-7.5-1-3 0-1.5 1.5-6-1-3-2-4.5-1-3 0-3 3-6-.5-3-2.5-6 0-3zM862 781l2-1 1.5-.5 1.5 .5 15 8.5 6 6 6 4.5 5.5 6 6.5 5 4.5 5 6 5 4.5 5 5.5 4 5 5.5 4.5 3.5 4.5 5.5 4.5 3.5 3 5 4.5 5.5 0 3-2 3-2.5 1.5-1.5 .5-4.5 .5-1.5-.5-4.5-2-6-2-2-1-4-3.5-6-3-4.5-4.5-6-4.5-3.5-4-7-6-3.5-4.5-6.5-6-3.5-4.5-6-6-4.5-7.5-5-6-1.5-3-2-6-2.5-6-.5-3zM548 788.5l1-.5 1.5 .5 2.5 3 1.5 3 0 1.5-1 2-1.5-.5-1.5-1-1.5-2-1.5-3 0-1.5zM705 802l1.5-1 1.5 0 1.5 0 3 2 2.5 3.5 1 3 .5 4.5 .5 1.5 5.5 9 1 3 .5 4.5 .5 1.5 4.5 6.5 1 2.5 1 6 .5 1.5 5.5 7.5 2 7.5 5.5 7.5 1 6 1 1.5 4.5 6 .5 1.5 .5 4.5 .5 1.5 3.5 4.5 1 1.5 0 1.5-.5 1.5-2 1.5-1.5 .5-3-.5-3-1.5-3-2-1.5-2-1.5-3.5-1-1.5-6.5-6-1-1.5-1-4.5-1-1.5-4.5-5-1.5-2.5-1.5-6-4.5-6.5-1-2.5-1-6-.5-1.5-4.5-7.5-.5-1.5-.5-6 0-1.5-4-7.5-.5-3 .5-4.5 0-3-2.5-6-1-3 .5-2.5zM811.5 802l1.5-.5 1.5 .5 10.5 6.5 3 3 3.5 5.5 7 7 3 5 7 7.5 4 6 5.5 5.5 3.5 5 6 6 4 6 5 4.5 4 6 4 4.5 2 6 2.5 4.5 0 1.5-1 1-3 1.5-3 0-4.5-2.5-9-3.5-4.5-4.5-7.5-5-3.5-5-5.5-4.5-4-6-5-4.5-4.5-7-6-6.5-3-6.5-4.5-5.5-1.5-3-2.5-6-4-6-1-4.5 0-10.5zM758.5 811l2-1 3 1 4.5 3 2.5 3 3 7.5 6.5 7.5 3 7.5 5.5 7.5 2.5 6 6 7.5 3 6 5 6 3.5 7 4.5 5 1 1.5 1.5 4.5 1 1.5 4 4.5 .5 1.5 0 1.5-.5 2.5-1.5 2.5-1.5 .5-4.5-.5-4.5-2-3-1.5-3.5-4.5-7.5-6-3.5-6-5.5-6-3-6-5.5-6.5-1.5-2.5-1-4.5-5.5-7.5-2.5-7.5-4-6-1.5-3-1-7.5-3-6-1-3 0-3 1.5-3zM587.5 826l.5-.5 1.5 1 4 5.5 1 3 0 1.5-.5 1-1.5 .5-1.5-.5-1.5-1-1.5-1.5-2-3-1-3 .5-1.5 1-1z"/>
<path fill="#00a4ff" d="M806.5 277l2-.5 2 .5-4 3-2.5 6-1.5 1.5-7 4.5-6 6-9 6-5.5 6-8.5 6-6 6.5-9 7-5.5 7.5-9 7.5-4 6-2.5 3-8.5 7.5-1 1.5-3 6-2.5 2.5-3 2.5-3 1.5-1.5 .5-1.5-.5-.5-2 0-3 2-3 5.5-6 3.5-9 8.5-9 4.5-7.5 8.5-7.5 5.5-7.5 9.5-7.5 5-6 9-6 6.5-6.5 10-5.5 5-4.5 4.5-2 9-3 2-1zM739.5 283l1.5 0 1.5 1 0 2-.5 1.5-1.5 1.5-7 6-2.5 4.5-2.5 3-7.5 6-1 1.5-3.5 6-9.5 9-4.5 7.5-8.5 9-3 6-1.5 3-8 9-1 1.5-2 6-1.5 3-7 7.5-2 3-1 6-1 3-1 1.5-2 2.5-3 2.5-1.5 .5-1.5-.5-1-2 .5-3 1.5-3 5.5-7.5 .5-1.5 0-6 1-3 7-9 1.5-3 1.5-6 2-3 6.5-7.5 2.5-6 2-3 7.5-7.5 4.5-7.5 2.5-3 7-6 3-4.5 2.5-3 10-7.5 3-4.5 2-1.5 5-3zM868 287.5l2-.5 3 .5 2.5 1.5-1 1.5-4.5 3-4.5 5-7.5 3.5-6.5 5-8.5 4-6 4.5-9 4.5-6 5-10.5 6-6 5.5-9 5.5-7.5 7-9.5 6-5.5 6-2 1.5-4 2.5-4.5 1.5-1.5 0-1.5-1-.5-3 1.5-3 7.5-7.5 5-7.5 9-7 6-6.5 9-6 6-5.5 8.5-5 6.5-5 9-4.5 7.5-5 9-3.5 7.5-4 10.5-2.5zM678 298l3-1.5 1.5 0 1.5 1.5 0 1.5-2 3-6.5 6-1 1.5-1.5 6-2.5 3-5.5 6-2 3-2 6-8.5 10.5-3 9-8 10.5-.5 1.5-1 6-1 3-6.5 9-2 3 0 7.5-1 3-4 6-3 3.5-1.5 1-1.5-1-1-2-.5-1.5 .5-3 1-3 6-9 .5-1.5 0-6 .5-3 1.5-3 4.5-6 1.5-3 1-6 1-3 2-3 6-7.5 2.5-7.5 .5-1.5 9-10.5 2-6 1-1.5 3-3 6.5-6 1-1.5 2-4.5 1-1.5 2.5-2.5zM923 313l5.5-1.5 3 .5 3.5 1 2 1.5 0 1.5-1.5 1.5-4 2-5 4-7 2.5-7 3.5-8 2.5-7 3.5-8 2.5-7.5 4-9 3.5-7.5 4.5-9 3.5-7.5 5-9 4-9 6-12 4.5-6 3-2 0 0-1.5 2.5-3 4-7.5 1-1.5 8.5-6 6.5-6 8-4.5 7.5-5.5 9-4 7.5-5 7.5-2.5 7.5-4 9-3 6.5-3 10-2.5 6-2.5zM627 320.5l1.5-.5 1.5 0 .5 2-.5 1.5-4.5 5-3 3-1.5 1-1-3 .5-3 2.5-3zM618.5 335.5l1-1 1.5 0 .5 4-.5 3-3 4.5-4 4.5-1.5 3 0 6-1 3-2.5 4-5 6.5-.5 1.5-.5 1.5 .5 4.5-.5 3-3 5.5-5.5 8 0 1.5 1 3.5 .5 2.5-1 4.5-2.5 4.5-3 4-1.5 1.5-1.5 0-1.5-2.5-.5-1.5 .5-3 1.5-4.5 6-9 0-1.5-1.5-4.5 0-3 2-4.5 6-9 .5-1.5-.5-4.5 .5-3 2-4 5.5-6.5 1.5-3 .5-6 1-3 3.5-4.5zM964.5 350.5l6-1 16.5 .5 2 .5 2.5 1.5 1.5 1.5 .5 1.5-.5 1.5-4.5 2-3 2.5-3 1.5-6 1-7.5 2.5-7.5 1.5-6 2-9 1.5-7.5 2.5-9 2-6 2-10.5 3-7 3-9.5 2.5-7.5 3.5-10.5 2.5-8.5 3.5-5 .5-1.5-.5-2-1.5-.5-1.5 .5-1.5 1.5-1.5 6.5-5 4-4 2.5-1.5 7-3.5 9-5 7.5-3 7.5-3.5 9-2.5 7.5-3 7.5-1.5 7.5-2.5 9-1.5 6-1.5zM580.5 352l1.5-.5 .5 .5 0 1.5-.5 1.5-3 4.5-1.5 1-1.5 .5-.5-1.5 1-3 1-2zM572.5 371.5l2-1 1.5 1 0 3-3 6-3 3.5-1.5 1-1.5-.5-.5-1 0-3 2-4.5zM566.5 392.5l.5-.5 1.5 .5 1 1.5 0 1.5-.5 3-2 4.5-3 4.5-1.5 1-1.5 .5-1.5-2.5 0-3.5 3-6 3-4zM990 398.5l9 0 7.5-.5 7.5 .5 7.5 0 15 3.5 1.5 1 1.5 1.5 1 1.5 .5 1.5-1 1.5-8 5-7.5 1-6 1-7.5 .5-6 1-9 .5-6 1-9 .5-7.5 1.5-7.5 .5-7.5 1.5-10.5 1.5-7.5 2-10.5 1-7.5 1.5-4.5 0-5-.5-3-1.5-.5-1.5 .5-3 2.5-3 2.5-1.5 7.5-3.5 4.5-2.5 3-1 7.5-2.5 7.5-2.5 9-1.5 6-2 9-1 6.5-1.5 8.5-.5zM535 413.5l2-1 .5 1 0 3-2 4.5-1.5 1.5-1.5 .5-1-2 .5-1.5 1-3zM618.5 413.5l1-.5 1.5 .5 1 3-.5 3-1 3-2.5 3.5-1.5 1-1.5 .5-1.5-1-.5-1 0-3 2-4.5 3-4zM560.5 416.5l.5-.5 1.5 .5 1 1.5 .5 1.5-.5 3-1 3.5-3 5.5-1.5 1.5-1.5 .5-1.5-1-.5-1-.5-1.5 .5-3 2-5 3-4.5zM586 425.5l.5-.5 1.5 0 1.5 2.5 .5 2.5-.5 3-1.5 3.5-3 4.5-1.5 1.5-1.5-.5-1.5-1.5-.5-1.5 0-3 2-4.5 3-5zM531 437.5l1.5-1 1.5 0 1 2.5-.5 1.5-.5 3-1.5 3-1.5 2.5-1.5 1-1.5-1-.5-2.5 0-1.5 2-5zM555.5 443.5l1-1 1.5 0 1.5 1 .5 1.5 0 3-1.5 4.5-2 4.5-1.5 1.5-1.5 .5-1.5-1-.5-1-.5-1.5 .5-3 2-6zM582 454l1.5-1 1.5 1 .5 1.5 0 3-.5 2.5-1.5 3-1.5 1.5-1.5 1-1.5-1-.5-1 0-3 .5-3 1.5-3zM986.5 455.5l17-1 9 0 6 0 15 .5 7.5 1.5 6 .5 9 2 4.5 .5 3 1.5 10.5 6 1.5 2 0 1.5-2 3-4 3-1.5 .5-6 .5-6 1-49.5-2-7.5 0-9 0-7.5 0-9 0-9 .5-16.5-2.5-2.5-1-1-1.5-.5-1.5 1-1.5 9-6 3-1.5 15-4zM529.5 463l1.5-1 1.5 1 .5 1.5 0 3-.5 2.5-1.5 4-1.5 2-1.5 1-1.5-1-.5-2.5 0-1.5 1-4.5 1-2.5zM554.5 470.5l.5-.5 1.5 0 .5 .5 1 1.5 .5 3-.5 3-1.5 4-1.5 2-1.5 1-1.5-.5-.5-.5-1-1.5 0-3 1.5-5.5 1.5-3zM506.5 488.5l.5-1 .5 1-.5 3 0 .5-1.5 0 0-2zM530.5 490l2 .5 .5 1 .5 1.5 0 3-1 4.5-1.5 3-1.5 1-1.5-.5-.5-.5-1-1.5 0-3 1.5-6 1.5-2.5zM556.5 499l1.5 .5 .5 1 .5 1.5 0 3-1.5 4.5-1 1.5-1.5 .5-1.5-1-1-2.5 0-1.5 1.5-4.5 1-2zM509 514l1-.5 .5 .5 .5 1.5 0 1.5-1 5-1.5 1.5-1.5-2 0-3 1-3 .5-1zM1002 515.5l18 .5 15 1.5 13.5 2 12 3 13.5 3.5 13.5 6 3.5 3 2.5 3 1 3 0 1.5-.5 1.5-2 3-1.5 1-1.5 .5-10.5 .5-6-1-6-.5-34.5-6-39-6-16.5-4-2.5-1-2-1.5-1.5-1.5-.5-1.5 0-1.5 .5-1.5 1-1.5 2.5-1.5 14.5-3.5zM532 520l2-1.5 1.5 .5 1.5 2.5 0 1.5 0 3-1.5 5-1.5 1.5-1.5 0-1.5-1-1-4 1-4.5zM513 542.5l1.5-1 1.5 .5 1 3.5 0 3-1 3-1.5 2-1.5-.5-1.5-3 0-3zM539.5 548.5l2 0 1.5 2.5 .5 2-.5 4.5-1.5 3-1.5 .5-1.5-.5-1-1.5-.5-3 .5-4.5 1-2zM521.5 571l.5-.5 1.5 0 1.5 1.5 .5 2 .5 3-.5 3-.5 2-1.5 1.5-1.5-.5-1.5-1.5-.5-1.5 0-3 0-3 .5-1.5zM987 580l3-.5 13.5 0 16.5 2 15 3 12 3 13.5 4 12 4.5 6 3 4.5 2 11.5 7.5 1.5 1.5 1.5 3 .5 3-.5 3-2 3-2 1-10.5 1-4.5-1.5-6-.5-6-2-6-1.5-19.5-6.5-36-10.5-16-6.5-4.5-3-3-3-1-1.5-.5-1.5 .5-1.5 1-1.5 2-1.5zM549.5 581.5l1-1 1.5 2 0 2.5-1.5 2-1.5-1.5 0-2.5zM508 598l.5-1 1 2.5 0 1.5-1 1.5-1-3zM533 601l1-1 1.5 0 1.5 1 1.5 3 0 3-.5 3-1 2-1.5 .5-2-1-1.5-3 0-4.5zM521 623.5l1-.5 1.5 .5 1.5 2.5 .5 2 0 4.5-.5 1.5-1.5 1.5-1.5-.5-1-1-1-3-.5-4.5 .5-1.5zM550 631l.5-.5 1.5 0 1.5 2 .5 1.5 0 3-.5 1-1.5 1-1.5-.5-1.5-3 0-3zM979 643l5-.5 3 0 15 3 13.5 4 13.5 5 24 10 12 6.5 10.5 7 7.5 9 .5 2.5-.5 3.5-1.5 1.5-1.5 1-9 2-12-2.5-4.5-2-7.5-2.5-36-16-6-3.5-8.5-4-13.5-7.5-3.5-3-5.5-6-1.5-3 .5-1.5 1.5-1.5zM511 650.5l.5-1 1.5 0 1.5 2.5 0 1.5-.5 1.5-1 1-1.5-1.5zM538.5 652l1.5-.5 1.5 0 1.5 1.5 1 2 .5 3 0 3-.5 1.5-1 1.5-1.5 0-1.5-.5-1.5-2.5-1-4.5 0-3zM531 674.5l1.5 0 1.5 1 2 3.5 .5 3-.5 3-.5 1.5-1.5 .5-1.5 0-1.5-1.5-1.5-4-.5-4 .5-1.5zM561.5 680.5l1-.5 1.5 0 1.5 1.5 1 2 .5 3.5-.5 1-1 1.5-1.5 0-1.5-1-1-2-.5-3 0-2zM524.5 698.5l.5-.5 2 .5 1 1 1.5 3 .5 3.5 0 1.5-.5 1-1.5 1-1.5-1-1-1-1.5-3-.5-3 0-1.5zM554.5 701.5l2-.5 1.5 0 1.5 1.5 1.5 3 1 5-1 2-1.5 1.5-1.5 0-1.5-1-1.5-2.5-1.5-3 0-3 0-1.5zM951.5 701.5l5.5-.5 7.5 .5 15 5.5 7.5 4 6 2.5 6 3.5 7.5 4 4.5 2.5 6.5 3.5 5.5 3.5 6 3.5 4.5 3.5 5 3 4 4 4.5 3.5 2 3 1 3 .5 3-1 3-1.5 1.5-3 1.5-2.5 1-3 0-4.5-1.5-6.5-1-4-2-6-2.5-6-3.5-6-3-4.5-3-6-3-6-4.5-6-3-6-4.5-6.5-4-5.5-5-7.5-5.5-4-4.5-4.5-7.5-.5-1.5 0-1.5zM521.5 724l.5-1 1.5 1 1 3-.5 1.5-.5 .5-2-2zM549.5 724l1-1 1.5 0 1.5 .5 2 2 1.5 3 .5 3 0 3-1 1.5-1.5 .5-1.5 0-1.5-1.5-1.5-2-1-3-.5-3 0-1.5zM583.5 727l1.5-1.5 1.5 0 1.5 1 1.5 1.5 1 2 .5 3 0 1.5-1.5 2-1.5 0-1.5-.5-1.5-1.5-1.5-4.5zM548.5 745l2 0 1.5 1.5 1.5 2 1 2.5 1 3 0 1.5-.5 1.5-1.5 1-1.5 0-1.5-1-1.5-1.5-1.5-3-1-4.5 1-2.5zM581 746.5l1-.5 1.5-.5 1.5 .5 1.5 1.5 1.5 2 1 3 1 3-.5 2-1.5 2-1.5 .5-1.5 0-1.5-1-1.5-2-1.5-3-.5-3 0-3zM913.5 751l1.5-1 3 0 7.5 1 4.5 2 4.5 3 9 5 4.5 3.5 7.5 4.5 4.5 4 7.5 4.5 4.5 4 6 4 4.5 4 5.5 3.5 3.5 4 6.5 5 2.5 4 4 5 .5 3-1.5 3-3 2.5-3 1-1.5 0-4.5-1.5-6-1.5-2-.5-4-2.5-6-3-5-3.5-5.5-3-4.5-4-6-4-4.5-4.5-7.5-5.5-4.5-4.5-6-4.5-4.5-5.5-6-6-2.5-3.5-2.5-6-1-3zM617.5 766l2-1 1.5 .5 2.5 2 1.5 3 1 3 0 1.5-.5 1.5-1.5 1.5-1.5 1-1.5 0-1.5-1.5-3-5-.5-3.5 0-1.5zM547.5 767.5l1.5 0 1.5 .5 1.5 2 1.5 3.5 .5 1.5-.5 2-1.5 1-1.5-1-2-2-1-1.5-1-3 0-1.5zM579.5 767.5l2.5-1 1.5 0 1.5 1 3 4.5 1 3 .5 3-1.5 2.5-1.5 1-1.5 .5-1.5-1-3-4-1.5-3.5-.5-3 0-1.5zM659 782.5l1-1 1.5 0 1.5 1 1 3 0 1.5-1 1-1.5 0-1.5-1.5-1-2.5zM618.5 784l1-.5 1.5-.5 1.5 1 3 4.5 2 4.5 .5 3-1 2.5-1.5 2-.5 1.5 1 3 3.5 6 1 3-.5 3-1.5 3 0 1.5 .5 1.5 3.5 6 1.5 3 0 3-2 4.5 0 1.5 4.5 6 1 3 0 1.5-.5 1.5-1 1-1.5 0-1.5 0-3-2.5-3.5-4.5-1-3 2-4.5-1.5-3-4-6-1.5-3 .5-3 1.5-3 .5-1.5-5-9-.5-3 .5-2.5 2.5-3.5 0-1.5-4-8-1-4 1-2.5zM582 787l1.5-.5 1.5 1 3 4 1.5 3 .5 3 0 1.5-.5 1.5-1.5 1-1.5 .5-1.5-.5-3-3.5-2-3.5-1-3 0-1.5 1.5-2.5zM869 787l1-.5 3 .5 4.5 1 3 1.5 6 5.5 7.5 5.5 4.5 5 7 5.5 4 4.5 5.5 4.5 4.5 5 6 4.5 4.5 5.5 6 4.5 3 4.5 5 4.5 .5 1.5 2 6 1.5 3-.5 1.5-1.5 1.5-2.5 .5-13.5-3-5-3.5-6-3-4.5-4.5-6.5-4.5-4-4.5-5.5-4.5-4.5-5.5-6-5-4-6-6-6-3.5-6-4.5-6-2-3-.5-3 0-4.5 0-1.5zM659.5 797.5l2-1.5 1.5 0 1.5 1 3 3 2 3.5 1 3-1.5 6 1 3 4.5 7.5 .5 3-.5 4.5 0 1.5 5.5 9 0 3 0 4.5 .5 1.5 4 6 1 2.5 .5 2-.5 4.5 .5 1.5 4 5.5 1 2 0 1.5-.5 1.5-2 3-1.5 0-1.5-.5-4.5-3.5-3-3-1-2 0-4.5-.5-1.5-6-9-.5-3 0-4.5-.5-1.5-4-6-1-3 0-1.5 1-4.5-.5-1.5-4-7.5-1-3 0-1.5 2-4.5 0-1.5-1-3-2.5-4.5-1-3 .5-3zM706 805l2-1 1.5 0 1.5 1 1.5 1.5 1 1.5 .5 1.5-.5 4.5 .5 1.5 7.5 9 1 3 0 4.5 .5 1.5 6 9 1 6 .5 1.5 5.5 7.5 1.5 7.5 5.5 7.5 .5 1.5 .5 4.5 1 1.5 4.5 6 .5 3-.5 4.5 1 1.5 2.5 3 .5 1.5-1 1.5-2.5 0-1.5 0-2-1.5-1-1.5-1-3-1.5-1.5-6.5-4.5-1.5-1.5-1-1.5-1-4.5-1-1.5-5.5-6-1-3-1-4.5-5.5-7.5-1-3 0-4.5-1-1.5-4-6-1-3 0-6-.5-1.5-3.5-6-1-3 .5-3 1.5-4.5 0-1.5-.5-1.5-2-3.5-1-2.5 0-1.5zM583 808l2-.5 1.5 .5 3 3.5 2 4 0 1.5-.5 2-1.5 .5-1.5 0-1.5-1-2.5-3-2-3 0-1.5 0-1.5zM815.5 809.5l.5-.5 1.5-.5 1.5 0 3 .5 3 2 1.5 1.5 4 6 7 6 3.5 6 6.5 6 3.5 6 6.5 6 3.5 6 5 4.5 4 6 6 6 2 4.5 4 4.5 1 1.5 0 3-.5 1.5-1 1.5-2.5 1-3 0-3 0-3-1.5-4.5-4-7.5-4.5-3.5-4.5-5.5-4.5-1.5-1.5-3-4.5-6-6-3.5-6-5.5-6-3-6-6-8-2-7-4-6-1-3 0-3 1-2zM761.5 814l3.5 .5 3 2.5 3.5 7.5 7 7.5 3 7.5 6 7.5 2.5 6 .5 1.5 5.5 6 2.5 6 5.5 6.5 1 1 2 6 5.5 6 1.5 6 3.5 4.5 .5 1.5 0 1.5-1.5 1.5-3.5 .5-3-.5-1.5-.5-1.5-1-2-3-1.5-1.5-7-4.5-1.5-1.5-2-4.5-6.5-6-3.5-7.5-5.5-6-2-6-1-1.5-4.5-6-1.5-3-.5-4.5-4.5-6.5-1-2.5-.5-7.5-1-3-2-3-1-3 0-1.5 1-1.5 1.5-1zM588 830.5l1.5 0 1.5 1 1 2-1 1-1.5-1-1.5-1.5zM634.5 862l1.5-.5 1.5 1 2 2.5-.5 1.5-1.5 0-2-1.5-1-1.5zM688 884.5l.5-.5 1.5 0 1.5 1 2 2.5-.5 1.5-2 0-2.5-1.5-1-1.5z"/>
<path fill="#0080ff" d="M796.5 283l3 0 1.5 .5 1 1-.5 1.5-1.5 1.5-6.5 4-3.5 5-2 1.5-8 5.5-6 6.5-9 6-5 6-9.5 7.5-6 7.5-9 7.5-5 8-3 2.5-8.5 6-1 1.5-1 4.5-2.5 3-3.5 2-1.5 .5-1.5-1 0-1.5 1.5-2.5 6.5-6.5 1-6 1-3 9-9 4-7.5 8.5-7.5 5.5-7.5 9.5-7.5 5-6 9.5-6 6-6 9.5-5 2-1 3-3 2-1.5zM735.5 286l2.5-.5 1.5 .5 0 1.5-1 1.5-6 4.5-1.5 1.5-1.5 4.5-1 1.5-1.5 1.5-7 6-1.5 1.5-3 6-8.5 7.5-2.5 3-1 3-2 3-9 9-2.5 6-1.5 3-8.5 9-1 1.5-1.5 6-2.5 4-3 3-3 2.5-1.5 .5-1.5-.5-1-2 0-1.5 1-3 2-3 5.5-6 1-1.5 .5-4.5 1-3 2-3 7-7.5 2-6 2-3 7.5-7.5 1.5-1.5 3-6 2.5-3 7.5-6 4.5-7 3-2.5 7-4 2-1.5 2.5-4.5 2-1.5zM852.5 293.5l5.5-1 4.5 0 1.5 0 1 1 .5 1.5-.5 1.5-1 1.5-7.5 3.5-6 5-9 4.5-4.5 3.5-10.5 5.5-6 5-9 5-6 5.5-10.5 6.5-5.5 5.5-2 1.5-10 6-4 4.5-2.5 2-3 1.5-3 .5-1.5 0-.5-1-.5-1.5 1-1.5 7.5-7.5 3-6 1.5-1.5 8-6 5-6 1.5-1.5 8-5 6-5.5 10-6 5.5-4.5 10-5 6-4 10.5-4zM679 299.5l2 0 0 1.5-1 1.5-2 1.5-3 2-1.5-.5 0-1.5 1-1.5 2-2zM670 311.5l.5-.5 1.5 1 0 2.5-.5 1.5-2 3-7.5 7.5-1 4.5-1 3-2 3-7 7.5-1 1.5-.5 4.5-1 3-2 3-7 7.5-.5 1.5 0 6-2 4.5-5.5 6.5-1.5 1.5-1.5 .5-1.5-3 0-2.5 .5-1.5 2.5-4.5 5-6 1-1.5 .5-1.5-.5-4.5 1-3 2-3 6.5-7.5 .5-1.5 1-4.5 1-3 3-3.5 7-7 1.5-6 2-3 4.5-4zM911 316l2.5-1 3 0 7.5 .5 3 1 1 1-.5 1.5-.5 1.5-1.5 2-7.5 2.5-6 3.5-9 3-6 3.5-9 3-6.5 3.5-10 4-6 3.5-10.5 4.5-6.5 4.5-10.5 4.5-7 4.5-3 1.5-4.5 1-3 0-2-1 0-1.5 0-1.5 2-3 7.5-5.5 6-6 9-5 6-4.5 9.5-4.5 7-4.5 9-3.5 7.5-4 9-2.5 6-3 10-2zM625.5 323.5l1.5-.5 .5 .5-.5 1.5-1.5 1.5-1.5 1-1-1 .5-1.5zM617.5 338.5l.5-.5 1.5 0 .5 .5 0 1.5-1 3-2.5 3.5-3 3-1.5 .5-1.5-.5-.5-2 1-3 2.5-3zM958 352l6.5 0 6-1 4.5 0 4 1 4.5 1.5 1.5 1.5 0 1.5-1.5 3-2 1.5-6.5 1.5-6 2.5-7.5 1.5-6 2-9 1.5-7.5 2.5-9 2-7.5 3-9 2-7.5 3-10.5 3-7.5 3.5-13.5 2.5-4.5 1-2.5 0-.5-1.5 9-10.5 9-4.5 7-4.5 9.5-3.5 6-3 9-2.5 7.5-3 9-2 7.5-2.5 7.5-1 6-1.5zM607 358l2-1.5 1.5 .5 .5 2.5-.5 3-4.5 6.5-3 2.5-1.5 .5-1-2-.5-1.5 1-3 2-3zM573 373l1.5 .5 0 1 0 1.5-3 4.5-1.5 1.5-1.5 0-.5-1.5 .5-2.5 1.5-2.5zM599 379l1-1 1.5 .5 1 2-.5 3-1 3-2.5 3.5-3 3-1.5 1-1.5-1.5-.5-1.5 .5-3 3-5.5zM663 385l1.5 0 .5 1.5-.5 3-3 3-1.5 1-1.5 0-.5-1 .5-3 1.5-2zM627 389.5l1.5 .5 1 2.5 0 1.5-1 3-1.5 2.5-3 3.5-1.5 1-1.5 0-1.5-1.5 0-2.5 .5-1.5 2.5-4.5 3-3.5zM565 395.5l2-1 1.5 1 0 1.5-1 3-2 3.5-1.5 2-1.5 1-1.5-.5-.5-1.5 .5-3 1.5-3zM986.5 400l5-1 9 .5 6-.5 9 1 6 0 5 1.5 5 3 1.5 1.5 .5 1.5-.5 1.5-.5 1.5-2 1.5-6 1-6 2-7.5 .5-7.5 1.5-7.5 0-6 1-9 .5-7.5 1.5-9 1-7.5 1.5-9 1-9 2-9 .5-9 1.5-4.5-1-2-1-1-1.5 0-1.5 1.5-2 7.5-4 4.5-3 2.5-1.5 8-2 6-2.5 10.5-2.5 7.5-2 7.5-.5 7.5-2zM591 403l1.5-1 1.5 .5 .5 .5 .5 3-1 3-1.5 3-3 3.5-1.5 1-1.5-.5-1-2.5 .5-3 2-4zM619 416.5l.5 0 1 1.5-1 3.5-1.5 2-1.5 1-1.5 0-.5-2 .5-1.5 1.5-2.5 1.5-1.5zM559.5 419.5l1.5-1 1.5 .5 .5 2-.5 3-1.5 3.5-1.5 2-1.5 1.5-1.5 .5-1-1.5-.5-1.5 .5-1.5 1-3.5zM585.5 428.5l1-1 1.5 .5 .5 2 0 3-2 4.5-1.5 1.5-1.5 1-1.5 0-1-2.5 .5-3 2-4zM532 439l.5-.5 .5 .5 .5 1.5-.5 3-2 3-1.5 1-.5-1 0-1.5 .5-3 1.5-2.5zM556 445l.5-.5 1.5 0 .5 .5 .5 1.5 0 3-1 2.5-1.5 3-1.5 1.5-1.5 .5-1-1.5-.5-1.5 0-1.5 1.5-4 1.5-2.5zM1001 455.5l4-.5 7.5 .5 7.5 0 7.5 .5 6 0 7.5 1.5 7.5 1 7.5 2.5 4.5 .5 3 1.5 2 1.5 3 3 .5 1.5 .5 3-1.5 2-1.5 1-4.5 .5-4.5 1-3 .5-6-.5-6 .5-7.5-.5-6 0-7.5-1-7.5 .5-7.5-.5-7.5 0-9 0-7.5 .5-9-1-9 .5-7.5-2-3.5-1.5-1.5-1.5 0-1.5 2-3 1.5-1.5 3-2 7.5-2 7.5-2 9-1 6-1.5zM581.5 457l.5-.5 1.5 0 .5 2 0 1.5-2 3-1.5 .5-.5-2 0-1.5 .5-1.5zM530.5 464.5l.5 0 1 1.5 0 3-1 3-1 1.5-.5 .5-1.5 1-1-1.5 0-3 1-3.5 1.5-2zM555 472l1.5 0 .5 1.5 .5 3-1 3-1 1.5-.5 1-1.5 1-1.5-.5-.5-1.5 0-3 2-4.5zM529.5 493l1.5-1 1.5 1 0 1.5 0 3-.5 1.5-1 2.5-1.5 1-1.5-.5-.5-3 .5-3zM556 502l.5-.5 .5 .5 1 1.5 0 1.5-1.5 3.5-1.5 .5-.5-1-.5-1.5 0-1.5 1-2zM998.5 517l6.5-.5 13.5 .5 9 1 6 .5 15 2 6 2 7.5 1 7.5 3 4.5 1 12 6 1.5 1.5 2.5 3 .5 3 0 1.5-.5 1.5-1 1-9 2-1.5 .5-6-1-6 0-7.5-1.5-6-.5-7.5-2-6-.5-7.5-1.5-6-1-9-1.5-7.5-1-7.5-1.5-7.5-1-16.5-5-2.5-2-1-1.5 0-1.5 1-1.5 10.5-4.5 4-1zM532.5 521.5l1.5-1 1.5 1 .5 3-.5 3-.5 1.5-1 1.5-1.5 .5-1-2-.5-1.5 .5-3zM514.5 544l1 1.5 .5 1.5-.5 1.5-1 2.5-1.5-1 0-1.5 0-2.5zM539 551.5l1-1 1.5 .5 .5 2 .5 1.5-1 3-1.5 1.5-1.5-1.5-.5-1.5 .5-3zM523.5 572.5l1 1.5 .5 3 0 1.5-1.5 2.5-1.5 0-1-2.5 0-1.5 0-1.5 1-3zM993.5 581.5l11.5-1 15 2 13.5 2.5 7.5 2.5 6 1 7.5 2.5 6 2 6 2.5 6 2 12 6 9 9.5 .5 3-.5 1.5-2 1.5-7 3-1.5 0-4.5-1-6-.5-6-2-6-1-6-2-7.5-2-6-2.5-21-6-7.5-3-7.5-2-15-6.5-2-1.5-2.5-3-.5-3 .5-1.5 1.5-1.5 3-1.5zM534 602.5l0-.5 1.5 0 1.5 2 .5 4.5-.5 1-1.5 1-1.5-.5-1-3 0-3zM521 626.5l1-1.5 1.5 1 .5 .5 .5 3 0 1.5-1 2-1.5 0-1-2-.5-3zM984 644.5l3 0 13.5 1.5 15 4.5 6 2.5 7.5 2.5 6 2.5 6 2.5 6 3 6 2.5 6 3.5 6 3 4.5 4 4.5 3 2 2.5 1.5 4.5 0 3-.5 1.5-3 2.5-3 1.5-12-1.5-4.5-2-6-1.5-6-3-6-2-6-3.5-6-2-6-3.5-7.5-3-6-3.5-7.5-3-7.5-5-6-3.5-2-1.5-3-4.5-.5-3 .5-1.5 1.5-1.5zM539.5 653.5l.5-.5 1.5 .5 1.5 3 .5 3-.5 1.5-1.5 1-1.5-.5-1.5-3.5 0-3zM530.5 677.5l.5-1 1.5 0 1.5 1 .5 1.5 1 3-.5 1.5-1 2-1.5-.5-1.5-2-.5-2.5zM525 701.5l1.5-1 1.5 2 .5 2-.5 2-1.5-.5-1.5-3zM555.5 703l1-.5 1.5 .5 1.5 2 1 4 0 1.5-1 1.5-1.5 0-1.5-1-1-2-1-3 0-1.5zM957.5 704.5l4-1 3 0 7.5 3 7.5 2 6 3 7.5 3 6 4 7.5 3.5 4.5 3 6 3 6 4 4.5 2.5 6 5 4.5 2.5 1.5 1.5 3 4 3.5 3.5 .5 1.5 .5 3-1.5 3-1.5 1.5-3 1.5-4.5-1-7.5-.5-4.5-2.5-6.5-2-4.5-3-6.5-3-5-3.5-6-3-6-4-6-3.5-6-4.5-6-3.5-6-5.5-6.5-5.5-2.5-3-1.5-4.5 0-1.5 .5-1.5zM550.5 725.5l1.5-1 1.5 .5 1.5 2 1.5 4.5 0 1.5-1.5 1.5-1.5 0-1.5-1.5-1-1.5-1-3zM586 728.5l.5-.5 .5 .5 1.5 1.5 .5 1.5 0 1.5-1 1-1.5-1-1-1.5-.5-1.5zM548 748l1-1 1.5 0 1.5 1.5 1.5 2.5 .5 1.5 0 1.5-.5 1.5-1.5 .5-1.5-1-1-1-1.5-3zM582 748l1.5-.5 1.5 .5 1.5 1.5 1.5 2.5 .5 3.5-.5 1.5-1.5 1-1.5 0-1.5-1.5-1.5-2.5-1-3 0-1.5zM920.5 754l3.5-.5 4 .5 6.5 4 7.5 3.5 6 4.5 7.5 4.5 4.5 3.5 6 4 4.5 4 7.5 5 3 3 6.5 4.5 4 4.5 4 3 1.5 1.5 3 9 .5 1.5-1 1.5-2 .5-7.5 0-4.5 0-4.5-3-7.5-3-4.5-3.5-6-3-4.5-4-6-4-4.5-4.5-6-4-4.5-4.5-7-6-5-6.5-5.5-5.5-1.5-3-.5-3 .5-3zM619.5 767.5l1.5 .5 1.5 1 1.5 2.5 .5 2-.5 1-1.5 1.5-1.5-.5-1.5-1-1.5-2.5-.5-3 .5-.5zM580.5 769l1.5-.5 1.5 0 1.5 1 1.5 2 1.5 3.5 0 1.5 0 1.5-1.5 1.5-1.5 0-1.5-.5-2-2.5-1-2-.5-2.5 0-1.5zM549 770.5l1.5 .5 1.5 2.5-1.5 1-1.5-2zM617.5 787l2-1 1.5 0 1.5 1 1.5 1.5 1.5 2 1 2.5 0 1.5 0 1.5-1 1.5-1.5 1-1.5 0-1.5-1-1.5-2-1.5-2.5-1-3 0-1.5zM581 790l1-1 1.5 0 1.5 .5 1.5 2 1.5 2 1 2.5 0 1.5-1 2-1.5 0-1.5-.5-1.5-1-1.5-2-1.5-3 0-1.5zM874.5 790l1.5 0 3 1 1.5 1 4.5 4 7.5 5 5.5 5.5 6.5 5 4.5 5 6 5 4 4.5 6 4.5 3.5 4.5 6 5 3 5.5 4.5 4.5 .5 1.5 0 3-1 1.5-1 1-3 1.5-4.5 0-2.5-1-3.5-2.5-6-2.5-1.5-1-4.5-4-6-4-4.5-5-6-5-3.5-4.5-5.5-4.5-1.5-1.5-3-5-5.5-5.5-2-3-2-4.5-4.5-6-1-3 .5-3 1-2 1.5-.5zM661 799l2 0 1.5 .5 1.5 1 2 3 .5 3-1 2.5-1.5 1.5-1.5 0-1.5-1.5-3-4-1-3 .5-1.5zM621 805l1.5-.5 1.5 1 3 3 1.5 2.5 1 3-.5 1.5-.5 1.5-1.5 1-1.5 .5-1.5-.5-3-3.5-1.5-2.5-1-2.5 0-1.5 1-2zM584 811l1-1 1.5 .5 1.5 1.5 1.5 2 .5 1.5-.5 1.5-1.5 .5-2.5-2-1.5-3zM817 812.5l2-1 1.5 0 3 1 1.5 1.5 3 4.5 8 6 1 1.5 3 5 6 5.5 1.5 2 3 5 6 5.5 3 5.5 6 5.5 4 6.5 5 4.5 .5 1.5 1 4.5 4 4.5 0 1.5-1 2-3 1-3 0-6-4.5-7-3-1.5-1.5-2-3-1.5-1.5-6-4.5-4-6-5-4.5-3.5-6-6-6-1-1.5-2.5-6-5-6.5-1-2.5-1-6-3.5-6-.5-1 0-2zM663.5 815.5l1-1 1.5-.5 1.5 1 4.5 5 1.5 3 .5 3-1.5 4.5 0 1.5 4.5 6 1.5 3 .5 3-1 4.5 .5 1.5 5.5 7.5 .5 3-2 4.5 .5 1.5 5.5 6 .5 1.5 0 1.5-2 1-1.5 0-3-1-3-3-.5-1.5 0-1.5 1-3-.5-1.5-6-6-2-3-.5-1.5 1-4.5 0-1.5-.5-1.5-5-6-1-3 0-1.5 2-4.5-.5-1.5-4-6-1.5-3 0-3zM761.5 818.5l.5-.5 1.5-.5 2 1 .5 1.5 .5 3 1 1.5 6.5 5 3 3 1.5 2.5 1 4.5 1 1.5 6 6 2.5 7.5 5.5 6 3.5 7.5 5.5 6 2 6 5 6 .5 1.5 0 1.5-1.5 4.5-1 .5-3-.5-4.5-2-3-1.5-1-1-2-4.5-1.5-1.5-6-5-3-7-5.5-6-3-7.5-3.5-4.5-2-3-1-6-1-1.5-3.5-5-1-2.5-.5-3 1-4.5 0-3-2.5-3.5zM710.5 820l2-1 1.5 .5 3 1.5 3 3.5 1 3 0 4.5 0 1.5 6.5 8 1 2.5 0 4.5 .5 1.5 5.5 7.5 .5 1.5 1 6 6 7.5 .5 1.5 0 4.5 0 1.5 5 6 .5 1.5 0 1.5-1 1-1.5 1-1.5 0-3-1-4-2.5-1-1.5-1-4.5-1-1.5-6-6-1.5-3-.5-4.5-1-1.5-5-6.5-.5-2.5 0-4.5-.5-1.5-4.5-6-1.5-3 .5-6 0-1.5-4-6-1-3 .5-3zM623 824.5l1-.5 1.5-.5 1.5 .5 3 3 1.5 2.5 1 2.5 .5 1.5-1.5 2-1.5 1-1.5-.5-1.5-1-3-3-1.5-3-.5-1.5 0-1.5zM628 844l.5-.5 1.5-.5 1.5 .5 1.5 1.5 2.5 3.5 .5 1.5-1 1.5-2 0-1.5-.5-2.5-2.5-1-1.5-.5-1.5z"/>
<path fill="#0058ff" d="M793 286l3.5-1 1.5 1-1.5 1.5-4.5 1.5-.5 0 0-1.5zM784 292l5-1.5 .5 1.5-.5 3-1 1.5-1.5 1.5-8 5-4.5 5.5-1.5 1.5-7.5 5-2.5 2.5-3.5 4.5-10 7.5-3.5 5.5-2 2-10 7.5-1 1.5-2 4.5-2.5 3-3.5 2.5-3 1-1.5 0-1-.5-.5-1.5 0-1.5 1.5-2.5 7.5-6.5 1-1.5 1.5-4.5 2-3 9-7.5 3.5-6 1.5-1.5 8.5-6 1.5-1.5 3-4.5 2-1.5 9.5-6 5-5 4-2.5zM853 295l3.5-1 3 0 2 1 .5 1.5-2 1.5-5 2.5-1.5 1-3 4-9 4-6 5-9 4.5-7.5 6-8.5 4.5-6.5 6-10.5 6-4.5 5-3 2.5-9 4-1.5 0-1.5-.5 .5-5 2.5-3 8-6 4.5-6 2.5-2 7.5-4.5 5.5-5.5 9.5-5 6.5-5.5 10-4.5 6-4 12-4zM723 298l3-1 1.5 .5 .5 2-1 1.5-2.5 2.5-7 5-1 1.5-1.5 4.5-1 1.5-10 9-1.5 4.5-2 3-10 9-1.5 6-2 3.5-4.5 4-3 2.5-1.5 .5-1.5-1.5 0-3 .5-1.5 2.5-3.5 7-7 1-1.5 .5-4.5 2-3 8.5-7.5 1-1.5 1.5-4.5 2-3 10-7.5 2-4.5 2.5-3zM667 314.5l2-.5 1 .5 0 1.5-.5 1.5-2 2-3 2.5-1.5 1-1.5 0-.5-1 0-1.5 .5-1.5 3-3zM912 317.5l3-1 4.5 0 3 1 1.5 1.5 0 1.5-2 1.5-5.5 2-5.5 4-8 2.5-6 3.5-9 3-7.5 4-9 3.5-7.5 4.5-9 3.5-7.5 5-12 4.5-6 4.5-3 1-3 0-1.5-1-.5-1 0-1.5 1.5-1.5 6.5-4.5 5-6 10-6 5.5-4.5 9.5-4 6-4 10-4 6.5-3.5 9-2.5 6-3 12-2zM657.5 329.5l1 0 1 1.5 0 1.5-1 2.5-4.5 5-3 2-1.5 .5-1-1-.5-1.5 1-3 3.5-4 3-2.5zM615.5 341.5l1-.5 1.5 0 0 .5 0 1.5-1.5 2-3 2-1.5-1 1.5-3zM644.5 349l2-1.5 1.5 .5 .5 2.5-1 3-4 5-3 2.5-1.5 .5-1-.5-.5-1.5 .5-3 2.5-3.5zM954 353.5l4.5-.5 7.5 0 7.5-.5 4 1 2.5 1.5 1 1.5 0 1.5-1.5 1.5-6 1.5-5 3-8.5 1.5-6 2.5-9 1.5-6 2.5-10.5 2-6 2.5-10.5 2.5-6.5 3-10 2.5-9 3.5-3 .5-4.5 0-2-.5-1.5-1.5 .5-3 1-1.5 1.5-1.5 8-4 6-4 9-3.5 6.5-3.5 10-2.5 6-3 9-1.5 6-2 10.5-1.5zM768 358l3-1.5 .5 1.5-.5 .5-1 1-2 1-1.5-1zM607.5 359.5l1.5-.5 .5 .5 0 1.5 0 1.5-2 3-1.5 2-1.5 1-1.5 1-1.5-1 0-1.5 .5-1.5 2.5-3.5zM673 364l2-1.5 1.5 1.5 0 1.5-1 3-2 2.5-3 2.5-1.5 1-1.5-.5-.5-1-.5-1.5 1-1.5 2-3zM634 370l2-1 1.5 .5 .5 2-.5 1.5-1.5 3-1.5 2-3 3-1.5 .5-1.5-1 0-3 1.5-3zM597.5 382l1-1 1.5-.5 1 1.5-.5 3-1.5 3-2 2-1.5 1.5-1.5 0-.5-2 .5-3zM627 392.5l1 1.5-.5 1.5-.5 2-3 3.5-1.5 1-1.5-.5 0-1.5 0-1.5 1.5-2.5 3-3zM565.5 397l.5 0 1 1.5-.5 1.5-1 2-1.5 1.5-1.5 .5-.5-1 .5-2.5 1.5-2.5zM1006 400l3.5 0 7.5 2 4.5 0 3 .5 3 2 1 1.5 1 1.5 0 1.5-2 1.5-4.5 1-4 2-2 .5-7.5 .5-6 1.5-7.5 0-7.5 1.5-7.5 0-7.5 1.5-9 1-7.5 1.5-9 1-7.5 1.5-12 .5-7.5 .5-2.5-1-.5-1.5 1-1.5 3.5-2 6.5-5.5 10-3 7-3 8-1.5 7.5-2 9-1 6-1.5 9-.5 6-1 9 .5zM592 404.5l1 0 .5 1.5-.5 3-2 3.5-1.5 1.5-1.5 .5-1-1-.5-1.5 .5-1.5 2.5-4.5 1.5-1zM560 421l1-.5 .5 .5 0 1.5 0 1.5-2 3.5-1.5 1.5-1.5-.5 0-2 1.5-3.5zM584.5 431.5l.5-.5 1.5-1 1 1.5-.5 1.5-.5 2-1.5 2-1.5 1-.5-.5-.5-1.5 1-3zM555 448l1.5-1.5 1.5 1.5 0 1.5-1.5 3-1.5 2-1.5-.5 0-1.5 0-1.5zM989 457l8.5 0 7.5-1 7.5 .5 7.5-.5 7.5 1 6 0 9 2 4.5 .5 3 .5 7.5 3.5 4.5 1.5 1.5 1 1.5 1.5 .5 1.5 .5 1.5-1 1-4.5 1.5-4.5 2.5-7.5-.5-6 1-7.5-1-6 .5-9-1-6 .5-9-.5-6 .5-9-1-7.5 .5-10.5-1-7.5 0-5-1.5-2-1.5-1-1.5 0-1.5 .5-1.5 3-2 6-1.5 7.5-3 9-1zM529 469l.5-1.5 1 1.5-1 2.5-1-1zM554.5 475l.5-.5 .5 .5 .5 1.5-1 3-1.5 1-.5-1 0-1.5 .5-2zM529.5 496l0-.5 1.5-1 .5 1.5-.5 2.5-1.5 1.5-.5-1zM997 518.5l8-1 7.5 .5 7.5 0 7.5 1 7.5 .5 7.5 1.5 6 .5 7.5 2.5 6 1 7.5 3 6 2 3 2 5 4.5 1 1.5 1 1.5-.5 1.5-1.5 1.5-5 3-6-.5-6 0-7.5-1-6-.5-7.5-2-6-.5-7.5-1.5-6-.5-9-2-6-.5-9-2.5-7.5-1-3.5-1-6-3-2-1.5-1-1.5 0-1.5 1-1.5 4-3 3-1zM533 524.5l1-1 .5 1 0 1.5-.5 1.5-1.5-.5 0-1.5zM998.5 583l6.5-1 15 1.5 7.5 1.5 6 1 7.5 2.5 6 1 7.5 3 6 1.5 6 3 6 2 6 4 5.5 2.5 2.5 3 1.5 3 0 3-.5 1.5-1 1.5-1.5 1.5-2 .5-4.5-.5-6 0-1.5 0-4.5-1.5-6-1-6-2.5-7.5-1.5-6-2.5-6-1.5-7.5-2.5-7.5-2-7.5-3-6-2-3-1-10.5-6-2.5-1.5-1-1.5-.5-1.5 .5-1.5 .5-.5 1.5-1zM984 647.5l3-1 15 1.5 6 2 7.5 1.5 6 2.5 7.5 2.5 6 3 6 2 6 3 6 2.5 4.5 3.5 6 3 1.5 1 4.5 5 3.5 2.5 1 1.5 .5 3-.5 3-1.5 1.5-1.5 1-4.5-.5-6 .5-1.5-.5-4.5-1.5-6-1.5-6-3-6-2-6-3-6-2-6-3.5-7.5-3-6-3.5-7.5-3.5-13.5-10-1.5-2.5 0-2 0-1.5zM556.5 706l1.5 0 .5 1.5-.5 1.5-1.5-1.5zM962.5 706l3 0 5 2 9 2 6 3 7.5 3 6 3.5 6.5 3 5.5 4 6 2.5 4.5 3.5 6 3.5 4.5 4 4.5 3 1.5 1.5 3.5 8 .5 1.5-.5 1.5-3 1.5-5 1-3 .5-6-2.5-6-2-4.5-2.5-6-2.5-6-4.5-6-2.5-4.5-3.5-7.5-4-4.5-4-7.5-5-6-6-5-4.5-2-3 0-3 1-1.5zM551.5 728.5l.5-1 1.5 0 1.5 2.5 0 1.5-1.5 .5-1.5-2zM582.5 751l1-1 1.5 .5 .5 .5 1 1.5 .5 1.5-.5 1.5-1.5 0-1.5-1.5-.5-1.5zM922.5 757l1.5-1 3 0 6 3.5 9 3.5 4.5 3.5 7.5 4 6 5 6 3.5 4.5 4.5 6 3.5 4.5 4.5 6 4.5 3 4 4.5 4 1 2.5 0 1.5-1 3-1.5 1.5-1.5 1-3 .5-1.5 0-4.5-2.5-7.5-2-4.5-3.5-6-3-4.5-4-7-4.5-4.5-4.5-6.5-4.5-4.5-5-7-5.5-3.5-6-5-6-1-3 .5-1.5zM582 770.5l1.5 0 1.5 1.5 1.5 3 0 1.5-1.5 1-1.5-1-1.5-1.5-.5-3zM619 788.5l.5-.5 1.5 0 1.5 1 1.5 1.5 1 2.5 0 1.5-1 1.5-1.5 0-1.5-1-1.5-1.5-1-3.5zM583 791.5l.5-.5 1.5 1 1.5 1.5 .5 2.5-.5 1.5-1.5-.5-1.5-1.5-1-2.5zM875.5 793l2 0 1.5 1 4 3.5 6.5 3 2.5 1.5 5 5.5 6 4 4.5 5.5 7.5 6 3.5 4.5 6 4.5 3 4.5 5.5 4.5 1 1.5 2 5 3.5 4 0 1.5-1 1.5-2.5 1.5-2.5 0-3.5-2.5-9-2.5-4.5-4.5-6-3.5-4.5-5-6-4.5-4.5-5.5-6-5-3.5-6-6-6-1-1.5-2-6-4-7 .5-2 1-1zM661.5 802l1.5-.5 1.5 .5 1.5 1.5 .5 1.5-.5 1.5-1.5 .5-1.5-1-1.5-2.5zM620.5 808l.5-.5 1.5-.5 1.5 .5 1.5 1.5 1.5 1.5 .5 2 .5 1.5-1 1.5-1.5 .5-1.5-.5-1.5-1-2-3.5-.5-1.5zM663.5 818.5l1-1 1.5 0 1.5 .5 3 2.5 1.5 2.5 .5 1.5-.5 2-1.5 1.5-1.5 0-1.5-.5-3-3-1.5-3 0-1.5zM823.5 821.5l0-.5 1.5-.5 1.5 .5 4.5 2 2.5 1.5 2 1.5 3.5 6 7 6 3 6 6.5 6 3.5 6 5.5 4.5 1 1.5 2 4.5 4.5 4.5 1 1.5 .5 1.5-.5 2.5-1.5 2.5-1.5 .5-3-.5-3-.5-3-1.5-3.5-4.5-7-4.5-3.5-6-5.5-4.5-1.5-1.5-2-4.5-1-1.5-4.5-4-1.5-2-2-6-6-7.5-.5-3zM711 823l1.5-1 1.5 0 2.5 1 1.5 1.5 1 1.5 0 1.5-.5 2-1.5 2-1.5 0-4-4-1-1.5 0-1.5zM623.5 827.5l.5-.5 1.5-1 1.5 .5 1.5 1 2 3 .5 1.5-.5 1.5-.5 .5-1.5 0-3-2-1.5-2.5zM766.5 830.5l1.5-1 3 0 3 2 2 2 .5 1.5 1 4.5 1 1.5 6.5 6 1 2 1.5 5.5 1 1.5 5 4.5 1.5 3 1 4.5 6 6 .5 1.5 .5 4.5 .5 1.5 5 4.5 .5 1.5-.5 1.5-1.5 1.5-3 .5-1.5-.5-3-1.5-1-1.5-1-3-1-1.5-7.5-5.5-1.5-2-.5-3-.5-1.5-6.5-6-.5-1.5-1.5-6-5.5-6-1-1.5-1-7.5-4-5.5-1-2-.5-1.5zM668.5 835l2-.5 1.5 .5 3 2.5 1.5 2 1 3-.5 1.5-.5 1-1.5 1.5-1.5-.5-1.5-1-4-4-1-3 .5-2zM717 835l1.5-.5 3 2 3 3 2 3 .5 1.5-.5 4.5 0 1.5 7 7.5 .5 3 0 4.5 .5 1.5 5 4.5 1.5 3-.5 1.5-1 2.5-1.5 1-1.5 0-3-1.5-4-3.5-1-1.5-.5-1.5 0-4.5-.5-1.5-6-6-1-3 1-4.5-.5-1.5-5.5-6-1-3 .5-3zM673.5 853l1.5-1.5 1.5 0 3 2 3 4 .5 1.5-.5 1.5-1.5 1-1.5 0-3-1.5-2.5-2.5-1-1.5 0-1.5zM682 871l.5-.5 1.5 .5 2 1.5-.5 1.5-1.5 0-1.5-1zM739 883l.5-.5 1.5 0 1.5 1 2.5 2.5 .5 1.5-1.5 1-1.5 0-2.5-1-1.5-1.5-.5-1.5z"/>
<path fill="#0030ff" d="M779 295l2.5-1 3-.5 1.5 .5 .5 1 0 1.5-2 1.5-8.5 4.5-2 4.5-1.5 2-10.5 6.5-3 5-1 1.5-9.5 6-1.5 1.5-2 4.5-2.5 3-3 2-4.5 2.5-1.5 .5-1.5 0-.5-2 0-1.5 1.5-3 2-1.5 8-6 2.5-5.5 1.5-2 9.5-6 1.5-1.5 2.5-4.5 1.5-1.5 11.5-6 3-4.5zM723 299.5l1.5 0 .5 1.5-1 1.5-2.5 1.5-3 1-1-1 .5-1.5 1.5-1.5zM840.5 301l7-1 2.5 1 0 1.5-.5 1.5-1.5 1.5-8 3.5-6 5.5-9 4-1.5 1-3.5 4-2.5 1.5-9 4.5-6 6-10.5 5.5-4 5-2 1.5-3 1.5-3 1-1.5 0-1.5-.5-.5-2 .5-1.5 1.5-1.5 7.5-5 1.5-1.5 2-4 1.5-1.5 9.5-6 6-6 9.5-5 4.5-4 2-1.5 10-4 4.5-3.5zM708.5 313l4-1.5 1.5 1.5 0 1.5-1 1.5-2 2-6 4-1.5 .5-.5-.5-1-1.5 1-3 2-2zM665.5 317.5l.5-.5 1 .5-1 1.5-1.5 .5-.5-.5zM902.5 320.5l9.5 0 1.5 1.5-1.5 3-1.5 1.5-3 1.5-6 2-7 4-8 2.5-6 3.5-10.5 4-6 4-10.5 4-7.5 5-3 1-6 1.5-3 .5-1.5-.5 1-4.5 2.5-3 8.5-4.5 5-4.5 2.5-1.5 9-4 6-4 9-3 7-4 9.5-2.5 6-2.5zM696.5 328l2.5-1 1.5 0 .5 2.5-.5 1.5-2.5 3-3.5 3-3 1.5-1.5-.5-.5-1 0-1.5 .5-1.5 2.5-3zM655 332.5l2-.5 .5 .5 0 1.5-.5 1.5-3 3-3 1-1-1 .5-1.5 2-3zM684 346l1.5-1 1.5 0 .5 1 0 1.5-.5 1.5-1.5 2.5-3 2.5-1.5 .5-2 .5-1-1 0-2 2-3zM726.5 347.5l2.5-1 .5 1 0 1.5-.5 1.5-3 3-3 1-1.5 0-1-1 .5-1.5 2-2zM642.5 352l2.5-1.5 1.5 0 .5 1.5-.5 1.5-1.5 2-3 3-1.5 .5-1.5-1 0-1.5 1.5-2.5zM953.5 355l3.5-1 3 0 10.5 1.5 3 0 2 1-2 .5-5 5.5-1 .5-9 2-4.5 2-9 1.5-7.5 3-9 1.5-7 3-9.5 2-7.5 3.5-12 2-6 3-4.5 0-1.5 0-2-1.5 0-1.5 1-1.5 7-3.5 6.5-5.5 10-3.5 6-3.5 9-2 6-3 10.5-2 6-2 9-1zM605.5 362.5l2-.5 0 .5-1.5 3-1.5 1-.5-1 .5-1.5zM671.5 367l2-.5 .5 .5 0 1.5-1.5 1.5-2 1.5-1.5 0 0-1.5zM632.5 373l2-1.5 1.5 .5 0 1-1 3-2 2-1.5 1-1.5 0-.5-1.5 .5-1.5zM598 383.5l.5-.5 .5 .5 0 1.5-.5 1.5-1.5 2-1.5 .5-.5-1 .5-1.5 1.5-2.5zM989.5 401.5l3.5-.5 9 .5 7.5 0 9 3 2.5 1.5 .5 1.5-.5 1.5-2.5 2.5-1.5 1-1.5 0-6 .5-6 2-9 0-6 1.5-7.5 0-7.5 2-9 .5-7.5 1.5-10.5 1-7.5 1.5-4.5 0-4.5-1-2.5-1-.5-1.5 1.5-3 1.5-1.5 2.5-1.5 6.5-2 7.5-3 9-1.5 7.5-2.5 7.5-.5 7.5-2 7.5 0zM590.5 407.5l.5-.5 .5 .5 0 1.5-.5 1-1.5 1.5-.5-1 .5-2zM1004.5 457l9.5 .5 6-.5 7.5 1 6 .5 9 2 6 .5 4 2 4 3 1.5 1.5 .5 1.5-.5 1.5-2 2.5-1.5 .5-6 0-7.5 1-6-.5-6 .5-7.5-1-7.5 .5-9-.5-6 .5-10.5-1-7.5 .5-10.5-2-6 0-2.5-1-1.5-1.5 0-1.5 1.5-1.5 5.5-2 4-2.5 3.5-1 7.5-1 7.5-1.5 9 0zM997.5 520l7.5-1.5 9 .5 6 0 9 1 6 .5 7.5 1.5 6 .5 7.5 2.5 6 1 7.5 4 6 2 2 1.5 2 3 .5 3 0 1.5-1.5 2-1.5 .5-4.5-.5-6 1-7.5-1.5-6-.5-7.5-1.5-6-.5-7.5-2-6 0-9-2.5-7.5-.5-9-2.5-7.5-1.5-3.5-2-2-1.5-.5-1.5 0-1.5 .5-1.5 1.5-1.5 2.5-1zM1001 584.5l4-1 7.5 1 7.5 0 7.5 2 6 .5 7.5 2.5 6 1 6 2.5 7 2 6.5 3 6 2.5 6 5 4.5 2.5 1.5 2 .5 1.5 0 3-2 2-4.5 0-4.5 1-3-.5-4.5-1-7.5-1.5-4.5-1.5-7.5-2-6-2-6-1.5-7.5-3-7.5-1.5-6-3-9-3-3-2-3.5-3-1.5-1.5-.5-1.5 .5-1.5 1.5-1.5zM999 649l3 .5 6 2 7.5 1 6 3 7.5 2 6 3 6 2 6 3.5 6 2.5 4.5 3.5 6.5 4 2.5 3 2 4.5 .5 1.5-.5 1.5-3.5 2-4.5 1.5-6-2-6-1-6-3-6-1.5-4.5-2.5-7.5-3-6-3.5-7.5-3-6-3.5-7.5-4-5.5-5-4-4.5-.5-1.5 2.5-1.5zM963.5 710.5l1-.5 1.5 0 12 1 7.5 3.5 7.5 2.5 4.5 3.5 7.5 3 4.5 3.5 6.5 3 5.5 4.5 6 3 4.5 5.5 3.5 2 1 1.5 1 3-.5 3-1 1.5-2 1.5-2 .5-1.5 0-4.5-2-6-1-6-3.5-6-2-4.5-3.5-7.5-3.5-4.5-3.5-7.5-4-4.5-4-7.5-5-8-10.5-1-1.5zM927 761.5l1.5 0 7.5 1 4.5 1 6 5 7.5 3.5 5 4.5 5.5 3 6 5.5 6 3.5 3 4 1.5 1 4.5 3 1.5 2.5 1.5 3.5 3.5 4 .5 1.5-.5 1.5-2 1.5-1.5 .5-4.5-2-7.5-1-1.5-1-3-2.5-7.5-3.5-4.5-4.5-6-3-4.5-5-6-3.5-5-6-5.5-4-1.5-2-4.5-10.5zM880.5 802l1.5-1 1.5 0 3 .5 3 1 2 1 4 5 7.5 5 4 5 6.5 4.5 3 4.5 1.5 1.5 4.5 3 1.5 1.5 3 5 5 4 .5 3 0 1.5-1 2-1.5 1-3 .5-3 0-1.5-1-4.5-4-6-3-2-1.5-2.5-3.5-6-4-1.5-1.5-3-4.5-6-5-4.5-7-4.5-4.5-1-1.5-1-3 0-3zM622.5 811l0-.5 1.5-.5 1 1 .5 2-1.5 0zM665.5 820l2 0 1.5 1 1 2 0 1.5-1 1-1.5-.5-1.5-1-1-2.5zM827 824.5l2.5 0 3.5 1.5 1.5 1.5 2.5 5.5 7.5 5.5 1.5 2.5 1 3 1.5 1.5 5.5 4.5 1 1.5 2 4.5 1.5 1.5 4 3 1.5 1.5 1.5 6 1 1.5 4 3 .5 1.5-1 1.5-1.5 1-1.5 .5-3-.5-1.5-1-2-3-1-1-7.5-4-1.5-2-1.5-3.5-1.5-1.5-6-4.5-2.5-6-6.5-6-.5-1.5-1.5-6-5.5-6-.5-1.5 .5-3zM769.5 832l1.5 0 1.5 .5 1.5 1.5 .5 2.5-.5 2-1.5 .5-1.5-.5-2.5-2-1-1.5 0-1.5zM669 838l1.5-1 1.5 0 1.5 1 1.5 1.5 .5 1.5 0 1.5-.5 .5-1.5 .5-1.5-.5-2.5-2-.5-1.5zM716.5 839.5l2-1.5 1.5 0 3 2 2 2.5 0 1.5-.5 2-1.5 1-1.5 0-3-2-2-2.5-.5-1.5zM775.5 842.5l3 1 3 2 3 3 .5 1.5 0 4.5 1 1.5 6 5 1.5 2.5 0 4.5 1 1.5 5 4 1.5 2 0 1.5-1.5 3-1.5 .5-3-.5-3-1.5-1.5-1-1-2-.5-4.5-1.5-1.5-6-5-1-2.5-.5-4.5-.5-1.5-5.5-4.5-1.5-3 .5-1.5 1-3.5zM676 854.5l2 .5 1.5 1 1 1.5-.5 1.5-2 0-2-1.5-1-1.5zM723 854.5l1.5-1.5 1.5 0 1.5 1 3 2 1 1.5 1 1.5-.5 1.5-.5 1.5-1 1-1.5 0-1.5-.5-3-2-1.5-1.5-.5-1.5 0-1.5zM730.5 869.5l1.5-1 1.5 0 3 2 2 2 0 1.5-.5 1.5-1.5 .5-1.5 0-3.5-2-1-1.5-.5-1.5zM802.5 887.5l0-.5 1.5-.5 .5 1-.5 .5z"/>
<path fill="#0008ff" d="M780 296.5l1.5-.5 1.5 .5-3 1.5-.5 0zM840.5 302.5l2.5-.5 3 .5 .5 0 .5 1.5-2.5 1.5-7.5 2-3 5.5-2 1.5-8.5 3.5-1.5 1-4 4.5-2.5 1.5-8.5 3.5-1.5 1.5-2.5 4-2 1.5-7.5 2.5-1.5 .5-1.5-1 0-2 .5-1.5 1.5-1.5 2.5-1.5 7.5-4 1.5-1.5 2-3.5 2-1.5 9.5-4 1.5-1.5 3-3.5 3-1.5 10.5-2.5 1.5-1.5 1-2zM767.5 305.5l3.5-.5 1 .5 0 1.5-1 1.5-2 1.5-4 2-3 .5-1-1 0-1.5 1-1.5 2-1.5zM708.5 314.5l2.5-.5 .5 .5-.5 1.5-1.5 1.5-1.5 1-1.5 .5-1.5 0 0-1.5 1-1.5zM754 317.5l3.5-1 .5 1 0 1.5-.5 1.5-1.5 1.5-4.5 3-3 1-1.5-.5-.5-2 1-1.5 2.5-2.5zM900.5 322l2.5-.5 3 .5 3 1.5 .5 1.5-2 1.5-7.5 2-4.5 4-1.5 .5-9 3-6.5 4-10 3.5-6 4-10.5 3.5-1.5 1-3.5 3-2.5 1.5-4.5 1-1.5 0-2-1-.5-1.5 1-2 1.5-1 7.5-3.5 6-6 9-3.5 7-5 9.5-3 6-3.5 3-1 7.5-1zM697.5 329.5l.5 0 1 1.5-1 1.5-3.5 2.5-1.5 1-1.5-.5 0-1.5 1-1.5 2-1.5zM739 332.5l2-1 1.5 0 .5 1 0 1.5-1 1.5-2.5 2-3 1.5-1.5 .5-1.5-1 0-1.5 1-1.5 2-1.5zM784 343l2.5 0 0 1.5-1 1.5-2.5 1.5-1.5 .5-1.5-.5-.5-1.5 .5-.5 1.5-1.5zM682 349l2-1 1.5 1-1 1.5-2 1.5-1.5 .5-.5-.5 0-1.5zM642 355l1.5-1.5 0 1.5-1.5 .5zM954.5 356.5l4-1 3 .5 2.5 .5 2 1 1 2-.5 1.5-.5 .5-1.5 .5-6 1-6 3-9 1.5-6 3-10.5 2-6 2.5-10.5 2-7 3.5-3.5 .5-7.5 .5-3-.5-.5-.5 3-4.5 1-1.5 3-1.5 7-2 6.5-4 10-2.5 6-3 9-1.5 7.5-2.5 9-.5zM988.5 403l6-1 9 1.5 6-.5 4 1.5 2 1.5 1 1.5 .5 1.5-1.5 1.5-7.5 1-4.5 2-9 .5-7.5 1.5-7.5 0-7.5 2-9 .5-7.5 2-10.5 0-6 1.5-3 0-2.5-.5-2-1.5-1-1.5 .5-1.5 2-1.5 7.5-2 4.5-3 3-1 7.5-1 7.5-2.5 7.5-.5 7.5-2zM1002 458.5l3-.5 9 .5 6-.5 9 1.5 6 0 9 3 6 1 3 2.5 1 1.5 .5 2 0 1-1.5 1-4.5 0-7.5 2-7.5-1-6 1-7.5-1-7.5 .5-7.5-1-7.5 1-9-1-6 .5-3-.5-5-1.5-3.5-1.5-1.5-1.5 .5-1.5 1-1.5 1.5-1.5 2.5-1 9-1.5 6-1.5 7.5 0zM1004.5 520l2 0 7.5 .5 7.5-.5 6 1 7.5 .5 7.5 2 6 .5 7.5 2.5 6 1 1.5 .5 7.5 5 4.5 2 1.5 3-.5 1.5-1 .5-3 0-6 2-1.5 0-6-1-6 0-7.5-2-6 0-7.5-2-7.5-.5-7.5-2-7.5-.5-10.5-4-5-1-2.5-1.5-1-1.5 0-1.5 2-1.5 5-.5zM1003.5 586l1.5-.5 7.5 .5 7.5-.5 7.5 2 6 .5 7.5 3 6.5 1 5.5 2.5 7.5 2 6 3.5 6 2.5 2 1.5 2 3 1.5 3 0 1.5-1 1.5-2 1.5-2.5 1-6-1.5-6-.5-6-2-7.5-1.5-6-2.5-6-1-7.5-3-7.5-2-7.5-4-7.5-2.5-2-1.5-2-3 0-1.5 .5-1.5zM996 652l3-1 1.5 0 7.5 2 7.5 1 6 3 7.5 2 6 3 6 2 6 4 6 2.5 4.5 4 5 3 1.5 1.5 .5 1.5 0 3-.5 1.5-1 1.5-2.5 1-4.5-1.5-7.5-.5-4.5-2.5-7.5-2-4.5-2.5-7.5-2.5-6-4-6-2-7.5-5-5.5-2.5-2-1.5-2.5-3-1-3 .5-1.5zM972 713.5l3-1 3 0 6 3.5 7.5 2 6 4 7.5 3 4.5 3.5 6 2.5 4.5 4.5 6 3 1.5 1.5 3 5.5 1.5 1.5 1.5 1 1 1.5-.5 1.5-.5 1-1.5 1-3-1.5-7.5 .5-1.5-.5-4.5-3-6.5-2-5.5-4-6-2.5-6-5-6-2.5-6-6-4.5-2.5-2-1.5-2-3-.5-3 0-1.5zM933 766l1.5-1 1.5 0 3 0 1.5 .5 4.5 4 7.5 3 6 5.5 6 3 4.5 5 6 3.5 4.5 5.5 4.5 3 1.5 2.5-.5 3-.5 1.5-2 1.5-1.5 0-3 .5-1-.5-3.5-3-1.5-1-6-1.5-4.5-4.5-6.5-3.5-5.5-6-6-3.5-4.5-6-5.5-4-1-1.5-.5-3 0-1.5zM883 805l2-1.5 3 .5 2 1 2.5 3.5 1.5 1.5 7.5 4 4.5 6 6 3.5 1.5 2 1.5 3 1.5 1.5 5.5 3.5 1 1.5 1.5 4.5 1 1.5 3 1.5 1.5 1.5 0 1.5-1 1.5-2 1-1.5 .5-1.5-.5-3-4-6-2-2.5-1-3.5-4.5-7-4.5-4-6-6-4.5-1-1.5-2-4.5-1-2-5-4-.5-1.5 0-1.5zM828 827.5l1.5-.5 1 .5 1.5 1.5 0 1.5-1 1.5-1.5-.5-1.5-1-.5-1.5zM834.5 836.5l1-.5 3 .5 3 1.5 2 1.5 .5 1.5 1.5 4.5 1.5 1.5 5 3 1.5 1.5 1.5 6 1.5 1.5 5 3 1 1.5 0 1.5-1.5 2.5-1.5 .5-1.5 0-3-.5-1.5-1-1.5-1.5-1-4.5-2-1.5-4.5-2.5-1.5-1-.5-1-1-4.5-.5-1.5-5.5-3.5-2-2.5 0-3zM720 841l2 1.5-.5 1-1.5-.5-.5-.5zM775.5 847l1.5-1 1.5 0 3 1.5 1 2.5 0 1.5-1 1-1.5 .5-3.5-1.5-1.5-1.5 0-1.5zM726 856l1.5 0 2 1.5 .5 1.5-1 1-1.5 0-2-1-1-1.5zM784.5 859l3 .5 1.5 1 2 1.5 .5 1.5-.5 1.5-.5 1-1.5 1-1.5-.5-3-1-1.5-1.5-.5-2 .5-1.5zM792 874l1.5-1 3 .5 2 2-.5 1.5-1.5 1-3-1-1.5-1.5z"/>
<path fill="#0000ed" d="M764.5 308.5l3.5-1 .5 1-2 1-1.5 0zM824.5 311.5l5-1.5 1.5 .5 1.5 1-1 1.5-2 1-4.5 1-1.5 0-.5-.5 0-1.5zM751 320.5l2-1 1.5 0 1 1-1.5 1.5-1 .5-1.5 .5-1.5 0-.5-1zM810.5 320.5l5.5-1.5 1.5 .5 .5 1-.5 1.5-1.5 1.5-1.5 .5-4.5 1.5-1.5 0-1-.5-.5-1.5 1-1.5zM885 328l3-.5 4.5 0 2 .5 .5 1.5-.5 1.5-2 1.5-9 2-1.5 1-3 3-1.5 .5-10.5 3-1.5 1-2.5 3-3 1.5-6.5 1-1.5 0-1.5-1 .5-1.5 .5-1.5 2-1.5 10.5-3.5 3.5-4 2.5-1 7.5-1.5 3-1.5 2-2zM797.5 331l3.5-.5 .5 .5 .5 1.5-1.5 1.5-2.5 1.5-3 .5-1.5-.5 0-1.5 1-1.5zM843 352l2 0 0 1.5-2 1.5-3 0-.5-1.5zM958.5 358l3 0 1.5 1.5-1.5 .5-3.5-.5zM940.5 359.5l3-1 3 0 7 1 1.5 1.5-2 3-2 1.5-9 1-4.5 2.5-3 1-7.5 1-7.5 3.5-10.5 1.5-6 3-3 .5-3 0-2-.5-1-1.5 .5-1.5 1.5-1.5 8.5-2.5 6-4 2.5-1 6.5-1 7.5-3.5 9-1zM977 404.5l2.5-.5 9 .5 6-1 5.5 1 8 3 1-1.5 2 0 1.5 1.5-1.5 .5-3-.5-1.5 1-3 3-1.5 1-9 0-6 2-9 0-6.5 2-10 .5-6 1.5-3 0-6.5-.5-4-.5-1.5-1 1.5-1 3-3.5 2.5-1.5 8-1 7.5-3 9-.5zM935.5 418l2-1 1.5 0 1 1-2.5 .5zM991 460l8 .5 7.5-1.5 7.5 1 6-.5 3 0 6 1.5 6 0 2 .5 3 1.5 4.5 3 1 1.5-.5 1.5-1.5 1.5-2.5 1-7.5-.5-6 1-7.5-1-7.5 1-7.5-1-9 .5-9-1.5-6 .5-1.5 0-3-1.5-2-1.5-.5-1.5 .5-1.5 2-1 7.5-1zM1005 521.5l3 0 6 .5 7.5-1 7.5 1.5 6 0 7.5 2.5 6 0 7.5 3 6 1.5 1.5 .5 4 3.5 1 3-.5 1.5-1 1.5-2 .5-6-1-6 .5-7.5-2-6 0-7.5-2-7.5 0-7.5-2.5-7.5-.5-3-1.5-4-2-1.5-1.5-1-1.5 .5-1.5 2-1.5zM1016.5 587.5l3.5-.5 7.5 2 6 .5 7.5 3 6 .5 6 3 7.5 2 6 4.5 4.5 1.5 1.5 1 1.5 2 .5 1.5 0 1.5-.5 1.5-1.5 1.5-1.5 0-4.5-1.5-6 .5-6-2-7.5-1.5-6-2.5-6-1-7.5-3-6-1.5-2.5-1-8-5-4.5-2-1-.5-.5-1.5 .5-1.5 1-.5 4.5 0zM1000 653.5l2 0 4.5 1.5 7.5 0 1.5 .5 6 3 6 1 7.5 4.5 6 1.5 4.5 3.5 6 2.5 1.5 1 4.5 6 1.5 2 1.5 .5 .5 1-.5 1-3-.5-6 1.5-3-.5-4.5-2.5-6-1-1.5-.5-4.5-3-7-2-6.5-4-6-2-7.5-6-6-3-1.5-3 .5-1.5zM976.5 715l1.5 0 4.5 2.5 1.5 .5 7.5 1.5 6 4.5 6 2 6 4.5 6 2.5 4.5 5 4.5 2 1.5 1.5 1 3.5-.5 1.5-.5 1-3 2-1.5 0-1.5-.5-3-2-1.5-1-6-1-4.5-4-7.5-3-4.5-4-6-2.5-2-1.5-4-5-6-4-1-1.5-.5-1.5 .5-1.5zM937.5 767.5l1.5 .5 3 3 1.5 1 6 1 3 1.5 3 4 1.5 1 6.5 3 4 5 6 3 1 1 2 4.5 1.5 2.5 3 1 1.5 1 0 1.5-1 1.5-2 .5-1.5 0-1.5-2.5-1.5-1-7.5-1-1.5-1-3.5-4-7-3-3-4.5-1.5-1-6.5-3.5-1-1.5-1.5-4-1.5-2-4.5-3-1-1.5 .5-1.5 .5-1zM893.5 814l2-.5 1.5 0 3 1.5 1.5 2 1 3 1 1.5 7 3 1.5 1.5 1.5 5.5 1.5 1 4.5 1.5 1 1 .5 1.5 0 1.5-1 1.5-2 1-1.5 0-3-1-1-1.5-.5-3-1.5-1.5-5-1.5-2.5-1.5-1-1.5-1.5-4.5-2-1.5-3.5-1.5-2-1.5-.5-1.5-.5-1.5 .5-2zM836.5 839.5l2-.5 1.5 .5 1.5 1.5 0 2-1.5 1-1.5 0-1.5-.5-1-1-.5-1.5zM844.5 851.5l1.5-1 1.5-.5 1.5 .5 1.5 1 1 1.5 0 1.5-1 1-1.5 .5-1.5 0-2.5-1.5-.5-1.5zM855.5 863.5l1-1 1.5 .5 1 .5-.5 1.5-2 0-.5 0z"/>
<path fill="#0000bf" d="M886.5 329.5l1.5-.5 3 .5 0 1.5-3 .5-1.5-.5-.5 0zM871 335.5l2-.5 3 0 1 .5 .5 1.5-2 1.5-1 .5-4.5 0-.5-.5-.5-1.5zM854.5 344.5l2-1 3-.5 1.5 1.5-1.5 1.5-3 .5-2-.5zM942 361l3-1 1.5 0 3 1 1 1.5-1.5 1.5-5 0-2-.5-.5-1zM926.5 364l3.5-1 4.5 .5 3.5 .5 0 1.5-1 1.5-2.5 1.5-3 .5-7.5 0-4.5 4-1.5 .5-3 0-3 0-1.5-.5-1-1.5 .5-1.5 2.5-1.5 2.5-.5 7.5 0zM898.5 376l1.5-.5 2 .5-1.5 1.5-.5 0-.5 0zM977.5 406l3.5-.5 9 1.5 4.5-2 1.5 0 3 1 2 1.5 .5 1.5-1 1.5-1.5 .5-6-1-3 1-3 2-1.5 .5-6-1-3 .5-4.5 2-1.5 .5-9-1-3 1-2 1-2.5 .5-4.5-.5-2-1.5-.5-1.5 1.5-1.5 1-.5 7.5 0 1.5-.5 3-2 3-1.5 9 .5zM991 461.5l2 0 7.5 .5 6-1.5 9 1 6-.5 3 .5 6 2 1.5 .5 3-1 1.5 .5 2.5 1 1.5 1.5 .5 1.5-.5 1.5-1 .5-6-1-1.5 0-4.5 2-1.5 0-7.5-1-6 1-9-1.5-7.5 1-8.5-2.5-2-1.5 1-1.5 2-1.5zM1018.5 523l3-.5 7.5 2 6-.5 9 3 4.5 0 1.5 0 7.5 4.5 1.5 .5 3 0 1.5 1 1.5 2 0 1.5-1.5 .5-4.5-1.5-6 2.5-1.5 0-6-2-6 0-7.5-2-3-.5-4.5 .5-9-3.5-6 0-1.5-.5-1.5-1-1.5-1.5-.5-1.5 .5-1.5 1.5-1 1.5 0 6 .5zM1020 589l7.5 2 6 0 7.5 3 7 1 6.5 3.5 5 1 2.5 1.5 1 1.5 2 3 .5 1.5-1 1.5-2.5 1.5-1.5 0-1.5 0-4.5-2.5-7.5-.5-6-3-6-.5-7.5-3.5-7.5-2-3.5-3-1-1.5-.5-1.5 1-1.5 1-.5zM1009.5 658l3-1 3 .5 4.5 2.5 1.5 .5 6 1 2 1 2.5 2 3 1.5 5 1 5.5 5 1.5 .5 3 .5 1.5 1 1.5 2 .5 1.5-.5 2-1.5 1.5-1.5 .5-1.5-.5-3-2-1.5-.5-6 0-6-4-6.5-1.5-5.5-4-3-1.5-3.5-.5-2.5-1.5-2.5-4.5-.5-1.5zM988 721l2 0 1.5 1 4.5 4 1.5 .5 4.5 .5 1.5 1 4.5 4.5 1.5 1 4.5 1 1.5 1.5 1 1.5 .5 3-.5 1.5-2.5 1-3 .5-1.5-1-3-3-1.5-1-6-1.5-1.5-1-3-3.5-1.5-1.5-6-1.5-2-2.5-.5-3 0-1.5zM1021.5 745l0-.5 1.5-.5 0 1.5zM946 776.5l2-1 1.5 0 1.5 .5 1 2 .5 1.5 0 2-1.5 .5-1.5 0-3-1-1-1.5 0-1.5zM955 784l2-1 1.5 0 1.5 0 2 1 1.5 1.5 .5 1.5 0 1.5-.5 1.5-2 1-1.5 0-3-1-1-1.5-.5-1.5zM967 793l.5-1 1.5-.5 1.5 0 1.5 1 .5 .5 .5 1.5-.5 1.5-2 1.5-2 0-1.5-1.5zM897 817l.5 1.5-.5 .5-1-.5zM907 826l.5 0 2 1.5-.5 1.5-1.5 .5-1.5 0-.5-.5-.5-1.5 1-1.5z"/>
<path fill="#000092" d="M929.5 365.5l3 0-1 1zM980 407.5l2.5 0 1.5 .5 2 1 0 1.5-2 1-3.5-1-1.5-1.5zM964 410.5l2-1 1.5 0 3.5 1 .5 1.5-1.5 1.5-3 0-3-1.5zM1005 463l1.5-.5 3 0 4.5 2 1.5 1.5-1 1.5-2 1-1.5 .5-1.5-.5-3-1-2.5-1.5 0-1.5zM1021 463l2 0 3.5 1.5 1 1.5 0 1.5-1.5 1-1.5 0-3-1-2.5-1.5 0-1.5zM991.5 464.5l1.5-1 1.5 0 3 1 1.5 1.5-1.5 1.5-1.5 .5-1.5 0-1-.5-2-1.5zM1021.5 524.5l1.5 0 6 3 3-.5 3-1 1.5 0 3 1.5 4.5 3 1.5 0 3-1.5 1.5 .5 2 1 1 1.5 .5 1.5-.5 1.5-1.5 .5-1.5-.5-4.5-3-1.5 0-3 1.5-1.5 .5-1.5 0-2-.5-4-2.5-1.5-.5-1.5 0-4.5 1.5-1.5-.5-2-1-2-1.5-1-1.5 .5-1.5 1.5-1zM1019.5 593.5l.5-1 1.5 0 1.5 1 .5 1.5-2 .5-1.5-.5zM1031 593.5l2.5-.5 1.5 .5 6 4 1.5 0 3-1 1.5 0 1.5 1 2.5 2 1.5 3-.5 1.5-3.5 1.5-1.5-.5-4.5-3.5-1.5-.5-1.5 0-4.5 .5-1.5-.5-2-1.5-3-3 0-1.5zM1058.5 602.5l1 0 1.5 1.5 0 1.5-.5 1.5-1.5-.5-1.5-1-.5-1.5zM1012.5 661l1.5-1 2 1 .5 1.5-.5 1.5-2 0-1.5-1.5zM1023.5 664l2.5-.5 2 .5 1.5 1.5 2 3-.5 1.5-3.5 1-1.5 0-1.5-1-2-3 0-1.5zM1035.5 670l2.5-1 1.5 .5 2 2 .5 1.5-.5 1.5-2 1.5-1.5-.5-1.5-1-1-1.5-.5-1.5zM1000 730l2 0 1 1.5 0 1.5-1 1.5-2 0-1.5-1.5 0-1.5z"/>
</g>
</g>
<g fill="none" stroke="#000" stroke-width="5.4">
<ellipse cx="777.8" cy="604.7" rx="40.35" ry="40.4" stroke-dasharray="18.23 7.73"/>
<ellipse cx="777.8" cy="604.7" rx="81.5" ry="82" stroke-dasharray="18.27 7.74"/>
<ellipse cx="777.8" cy="604.7" rx="125" ry="126" stroke-dasharray="18.49 7.84"/>
<ellipse cx="777.8" cy="604.7" rx="170.3" ry="171.6" stroke-dasharray="18.40 7.80"/>
<ellipse cx="777.8" cy="604.7" rx="218.95" ry="219.8" stroke-dasharray="18.28 7.75"/>
<ellipse cx="777.8" cy="604.7" rx="273.4" ry="275.4" stroke-dasharray="18.37 7.79"/>
<ellipse cx="777.8" cy="604.7" rx="334" ry="337" stroke-dasharray="18.40 7.80"/>
<ellipse cx="777.8" cy="604.7" rx="404.05" ry="407.4" stroke-dasharray="18.40 7.80"/>
<ellipse cx="777.8" cy="604.7" rx="487" ry="490.6" stroke-dasharray="18.43 7.81"/>
</g>
<circle cx="778.1" cy="605.1" r="3.3" fill="#fff" filter="url(#wd)"/>
</g>
<path d="M185.2 1194v11.6M185.2 1193.8h-11.6M332.48 1194v11.6M185.2 1046.53h-11.6M479.75 1194v11.6M185.2 899.25h-11.6M627.03 1194v11.6M185.2 751.98h-11.6M774.3 1194v11.6M185.2 604.7h-11.6M921.58 1194v11.6M185.2 457.43h-11.6M1068.85 1194v11.6M185.2 310.15h-11.6M1216.12 1194v11.6M185.2 162.88h-11.6M1363.4 1194v11.6M185.2 15.6h-11.6" stroke="#000" stroke-width="2.2" fill="none"/>
<rect x="185.2" y="15.4" width="1178.2" height="1178.6" fill="none" stroke="#000" stroke-width="2.2"/>
<g class="tk" text-anchor="middle">
<text transform="translate(185.2 1243) scale(1 .96)">−1.00</text>
<text transform="translate(332.48 1243) scale(1 .96)">−0.75</text>
<text transform="translate(479.75 1243) scale(1 .96)">−0.50</text>
<text transform="translate(627.03 1243) scale(1 .96)">−0.25</text>
<text transform="translate(774.3 1243) scale(1 .96)">0.00</text>
<text transform="translate(921.58 1243) scale(1 .96)">0.25</text>
<text transform="translate(1068.85 1243) scale(1 .96)">0.50</text>
<text transform="translate(1216.12 1243) scale(1 .96)">0.75</text>
<text transform="translate(1363.4 1243) scale(1 .96)">1.00</text>
</g>
<g class="tk" text-anchor="end">
<text transform="translate(160.9 1206.5) scale(1 .96)">−1.00</text>
<text transform="translate(160.9 1059.23) scale(1 .96)">−0.75</text>
<text transform="translate(160.9 911.95) scale(1 .96)">−0.50</text>
<text transform="translate(160.9 764.68) scale(1 .96)">−0.25</text>
<text transform="translate(160.9 617.4) scale(1 .96)">0.00</text>
<text transform="translate(160.9 470.13) scale(1 .96)">0.25</text>
<text transform="translate(160.9 322.85) scale(1 .96)">0.50</text>
<text transform="translate(160.9 175.57) scale(1 .96)">0.75</text>
<text transform="translate(160.9 28.3) scale(1 .96)">1.00</text>
</g>
<text class="lab" text-anchor="middle" transform="translate(774.3 1293.6) scale(.976 1)">(r-R)/a</text>
<text class="lab" text-anchor="middle" transform="translate(33.2 607.1) rotate(-90) scale(.97 1)">z/a</text>
<g shape-rendering="crispEdges">
<rect x="1414.6" y="1152.2" width="59.1" height="46.2" fill="#000092"/>
<rect x="1414.6" y="1106.6" width="59.1" height="46.2" fill="#0000bf"/>
<rect x="1414.6" y="1061" width="59.1" height="46.2" fill="#0000ed"/>
<rect x="1414.6" y="1015.4" width="59.1" height="46.2" fill="#0008ff"/>
<rect x="1414.6" y="969.8" width="59.1" height="46.2" fill="#0030ff"/>
<rect x="1414.6" y="924.2" width="59.1" height="46.2" fill="#0058ff"/>
<rect x="1414.6" y="878.6" width="59.1" height="46.2" fill="#0080ff"/>
<rect x="1414.6" y="833" width="59.1" height="46.2" fill="#00a4ff"/>
<rect x="1414.6" y="787.4" width="59.1" height="46.2" fill="#00ccff"/>
<rect x="1414.6" y="741.8" width="59.1" height="46.2" fill="#0cf4eb"/>
<rect x="1414.6" y="696.2" width="59.1" height="46.2" fill="#2cffca"/>
<rect x="1414.6" y="650.6" width="59.1" height="46.2" fill="#4dffaa"/>
<rect x="1414.6" y="605" width="59.1" height="46.2" fill="#6dff8a"/>
<rect x="1414.6" y="559.4" width="59.1" height="46.2" fill="#8aff6d"/>
<rect x="1414.6" y="513.8" width="59.1" height="46.2" fill="#aaff4d"/>
<rect x="1414.6" y="468.2" width="59.1" height="46.2" fill="#caff2c"/>
<rect x="1414.6" y="422.6" width="59.1" height="46.2" fill="#ebff0c"/>
<rect x="1414.6" y="377" width="59.1" height="46.2" fill="#ffde00"/>
<rect x="1414.6" y="331.4" width="59.1" height="46.2" fill="#ffb900"/>
<rect x="1414.6" y="285.8" width="59.1" height="46.2" fill="#ff9400"/>
<rect x="1414.6" y="240.2" width="59.1" height="46.2" fill="#ff7300"/>
<rect x="1414.6" y="194.6" width="59.1" height="46.2" fill="#ff4e00"/>
<rect x="1414.6" y="149" width="59.1" height="46.2" fill="#ff2900"/>
<rect x="1414.6" y="103.4" width="59.1" height="46.2" fill="#ed0400"/>
<rect x="1414.6" y="57.8" width="59.1" height="46.2" fill="#bf0000"/>
<rect x="1414.6" y="12.2" width="59.1" height="46.2" fill="#920000"/>
</g>
<rect x="1414.6" y="12.2" width="59.1" height="1185.6" fill="none" stroke="#000" stroke-width="2.5"/>
<g class="cb">
<text transform="translate(1497 1163.7) scale(1 .94)">−0.96</text>
<text transform="translate(1497 1026.9) scale(1 .94)">−0.72</text>
<text transform="translate(1497 890.1) scale(1 .94)">−0.48</text>
<text transform="translate(1497 753.3) scale(1 .94)">−0.24</text>
<text transform="translate(1497 616.5) scale(1 .94)">0.00</text>
<text transform="translate(1497 479.7) scale(1 .94)">0.24</text>
<text transform="translate(1497 342.9) scale(1 .94)">0.48</text>
<text transform="translate(1497 206.1) scale(1 .94)">0.72</text>
<text transform="translate(1497 69.3) scale(1 .94)">0.96</text>
</g>
<path d="M1473.7 1152.2h11.6M1473.7 1015.4h11.6M1473.7 878.6h11.6M1473.7 741.8h11.6M1473.7 605h11.6M1473.7 468.2h11.6M1473.7 331.4h11.6M1473.7 194.6h11.6M1473.7 57.8h11.6" stroke="#000" stroke-width="2.2" fill="none"/>
</svg>
</body>
</html>
